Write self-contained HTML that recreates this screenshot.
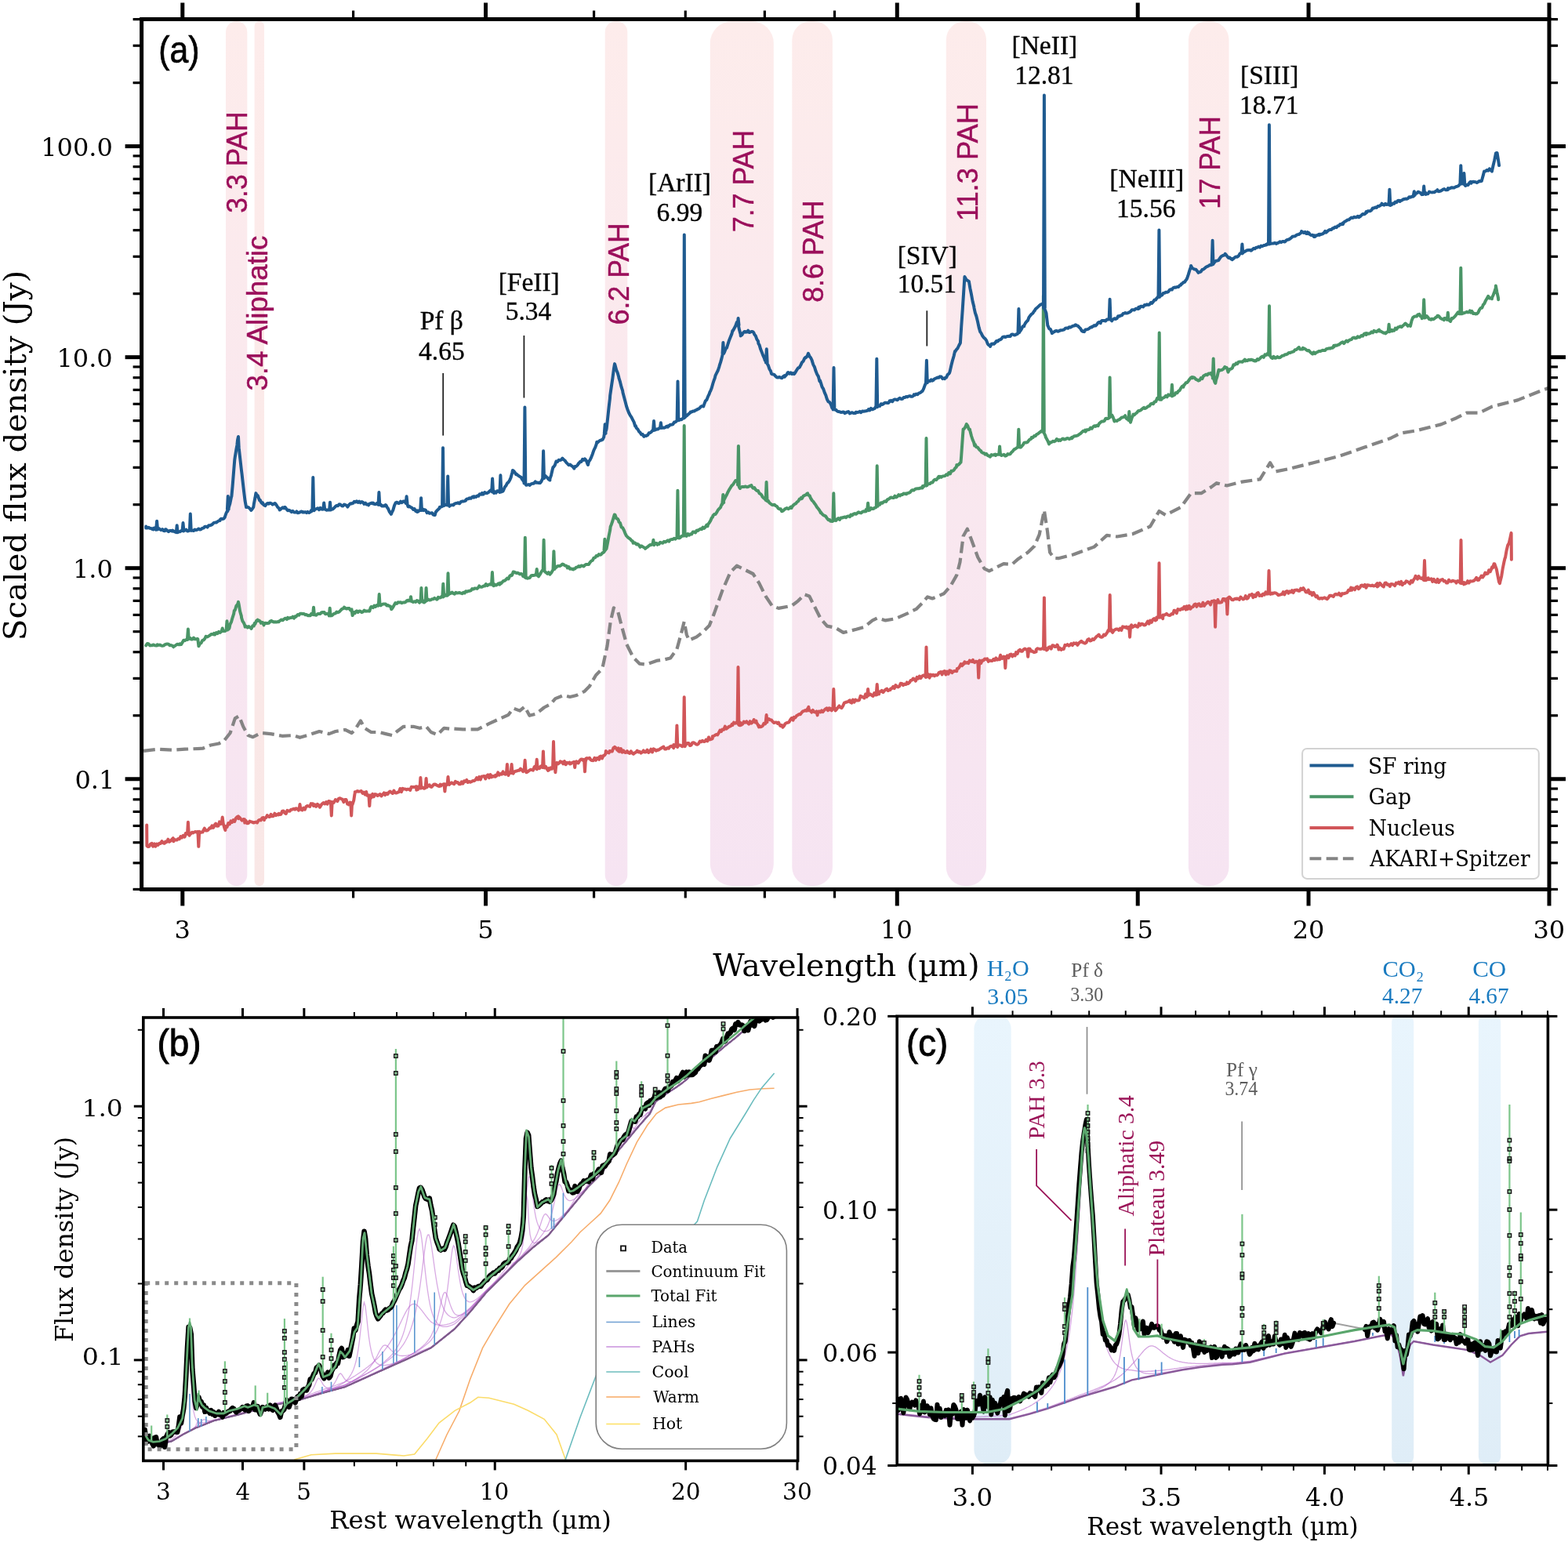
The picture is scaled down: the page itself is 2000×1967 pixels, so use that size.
<!DOCTYPE html>
<html><head><meta charset="utf-8"><style>html,body{margin:0;padding:0;background:#fff;}svg{display:block;}</style></head>
<body><svg xmlns="http://www.w3.org/2000/svg" width="2000" height="1967" viewBox="0 0 2000 1967">
<rect width="2000" height="1967" fill="#fff"/>
<defs><linearGradient id="bandA" x1="0" y1="0" x2="0" y2="1"><stop offset="0" stop-color="#fdeceb"/><stop offset="1" stop-color="#f6e4f2"/></linearGradient><linearGradient id="bandB" x1="0" y1="0" x2="0" y2="1"><stop offset="0" stop-color="#fdeceb"/><stop offset="1" stop-color="#f9e7e6"/></linearGradient></defs>
<rect x="288.0" y="27" width="27.3" height="1103" rx="14" ry="14" fill="url(#bandA)"/>
<rect x="324.6" y="27" width="12.4" height="1103" rx="6" ry="6" fill="url(#bandB)"/>
<rect x="771.7" y="27" width="28.6" height="1103" rx="14" ry="14" fill="url(#bandA)"/>
<rect x="905.8" y="27" width="81.0" height="1103" rx="28" ry="28" fill="url(#bandA)"/>
<rect x="1010.3" y="27" width="51.6" height="1103" rx="24" ry="24" fill="url(#bandA)"/>
<rect x="1206.8" y="27" width="51.2" height="1103" rx="24" ry="24" fill="url(#bandA)"/>
<rect x="1515.9" y="27" width="51.6" height="1103" rx="24" ry="24" fill="url(#bandA)"/>
<defs><clipPath id="clipA"><rect x="180.6" y="24.5" width="1795.4" height="1110.0"/></clipPath></defs><g clip-path="url(#clipA)">
<path d="M183.1 957.8 L200.7 955.7 L221.3 956.7 L235.8 955.7 L258.5 954.7 L268.8 950.5 L279.2 948.5 L285.4 945.4 L293.6 935.0 L299.8 916.4 L305.0 913.3 L310.2 926.8 L316.4 938.1 L322.6 940.2 L332.9 935.0 L345.3 936.1 L359.8 938.8 L374.2 938.1 L382.5 940.8 L394.9 937.1 L407.3 933.0 L419.7 936.1 L427.9 933.0 L440.3 930.9 L448.6 935.0 L452.7 930.9 L460.0 919.5 L465.1 928.8 L473.4 934.0 L483.7 934.0 L492.0 936.1 L500.2 938.1 L506.4 933.0 L514.7 926.8 L527.1 926.8 L535.4 928.8 L543.6 926.8 L549.8 934.0 L558.1 937.1 L566.4 928.8 L574.6 929.9 L576.2 929.3 L590.7 930.4 L609.3 930.4 L623.7 923.1 L648.5 911.8 L654.7 903.5 L663.0 906.6 L669.2 901.4 L675.4 912.8 L683.6 910.7 L694.0 902.5 L702.2 898.3 L708.4 891.1 L718.8 887.0 L727.0 889.0 L735.3 887.0 L745.6 881.8 L751.8 875.6 L760.1 861.2 L768.3 852.9 L774.5 824.0 L778.7 793.0 L782.8 775.4 L788.0 779.5 L793.1 799.2 L799.3 821.9 L807.6 838.4 L815.9 846.7 L824.1 847.7 L838.6 842.6 L846.9 841.5 L855.1 839.5 L863.4 828.1 L869.6 805.4 L872.7 793.0 L875.8 809.5 L878.9 816.7 L888.2 812.6 L896.4 806.4 L904.7 798.1 L910.9 782.6 L921.2 753.7 L931.6 730.0 L939.8 721.7 L950.2 726.9 L960.5 732.0 L968.3 743.9 L976.5 760.4 L984.8 772.8 L993.1 775.9 L1009.6 772.8 L1017.9 766.6 L1026.1 758.3 L1032.3 760.4 L1038.5 772.8 L1046.8 789.3 L1055.0 798.6 L1065.4 800.7 L1075.7 806.9 L1092.2 802.8 L1102.6 799.7 L1112.9 791.4 L1119.1 788.3 L1129.4 791.4 L1141.8 789.3 L1158.3 782.1 L1168.7 776.9 L1176.9 768.7 L1183.1 761.4 L1189.3 763.5 L1203.8 757.3 L1212.1 748.0 L1220.3 733.6 L1224.5 717.0 L1228.6 684.0 L1233.8 674.7 L1238.9 688.1 L1247.2 710.8 L1255.5 725.3 L1261.7 728.4 L1272.0 723.2 L1280.2 719.1 L1290.6 720.1 L1298.8 712.9 L1311.2 704.6 L1319.5 696.4 L1325.7 681.9 L1331.9 650.9 L1336.0 677.8 L1339.1 704.6 L1344.3 711.9 L1350.0 712.2 L1369.5 707.3 L1395.6 697.6 L1411.8 682.9 L1424.8 684.5 L1444.4 681.3 L1467.1 671.5 L1478.5 652.0 L1486.7 656.9 L1506.2 647.1 L1519.2 629.2 L1532.2 629.2 L1545.2 621.1 L1551.8 616.2 L1564.8 619.5 L1584.3 614.6 L1607.1 611.3 L1620.1 590.2 L1626.6 601.6 L1642.9 598.3 L1675.4 590.2 L1708.0 582.0 L1740.5 570.6 L1773.0 559.3 L1786.1 552.7 L1805.6 549.5 L1838.1 541.4 L1857.6 533.2 L1870.7 526.7 L1886.9 526.7 L1903.2 518.6 L1935.7 510.4 L1968.3 497.4 L1982.9 492.5" fill="none" stroke="#848484" stroke-width="4.20" stroke-linejoin="round" stroke-linecap="butt" stroke-dasharray="14.8 6.4"/>
<path d="M187.2 1052.6 L187.2 1054.1 L187.4 1079.1 L188.8 1080.0 L190.4 1079.7 L192.0 1076.5 L193.6 1075.9 L195.2 1079.7 L196.5 1076.5 L196.8 1076.3 L198.4 1079.6 L200.0 1076.5 L201.6 1077.9 L203.2 1075.7 L204.8 1076.0 L206.4 1073.1 L208.0 1075.1 L209.6 1075.8 L211.0 1073.7 L211.2 1074.7 L212.8 1074.0 L214.4 1070.7 L216.0 1073.8 L217.6 1072.7 L219.2 1070.9 L220.8 1069.2 L221.3 1073.3 L222.4 1070.9 L224.0 1071.4 L225.6 1071.5 L227.2 1070.0 L228.8 1070.4 L230.4 1067.1 L232.0 1068.4 L233.6 1065.9 L235.2 1067.7 L235.8 1067.2 L236.8 1062.9 L238.4 1062.6 L240.0 1062.5 L241.6 1065.7 L242.0 1062.9 L243.2 1063.6 L244.8 1061.7 L246.4 1062.4 L248.0 1061.4 L249.6 1060.9 L251.2 1061.8 L252.3 1061.6 L252.8 1063.0 L254.4 1061.4 L256.0 1062.1 L257.6 1061.2 L258.5 1061.5 L259.2 1059.7 L260.8 1056.6 L262.4 1059.5 L264.0 1059.4 L265.6 1058.6 L267.2 1056.3 L268.8 1056.5 L270.4 1053.4 L272.0 1055.9 L273.0 1054.3 L273.6 1052.5 L275.2 1050.6 L276.8 1053.8 L278.4 1053.6 L280.0 1048.3 L281.6 1051.1 L283.2 1048.3 L283.3 1047.0 L284.8 1050.8 L286.4 1056.4 L287.4 1058.9 L288.0 1054.0 L289.6 1054.9 L291.2 1050.0 L292.8 1051.4 L294.4 1047.4 L295.7 1048.6 L296.0 1049.0 L297.6 1046.0 L299.2 1047.9 L300.8 1043.8 L302.4 1042.1 L304.0 1044.1 L304.0 1041.3 L305.6 1042.9 L307.2 1044.8 L308.8 1046.6 L310.4 1045.1 L312.0 1045.3 L312.2 1049.6 L313.6 1046.9 L315.2 1050.3 L316.8 1050.1 L318.4 1047.6 L320.0 1048.2 L321.6 1048.6 L323.2 1049.4 L324.6 1049.2 L324.8 1049.0 L326.4 1048.6 L328.0 1049.5 L329.6 1046.7 L331.2 1045.7 L332.8 1046.4 L334.4 1043.4 L336.0 1043.0 L337.0 1046.0 L337.6 1043.5 L339.2 1043.2 L340.8 1040.1 L342.4 1041.7 L344.0 1042.0 L345.6 1038.8 L347.2 1041.3 L348.8 1041.0 L350.4 1037.7 L352.0 1040.1 L353.6 1038.8 L355.2 1039.4 L355.6 1037.7 L356.8 1039.1 L358.4 1038.8 L360.0 1034.7 L361.6 1034.4 L363.2 1037.0 L364.8 1038.0 L366.4 1033.9 L368.0 1034.5 L369.6 1034.7 L371.2 1032.8 L372.8 1032.6 L374.4 1031.8 L376.0 1031.7 L376.3 1032.7 L377.6 1031.2 L379.2 1031.6 L380.8 1033.6 L382.4 1029.9 L384.0 1032.6 L385.6 1033.4 L386.6 1031.3 L387.2 1030.5 L388.8 1032.6 L390.4 1029.0 L392.0 1028.0 L393.6 1028.4 L395.2 1028.9 L396.8 1025.1 L398.4 1025.4 L399.0 1025.2 L400.0 1028.0 L401.6 1026.4 L403.2 1028.9 L404.8 1025.8 L406.4 1027.1 L407.3 1028.8 L408.0 1029.7 L409.6 1026.9 L411.2 1025.1 L412.8 1024.0 L414.4 1025.4 L416.0 1023.0 L417.6 1025.5 L417.6 1025.7 L419.2 1022.1 L420.8 1022.2 L422.4 1024.5 L424.0 1023.4 L425.6 1023.9 L427.2 1021.3 L427.9 1020.1 L428.8 1020.4 L430.4 1022.1 L432.0 1018.7 L433.6 1018.3 L434.1 1018.4 L435.2 1019.0 L436.8 1019.7 L438.4 1023.1 L440.0 1020.0 L441.6 1020.1 L443.2 1025.6 L444.5 1025.9 L444.8 1026.4 L446.4 1023.6 L448.0 1026.2 L449.6 1026.1 L450.7 1022.6 L451.2 1021.2 L452.7 1011.2 L452.8 1010.3 L454.4 1009.9 L456.0 1009.1 L457.6 1009.7 L459.2 1009.4 L460.8 1009.0 L462.4 1011.9 L464.0 1010.7 L465.6 1013.6 L467.2 1010.1 L468.2 1014.6 L468.8 1013.9 L470.4 1016.0 L472.0 1016.9 L473.4 1017.7 L473.6 1016.0 L475.2 1012.9 L476.8 1016.3 L478.4 1013.1 L480.0 1013.5 L481.6 1015.0 L483.2 1014.0 L484.8 1013.1 L486.4 1015.5 L488.0 1013.5 L489.6 1011.9 L489.9 1011.4 L491.2 1014.1 L492.8 1011.9 L494.4 1013.1 L496.0 1010.6 L497.6 1009.5 L499.2 1010.9 L500.8 1012.0 L502.4 1008.5 L504.0 1011.2 L505.6 1011.6 L507.2 1010.7 L508.8 1010.4 L510.4 1006.0 L510.6 1009.1 L512.0 1010.1 L513.6 1005.8 L515.2 1006.6 L516.8 1006.4 L518.4 1007.4 L520.0 1006.7 L521.6 1006.7 L523.2 1008.0 L524.8 1003.8 L526.4 1003.9 L528.0 1004.0 L529.6 1003.7 L531.2 1003.2 L531.2 1007.7 L532.8 1007.1 L534.4 1003.3 L536.0 1005.4 L537.6 1004.5 L539.2 1004.4 L539.5 1004.6 L540.8 1005.8 L542.4 1005.1 L544.0 1003.5 L545.6 1002.3 L547.2 1002.6 L547.8 1001.4 L548.8 1003.4 L550.4 1004.0 L552.0 1002.1 L553.6 1000.4 L555.2 1000.6 L556.8 1001.4 L558.4 1002.3 L560.0 1003.0 L561.6 1000.7 L562.2 1002.7 L563.2 1001.7 L564.8 1000.6 L566.4 1000.1 L568.0 1000.5 L569.6 1001.3 L571.2 999.7 L572.8 1000.9 L574.4 999.5 L576.0 998.2 L577.6 999.5 L579.2 1000.1 L580.8 996.8 L582.4 998.3 L584.0 998.1 L585.6 1000.2 L587.2 1000.3 L588.8 997.3 L590.4 999.7 L590.7 999.1 L592.0 996.2 L593.6 996.9 L595.2 994.9 L596.8 998.0 L598.4 996.9 L600.0 997.7 L601.6 997.0 L603.2 996.0 L604.8 996.0 L606.4 994.9 L608.0 992.2 L609.6 994.3 L611.2 991.1 L611.3 991.8 L612.8 994.5 L614.4 990.5 L616.0 990.3 L617.6 990.0 L619.2 993.5 L620.8 989.6 L622.4 988.4 L624.0 992.1 L625.6 988.1 L627.2 991.3 L628.8 990.0 L630.4 990.5 L632.0 990.7 L632.0 988.8 L633.6 989.5 L635.2 985.4 L636.8 988.7 L638.4 987.1 L640.0 987.7 L641.6 984.4 L643.2 987.2 L644.8 987.8 L646.4 983.1 L646.5 984.4 L648.0 987.2 L648.5 989.0 L649.6 985.7 L651.2 984.8 L652.8 984.7 L654.4 986.0 L654.7 986.6 L656.0 984.4 L657.6 983.8 L659.2 983.5 L660.8 982.8 L662.4 982.7 L664.0 980.5 L665.6 982.2 L667.2 984.1 L668.8 980.8 L669.2 982.4 L670.4 981.3 L671.2 985.2 L672.0 985.2 L673.6 984.1 L675.2 982.7 L676.8 981.8 L678.4 982.0 L680.0 982.6 L681.6 978.2 L683.2 977.2 L683.6 980.3 L684.8 981.2 L686.4 979.2 L687.8 978.8 L688.0 980.2 L689.6 977.5 L691.2 977.9 L692.8 977.6 L694.4 979.5 L696.0 978.2 L696.0 977.8 L697.6 980.8 L699.2 983.0 L700.2 980.1 L700.8 981.8 L702.4 979.4 L704.0 980.7 L705.6 978.5 L707.2 976.0 L708.8 974.8 L710.4 972.9 L712.0 974.3 L713.6 972.9 L714.6 971.3 L715.2 972.2 L716.8 972.0 L718.4 974.3 L720.0 971.1 L721.6 975.3 L723.2 972.8 L724.8 973.4 L726.4 972.7 L727.0 974.6 L728.0 974.4 L729.6 972.9 L731.2 972.3 L732.8 973.3 L734.4 973.7 L735.3 971.4 L736.0 972.8 L737.6 973.5 L739.2 970.5 L740.8 968.8 L742.4 968.4 L744.0 970.3 L745.6 969.6 L745.6 971.1 L747.2 970.5 L747.7 967.5 L748.8 967.1 L750.4 967.4 L752.0 966.9 L753.6 969.4 L755.2 970.1 L756.8 970.2 L758.4 966.9 L760.0 969.8 L761.6 967.0 L763.2 967.4 L764.2 968.9 L764.8 965.3 L766.4 964.6 L768.0 967.5 L769.6 964.0 L770.4 963.9 L771.2 963.4 L772.5 961.4 L772.8 958.0 L774.4 959.7 L776.0 960.2 L776.6 960.4 L777.6 958.0 L779.2 958.3 L780.8 958.6 L782.4 954.1 L782.8 954.5 L784.0 952.8 L785.6 954.1 L787.2 956.6 L788.8 954.4 L789.0 958.3 L790.4 958.8 L792.0 955.1 L793.6 959.7 L795.2 957.3 L796.8 959.7 L798.4 960.0 L800.0 958.1 L801.4 960.3 L801.6 960.2 L803.2 961.0 L804.8 958.3 L806.4 960.7 L808.0 961.8 L809.6 960.3 L811.2 959.6 L812.8 957.5 L814.4 959.4 L816.0 958.7 L817.6 960.6 L817.9 960.4 L819.2 959.6 L820.8 957.4 L822.4 959.5 L824.0 959.2 L825.6 956.7 L827.2 960.0 L828.8 958.6 L830.4 955.7 L832.0 959.5 L833.6 955.3 L835.2 956.0 L836.8 957.7 L838.4 956.9 L838.6 956.6 L840.0 956.8 L841.6 955.5 L843.2 954.5 L844.8 953.5 L846.4 952.6 L848.0 955.6 L849.6 955.4 L851.2 954.1 L852.8 954.7 L854.4 952.5 L856.0 951.7 L857.6 952.0 L859.2 954.1 L859.3 949.9 L860.8 952.1 L862.4 950.6 L864.0 953.0 L865.6 950.7 L867.2 950.4 L867.5 950.7 L868.8 951.2 L870.4 952.2 L872.0 949.9 L873.6 952.2 L875.2 948.3 L875.8 949.0 L876.8 948.0 L878.4 947.9 L880.0 951.0 L881.6 950.5 L883.2 947.5 L884.8 947.3 L886.4 948.2 L888.0 949.6 L889.6 949.8 L890.2 949.3 L891.2 948.3 L892.8 945.6 L894.4 946.3 L896.0 944.8 L897.6 946.0 L899.2 945.7 L900.6 943.5 L900.8 943.6 L902.4 945.3 L904.0 940.5 L905.6 943.4 L907.2 942.8 L908.8 942.1 L908.8 939.3 L910.4 938.9 L912.0 937.9 L913.6 936.9 L915.2 937.4 L916.8 934.8 L918.4 931.6 L920.0 933.2 L921.2 930.5 L921.6 930.9 L923.2 930.8 L924.8 926.6 L926.4 929.7 L928.0 928.5 L929.6 927.0 L931.2 926.5 L932.8 925.5 L933.6 923.8 L934.4 925.0 L936.0 921.5 L937.6 922.7 L939.2 922.4 L939.8 921.0 L940.8 922.1 L942.4 924.8 L944.0 925.3 L944.0 921.5 L945.6 924.6 L947.2 923.5 L948.8 920.5 L950.4 921.8 L952.0 921.0 L952.2 920.2 L953.6 922.1 L955.2 923.7 L956.8 920.2 L958.4 922.6 L960.0 921.3 L961.6 918.1 L963.2 921.3 L964.6 919.7 L964.8 921.7 L966.4 923.9 L968.0 927.3 L968.3 925.8 L969.6 927.3 L971.2 927.0 L972.8 925.8 L974.4 922.7 L976.0 923.4 L977.6 921.1 L979.2 918.3 L980.7 917.1 L980.8 917.3 L982.4 918.3 L984.0 918.5 L985.6 920.6 L987.2 922.0 L988.8 921.6 L990.4 921.4 L992.0 923.0 L993.1 921.5 L993.6 922.9 L995.2 925.9 L996.8 925.8 L997.2 925.0 L998.4 927.8 L1000.0 925.9 L1001.6 923.1 L1003.2 922.1 L1004.8 921.8 L1006.4 921.2 L1008.0 918.3 L1009.6 916.1 L1011.2 916.1 L1011.6 918.7 L1012.8 914.8 L1014.4 915.4 L1016.0 913.1 L1017.6 912.2 L1019.2 911.0 L1020.8 911.2 L1022.4 909.1 L1024.0 907.4 L1025.6 906.8 L1027.2 906.1 L1028.8 906.8 L1030.2 903.7 L1030.4 903.6 L1032.0 906.3 L1033.6 906.6 L1035.2 908.6 L1036.8 905.9 L1038.4 908.2 L1040.0 908.7 L1041.6 907.4 L1042.6 912.4 L1043.2 908.5 L1044.8 907.2 L1046.4 908.5 L1048.0 906.4 L1049.6 908.1 L1051.2 906.1 L1052.8 904.4 L1054.4 903.4 L1056.0 906.2 L1057.6 903.3 L1059.2 905.3 L1059.2 903.7 L1060.8 906.3 L1062.4 903.4 L1064.0 903.4 L1065.4 903.7 L1065.6 906.4 L1067.2 904.6 L1068.8 902.4 L1070.4 900.4 L1072.0 902.5 L1073.6 903.1 L1075.2 900.4 L1076.8 896.7 L1078.4 896.0 L1080.0 895.5 L1081.6 895.1 L1083.2 893.7 L1084.0 893.4 L1084.8 896.0 L1086.4 896.6 L1088.0 892.5 L1089.6 895.7 L1091.2 892.6 L1092.8 893.6 L1094.4 893.5 L1096.0 893.0 L1097.6 887.8 L1099.2 888.5 L1100.8 889.4 L1102.4 890.5 L1104.0 885.5 L1104.6 886.3 L1105.6 888.9 L1107.2 885.0 L1108.8 886.1 L1110.4 885.6 L1112.0 887.0 L1113.6 888.0 L1115.2 884.0 L1116.8 886.5 L1117.0 886.5 L1118.4 886.3 L1120.0 884.1 L1121.2 885.3 L1121.6 882.4 L1123.2 882.2 L1124.8 880.8 L1126.4 883.1 L1128.0 881.2 L1129.6 879.6 L1131.2 878.7 L1132.8 881.0 L1134.4 880.0 L1135.6 880.1 L1136.0 878.4 L1137.6 878.2 L1139.2 875.9 L1140.8 878.1 L1142.4 874.0 L1144.0 875.6 L1145.6 876.4 L1147.2 875.3 L1148.8 871.8 L1150.4 871.9 L1152.0 874.2 L1153.6 872.6 L1155.2 873.1 L1156.3 872.7 L1156.8 870.4 L1158.4 872.0 L1160.0 870.6 L1161.6 868.0 L1163.2 867.6 L1164.8 865.5 L1166.4 866.5 L1168.0 868.7 L1169.6 863.8 L1171.2 865.6 L1172.8 862.7 L1172.8 862.5 L1174.4 865.1 L1176.0 862.7 L1177.6 861.5 L1179.2 861.7 L1180.8 863.9 L1182.4 863.3 L1184.0 860.1 L1184.2 861.2 L1185.6 864.6 L1187.2 860.5 L1188.8 861.8 L1190.4 860.7 L1192.0 862.2 L1193.6 860.9 L1195.2 861.5 L1196.8 859.8 L1197.6 857.9 L1198.4 857.7 L1200.0 857.0 L1201.6 860.5 L1203.2 856.7 L1204.8 856.1 L1206.4 860.5 L1208.0 856.5 L1209.6 859.7 L1211.2 855.4 L1212.1 857.2 L1212.8 855.7 L1214.4 858.2 L1216.0 856.5 L1217.6 856.0 L1219.2 856.0 L1220.3 856.2 L1220.8 853.0 L1222.4 852.7 L1224.0 850.3 L1225.6 847.1 L1227.2 849.1 L1228.6 846.5 L1228.8 847.6 L1230.4 844.3 L1232.0 845.7 L1233.6 845.0 L1235.2 846.1 L1236.8 842.5 L1238.4 843.6 L1240.0 844.0 L1241.0 841.8 L1241.6 844.2 L1243.2 845.1 L1244.8 843.6 L1246.4 844.7 L1248.0 844.5 L1249.3 842.5 L1249.6 843.1 L1251.2 846.1 L1252.8 842.4 L1254.4 842.6 L1256.0 840.5 L1257.6 840.9 L1259.2 840.3 L1260.8 843.8 L1262.4 842.5 L1264.0 842.9 L1265.6 843.1 L1267.2 840.9 L1268.8 842.2 L1269.9 840.0 L1270.4 839.3 L1272.0 841.7 L1273.6 841.2 L1275.2 841.2 L1276.8 838.6 L1278.4 839.8 L1280.0 837.7 L1281.6 840.4 L1283.2 839.7 L1284.8 836.3 L1286.4 839.3 L1288.0 835.2 L1289.6 834.5 L1291.2 837.4 L1292.8 835.0 L1294.4 835.8 L1294.7 836.4 L1296.0 832.1 L1297.6 834.0 L1299.2 830.1 L1300.8 829.2 L1300.9 828.7 L1302.4 830.7 L1304.0 830.7 L1305.6 828.4 L1307.2 827.5 L1308.8 828.5 L1310.4 829.1 L1312.0 827.4 L1313.6 827.8 L1315.2 830.8 L1316.8 830.5 L1318.4 831.9 L1320.0 831.9 L1321.6 831.4 L1321.6 828.8 L1323.2 827.3 L1324.8 827.6 L1326.4 827.9 L1328.0 827.7 L1329.6 827.3 L1331.2 825.9 L1331.9 828.2 L1332.8 825.6 L1334.4 827.1 L1335.0 829.4 L1336.0 828.7 L1337.6 825.8 L1339.2 825.2 L1340.8 827.6 L1342.4 823.3 L1344.0 823.5 L1345.6 825.1 L1347.2 824.8 L1348.4 822.7 L1348.8 822.9 L1350.0 825.9 L1350.4 828.6 L1352.0 826.7 L1353.6 828.8 L1355.2 827.5 L1356.8 828.0 L1358.4 822.9 L1360.0 823.3 L1361.6 822.0 L1363.2 823.7 L1364.8 822.8 L1366.4 821.0 L1368.0 823.1 L1369.6 820.4 L1371.2 821.1 L1372.8 820.4 L1374.4 822.8 L1376.0 820.4 L1377.6 819.2 L1379.2 817.8 L1380.8 819.3 L1382.4 819.9 L1382.5 820.1 L1384.0 820.7 L1385.6 819.6 L1387.2 816.2 L1388.8 815.0 L1390.4 817.5 L1392.0 817.1 L1393.6 815.1 L1395.2 816.1 L1396.8 814.1 L1398.4 812.2 L1400.0 811.0 L1401.6 809.6 L1403.2 812.2 L1404.8 812.8 L1406.4 812.3 L1408.0 809.5 L1408.6 810.3 L1409.6 810.5 L1411.2 808.4 L1412.8 805.7 L1413.5 804.1 L1414.4 804.7 L1416.0 802.9 L1417.6 803.0 L1418.3 805.5 L1419.2 806.8 L1420.8 804.2 L1422.4 803.1 L1424.0 802.4 L1425.6 802.5 L1427.2 803.9 L1428.8 801.7 L1430.4 803.8 L1432.0 799.4 L1433.6 799.8 L1435.2 800.5 L1436.8 799.5 L1437.9 801.4 L1438.4 801.3 L1440.0 801.8 L1441.6 800.3 L1443.2 797.3 L1444.4 800.1 L1444.8 799.8 L1446.4 799.0 L1448.0 797.5 L1449.6 799.2 L1451.2 799.8 L1452.8 795.3 L1454.4 797.7 L1456.0 795.7 L1457.6 796.0 L1459.2 797.4 L1460.8 797.3 L1462.4 795.2 L1464.0 792.5 L1465.6 795.7 L1467.2 791.6 L1467.2 792.5 L1468.8 793.8 L1470.4 790.3 L1472.0 789.1 L1473.6 791.5 L1475.2 790.6 L1475.3 787.4 L1476.8 787.5 L1478.4 786.6 L1480.0 785.5 L1481.6 785.8 L1483.2 789.1 L1483.4 784.6 L1484.8 784.8 L1486.4 784.0 L1488.0 782.8 L1489.6 784.4 L1491.2 784.9 L1492.8 784.7 L1494.4 783.0 L1496.0 783.4 L1497.6 778.7 L1499.2 779.4 L1500.8 782.2 L1502.4 777.1 L1504.0 777.5 L1505.6 778.0 L1507.2 776.3 L1508.8 777.0 L1510.4 773.9 L1512.0 774.2 L1512.7 777.6 L1513.6 773.3 L1515.2 776.8 L1516.8 772.8 L1518.4 776.6 L1520.0 774.7 L1521.6 774.2 L1523.2 771.4 L1524.8 770.6 L1526.4 773.8 L1528.0 770.6 L1529.6 770.3 L1531.2 773.2 L1532.8 773.1 L1534.4 768.7 L1536.0 772.9 L1537.6 770.5 L1539.2 769.4 L1540.8 767.7 L1542.4 768.8 L1544.0 771.5 L1545.2 767.7 L1545.6 766.9 L1547.2 766.6 L1548.8 766.2 L1550.4 767.0 L1552.0 769.5 L1553.4 765.0 L1553.6 765.5 L1555.2 768.8 L1556.8 768.6 L1558.4 768.1 L1560.0 764.0 L1561.6 764.1 L1563.2 766.6 L1564.8 763.8 L1564.8 764.9 L1566.4 763.0 L1568.0 761.5 L1569.6 763.1 L1571.2 765.1 L1572.8 765.3 L1574.4 764.2 L1576.0 763.7 L1577.6 764.1 L1577.8 763.6 L1579.2 763.8 L1580.8 765.0 L1582.4 761.5 L1584.0 763.1 L1585.6 764.5 L1587.2 763.7 L1588.8 760.1 L1590.4 763.7 L1592.0 762.7 L1593.6 759.1 L1594.1 759.5 L1595.2 758.9 L1596.8 757.9 L1598.4 762.2 L1600.0 759.0 L1601.6 761.0 L1603.2 756.9 L1604.8 756.1 L1606.4 760.0 L1608.0 759.3 L1609.6 760.0 L1610.3 758.3 L1611.2 757.5 L1612.8 758.7 L1614.4 755.3 L1616.0 757.6 L1617.6 757.1 L1619.2 755.6 L1620.8 757.9 L1622.4 756.5 L1623.3 757.4 L1624.0 756.7 L1625.6 756.3 L1627.2 756.4 L1628.8 757.4 L1630.4 759.2 L1632.0 758.8 L1633.6 758.3 L1635.2 758.1 L1636.8 755.2 L1638.4 758.5 L1640.0 754.8 L1641.6 754.0 L1642.9 755.8 L1643.2 756.8 L1644.8 754.4 L1646.4 755.4 L1648.0 753.1 L1649.6 756.1 L1651.2 753.0 L1652.8 752.7 L1654.4 752.4 L1656.0 753.7 L1657.6 753.8 L1659.1 751.0 L1659.2 750.6 L1660.8 752.1 L1662.4 750.0 L1664.0 752.5 L1665.6 755.2 L1667.2 755.5 L1668.8 752.6 L1670.4 757.2 L1672.0 755.5 L1673.6 759.1 L1675.2 756.6 L1675.4 756.0 L1676.8 758.6 L1678.4 761.3 L1680.0 760.1 L1681.6 763.4 L1683.2 763.7 L1684.8 763.0 L1685.2 762.9 L1686.4 763.7 L1688.0 762.8 L1689.6 762.3 L1691.2 763.4 L1692.8 764.1 L1694.4 762.3 L1696.0 759.8 L1697.6 759.8 L1699.2 760.2 L1700.8 761.1 L1702.4 758.4 L1704.0 757.8 L1705.6 758.6 L1707.2 758.1 L1708.0 756.7 L1708.8 758.8 L1710.4 759.9 L1712.0 757.1 L1713.6 757.4 L1715.2 757.0 L1716.8 756.3 L1718.4 755.8 L1720.0 752.7 L1721.6 753.1 L1723.2 749.5 L1724.2 752.8 L1724.8 750.2 L1726.4 750.4 L1728.0 752.3 L1729.6 749.0 L1731.2 748.3 L1732.8 751.2 L1734.4 749.8 L1736.0 747.0 L1737.6 746.5 L1739.2 747.9 L1740.8 745.9 L1742.4 749.8 L1744.0 746.3 L1745.6 746.5 L1747.2 746.9 L1748.8 747.2 L1750.4 746.6 L1752.0 747.4 L1753.6 747.3 L1755.2 745.9 L1756.8 744.0 L1756.8 748.4 L1758.4 747.0 L1760.0 743.9 L1761.6 745.7 L1763.2 747.3 L1764.8 748.5 L1766.4 743.8 L1768.0 743.5 L1769.6 745.9 L1771.2 745.6 L1772.8 748.0 L1773.0 747.6 L1774.4 745.0 L1776.0 745.2 L1777.6 745.8 L1779.2 747.1 L1780.8 743.5 L1782.4 744.3 L1784.0 742.6 L1785.6 745.1 L1787.2 741.9 L1788.8 746.2 L1790.4 743.9 L1792.0 744.0 L1793.6 741.3 L1795.2 741.9 L1796.8 742.9 L1798.4 744.6 L1799.1 742.9 L1800.0 740.7 L1801.6 742.6 L1803.2 739.4 L1804.8 737.1 L1805.6 734.7 L1806.4 735.4 L1808.0 738.6 L1809.6 735.1 L1811.2 737.3 L1812.8 738.0 L1814.4 737.0 L1815.3 739.2 L1816.0 740.1 L1817.6 740.2 L1819.2 740.0 L1820.8 737.8 L1821.8 737.3 L1822.4 739.2 L1824.0 738.8 L1825.6 738.3 L1827.2 741.9 L1828.8 738.8 L1830.4 742.0 L1832.0 742.7 L1833.6 738.8 L1835.2 742.9 L1836.8 740.5 L1838.1 739.7 L1838.4 739.6 L1840.0 739.0 L1841.6 741.4 L1843.2 741.0 L1844.8 743.4 L1846.4 743.5 L1848.0 739.7 L1849.6 741.6 L1851.2 741.7 L1852.8 740.7 L1854.4 741.2 L1856.0 741.4 L1857.6 743.7 L1857.7 741.9 L1859.2 741.1 L1860.8 741.9 L1862.4 743.3 L1864.0 744.1 L1865.6 742.8 L1867.2 745.3 L1867.4 742.9 L1868.8 744.8 L1870.4 743.9 L1872.0 741.2 L1873.6 743.6 L1875.2 741.2 L1876.8 741.4 L1878.4 741.2 L1880.0 740.8 L1881.6 739.3 L1883.2 736.9 L1884.8 740.0 L1886.4 739.8 L1886.9 737.8 L1888.0 737.4 L1889.6 734.5 L1891.2 736.4 L1892.8 734.1 L1894.4 730.5 L1896.0 732.2 L1897.6 731.7 L1899.2 727.3 L1900.8 729.2 L1902.4 725.4 L1903.2 723.2 L1904.0 724.3 L1905.6 719.2 L1906.5 719.5 L1907.2 721.8 L1908.8 725.9 L1910.4 734.4 L1912.0 742.4 L1913.0 744.2 L1913.6 741.2 L1915.2 734.9 L1916.8 724.8 L1918.4 717.0 L1919.5 712.2 L1920.0 711.3 L1921.6 702.2 L1923.2 695.5 L1924.8 692.8 L1926.4 685.7 L1927.6 679.9 L1927.9 713.8 M239.0 1063.9 L239.9 1048.8 L240.8 1063.9 M252.4 1060.8 L253.3 1079.8 L254.2 1060.8 M282.8 1049.6 L283.7 1042.6 L284.6 1049.6 M381.6 1032.2 L382.5 1026.0 L383.4 1032.2 M421.9 1022.9 L422.8 1040.5 L423.7 1022.9 M447.3 1024.0 L448.2 1040.5 L449.1 1024.0 M470.4 1014.5 L471.3 1028.1 L472.2 1014.5 M535.5 1005.4 L536.4 991.9 L537.3 1005.4 M542.7 1004.3 L543.6 993.0 L544.5 1004.3 M566.5 1000.6 L567.4 1009.5 L568.3 1000.6 M570.6 1000.1 L571.5 990.9 L572.4 1000.1 M646.0 985.7 L646.9 975.0 L647.8 985.7 M651.7 986.0 L652.6 975.0 L653.5 986.0 M668.7 981.8 L669.6 969.8 L670.5 981.8 M683.8 979.1 L684.7 968.8 L685.6 979.1 M692.0 979.1 L692.9 958.4 L693.8 979.1 M705.1 977.9 L706.0 946.0 L706.9 977.9 M707.5 976.4 L708.4 985.3 L709.3 976.4 M732.3 972.1 L733.2 979.1 L734.1 972.1 M745.1 968.8 L746.0 984.3 L746.9 968.8 M862.5 951.7 L863.4 925.4 L864.3 951.7 M871.8 950.6 L872.7 889.2 L873.6 950.6 M940.6 922.1 L941.5 851.0 L942.4 922.1 M976.7 921.2 L977.6 912.1 L978.5 921.2 M1030.4 906.3 L1031.3 901.8 L1032.2 906.3 M1062.4 904.6 L1063.3 879.1 L1064.2 904.6 M1106.2 886.9 L1107.1 879.1 L1108.0 886.9 M1117.8 884.5 L1118.7 872.9 L1119.6 884.5 M1180.6 863.1 L1181.5 825.4 L1182.4 863.1 M1247.3 844.0 L1248.2 864.6 L1249.1 844.0 M1275.2 838.8 L1276.1 835.7 L1277.0 838.8 M1281.4 837.8 L1282.3 852.2 L1283.2 837.8 M1310.3 829.5 L1311.2 837.8 L1312.1 829.5 M1331.0 826.4 L1331.9 762.4 L1332.8 826.4 M1414.8 804.6 L1415.7 759.0 L1416.6 804.6 M1440.2 799.7 L1441.1 812.7 L1442.0 799.7 M1477.6 787.7 L1478.5 718.3 L1479.4 787.7 M1549.2 767.8 L1550.1 799.7 L1551.0 767.8 M1564.5 763.9 L1565.4 783.4 L1566.3 763.9 M1617.6 757.4 L1618.5 728.1 L1619.4 757.4 M1816.1 738.3 L1817.0 715.1 L1817.9 738.3 M1862.6 743.7 L1863.5 689.0 L1864.4 743.7" fill="none" stroke="#d15659" stroke-width="4.00" stroke-linejoin="round" stroke-linecap="round"/>
<path d="M186.2 823.4 L186.2 823.4 L187.8 821.1 L189.4 821.3 L191.0 823.4 L192.6 823.3 L194.2 823.2 L195.8 822.4 L197.4 823.3 L199.0 823.4 L200.6 823.4 L200.7 822.3 L202.2 822.9 L203.8 822.6 L205.4 823.4 L207.0 823.9 L208.6 823.6 L210.2 822.4 L211.0 822.0 L211.8 821.7 L213.4 821.4 L215.0 821.7 L216.6 823.2 L218.2 823.1 L219.8 823.6 L221.3 825.3 L221.4 824.3 L223.0 824.0 L224.6 822.7 L226.2 821.8 L227.8 822.2 L229.4 821.3 L229.6 822.2 L231.0 822.1 L232.6 819.6 L234.2 816.7 L235.8 817.1 L235.8 816.8 L237.4 816.1 L239.0 816.0 L240.6 815.1 L242.0 814.7 L242.2 813.6 L243.8 815.4 L245.4 815.5 L247.0 813.5 L248.6 815.3 L250.2 815.3 L251.8 814.8 L252.3 815.0 L253.3 823.2 L253.4 824.3 L255.0 821.2 L256.6 820.1 L258.2 816.9 L259.8 816.4 L261.4 814.5 L262.6 811.8 L263.0 811.9 L264.6 812.4 L266.2 811.4 L267.8 810.3 L269.4 809.1 L271.0 808.9 L272.6 809.4 L273.0 807.9 L274.2 809.4 L275.8 807.0 L277.4 808.1 L279.0 805.8 L280.6 806.9 L282.2 805.6 L283.3 804.6 L283.8 804.7 L285.4 805.0 L287.0 804.9 L288.5 804.1 L288.6 803.7 L290.2 802.9 L291.8 802.5 L292.6 800.8 L293.4 796.7 L295.0 793.4 L296.6 787.8 L298.2 782.9 L298.8 779.0 L299.8 778.3 L301.4 772.9 L303.0 771.0 L304.0 767.9 L304.6 770.7 L306.2 780.1 L307.8 785.6 L308.1 788.2 L309.4 792.3 L311.0 794.7 L312.2 797.6 L312.6 799.6 L314.2 799.0 L315.8 800.4 L317.4 799.1 L319.0 800.6 L320.5 800.6 L320.6 801.9 L322.2 798.3 L323.8 798.6 L324.6 795.1 L325.4 796.0 L327.0 792.1 L328.6 790.7 L328.8 792.0 L330.2 791.4 L331.8 792.6 L332.9 794.8 L333.4 794.2 L335.0 794.1 L336.6 797.5 L337.0 795.4 L338.2 794.7 L339.8 794.9 L341.4 795.0 L343.0 794.8 L344.6 792.5 L345.3 792.8 L346.2 791.9 L347.8 792.9 L349.4 793.6 L351.0 793.3 L352.6 793.6 L354.2 793.1 L355.6 793.2 L355.8 792.7 L357.4 791.6 L359.0 790.5 L360.6 791.2 L362.2 789.8 L363.8 788.7 L365.4 789.2 L365.9 790.1 L367.0 787.9 L368.6 788.8 L370.2 788.0 L371.8 788.0 L373.4 786.7 L375.0 788.6 L376.3 786.4 L376.6 787.2 L378.2 785.9 L379.8 784.0 L381.4 784.7 L382.5 783.0 L383.0 782.8 L384.6 782.7 L386.2 783.1 L387.8 782.9 L389.4 784.3 L391.0 784.0 L392.6 785.3 L394.2 785.1 L395.8 785.3 L396.9 783.2 L397.4 783.8 L399.0 783.3 L400.6 784.2 L402.2 784.3 L403.1 784.8 L403.8 784.4 L405.4 782.9 L407.0 783.0 L408.6 782.9 L410.2 781.2 L411.8 781.0 L413.4 781.7 L413.5 780.9 L415.0 783.3 L416.6 782.8 L418.2 783.2 L419.8 784.2 L421.4 785.1 L421.7 785.3 L423.0 785.3 L424.6 784.1 L426.2 782.7 L427.8 782.6 L429.4 780.5 L431.0 781.3 L432.6 780.5 L434.2 778.9 L435.8 777.1 L437.4 776.3 L438.3 775.9 L439.0 774.6 L440.6 775.9 L442.2 776.6 L443.8 775.9 L445.4 776.0 L447.0 778.3 L448.6 777.4 L448.6 777.9 L449.6 785.1 L450.2 783.7 L451.8 781.2 L452.7 782.2 L453.4 780.5 L455.0 779.4 L456.6 781.1 L458.2 779.4 L459.8 779.8 L461.4 781.1 L463.0 780.5 L464.6 778.6 L466.2 779.7 L467.8 779.5 L469.4 779.5 L471.0 778.7 L471.3 779.7 L472.6 775.3 L473.4 774.1 L474.2 774.1 L475.8 775.2 L477.4 772.5 L479.0 774.0 L480.6 772.0 L482.2 772.7 L483.8 771.8 L485.4 771.6 L485.8 772.3 L487.0 771.3 L488.6 770.5 L490.2 770.5 L491.8 770.4 L493.4 772.5 L495.0 772.0 L496.1 772.8 L496.6 772.9 L498.2 773.8 L499.2 777.2 L499.8 776.7 L501.4 774.3 L503.0 771.4 L504.4 769.1 L504.6 769.3 L506.2 770.0 L507.8 768.2 L509.4 768.6 L511.0 768.2 L512.6 769.2 L514.2 768.5 L515.8 768.5 L517.4 768.0 L519.0 766.2 L520.6 765.7 L520.9 766.4 L522.2 765.8 L523.8 766.4 L525.4 767.2 L527.0 768.0 L528.6 767.2 L530.2 767.9 L531.8 766.1 L533.4 766.9 L535.0 768.8 L535.4 766.5 L536.6 767.2 L538.2 766.3 L539.8 766.3 L540.5 768.5 L541.4 768.4 L543.0 766.9 L544.6 764.8 L545.7 764.8 L546.2 764.6 L547.8 765.5 L549.4 765.2 L551.0 764.3 L552.6 764.3 L554.2 762.9 L555.8 763.8 L557.4 764.6 L558.1 764.0 L559.0 761.9 L560.6 762.4 L562.2 762.2 L563.8 760.4 L565.4 761.5 L567.0 759.6 L568.4 759.7 L568.6 758.8 L570.2 759.8 L571.8 758.6 L573.4 757.4 L573.6 756.1 L575.0 756.9 L576.6 755.6 L578.2 757.0 L579.8 757.7 L581.4 755.7 L583.0 756.5 L584.6 756.3 L586.2 756.0 L587.8 756.7 L589.4 757.2 L590.7 756.5 L591.0 755.7 L592.6 756.5 L594.2 754.2 L595.8 754.8 L597.4 754.0 L599.0 753.7 L600.6 753.4 L602.2 751.1 L603.8 751.6 L605.4 750.5 L607.0 750.6 L608.6 750.9 L610.2 749.4 L611.3 747.4 L611.8 748.4 L613.4 748.7 L615.0 748.7 L616.6 747.6 L618.2 747.6 L619.8 745.0 L621.4 747.0 L623.0 746.0 L624.6 745.2 L625.8 745.6 L626.2 745.8 L627.8 744.5 L629.4 747.2 L629.9 747.3 L631.0 745.5 L632.6 746.6 L634.2 745.8 L635.8 744.3 L637.4 745.6 L638.2 743.6 L639.0 744.3 L640.6 742.6 L642.2 741.0 L643.8 740.7 L645.4 739.3 L647.0 737.5 L648.6 738.4 L650.2 734.8 L651.8 733.5 L652.6 734.2 L653.4 733.2 L654.7 729.5 L655.0 729.9 L656.6 729.8 L658.2 731.0 L659.8 730.7 L661.4 731.2 L663.0 732.5 L664.6 731.9 L666.2 732.7 L667.1 734.9 L667.8 733.7 L669.4 736.3 L671.0 737.3 L672.3 737.1 L672.6 737.7 L674.2 737.4 L675.8 737.0 L677.4 734.5 L679.0 734.0 L680.6 734.0 L682.2 733.6 L683.6 732.6 L683.8 731.9 L685.4 733.8 L687.0 735.3 L687.8 733.9 L688.6 733.0 L690.2 730.0 L691.8 727.6 L692.9 727.0 L693.4 726.1 L695.0 729.1 L696.0 730.0 L696.6 730.4 L698.2 731.9 L699.8 730.2 L701.4 732.7 L702.2 731.6 L703.0 731.0 L704.3 728.8 L704.6 728.1 L706.2 725.8 L707.8 725.4 L708.4 722.8 L709.4 723.8 L711.0 722.3 L712.6 721.9 L714.2 721.9 L715.8 721.0 L716.7 720.1 L717.4 719.6 L719.0 720.2 L720.6 721.6 L722.2 721.8 L722.9 722.2 L723.8 724.5 L725.4 723.1 L727.0 725.8 L728.6 725.4 L730.2 726.1 L731.2 726.5 L731.8 725.4 L733.4 725.5 L735.0 723.7 L736.6 723.4 L738.2 722.0 L739.4 722.9 L739.8 722.9 L741.4 721.5 L743.0 721.8 L744.6 722.5 L746.2 720.7 L747.8 719.9 L749.4 720.1 L749.8 719.9 L751.0 719.9 L752.6 717.3 L754.2 715.5 L755.8 714.9 L757.4 711.7 L759.0 711.4 L760.1 709.8 L760.6 708.9 L762.2 709.2 L763.8 707.1 L765.4 707.8 L767.0 707.1 L768.4 705.3 L768.6 705.5 L770.2 704.3 L771.8 701.8 L773.4 699.9 L773.5 700.1 L775.0 692.5 L776.6 683.7 L778.2 676.0 L778.7 671.7 L779.8 669.2 L781.4 664.5 L783.0 658.9 L783.8 656.5 L784.6 656.9 L786.2 661.3 L787.8 661.9 L789.0 663.9 L789.4 665.8 L791.0 667.1 L792.6 672.4 L794.2 673.3 L795.8 676.3 L797.3 680.1 L797.4 680.3 L799.0 683.5 L800.6 685.2 L802.2 686.6 L803.8 687.5 L805.4 689.5 L807.0 690.5 L807.6 692.8 L808.6 692.1 L810.2 692.7 L811.8 694.5 L813.4 694.0 L815.0 695.3 L816.6 697.8 L818.2 696.4 L819.8 697.4 L821.4 698.4 L823.0 699.4 L823.1 699.9 L824.6 698.4 L826.2 697.5 L827.8 696.1 L829.4 694.9 L830.3 695.3 L831.0 694.4 L832.6 694.3 L834.2 695.2 L835.8 693.1 L837.4 693.1 L838.6 694.9 L839.0 693.6 L840.6 694.0 L842.2 691.8 L843.8 692.3 L845.4 692.7 L847.0 690.8 L848.6 691.5 L850.2 690.5 L851.8 689.4 L853.4 690.6 L855.0 688.4 L856.6 688.1 L858.2 688.0 L859.8 686.7 L861.3 687.6 L861.4 686.9 L863.0 686.4 L864.6 685.7 L866.2 686.4 L867.5 685.9 L867.8 685.5 L869.4 684.0 L871.0 683.5 L872.6 683.4 L874.2 681.7 L875.8 681.5 L875.8 683.9 L877.4 681.0 L879.0 682.6 L880.6 681.3 L882.2 681.4 L883.8 678.6 L885.4 678.6 L887.0 679.4 L888.6 676.7 L890.2 676.4 L890.2 677.0 L891.8 675.6 L893.4 674.6 L895.0 675.1 L896.6 672.6 L898.2 674.0 L899.8 672.2 L901.4 669.7 L902.6 671.2 L903.0 668.9 L904.6 666.9 L906.2 664.4 L907.8 660.6 L908.8 659.8 L909.4 657.9 L911.0 656.1 L912.6 656.0 L914.2 653.6 L915.8 650.6 L917.4 648.9 L919.0 647.3 L920.6 643.2 L921.2 643.3 L922.2 640.4 L923.8 637.2 L925.4 633.9 L927.0 631.0 L928.6 627.4 L930.2 624.6 L931.8 621.9 L933.4 619.3 L933.6 619.5 L935.0 618.0 L936.6 615.5 L938.2 613.1 L938.8 613.4 L939.8 613.4 L941.4 616.4 L943.0 621.6 L944.0 623.0 L944.6 621.5 L946.0 621.3 L946.2 621.0 L947.8 621.1 L949.4 620.9 L951.0 620.5 L952.6 621.3 L954.2 621.1 L955.8 620.2 L957.4 619.6 L958.4 619.0 L959.0 620.7 L960.6 622.7 L962.2 622.0 L963.8 624.6 L964.6 625.3 L965.4 626.0 L967.0 626.1 L968.6 629.3 L970.2 630.2 L971.8 632.0 L972.4 633.7 L973.4 634.7 L975.0 636.0 L976.6 637.7 L978.2 639.0 L979.6 639.6 L979.8 638.6 L981.4 641.5 L983.0 642.7 L984.6 643.8 L986.2 644.2 L987.8 643.7 L989.4 645.2 L991.0 646.0 L992.6 648.4 L994.2 649.2 L995.8 649.3 L997.2 652.3 L997.4 652.3 L999.0 651.5 L1000.6 649.8 L1002.2 648.8 L1003.8 648.0 L1005.4 649.2 L1007.0 648.3 L1008.6 646.6 L1009.6 648.0 L1010.2 646.5 L1011.8 644.6 L1013.4 643.2 L1015.0 642.5 L1016.6 640.4 L1018.2 639.4 L1019.8 636.5 L1021.4 636.6 L1022.0 634.9 L1023.0 635.9 L1024.6 632.8 L1026.2 631.9 L1027.8 631.3 L1029.4 629.7 L1030.2 629.4 L1031.0 631.6 L1032.6 632.1 L1034.2 636.0 L1034.4 636.1 L1035.8 638.4 L1037.4 639.9 L1039.0 642.3 L1040.6 644.4 L1042.2 647.2 L1043.8 649.0 L1045.4 651.2 L1046.8 654.1 L1047.0 653.5 L1048.6 655.6 L1050.2 657.2 L1051.8 657.8 L1053.4 658.8 L1055.0 661.3 L1056.6 663.3 L1058.2 662.9 L1059.2 664.8 L1059.8 664.8 L1061.4 665.1 L1063.0 664.3 L1064.6 663.0 L1065.4 662.6 L1066.2 664.1 L1067.8 662.2 L1069.4 661.0 L1071.0 662.9 L1072.6 660.6 L1074.2 660.5 L1075.8 660.0 L1077.4 659.4 L1079.0 660.2 L1080.6 658.8 L1082.2 658.6 L1083.8 658.1 L1084.0 659.2 L1085.4 656.5 L1087.0 657.4 L1088.6 655.6 L1090.2 655.1 L1091.8 655.8 L1093.4 654.6 L1095.0 653.2 L1096.6 654.1 L1098.2 654.4 L1099.8 653.1 L1101.4 652.2 L1103.0 652.4 L1104.6 652.2 L1104.6 650.1 L1106.2 650.0 L1107.8 651.2 L1109.4 650.6 L1111.0 648.1 L1112.6 648.9 L1114.2 648.9 L1115.8 647.6 L1117.0 647.4 L1117.4 646.7 L1119.0 644.7 L1120.6 643.4 L1121.2 642.6 L1122.2 643.7 L1123.8 641.3 L1125.4 641.7 L1127.0 640.2 L1128.6 639.4 L1130.2 639.9 L1131.8 637.4 L1133.4 636.7 L1135.0 635.6 L1135.6 634.8 L1136.6 634.5 L1138.2 634.9 L1139.8 635.1 L1141.4 632.7 L1143.0 634.5 L1144.6 633.3 L1146.2 631.2 L1147.8 632.4 L1149.4 631.1 L1151.0 631.0 L1152.6 629.4 L1154.2 630.0 L1155.8 629.5 L1156.3 630.1 L1157.4 629.1 L1159.0 628.8 L1160.6 628.2 L1162.2 626.2 L1163.8 625.0 L1165.4 625.6 L1167.0 624.1 L1168.6 623.4 L1170.2 623.3 L1171.8 623.2 L1173.4 622.8 L1175.0 622.2 L1176.6 622.4 L1176.9 620.0 L1178.2 620.7 L1179.8 618.7 L1181.4 619.6 L1183.0 618.3 L1184.2 617.0 L1184.6 617.2 L1186.2 617.0 L1187.8 615.4 L1189.4 615.6 L1191.0 612.9 L1192.6 611.7 L1194.2 612.2 L1195.8 610.2 L1197.4 607.8 L1197.6 609.4 L1199.0 607.8 L1200.6 608.8 L1202.2 607.4 L1203.8 607.3 L1205.4 607.0 L1207.0 605.3 L1208.6 606.0 L1210.2 602.9 L1211.8 603.2 L1212.1 604.4 L1213.4 600.7 L1215.0 600.7 L1216.6 599.8 L1218.2 597.2 L1219.8 595.8 L1220.3 593.1 L1221.4 593.5 L1223.0 592.4 L1224.6 590.6 L1225.5 589.8 L1226.2 581.5 L1227.8 558.5 L1228.6 547.5 L1229.4 547.4 L1231.0 545.2 L1232.6 541.6 L1232.7 541.0 L1234.2 542.9 L1235.8 547.7 L1236.9 547.5 L1237.4 549.7 L1239.0 556.0 L1240.6 561.0 L1242.2 564.5 L1243.1 568.5 L1243.8 567.1 L1245.4 570.3 L1247.0 570.6 L1248.6 572.9 L1250.2 574.6 L1251.3 575.3 L1251.8 576.6 L1253.4 577.7 L1255.0 577.9 L1256.6 579.7 L1258.2 578.9 L1259.8 580.9 L1261.4 581.8 L1261.7 581.6 L1263.0 582.6 L1264.6 580.1 L1266.2 580.5 L1267.8 580.2 L1269.4 579.5 L1269.9 581.0 L1271.0 579.9 L1272.6 579.8 L1274.2 579.6 L1275.8 579.6 L1277.4 581.0 L1278.2 580.6 L1279.0 580.5 L1280.6 579.8 L1282.2 581.6 L1283.3 580.8 L1283.8 581.1 L1285.4 579.0 L1287.0 579.6 L1288.6 579.1 L1290.2 576.9 L1291.8 575.5 L1293.4 573.4 L1295.0 572.7 L1296.6 571.5 L1296.8 571.3 L1298.2 570.3 L1299.8 569.5 L1301.4 570.3 L1301.9 570.6 L1303.0 569.5 L1304.6 567.7 L1306.2 564.9 L1307.8 564.4 L1309.4 564.6 L1311.0 563.7 L1312.6 561.4 L1314.2 560.2 L1315.4 559.6 L1315.8 558.1 L1317.4 558.2 L1319.0 556.1 L1320.6 556.3 L1322.2 554.1 L1323.8 553.5 L1325.4 552.1 L1327.0 550.9 L1328.6 549.5 L1329.8 550.0 L1330.2 550.2 L1331.8 552.5 L1333.4 555.9 L1334.0 558.1 L1335.0 559.8 L1336.6 562.7 L1338.1 566.5 L1338.2 564.2 L1339.8 564.7 L1341.4 564.0 L1343.0 562.7 L1344.6 563.3 L1346.2 562.5 L1347.8 560.1 L1348.4 560.4 L1349.4 561.7 L1350.0 562.1 L1351.0 561.0 L1352.6 561.9 L1354.2 560.3 L1355.8 559.5 L1357.4 560.5 L1359.0 560.2 L1360.6 559.2 L1362.2 559.1 L1363.8 560.1 L1365.4 559.3 L1367.0 557.9 L1367.0 559.3 L1368.6 557.6 L1370.2 556.3 L1371.8 556.2 L1373.4 555.8 L1375.0 555.3 L1376.6 553.9 L1378.2 553.0 L1379.8 551.5 L1381.4 549.8 L1383.0 550.1 L1384.1 548.6 L1384.6 550.6 L1386.2 548.3 L1387.8 548.3 L1389.4 547.9 L1391.0 545.7 L1392.6 546.7 L1394.2 544.6 L1395.8 543.2 L1397.4 543.9 L1399.0 542.7 L1400.6 543.3 L1401.1 541.8 L1402.2 540.1 L1403.8 538.7 L1405.4 537.5 L1407.0 537.6 L1408.6 537.0 L1410.2 534.0 L1411.4 533.8 L1411.8 533.9 L1413.4 533.9 L1415.0 532.8 L1416.6 531.4 L1418.2 529.6 L1418.2 529.4 L1419.8 532.5 L1421.4 537.5 L1421.6 536.8 L1423.0 536.5 L1424.6 537.1 L1426.2 535.6 L1427.8 535.2 L1429.4 533.7 L1431.0 532.4 L1432.6 532.2 L1434.2 531.6 L1435.2 530.2 L1435.8 532.4 L1437.4 534.4 L1439.0 533.8 L1440.6 535.6 L1442.0 538.6 L1442.2 537.9 L1443.8 532.6 L1445.4 529.6 L1445.5 528.5 L1447.0 529.2 L1448.6 527.5 L1450.2 526.3 L1451.8 524.3 L1453.4 524.0 L1455.0 523.2 L1456.6 521.9 L1458.2 520.4 L1459.1 519.9 L1459.8 520.9 L1461.4 520.7 L1463.0 519.6 L1464.6 518.2 L1466.2 517.9 L1467.8 515.3 L1469.4 514.7 L1471.0 515.3 L1472.6 512.6 L1472.7 512.7 L1474.2 512.4 L1475.8 508.4 L1476.1 507.9 L1477.4 508.5 L1479.0 509.6 L1480.6 507.4 L1481.2 509.8 L1482.2 507.7 L1483.8 507.7 L1485.4 506.6 L1487.0 504.8 L1488.6 506.3 L1490.2 503.4 L1491.8 504.3 L1493.2 503.8 L1493.4 502.8 L1495.0 505.4 L1496.6 504.1 L1496.6 504.4 L1498.2 503.7 L1499.8 501.0 L1501.4 501.3 L1503.0 499.0 L1504.6 498.1 L1506.2 495.1 L1507.8 492.8 L1509.4 493.6 L1510.2 490.9 L1511.0 490.7 L1512.6 488.3 L1514.2 488.0 L1515.8 486.0 L1517.4 483.7 L1519.0 481.7 L1520.4 481.0 L1520.6 482.3 L1522.2 481.2 L1523.8 482.1 L1525.4 483.8 L1527.0 484.5 L1528.6 485.6 L1529.0 485.3 L1530.2 485.0 L1531.8 482.1 L1533.4 483.1 L1535.0 479.6 L1536.6 478.8 L1538.2 477.7 L1539.8 478.4 L1541.4 476.6 L1543.0 476.7 L1544.3 475.9 L1544.6 476.5 L1546.2 479.3 L1547.8 482.2 L1549.4 487.5 L1550.3 488.9 L1551.0 484.9 L1552.6 480.1 L1554.2 472.9 L1554.5 471.7 L1555.8 472.7 L1557.4 472.1 L1559.0 471.7 L1560.6 470.6 L1562.2 468.1 L1563.8 469.0 L1564.8 469.1 L1565.4 470.9 L1566.5 474.6 L1567.0 473.5 L1568.6 470.9 L1570.2 470.5 L1571.8 469.5 L1573.4 465.3 L1575.0 465.3 L1575.0 465.5 L1576.6 463.4 L1578.2 464.2 L1579.8 461.7 L1581.4 461.5 L1583.0 461.6 L1584.6 461.8 L1586.2 460.3 L1587.8 458.5 L1588.6 460.5 L1589.4 459.6 L1591.0 460.2 L1592.6 458.9 L1594.2 459.3 L1595.8 458.7 L1597.4 459.1 L1599.0 459.9 L1600.5 459.9 L1600.6 460.6 L1602.2 460.2 L1603.8 458.1 L1605.4 458.9 L1607.0 457.4 L1608.6 455.7 L1610.2 454.5 L1611.8 455.8 L1612.5 454.6 L1613.4 452.4 L1615.0 453.0 L1616.6 451.1 L1617.6 450.6 L1618.2 452.4 L1619.8 453.3 L1621.0 455.3 L1621.4 456.0 L1623.0 457.0 L1624.6 454.8 L1626.2 456.8 L1627.8 456.5 L1629.4 455.0 L1631.0 456.3 L1631.2 456.2 L1632.6 456.0 L1634.2 454.9 L1635.8 453.7 L1637.4 453.6 L1639.0 452.3 L1640.6 452.3 L1642.2 451.5 L1643.8 450.1 L1644.9 450.1 L1645.4 450.1 L1647.0 449.3 L1648.6 448.8 L1650.2 448.4 L1651.8 446.2 L1653.4 446.1 L1655.0 444.6 L1656.6 443.3 L1656.8 443.0 L1658.2 445.4 L1659.8 445.6 L1661.4 445.6 L1661.9 443.9 L1663.0 444.4 L1664.6 445.0 L1666.2 446.3 L1667.8 447.4 L1669.4 447.0 L1671.0 448.9 L1672.6 450.4 L1674.2 451.5 L1674.9 450.1 L1675.8 449.3 L1677.4 451.1 L1679.0 449.6 L1680.6 449.0 L1682.2 448.1 L1683.8 448.1 L1684.8 447.8 L1685.4 447.5 L1687.0 446.8 L1688.6 447.0 L1690.2 447.1 L1691.8 445.1 L1693.4 444.8 L1695.0 444.3 L1696.6 444.6 L1698.2 443.8 L1699.8 443.7 L1701.3 440.9 L1701.4 442.6 L1703.0 440.6 L1704.6 440.8 L1706.2 440.1 L1707.8 439.6 L1709.4 438.3 L1711.0 437.0 L1712.6 436.3 L1714.2 438.1 L1714.5 437.9 L1715.8 436.2 L1717.4 434.5 L1719.0 435.8 L1720.6 434.2 L1722.2 433.4 L1723.8 433.1 L1725.4 431.1 L1727.0 430.6 L1728.6 431.5 L1729.4 430.9 L1730.2 431.3 L1731.8 429.3 L1733.4 430.3 L1735.0 429.6 L1736.6 428.0 L1738.2 428.6 L1739.8 426.1 L1741.4 425.3 L1742.6 427.0 L1743.0 425.0 L1744.6 425.6 L1746.2 425.7 L1747.8 425.1 L1749.4 423.3 L1751.0 424.4 L1752.6 421.9 L1754.2 422.8 L1755.8 423.2 L1757.4 421.8 L1759.0 420.7 L1759.2 422.5 L1760.6 422.3 L1762.2 423.2 L1763.8 424.1 L1765.4 424.8 L1767.0 424.5 L1767.4 425.3 L1768.6 424.1 L1770.2 423.0 L1771.8 422.6 L1773.4 422.0 L1775.0 420.9 L1775.7 422.3 L1776.6 421.3 L1778.2 421.8 L1779.8 418.7 L1781.4 419.9 L1783.0 417.5 L1784.6 417.1 L1786.2 416.2 L1787.8 417.2 L1789.4 415.5 L1791.0 414.2 L1792.2 412.9 L1792.6 412.6 L1794.2 413.9 L1795.8 415.9 L1797.4 414.9 L1798.8 415.8 L1799.0 415.9 L1800.6 408.9 L1802.2 405.0 L1802.2 405.2 L1803.8 403.9 L1805.4 403.5 L1807.0 403.5 L1808.6 401.2 L1810.2 402.0 L1810.4 400.8 L1811.8 403.5 L1813.4 404.2 L1813.7 406.2 L1815.0 404.8 L1816.6 405.4 L1818.2 405.2 L1818.7 404.0 L1819.8 403.1 L1821.4 404.8 L1823.0 407.2 L1824.6 407.2 L1825.3 407.8 L1826.2 406.7 L1827.8 407.3 L1829.4 406.6 L1831.0 405.1 L1832.6 404.4 L1833.5 402.7 L1834.2 402.7 L1835.8 403.9 L1837.4 405.9 L1839.0 406.9 L1840.6 407.3 L1841.8 408.2 L1842.2 405.9 L1843.8 406.2 L1845.4 407.2 L1847.0 406.8 L1848.6 408.7 L1850.1 409.9 L1850.2 409.7 L1851.8 406.0 L1853.4 405.9 L1855.0 404.3 L1856.6 402.7 L1858.2 400.4 L1859.8 398.3 L1860.0 399.9 L1861.4 400.3 L1863.0 400.3 L1864.6 400.3 L1865.8 399.2 L1866.2 399.7 L1867.8 399.1 L1869.4 398.5 L1871.0 397.8 L1872.6 398.5 L1874.2 397.9 L1874.9 396.3 L1875.8 398.6 L1877.4 396.9 L1879.0 400.1 L1880.6 399.7 L1882.2 400.5 L1883.1 399.9 L1883.8 400.2 L1885.4 398.8 L1887.0 395.1 L1888.6 393.0 L1890.2 392.8 L1891.4 389.9 L1891.8 388.8 L1893.4 387.1 L1895.0 383.4 L1896.6 380.7 L1898.0 378.4 L1898.2 377.9 L1899.8 380.5 L1901.4 380.3 L1903.0 381.1 L1903.0 380.0 L1904.6 376.5 L1906.2 372.2 L1907.8 367.5 L1907.9 364.6 L1909.4 372.6 L1911.0 380.0 L1911.2 382.2 M239.0 814.6 L239.9 802.6 L240.8 814.6 M282.8 804.6 L283.7 801.5 L284.6 804.6 M288.6 803.6 L289.5 792.2 L290.4 803.6 M399.1 784.0 L400.0 774.7 L400.9 784.0 M419.8 785.5 L420.7 775.7 L421.6 785.5 M482.8 772.1 L483.7 758.1 L484.6 772.1 M523.1 766.6 L524.0 761.2 L524.9 766.6 M536.5 767.4 L537.4 749.9 L538.3 767.4 M542.7 766.2 L543.6 749.9 L544.5 766.2 M564.4 760.4 L565.3 744.7 L566.2 760.4 M570.6 757.9 L571.5 731.3 L572.4 757.9 M627.0 745.6 L627.9 730.1 L628.8 745.6 M668.9 735.8 L669.8 685.7 L670.7 735.8 M683.8 733.4 L684.7 726.0 L685.6 733.4 M692.7 726.8 L693.6 688.8 L694.5 726.8 M705.5 726.0 L706.4 703.2 L707.3 726.0 M770.5 701.6 L771.4 687.7 L772.3 701.6 M832.5 694.6 L833.4 688.8 L834.3 694.6 M863.5 685.7 L864.4 625.7 L865.3 685.7 M871.8 683.3 L872.7 543.1 L873.6 683.3 M921.4 641.2 L922.3 630.9 L923.2 641.2 M941.0 618.5 L941.9 568.9 L942.8 618.5 M976.7 637.9 L977.6 614.9 L978.5 637.9 M1062.4 663.8 L1063.3 629.3 L1064.2 663.8 M1106.2 650.2 L1107.1 641.7 L1108.0 650.2 M1117.8 645.7 L1118.7 594.2 L1119.6 645.7 M1180.6 619.1 L1181.5 559.1 L1182.4 619.1 M1274.2 579.8 L1275.1 569.4 L1276.0 579.8 M1298.4 570.5 L1299.3 547.7 L1300.2 570.5 M1330.0 550.8 L1330.9 377.3 L1331.8 550.8 M1414.7 531.1 L1415.6 481.5 L1416.5 531.1 M1439.4 536.0 L1440.3 524.9 L1441.2 536.0 M1477.8 508.7 L1478.7 424.4 L1479.6 508.7 M1494.0 504.1 L1494.9 490.8 L1495.8 504.1 M1546.8 482.4 L1547.7 457.6 L1548.6 482.4 M1618.1 452.8 L1619.0 390.3 L1619.9 452.8 M1770.7 423.2 L1771.6 413.7 L1772.5 423.2 M1815.3 404.6 L1816.2 382.3 L1817.1 404.6 M1845.9 408.1 L1846.8 398.8 L1847.7 408.1 M1862.4 399.8 L1863.3 341.8 L1864.2 399.8" fill="none" stroke="#4a9567" stroke-width="4.00" stroke-linejoin="round" stroke-linecap="round"/>
<path d="M186.2 671.6 L186.2 673.4 L187.8 673.6 L189.4 672.7 L191.0 673.7 L192.6 674.0 L194.2 674.9 L195.5 675.5 L195.8 673.8 L197.4 673.6 L199.0 675.7 L200.6 674.7 L200.9 675.5 L202.2 673.8 L203.8 675.1 L205.4 676.1 L207.0 675.1 L208.6 677.1 L210.2 677.3 L211.0 675.2 L211.8 675.3 L213.4 676.9 L215.0 678.1 L216.6 677.0 L218.2 676.9 L219.8 677.6 L220.3 676.7 L221.4 677.5 L223.0 678.4 L224.6 679.0 L226.2 678.7 L226.5 678.8 L227.8 678.3 L229.4 678.3 L231.0 677.3 L232.6 676.1 L234.2 677.5 L235.0 676.5 L235.8 676.7 L237.4 675.6 L239.0 677.6 L240.6 677.3 L242.2 675.4 L243.5 676.0 L243.8 676.9 L245.4 676.6 L247.0 677.0 L248.6 675.5 L250.2 676.2 L251.8 675.6 L253.4 674.5 L254.4 675.0 L255.0 675.6 L256.6 675.1 L258.2 673.7 L259.8 673.5 L261.4 671.7 L263.0 671.7 L264.6 672.6 L265.2 671.5 L266.2 670.3 L267.8 670.3 L269.4 669.7 L271.0 668.7 L272.6 667.0 L273.0 666.9 L274.2 666.6 L275.8 666.6 L277.4 665.4 L279.0 664.4 L280.6 664.0 L280.7 662.8 L282.2 661.7 L283.8 662.2 L285.4 661.7 L286.9 659.5 L287.0 658.9 L288.6 654.3 L290.0 651.6 L290.2 652.3 L291.8 647.5 L292.4 645.5 L293.4 642.1 L295.0 634.1 L295.4 633.0 L296.6 620.3 L298.2 600.2 L299.3 586.4 L299.8 582.8 L301.4 573.1 L302.4 567.5 L303.0 561.4 L304.0 557.0 L304.6 569.0 L304.8 572.0 L306.2 584.4 L307.8 598.6 L308.6 605.1 L309.4 612.2 L311.0 626.3 L311.7 631.9 L312.6 639.2 L314.1 647.1 L314.2 646.2 L315.8 646.9 L316.4 646.9 L317.4 647.6 L319.0 649.2 L320.2 650.9 L320.6 650.7 L322.2 648.6 L323.3 646.8 L323.8 643.2 L325.4 635.0 L326.4 629.1 L327.0 630.5 L328.6 632.2 L328.8 632.2 L330.2 636.0 L331.1 638.4 L331.8 637.9 L333.4 641.3 L335.0 642.7 L335.0 641.3 L336.5 644.2 L336.6 644.1 L338.2 645.2 L339.8 643.1 L341.4 642.0 L342.7 642.6 L343.0 642.0 L344.6 641.7 L346.2 642.3 L347.8 643.6 L348.9 643.0 L349.4 642.5 L350.5 642.0 L351.0 642.2 L352.6 644.3 L354.2 647.0 L355.8 648.3 L356.7 650.5 L357.4 650.1 L359.0 648.6 L360.6 647.4 L362.2 648.3 L362.9 647.0 L363.8 647.0 L365.4 649.4 L367.0 651.3 L368.6 650.7 L369.1 651.1 L370.2 651.6 L371.8 653.1 L373.4 651.9 L375.0 653.4 L376.6 653.4 L378.2 653.2 L378.4 652.4 L379.8 654.3 L381.4 653.9 L383.0 653.2 L384.6 652.4 L386.1 653.5 L386.2 652.9 L387.8 653.5 L389.4 653.1 L391.0 654.1 L392.3 652.8 L392.6 653.2 L394.2 654.1 L395.8 653.1 L396.9 651.1 L397.4 652.3 L399.0 650.3 L400.6 651.2 L400.8 650.6 L402.2 649.6 L403.8 649.0 L405.4 648.2 L407.0 650.2 L408.6 647.8 L410.2 649.6 L411.8 649.7 L412.4 648.7 L413.4 647.9 L415.0 650.0 L416.6 650.7 L418.2 650.4 L419.8 650.3 L421.4 650.4 L421.8 650.4 L423.0 649.3 L424.6 649.4 L426.2 647.8 L427.8 646.1 L429.4 644.9 L431.0 645.3 L432.6 643.3 L432.6 643.8 L434.2 643.6 L435.8 645.2 L437.4 645.5 L439.0 643.5 L440.6 644.2 L442.2 644.8 L443.4 646.6 L443.8 645.8 L445.4 643.7 L447.0 642.3 L448.6 642.4 L450.2 641.7 L450.4 641.8 L451.8 639.8 L453.4 640.5 L454.3 639.6 L455.0 639.3 L456.6 641.0 L458.2 639.6 L459.8 641.3 L461.4 640.1 L463.0 640.8 L464.6 643.0 L466.2 641.7 L467.8 643.6 L469.4 643.6 L470.0 644.4 L471.0 642.8 L472.6 642.2 L474.2 641.6 L475.8 642.5 L476.2 641.7 L477.4 643.0 L479.0 643.3 L480.6 642.0 L482.2 643.6 L483.8 643.0 L485.4 643.4 L485.5 643.5 L487.0 645.5 L488.6 645.3 L490.2 645.4 L491.8 644.1 L492.7 644.8 L493.4 646.6 L495.0 648.8 L496.6 652.5 L498.2 654.8 L498.9 655.9 L499.8 653.7 L501.4 650.5 L503.0 644.9 L504.1 642.5 L504.6 641.3 L506.2 640.7 L507.8 641.9 L509.4 641.9 L511.0 639.7 L512.6 641.2 L514.2 639.6 L515.8 639.6 L517.4 641.4 L517.5 639.3 L519.0 642.0 L520.6 646.3 L521.6 646.4 L522.2 645.9 L523.8 646.9 L525.4 647.8 L527.0 649.9 L528.6 649.1 L530.2 651.9 L531.8 651.4 L532.0 653.0 L533.4 652.6 L535.0 650.9 L536.6 650.6 L538.2 650.9 L539.8 649.8 L540.2 651.1 L541.4 650.2 L543.0 650.9 L544.6 654.1 L546.2 653.2 L547.8 654.8 L548.5 654.7 L549.4 654.6 L551.0 654.2 L552.6 656.6 L554.2 657.0 L554.7 657.1 L555.8 653.3 L557.4 651.2 L559.0 649.8 L560.6 648.3 L560.9 646.7 L562.2 646.7 L563.8 646.1 L565.4 644.5 L567.0 644.7 L567.1 644.1 L568.6 643.9 L570.2 643.5 L571.8 644.0 L573.3 645.8 L573.4 644.4 L575.0 644.5 L576.6 644.1 L578.2 644.4 L579.8 642.6 L581.4 642.0 L583.0 641.7 L584.6 641.3 L585.7 642.3 L586.2 642.2 L587.8 640.2 L589.4 639.6 L591.0 639.6 L592.6 639.1 L594.0 638.6 L594.2 637.6 L595.8 636.4 L597.4 636.3 L599.0 635.3 L600.6 635.8 L602.2 634.0 L603.8 633.4 L604.3 634.6 L605.4 633.3 L607.0 633.9 L608.6 632.5 L610.2 632.8 L611.8 630.3 L613.4 630.6 L614.6 630.8 L615.0 628.9 L616.6 630.5 L618.2 628.1 L619.8 629.0 L621.4 629.0 L623.0 628.1 L624.6 626.3 L626.2 625.2 L627.0 626.0 L627.8 627.5 L629.4 627.0 L630.1 629.0 L631.0 627.0 L632.6 628.7 L634.2 626.3 L635.8 626.7 L637.4 628.0 L637.4 627.7 L639.0 627.6 L640.6 627.0 L641.5 626.6 L642.2 625.3 L643.8 621.4 L645.4 619.5 L647.0 616.3 L648.6 615.1 L650.2 612.4 L651.8 608.8 L651.8 608.3 L653.4 602.7 L653.9 599.9 L655.0 600.6 L656.6 602.6 L658.0 605.1 L658.2 604.3 L659.8 605.6 L661.4 606.8 L663.0 608.0 L664.6 608.8 L666.2 611.8 L666.3 611.3 L667.8 614.1 L669.4 615.4 L671.0 618.7 L671.5 618.8 L672.6 618.4 L674.2 618.1 L675.8 619.0 L677.4 617.3 L679.0 616.8 L680.6 616.7 L682.2 615.2 L682.8 614.4 L683.8 615.7 L685.4 615.6 L687.0 616.0 L688.6 615.5 L689.0 616.1 L690.2 614.6 L691.8 611.2 L693.4 609.8 L695.0 607.6 L695.2 606.7 L696.6 608.1 L698.2 609.5 L699.8 611.4 L701.4 612.5 L701.4 610.9 L703.0 606.3 L704.6 599.2 L705.5 595.9 L706.2 595.7 L707.8 593.4 L709.4 588.5 L709.7 589.4 L711.0 589.1 L712.6 586.8 L714.2 587.0 L715.8 586.6 L717.4 584.6 L717.9 585.1 L719.0 586.3 L720.6 587.5 L722.2 589.8 L723.8 591.5 L725.4 593.2 L726.2 593.1 L727.0 592.6 L728.6 593.9 L730.2 594.9 L731.8 596.8 L732.4 597.7 L733.4 594.9 L735.0 594.9 L736.6 593.4 L738.2 590.8 L738.6 590.9 L739.8 589.0 L741.4 589.0 L743.0 585.9 L744.6 586.9 L745.8 585.4 L746.2 585.6 L747.8 587.5 L749.4 591.9 L750.0 593.0 L751.0 588.7 L752.6 586.7 L754.2 583.4 L755.1 580.9 L755.8 579.2 L757.4 574.3 L759.0 571.2 L760.6 567.1 L761.3 563.7 L762.2 564.4 L763.8 563.0 L765.4 561.8 L767.0 561.6 L767.5 561.0 L768.6 560.8 L770.2 557.7 L770.6 554.8 L771.8 552.8 L773.4 548.1 L773.7 546.5 L775.0 534.8 L776.6 519.5 L777.9 508.8 L778.2 504.5 L779.8 493.4 L781.4 482.6 L783.0 470.1 L784.0 464.1 L784.6 465.9 L786.2 471.9 L787.8 475.8 L789.2 480.8 L789.4 482.1 L791.0 487.2 L792.6 493.7 L794.2 498.6 L794.4 500.4 L795.8 505.8 L797.4 511.8 L799.0 518.0 L800.6 522.8 L800.6 522.7 L802.2 526.8 L803.8 529.8 L804.7 531.1 L805.4 532.1 L807.0 535.3 L808.6 538.4 L810.2 543.6 L810.9 543.4 L811.8 546.0 L813.4 547.4 L815.0 550.4 L816.6 551.8 L818.2 554.3 L819.8 554.1 L821.2 556.7 L821.4 556.9 L823.0 555.8 L824.6 555.9 L825.4 555.3 L826.2 555.1 L827.8 552.3 L829.4 552.0 L831.0 550.7 L832.6 548.9 L833.6 548.2 L834.2 549.0 L835.8 548.4 L837.4 547.5 L839.0 547.5 L840.6 546.4 L841.9 545.7 L842.2 545.1 L843.8 545.3 L845.4 545.6 L847.0 545.8 L848.6 545.2 L850.2 543.9 L851.8 544.7 L852.2 543.2 L853.4 543.5 L855.0 541.7 L856.6 541.7 L858.2 541.4 L859.8 538.9 L860.0 538.5 L861.4 538.5 L863.0 537.1 L864.1 535.8 L864.6 535.0 L866.2 535.9 L866.2 536.0 L867.8 535.0 L869.4 535.2 L871.0 533.5 L871.4 533.7 L872.6 533.3 L874.2 531.8 L874.5 531.0 L875.8 530.5 L877.4 528.9 L879.0 527.6 L880.6 526.2 L880.7 525.6 L882.2 525.4 L883.8 524.6 L885.4 524.6 L887.0 523.4 L888.6 522.8 L890.2 521.8 L891.8 521.1 L893.1 519.9 L893.4 519.1 L895.0 518.1 L896.6 518.4 L897.2 518.5 L898.2 515.7 L899.8 511.5 L901.4 510.0 L903.0 505.9 L904.6 502.7 L905.5 499.9 L906.2 498.9 L907.8 494.7 L909.4 489.0 L911.0 484.1 L911.6 482.9 L912.6 478.8 L914.2 475.7 L915.8 472.5 L917.4 467.6 L917.9 465.7 L919.0 462.4 L920.6 456.6 L922.0 450.8 L922.2 450.4 L923.8 449.7 L925.4 445.8 L926.1 444.2 L927.0 443.7 L928.6 438.5 L930.2 433.7 L931.8 429.7 L933.4 425.9 L934.4 421.7 L935.0 421.7 L936.6 418.7 L938.2 415.7 L939.8 411.1 L940.6 410.4 L941.4 413.0 L943.0 420.6 L944.6 426.4 L944.7 428.4 L946.2 427.4 L947.8 424.7 L949.4 423.1 L950.9 423.7 L951.0 423.1 L952.6 423.6 L954.2 421.7 L955.8 424.0 L957.4 423.5 L959.0 422.9 L960.6 423.4 L961.2 424.2 L962.2 426.4 L963.8 428.4 L965.4 432.9 L967.0 435.2 L967.4 438.2 L968.6 440.1 L970.2 445.6 L971.8 449.6 L973.4 453.7 L975.0 457.2 L975.7 459.8 L976.6 460.0 L978.2 462.2 L978.8 464.4 L979.8 465.9 L981.4 470.7 L983.0 473.3 L984.0 476.8 L984.6 477.3 L986.2 477.5 L987.8 478.2 L989.4 480.1 L991.0 481.5 L992.2 481.5 L992.6 481.6 L994.2 480.9 L995.8 481.8 L997.4 482.2 L999.0 480.1 L1000.5 479.2 L1000.6 480.8 L1002.2 479.1 L1003.8 477.4 L1004.6 475.5 L1005.4 475.0 L1007.0 476.7 L1008.6 475.3 L1010.2 477.1 L1011.8 476.0 L1012.9 477.1 L1013.4 476.6 L1015.0 474.1 L1016.6 471.4 L1018.2 469.3 L1019.8 468.6 L1021.2 465.9 L1021.4 465.7 L1023.0 462.2 L1024.6 460.8 L1026.2 457.1 L1027.4 455.8 L1027.8 456.2 L1029.4 454.8 L1031.0 450.8 L1031.5 452.2 L1032.6 454.6 L1034.2 456.5 L1035.6 459.5 L1035.8 460.4 L1037.4 465.4 L1039.0 468.3 L1040.6 473.6 L1042.2 477.5 L1043.8 480.1 L1045.4 486.2 L1046.0 485.4 L1047.0 488.3 L1048.6 493.6 L1050.2 496.1 L1051.8 500.9 L1053.4 504.3 L1054.2 507.2 L1055.0 509.5 L1056.6 512.5 L1058.2 513.1 L1059.8 515.9 L1061.4 520.7 L1062.5 520.6 L1063.0 521.5 L1064.6 522.2 L1065.6 522.8 L1066.2 522.7 L1067.8 524.5 L1069.4 525.1 L1071.0 525.3 L1072.6 525.9 L1074.2 525.8 L1075.8 525.4 L1076.9 526.2 L1077.4 527.1 L1079.0 526.4 L1080.6 525.5 L1082.2 525.1 L1083.8 527.4 L1085.4 526.7 L1087.0 526.2 L1088.6 527.0 L1090.2 527.0 L1091.4 527.0 L1091.8 525.7 L1093.4 526.0 L1095.0 525.8 L1096.6 524.9 L1098.2 526.2 L1099.8 524.6 L1101.4 524.8 L1103.0 524.5 L1104.6 524.2 L1106.2 523.8 L1107.8 523.4 L1107.9 522.1 L1109.4 523.5 L1111.0 520.9 L1112.6 522.3 L1114.2 521.6 L1115.8 521.0 L1117.2 518.6 L1117.4 518.5 L1119.0 519.3 L1120.3 517.5 L1120.6 517.2 L1122.2 518.1 L1123.8 515.2 L1125.4 515.9 L1127.0 515.1 L1128.6 513.7 L1130.2 513.8 L1131.8 514.0 L1133.4 513.9 L1134.8 511.3 L1135.0 512.4 L1136.6 510.9 L1138.2 512.2 L1139.8 510.0 L1141.4 509.4 L1143.0 509.8 L1144.6 510.2 L1146.2 508.7 L1147.8 507.8 L1149.3 509.0 L1149.4 509.0 L1151.0 508.8 L1152.6 507.0 L1154.2 506.9 L1155.8 506.0 L1157.4 506.4 L1159.0 505.4 L1160.6 505.1 L1162.2 505.8 L1163.8 505.8 L1165.4 504.5 L1165.8 503.2 L1167.0 503.9 L1168.6 502.6 L1170.2 503.2 L1171.8 501.7 L1173.4 501.2 L1175.0 500.1 L1176.1 499.1 L1176.6 499.0 L1178.2 495.7 L1179.8 491.1 L1181.3 487.8 L1181.4 488.3 L1183.0 487.6 L1184.4 485.6 L1184.6 486.2 L1186.2 486.2 L1187.8 484.3 L1189.4 485.7 L1190.6 484.9 L1191.0 483.9 L1192.6 483.0 L1194.2 482.4 L1195.8 481.5 L1197.4 481.8 L1198.8 480.4 L1199.0 480.6 L1200.6 480.4 L1202.2 483.1 L1203.8 482.5 L1205.0 483.1 L1205.4 481.9 L1207.0 481.8 L1208.6 478.1 L1210.2 476.8 L1211.2 475.3 L1211.8 473.1 L1213.4 466.0 L1214.9 460.1 L1215.0 459.7 L1216.6 454.3 L1218.0 448.1 L1218.2 448.7 L1219.8 446.1 L1221.4 444.3 L1223.0 441.0 L1224.6 438.0 L1224.9 437.6 L1226.2 416.9 L1227.8 394.0 L1229.4 368.9 L1230.4 353.1 L1231.0 353.9 L1232.6 357.1 L1234.2 357.9 L1235.8 358.9 L1235.9 359.0 L1237.4 367.9 L1239.0 375.6 L1240.6 384.5 L1242.2 390.7 L1242.5 392.8 L1243.8 398.8 L1245.4 403.5 L1247.0 410.1 L1248.6 417.6 L1250.2 423.3 L1250.2 422.9 L1251.8 425.6 L1253.4 428.8 L1255.0 430.9 L1256.6 432.1 L1258.2 434.4 L1259.8 438.6 L1261.4 440.4 L1262.4 440.7 L1263.0 442.0 L1264.6 438.8 L1266.2 438.6 L1267.8 438.7 L1269.4 437.2 L1271.0 435.0 L1272.6 435.5 L1274.2 433.6 L1275.8 433.2 L1277.4 432.2 L1279.0 429.9 L1280.0 429.8 L1280.6 429.4 L1282.2 430.1 L1283.8 429.4 L1285.4 428.9 L1287.0 428.8 L1288.6 429.0 L1290.2 426.8 L1291.8 426.4 L1293.4 427.4 L1295.0 427.2 L1296.6 426.2 L1297.7 426.0 L1298.2 425.1 L1299.8 424.3 L1301.4 422.1 L1303.0 419.6 L1304.6 416.2 L1306.2 416.3 L1306.5 414.9 L1307.8 412.3 L1309.4 410.2 L1311.0 408.7 L1312.6 404.6 L1314.2 402.5 L1315.8 400.6 L1317.4 399.6 L1319.0 396.9 L1319.7 396.4 L1320.6 394.5 L1322.2 393.1 L1323.8 391.6 L1325.4 390.1 L1327.0 388.7 L1328.6 388.0 L1329.6 387.4 L1330.2 387.7 L1331.8 392.8 L1333.4 396.4 L1334.5 399.5 L1335.0 404.2 L1336.3 415.2 L1336.6 415.6 L1338.2 419.3 L1339.8 419.8 L1341.4 423.6 L1341.8 425.1 L1343.0 424.1 L1344.6 423.3 L1346.2 422.3 L1347.8 421.9 L1349.4 422.8 L1351.0 422.2 L1352.6 421.2 L1354.2 421.3 L1355.8 420.9 L1357.4 420.3 L1359.0 418.7 L1360.6 418.4 L1362.2 418.8 L1363.8 417.2 L1365.4 417.7 L1367.0 416.6 L1368.6 415.8 L1370.2 415.6 L1371.8 414.3 L1372.7 414.6 L1373.4 415.4 L1375.0 415.8 L1376.6 417.6 L1378.2 419.2 L1379.8 422.1 L1381.4 422.8 L1381.5 422.2 L1383.0 423.1 L1384.6 420.4 L1386.2 420.2 L1387.8 419.9 L1389.4 418.9 L1391.0 417.4 L1392.6 417.4 L1392.6 416.7 L1394.2 416.4 L1395.8 415.1 L1397.4 415.5 L1399.0 414.0 L1400.6 411.6 L1402.2 410.9 L1403.8 412.2 L1404.5 410.0 L1405.4 409.1 L1407.0 409.1 L1408.6 409.0 L1410.2 409.5 L1411.8 407.5 L1413.4 407.6 L1414.8 407.3 L1415.0 405.6 L1416.6 407.7 L1418.2 409.4 L1418.2 408.3 L1419.8 407.5 L1421.4 406.2 L1423.0 406.9 L1424.6 406.2 L1426.2 403.2 L1427.8 403.5 L1429.4 402.4 L1431.0 402.2 L1432.6 400.0 L1434.2 399.6 L1435.2 399.1 L1435.8 399.4 L1437.4 399.5 L1439.0 399.1 L1440.6 398.2 L1442.2 397.3 L1443.8 395.2 L1445.4 395.3 L1447.0 395.4 L1448.6 393.8 L1450.2 393.7 L1451.8 394.0 L1452.3 391.8 L1453.4 393.2 L1455.0 390.7 L1456.6 390.8 L1458.2 391.5 L1459.8 389.1 L1461.4 389.2 L1463.0 388.3 L1464.6 388.9 L1466.2 388.5 L1467.8 386.1 L1469.3 386.0 L1469.4 386.9 L1471.0 384.7 L1472.6 382.5 L1474.2 382.5 L1475.3 380.5 L1475.8 380.4 L1477.4 377.9 L1479.0 378.9 L1480.6 376.7 L1481.2 376.9 L1482.2 376.5 L1483.8 373.9 L1485.4 373.8 L1487.0 372.8 L1488.6 372.8 L1490.2 372.2 L1491.8 369.9 L1493.4 369.2 L1494.9 369.5 L1495.0 368.7 L1496.6 367.2 L1498.2 366.6 L1499.8 366.7 L1501.4 366.0 L1503.0 366.1 L1504.6 364.2 L1506.2 363.6 L1506.8 362.1 L1507.8 361.9 L1509.4 360.2 L1511.0 359.8 L1512.6 357.3 L1513.6 356.3 L1514.2 354.8 L1515.8 350.1 L1517.4 344.7 L1519.0 340.4 L1519.1 339.0 L1520.6 341.9 L1522.2 342.8 L1523.8 343.6 L1525.4 343.7 L1527.0 345.7 L1528.5 347.8 L1528.6 347.6 L1530.2 347.1 L1531.8 346.4 L1533.4 344.0 L1535.0 343.6 L1536.6 342.2 L1538.2 340.8 L1539.8 339.9 L1541.4 339.3 L1543.0 338.0 L1544.6 338.2 L1546.2 337.7 L1546.5 337.2 L1547.8 336.5 L1549.4 334.1 L1551.0 332.8 L1552.6 332.5 L1554.2 332.1 L1555.8 329.7 L1557.4 327.4 L1559.0 326.3 L1560.6 325.7 L1562.2 325.3 L1562.6 323.7 L1563.8 324.9 L1565.4 327.1 L1567.0 329.0 L1568.6 328.5 L1570.2 330.3 L1571.8 331.2 L1572.0 330.1 L1573.4 329.9 L1575.0 328.3 L1576.6 327.5 L1578.2 327.7 L1579.8 326.4 L1581.4 323.7 L1583.0 322.6 L1584.3 323.4 L1584.6 321.7 L1586.2 321.6 L1587.8 320.9 L1589.4 319.8 L1591.0 319.2 L1592.6 318.9 L1594.2 318.9 L1595.8 319.7 L1597.4 318.4 L1599.0 316.8 L1600.6 317.3 L1602.2 315.7 L1603.8 315.7 L1605.4 314.6 L1607.0 315.6 L1608.6 313.6 L1610.2 314.1 L1611.8 313.1 L1613.4 313.0 L1615.0 311.8 L1615.5 312.3 L1616.6 311.0 L1618.2 311.5 L1619.8 311.2 L1621.4 310.7 L1623.0 310.6 L1624.6 310.4 L1626.2 309.8 L1627.8 310.9 L1629.4 310.0 L1631.0 309.6 L1632.6 308.2 L1634.2 309.1 L1635.8 308.1 L1637.4 308.0 L1638.2 308.4 L1639.0 308.3 L1640.6 306.6 L1642.2 305.8 L1643.8 305.5 L1645.4 304.5 L1647.0 303.4 L1648.6 301.7 L1650.2 301.5 L1651.8 301.3 L1653.4 300.1 L1655.0 299.2 L1656.6 299.1 L1658.2 297.9 L1659.8 296.9 L1660.0 295.1 L1661.4 295.9 L1663.0 297.0 L1664.6 295.9 L1666.2 297.9 L1667.8 296.2 L1668.3 298.1 L1669.4 297.0 L1671.0 299.3 L1672.6 300.1 L1674.2 299.7 L1675.8 301.8 L1676.5 300.4 L1677.4 301.9 L1679.0 300.3 L1680.6 300.1 L1682.2 298.9 L1683.1 299.8 L1683.8 298.7 L1685.4 298.9 L1687.0 298.4 L1688.6 297.1 L1690.2 294.8 L1691.4 296.6 L1691.8 296.3 L1693.4 294.8 L1695.0 293.4 L1696.6 293.0 L1698.2 293.0 L1699.8 291.2 L1701.3 291.2 L1701.4 290.7 L1703.0 289.6 L1704.6 290.2 L1706.2 288.2 L1707.8 288.0 L1709.4 285.9 L1711.0 286.3 L1712.6 284.5 L1712.9 286.0 L1714.2 283.4 L1715.8 282.4 L1717.4 281.5 L1719.0 280.4 L1720.6 280.3 L1722.2 278.8 L1723.8 277.5 L1725.4 278.1 L1726.1 277.5 L1727.0 276.8 L1728.6 277.2 L1730.2 277.2 L1731.8 275.8 L1733.4 277.2 L1734.4 275.8 L1735.0 276.2 L1736.6 274.5 L1738.2 272.9 L1739.8 273.3 L1741.4 272.6 L1742.6 270.2 L1743.0 271.4 L1744.6 269.3 L1746.2 269.3 L1747.8 269.3 L1749.4 268.0 L1751.0 265.4 L1752.6 265.5 L1752.6 265.4 L1754.2 264.4 L1755.8 264.9 L1757.4 263.1 L1759.0 263.0 L1760.6 262.0 L1762.2 260.9 L1762.5 259.6 L1763.8 261.2 L1765.4 261.7 L1767.0 259.9 L1768.6 261.1 L1769.9 260.7 L1770.2 260.3 L1771.8 261.3 L1773.4 261.9 L1774.0 259.5 L1775.0 261.3 L1776.6 259.4 L1778.2 259.8 L1779.8 257.5 L1781.4 258.1 L1783.0 255.9 L1784.6 255.8 L1785.6 257.0 L1786.2 256.0 L1787.8 255.8 L1789.4 254.5 L1791.0 254.0 L1792.6 253.6 L1794.2 253.8 L1795.8 253.2 L1797.4 251.3 L1798.8 251.5 L1799.0 251.7 L1800.6 250.8 L1802.2 250.8 L1803.8 249.6 L1805.4 247.0 L1807.0 246.6 L1808.6 245.0 L1808.8 244.7 L1810.2 245.3 L1811.8 246.1 L1813.4 248.1 L1813.7 247.9 L1815.0 248.1 L1816.6 246.5 L1818.2 245.9 L1818.7 247.9 L1819.8 247.3 L1821.4 247.2 L1823.0 244.5 L1824.6 245.1 L1826.2 245.4 L1827.8 245.3 L1829.4 245.3 L1831.0 244.1 L1832.6 243.3 L1833.5 242.2 L1834.2 244.0 L1835.8 244.2 L1837.4 243.7 L1839.0 242.8 L1840.6 241.7 L1842.2 241.1 L1843.8 242.2 L1845.4 242.3 L1846.8 242.1 L1847.0 240.0 L1848.6 240.6 L1850.2 239.9 L1851.8 239.2 L1853.4 239.6 L1855.0 239.4 L1856.6 238.4 L1858.2 237.8 L1859.8 237.3 L1860.0 237.2 L1861.4 235.9 L1863.0 234.0 L1864.6 234.2 L1865.8 231.7 L1866.2 233.5 L1867.8 234.9 L1869.1 236.9 L1869.4 237.0 L1871.0 235.7 L1872.6 236.0 L1874.2 233.3 L1875.8 231.8 L1876.5 233.8 L1877.4 232.1 L1879.0 231.8 L1880.6 231.9 L1882.2 232.2 L1883.8 233.0 L1885.4 232.1 L1887.0 230.9 L1888.6 231.2 L1889.8 230.9 L1890.2 229.4 L1891.8 223.6 L1893.1 218.6 L1893.4 219.0 L1895.0 218.2 L1896.6 216.9 L1898.2 217.6 L1899.7 215.8 L1899.8 215.3 L1901.4 217.1 L1903.0 218.6 L1903.0 218.4 L1904.6 211.0 L1906.2 204.4 L1907.8 196.5 L1907.9 195.4 L1909.4 194.9 L1909.6 195.1 L1911.0 203.8 L1912.1 211.1 M199.2 674.8 L200.1 664.7 L201.0 674.8 M224.8 679.3 L225.7 670.2 L226.6 679.3 M232.6 676.9 L233.5 667.1 L234.4 676.9 M241.9 676.4 L242.8 655.5 L243.7 676.4 M289.9 649.5 L290.8 633.0 L291.7 649.5 M398.4 650.6 L399.3 609.0 L400.2 650.6 M412.3 648.7 L413.2 641.5 L414.1 648.7 M420.1 650.6 L421.0 640.7 L421.9 650.6 M482.5 643.9 L483.4 628.0 L484.3 643.9 M517.7 642.0 L518.6 633.2 L519.5 642.0 M536.2 651.1 L537.1 635.2 L538.0 651.1 M564.1 645.2 L565.0 571.2 L565.9 645.2 M570.3 644.5 L571.2 607.4 L572.1 644.5 M627.2 626.6 L628.1 610.5 L629.0 626.6 M637.5 626.7 L638.4 606.3 L639.3 626.7 M668.5 616.4 L669.4 519.5 L670.3 616.4 M692.2 610.1 L693.1 575.3 L694.0 610.1 M770.8 552.9 L771.7 541.2 L772.6 552.9 M833.1 548.4 L834.0 537.1 L834.9 548.4 M842.0 546.1 L842.9 539.2 L843.8 546.1 M863.6 536.2 L864.5 486.6 L865.4 536.2 M871.9 532.1 L872.8 299.6 L873.7 532.1 M921.5 450.9 L922.4 437.0 L923.3 450.9 M940.7 414.6 L941.6 406.0 L942.5 414.6 M976.9 462.5 L977.8 445.3 L978.7 462.5 M1062.6 522.4 L1063.5 469.0 L1064.4 522.4 M1117.4 519.0 L1118.3 457.7 L1119.2 519.0 M1181.0 488.3 L1181.9 459.8 L1182.8 488.3 M1298.5 423.9 L1299.4 394.0 L1300.3 423.9 M1331.0 392.7 L1331.9 121.6 L1332.8 392.7 M1414.7 406.9 L1415.6 381.8 L1416.5 406.9 M1477.5 378.2 L1478.4 293.5 L1479.3 378.2 M1545.7 336.9 L1546.6 306.7 L1547.5 336.9 M1583.5 322.8 L1584.4 311.4 L1585.3 322.8 M1618.0 311.0 L1618.9 159.2 L1619.8 311.0 M1771.5 260.7 L1772.4 241.7 L1773.3 260.7 M1802.9 248.8 L1803.8 244.2 L1804.7 248.8 M1815.3 247.1 L1816.2 237.6 L1817.1 247.1 M1862.4 234.4 L1863.3 211.2 L1864.2 234.4 M1866.5 234.7 L1867.4 221.1 L1868.3 234.7" fill="none" stroke="#1f5b90" stroke-width="4.00" stroke-linejoin="round" stroke-linecap="round"/>
</g>
<rect x="180.6" y="24.5" width="1795.4" height="1110.0" fill="none" stroke="#000" stroke-width="5"/>
<line x1="232.80" y1="1134.50" x2="232.80" y2="1155.50" stroke="#000" stroke-width="5.00"/>
<line x1="232.80" y1="24.50" x2="232.80" y2="3.50" stroke="#000" stroke-width="5.00"/>
<line x1="619.53" y1="1134.50" x2="619.53" y2="1155.50" stroke="#000" stroke-width="5.00"/>
<line x1="619.53" y1="24.50" x2="619.53" y2="3.50" stroke="#000" stroke-width="5.00"/>
<line x1="1144.28" y1="1134.50" x2="1144.28" y2="1155.50" stroke="#000" stroke-width="5.00"/>
<line x1="1144.28" y1="24.50" x2="1144.28" y2="3.50" stroke="#000" stroke-width="5.00"/>
<line x1="1451.24" y1="1134.50" x2="1451.24" y2="1155.50" stroke="#000" stroke-width="5.00"/>
<line x1="1451.24" y1="24.50" x2="1451.24" y2="3.50" stroke="#000" stroke-width="5.00"/>
<line x1="1669.04" y1="1134.50" x2="1669.04" y2="1155.50" stroke="#000" stroke-width="5.00"/>
<line x1="1669.04" y1="24.50" x2="1669.04" y2="3.50" stroke="#000" stroke-width="5.00"/>
<line x1="1976.00" y1="1134.50" x2="1976.00" y2="1155.50" stroke="#000" stroke-width="5.00"/>
<line x1="1976.00" y1="24.50" x2="1976.00" y2="3.50" stroke="#000" stroke-width="5.00"/>
<line x1="450.59" y1="1134.50" x2="450.59" y2="1145.50" stroke="#000" stroke-width="3.20"/>
<line x1="450.59" y1="24.50" x2="450.59" y2="13.50" stroke="#000" stroke-width="3.20"/>
<line x1="757.56" y1="1134.50" x2="757.56" y2="1145.50" stroke="#000" stroke-width="3.20"/>
<line x1="757.56" y1="24.50" x2="757.56" y2="13.50" stroke="#000" stroke-width="3.20"/>
<line x1="874.26" y1="1134.50" x2="874.26" y2="1145.50" stroke="#000" stroke-width="3.20"/>
<line x1="874.26" y1="24.50" x2="874.26" y2="13.50" stroke="#000" stroke-width="3.20"/>
<line x1="975.35" y1="1134.50" x2="975.35" y2="1145.50" stroke="#000" stroke-width="3.20"/>
<line x1="975.35" y1="24.50" x2="975.35" y2="13.50" stroke="#000" stroke-width="3.20"/>
<line x1="1064.52" y1="1134.50" x2="1064.52" y2="1145.50" stroke="#000" stroke-width="3.20"/>
<line x1="1064.52" y1="24.50" x2="1064.52" y2="13.50" stroke="#000" stroke-width="3.20"/>
<line x1="180.60" y1="993.75" x2="159.60" y2="993.75" stroke="#000" stroke-width="5.00"/>
<line x1="1976.00" y1="993.75" x2="1997.00" y2="993.75" stroke="#000" stroke-width="5.00"/>
<line x1="180.60" y1="724.70" x2="159.60" y2="724.70" stroke="#000" stroke-width="5.00"/>
<line x1="1976.00" y1="724.70" x2="1997.00" y2="724.70" stroke="#000" stroke-width="5.00"/>
<line x1="180.60" y1="455.65" x2="159.60" y2="455.65" stroke="#000" stroke-width="5.00"/>
<line x1="1976.00" y1="455.65" x2="1997.00" y2="455.65" stroke="#000" stroke-width="5.00"/>
<line x1="180.60" y1="186.60" x2="159.60" y2="186.60" stroke="#000" stroke-width="5.00"/>
<line x1="1976.00" y1="186.60" x2="1997.00" y2="186.60" stroke="#000" stroke-width="5.00"/>
<line x1="180.60" y1="1134.43" x2="169.60" y2="1134.43" stroke="#000" stroke-width="3.20"/>
<line x1="1976.00" y1="1134.43" x2="1987.00" y2="1134.43" stroke="#000" stroke-width="3.20"/>
<line x1="180.60" y1="1100.82" x2="169.60" y2="1100.82" stroke="#000" stroke-width="3.20"/>
<line x1="1976.00" y1="1100.82" x2="1987.00" y2="1100.82" stroke="#000" stroke-width="3.20"/>
<line x1="180.60" y1="1074.74" x2="169.60" y2="1074.74" stroke="#000" stroke-width="3.20"/>
<line x1="1976.00" y1="1074.74" x2="1987.00" y2="1074.74" stroke="#000" stroke-width="3.20"/>
<line x1="180.60" y1="1053.44" x2="169.60" y2="1053.44" stroke="#000" stroke-width="3.20"/>
<line x1="1976.00" y1="1053.44" x2="1987.00" y2="1053.44" stroke="#000" stroke-width="3.20"/>
<line x1="180.60" y1="1035.43" x2="169.60" y2="1035.43" stroke="#000" stroke-width="3.20"/>
<line x1="1976.00" y1="1035.43" x2="1987.00" y2="1035.43" stroke="#000" stroke-width="3.20"/>
<line x1="180.60" y1="1019.82" x2="169.60" y2="1019.82" stroke="#000" stroke-width="3.20"/>
<line x1="1976.00" y1="1019.82" x2="1987.00" y2="1019.82" stroke="#000" stroke-width="3.20"/>
<line x1="180.60" y1="1006.06" x2="169.60" y2="1006.06" stroke="#000" stroke-width="3.20"/>
<line x1="1976.00" y1="1006.06" x2="1987.00" y2="1006.06" stroke="#000" stroke-width="3.20"/>
<line x1="180.60" y1="912.76" x2="169.60" y2="912.76" stroke="#000" stroke-width="3.20"/>
<line x1="1976.00" y1="912.76" x2="1987.00" y2="912.76" stroke="#000" stroke-width="3.20"/>
<line x1="180.60" y1="865.38" x2="169.60" y2="865.38" stroke="#000" stroke-width="3.20"/>
<line x1="1976.00" y1="865.38" x2="1987.00" y2="865.38" stroke="#000" stroke-width="3.20"/>
<line x1="180.60" y1="831.77" x2="169.60" y2="831.77" stroke="#000" stroke-width="3.20"/>
<line x1="1976.00" y1="831.77" x2="1987.00" y2="831.77" stroke="#000" stroke-width="3.20"/>
<line x1="180.60" y1="805.69" x2="169.60" y2="805.69" stroke="#000" stroke-width="3.20"/>
<line x1="1976.00" y1="805.69" x2="1987.00" y2="805.69" stroke="#000" stroke-width="3.20"/>
<line x1="180.60" y1="784.39" x2="169.60" y2="784.39" stroke="#000" stroke-width="3.20"/>
<line x1="1976.00" y1="784.39" x2="1987.00" y2="784.39" stroke="#000" stroke-width="3.20"/>
<line x1="180.60" y1="766.38" x2="169.60" y2="766.38" stroke="#000" stroke-width="3.20"/>
<line x1="1976.00" y1="766.38" x2="1987.00" y2="766.38" stroke="#000" stroke-width="3.20"/>
<line x1="180.60" y1="750.77" x2="169.60" y2="750.77" stroke="#000" stroke-width="3.20"/>
<line x1="1976.00" y1="750.77" x2="1987.00" y2="750.77" stroke="#000" stroke-width="3.20"/>
<line x1="180.60" y1="737.01" x2="169.60" y2="737.01" stroke="#000" stroke-width="3.20"/>
<line x1="1976.00" y1="737.01" x2="1987.00" y2="737.01" stroke="#000" stroke-width="3.20"/>
<line x1="180.60" y1="643.71" x2="169.60" y2="643.71" stroke="#000" stroke-width="3.20"/>
<line x1="1976.00" y1="643.71" x2="1987.00" y2="643.71" stroke="#000" stroke-width="3.20"/>
<line x1="180.60" y1="596.33" x2="169.60" y2="596.33" stroke="#000" stroke-width="3.20"/>
<line x1="1976.00" y1="596.33" x2="1987.00" y2="596.33" stroke="#000" stroke-width="3.20"/>
<line x1="180.60" y1="562.72" x2="169.60" y2="562.72" stroke="#000" stroke-width="3.20"/>
<line x1="1976.00" y1="562.72" x2="1987.00" y2="562.72" stroke="#000" stroke-width="3.20"/>
<line x1="180.60" y1="536.64" x2="169.60" y2="536.64" stroke="#000" stroke-width="3.20"/>
<line x1="1976.00" y1="536.64" x2="1987.00" y2="536.64" stroke="#000" stroke-width="3.20"/>
<line x1="180.60" y1="515.34" x2="169.60" y2="515.34" stroke="#000" stroke-width="3.20"/>
<line x1="1976.00" y1="515.34" x2="1987.00" y2="515.34" stroke="#000" stroke-width="3.20"/>
<line x1="180.60" y1="497.33" x2="169.60" y2="497.33" stroke="#000" stroke-width="3.20"/>
<line x1="1976.00" y1="497.33" x2="1987.00" y2="497.33" stroke="#000" stroke-width="3.20"/>
<line x1="180.60" y1="481.72" x2="169.60" y2="481.72" stroke="#000" stroke-width="3.20"/>
<line x1="1976.00" y1="481.72" x2="1987.00" y2="481.72" stroke="#000" stroke-width="3.20"/>
<line x1="180.60" y1="467.96" x2="169.60" y2="467.96" stroke="#000" stroke-width="3.20"/>
<line x1="1976.00" y1="467.96" x2="1987.00" y2="467.96" stroke="#000" stroke-width="3.20"/>
<line x1="180.60" y1="374.66" x2="169.60" y2="374.66" stroke="#000" stroke-width="3.20"/>
<line x1="1976.00" y1="374.66" x2="1987.00" y2="374.66" stroke="#000" stroke-width="3.20"/>
<line x1="180.60" y1="327.28" x2="169.60" y2="327.28" stroke="#000" stroke-width="3.20"/>
<line x1="1976.00" y1="327.28" x2="1987.00" y2="327.28" stroke="#000" stroke-width="3.20"/>
<line x1="180.60" y1="293.67" x2="169.60" y2="293.67" stroke="#000" stroke-width="3.20"/>
<line x1="1976.00" y1="293.67" x2="1987.00" y2="293.67" stroke="#000" stroke-width="3.20"/>
<line x1="180.60" y1="267.59" x2="169.60" y2="267.59" stroke="#000" stroke-width="3.20"/>
<line x1="1976.00" y1="267.59" x2="1987.00" y2="267.59" stroke="#000" stroke-width="3.20"/>
<line x1="180.60" y1="246.29" x2="169.60" y2="246.29" stroke="#000" stroke-width="3.20"/>
<line x1="1976.00" y1="246.29" x2="1987.00" y2="246.29" stroke="#000" stroke-width="3.20"/>
<line x1="180.60" y1="228.28" x2="169.60" y2="228.28" stroke="#000" stroke-width="3.20"/>
<line x1="1976.00" y1="228.28" x2="1987.00" y2="228.28" stroke="#000" stroke-width="3.20"/>
<line x1="180.60" y1="212.67" x2="169.60" y2="212.67" stroke="#000" stroke-width="3.20"/>
<line x1="1976.00" y1="212.67" x2="1987.00" y2="212.67" stroke="#000" stroke-width="3.20"/>
<line x1="180.60" y1="198.91" x2="169.60" y2="198.91" stroke="#000" stroke-width="3.20"/>
<line x1="1976.00" y1="198.91" x2="1987.00" y2="198.91" stroke="#000" stroke-width="3.20"/>
<line x1="180.60" y1="105.61" x2="169.60" y2="105.61" stroke="#000" stroke-width="3.20"/>
<line x1="1976.00" y1="105.61" x2="1987.00" y2="105.61" stroke="#000" stroke-width="3.20"/>
<line x1="180.60" y1="58.23" x2="169.60" y2="58.23" stroke="#000" stroke-width="3.20"/>
<line x1="1976.00" y1="58.23" x2="1987.00" y2="58.23" stroke="#000" stroke-width="3.20"/>
<line x1="180.60" y1="24.62" x2="169.60" y2="24.62" stroke="#000" stroke-width="3.20"/>
<line x1="1976.00" y1="24.62" x2="1987.00" y2="24.62" stroke="#000" stroke-width="3.20"/>
<text x="222.55" y="1197.30" font-family='"DejaVu Serif", serif' font-size="32.00" fill="#000">3</text>
<text x="609.15" y="1197.30" font-family='"DejaVu Serif", serif' font-size="32.00" fill="#000">5</text>
<text x="1123.03" y="1197.30" font-family='"DejaVu Serif", serif' font-size="32.00" fill="#000">10</text>
<text x="1430.12" y="1197.30" font-family='"DejaVu Serif", serif' font-size="32.00" fill="#000">15</text>
<text x="1648.66" y="1197.30" font-family='"DejaVu Serif", serif' font-size="32.00" fill="#000">20</text>
<text x="1955.50" y="1197.30" font-family='"DejaVu Serif", serif' font-size="32.00" fill="#000">30</text>
<text x="52.20" y="198.90" font-family='"DejaVu Serif", serif' font-size="32.00" fill="#000">100.0</text>
<text x="72.45" y="467.95" font-family='"DejaVu Serif", serif' font-size="32.00" fill="#000">10.0</text>
<text x="92.95" y="737.00" font-family='"DejaVu Serif", serif' font-size="32.00" fill="#000">1.0</text>
<text x="95.45" y="1006.05" font-family='"DejaVu Serif", serif' font-size="32.00" fill="#000">0.1</text>
<text x="909.25" y="1245.40" font-family='"DejaVu Serif", serif' font-size="40.00" fill="#000" textLength="340.33" lengthAdjust="spacingAndGlyphs">Wavelength (µm)</text>
<text transform="translate(32.80 817.20) rotate(-90)" font-family='"DejaVu Serif", serif' font-size="40.00" fill="#000" textLength="472.63" lengthAdjust="spacingAndGlyphs">Scaled flux density (Jy)</text>
<text x="202.33" y="79.50" font-family='"Liberation Sans", Arial, sans-serif' font-size="48.00" fill="#000" textLength="52.27" lengthAdjust="spacingAndGlyphs" stroke="#000" stroke-width="0.7">(a)</text>
<text stroke="#9b0f5b" stroke-width="0.45" transform="translate(315.20 271.63) rotate(-90)" font-family='"Liberation Sans", Arial, sans-serif' font-size="37.20" fill="#9b0f5b" textLength="129.23" lengthAdjust="spacingAndGlyphs">3.3 PAH</text>
<text stroke="#9b0f5b" stroke-width="0.45" transform="translate(341.20 498.58) rotate(-90)" font-family='"Liberation Sans", Arial, sans-serif' font-size="37.20" fill="#9b0f5b" textLength="197.93" lengthAdjust="spacingAndGlyphs">3.4 Aliphatic</text>
<text stroke="#9b0f5b" stroke-width="0.45" transform="translate(801.60 414.17) rotate(-90)" font-family='"Liberation Sans", Arial, sans-serif' font-size="37.20" fill="#9b0f5b" textLength="129.79" lengthAdjust="spacingAndGlyphs">6.2 PAH</text>
<text stroke="#9b0f5b" stroke-width="0.45" transform="translate(961.10 296.01) rotate(-90)" font-family='"Liberation Sans", Arial, sans-serif' font-size="37.20" fill="#9b0f5b" textLength="130.14" lengthAdjust="spacingAndGlyphs">7.7 PAH</text>
<text stroke="#9b0f5b" stroke-width="0.45" transform="translate(1049.80 385.84) rotate(-90)" font-family='"Liberation Sans", Arial, sans-serif' font-size="37.20" fill="#9b0f5b" textLength="130.37" lengthAdjust="spacingAndGlyphs">8.6 PAH</text>
<text stroke="#9b0f5b" stroke-width="0.45" transform="translate(1246.90 282.08) rotate(-90)" font-family='"Liberation Sans", Arial, sans-serif' font-size="37.20" fill="#9b0f5b" textLength="150.01" lengthAdjust="spacingAndGlyphs">11.3 PAH</text>
<text stroke="#9b0f5b" stroke-width="0.45" transform="translate(1556.00 266.80) rotate(-90)" font-family='"Liberation Sans", Arial, sans-serif' font-size="37.20" fill="#9b0f5b" textLength="118.80" lengthAdjust="spacingAndGlyphs">17 PAH</text>
<text stroke="#000" stroke-width="0.35" x="535.70" y="420.10" font-family='"Liberation Serif", "Times New Roman", serif' font-size="33.50" fill="#000">Pf β</text>
<text stroke="#000" stroke-width="0.35" x="534.08" y="458.70" font-family='"Liberation Serif", "Times New Roman", serif' font-size="33.50" fill="#000">4.65</text>
<text stroke="#000" stroke-width="0.35" x="635.67" y="370.50" font-family='"Liberation Serif", "Times New Roman", serif' font-size="33.50" fill="#000">[FeII]</text>
<text stroke="#000" stroke-width="0.35" x="644.67" y="408.20" font-family='"Liberation Serif", "Times New Roman", serif' font-size="33.50" fill="#000">5.34</text>
<text stroke="#000" stroke-width="0.35" x="827.00" y="243.50" font-family='"Liberation Serif", "Times New Roman", serif' font-size="33.50" fill="#000">[ArII]</text>
<text stroke="#000" stroke-width="0.35" x="837.50" y="281.90" font-family='"Liberation Serif", "Times New Roman", serif' font-size="33.50" fill="#000">6.99</text>
<text stroke="#000" stroke-width="0.35" x="1144.65" y="336.50" font-family='"Liberation Serif", "Times New Roman", serif' font-size="33.50" fill="#000">[SIV]</text>
<text stroke="#000" stroke-width="0.35" x="1144.65" y="373.10" font-family='"Liberation Serif", "Times New Roman", serif' font-size="33.50" fill="#000">10.51</text>
<text stroke="#000" stroke-width="0.35" x="1290.53" y="69.00" font-family='"Liberation Serif", "Times New Roman", serif' font-size="33.50" fill="#000">[NeII]</text>
<text stroke="#000" stroke-width="0.35" x="1294.15" y="106.60" font-family='"Liberation Serif", "Times New Roman", serif' font-size="33.50" fill="#000">12.81</text>
<text stroke="#000" stroke-width="0.35" x="1415.30" y="239.00" font-family='"Liberation Serif", "Times New Roman", serif' font-size="33.50" fill="#000">[NeIII]</text>
<text stroke="#000" stroke-width="0.35" x="1424.05" y="277.40" font-family='"Liberation Serif", "Times New Roman", serif' font-size="33.50" fill="#000">15.56</text>
<text stroke="#000" stroke-width="0.35" x="1582.05" y="106.60" font-family='"Liberation Serif", "Times New Roman", serif' font-size="33.50" fill="#000">[SIII]</text>
<text stroke="#000" stroke-width="0.35" x="1581.05" y="145.00" font-family='"Liberation Serif", "Times New Roman", serif' font-size="33.50" fill="#000">18.71</text>
<line x1="565.20" y1="476.00" x2="565.20" y2="555.60" stroke="#222" stroke-width="1.80"/>
<line x1="668.40" y1="428.00" x2="668.40" y2="507.50" stroke="#222" stroke-width="1.80"/>
<line x1="1182.30" y1="396.30" x2="1182.30" y2="441.50" stroke="#222" stroke-width="1.80"/>
<rect x="1661.1" y="954.9" width="301.7" height="166" rx="6" ry="6" fill="#fff" fill-opacity="0.85" stroke="#d2d2d2" stroke-width="2"/>
<line x1="1670.50" y1="976.50" x2="1726.50" y2="976.50" stroke="#1f5b90" stroke-width="4.00"/>
<text x="1744.88" y="986.50" font-family='"DejaVu Serif", serif' font-size="27.00" fill="#000" textLength="100.49" lengthAdjust="spacingAndGlyphs">SF ring</text>
<line x1="1670.50" y1="1016.20" x2="1726.50" y2="1016.20" stroke="#4a9567" stroke-width="4.00"/>
<text x="1745.61" y="1026.20" font-family='"DejaVu Serif", serif' font-size="27.00" fill="#000" textLength="54.48" lengthAdjust="spacingAndGlyphs">Gap</text>
<line x1="1670.50" y1="1055.90" x2="1726.50" y2="1055.90" stroke="#d15659" stroke-width="4.00"/>
<text x="1745.87" y="1065.90" font-family='"DejaVu Serif", serif' font-size="27.00" fill="#000" textLength="109.95" lengthAdjust="spacingAndGlyphs">Nucleus</text>
<line x1="1670.50" y1="1095.30" x2="1726.50" y2="1095.30" stroke="#848484" stroke-width="4.00" stroke-dasharray="14.8 6.4"/>
<text x="1747.34" y="1105.30" font-family='"DejaVu Serif", serif' font-size="27.00" fill="#000" textLength="204.19" lengthAdjust="spacingAndGlyphs">AKARI+Spitzer</text>
<defs><clipPath id="clipB"><rect x="182.8" y="1298.0" width="834.8" height="565.4"/></clipPath></defs>
<g clip-path="url(#clipB)">
<path d="M184.0 1839.1 L185.5 1839.2 L187.0 1839.3 L188.5 1839.5 L190.0 1839.7 L191.5 1839.8 L193.0 1840.0 L194.5 1840.1 L196.0 1840.3 L197.5 1840.4 L199.0 1840.6 L200.5 1840.7 L202.0 1840.8 L203.5 1840.9 L205.0 1840.5 L206.5 1840.1 L208.0 1839.7 L209.5 1839.3 L211.0 1838.9 L212.5 1838.5 L214.0 1838.0 L215.5 1837.5 L217.0 1837.0 L218.5 1836.5 L220.0 1835.3 L221.5 1834.1 L223.0 1832.7 L224.5 1831.2 L226.0 1829.5 L227.5 1827.5 L229.0 1825.2 L230.5 1822.3 L232.0 1818.4 L233.5 1812.9 L235.0 1804.5 L236.5 1790.5 L238.0 1765.6 L239.5 1726.2 L241.0 1701.3 L242.5 1731.0 L244.0 1767.7 L245.5 1789.2 L247.0 1800.7 L248.5 1806.9 L250.0 1810.4 L251.5 1812.6 L253.0 1813.8 L254.5 1814.5 L256.0 1814.9 L257.5 1815.0 L259.0 1815.0 L260.5 1814.8 L262.0 1814.5 L263.5 1814.2 L265.0 1813.8 L266.5 1813.4 L268.0 1813.0 L269.5 1812.5 L271.0 1812.1 L272.5 1811.6 L274.0 1811.2 L275.5 1810.9 L277.0 1810.6 L278.5 1810.3 L280.0 1809.9 L281.5 1809.6 L283.0 1809.3 L284.5 1808.9 L286.0 1808.6 L287.5 1808.3 L289.0 1807.9 L290.5 1807.6 L292.0 1807.2 L293.5 1806.8 L295.0 1806.5 L296.5 1806.1 L298.0 1805.8 L299.5 1805.4 L301.0 1805.1 L302.5 1804.7 L304.0 1804.3 L305.5 1803.9 L307.0 1803.5 L308.5 1803.2 L310.0 1802.8 L311.5 1802.4 L313.0 1802.0 L314.5 1801.6 L316.0 1801.2 L317.5 1800.8 L319.0 1800.4 L320.5 1800.0 L322.0 1799.6 L323.5 1799.2 L325.0 1798.8 L326.5 1798.4 L328.0 1798.0 L329.5 1797.6 L331.0 1797.2 L332.5 1796.8 L334.0 1796.5 L335.5 1796.1 L337.0 1795.7 L338.5 1795.3 L340.0 1794.9 L341.5 1794.5 L343.0 1794.1 L344.5 1793.7 L346.0 1793.3 L347.5 1792.9 L349.0 1792.5 L350.5 1792.1 L352.0 1791.8 L353.5 1791.5 L355.0 1791.2 L356.5 1790.9 L358.0 1790.6 L359.5 1790.3 L361.0 1790.0 L362.5 1789.7 L364.0 1789.4 L365.5 1789.1 L367.0 1788.8 L368.5 1788.5 L370.0 1788.2 L371.5 1787.9 L373.0 1787.6 L374.5 1787.3 L376.0 1787.0 L377.5 1786.7 L379.0 1786.4 L380.5 1786.1 L382.0 1785.8 L383.5 1785.3 L385.0 1784.9 L386.5 1784.4 L388.0 1784.0 L389.5 1783.5 L391.0 1783.1 L392.5 1782.6 L394.0 1782.2 L395.5 1781.7 L397.0 1781.3 L398.5 1780.8 L400.0 1780.4 L401.5 1779.9 L403.0 1779.5 L404.5 1779.0 L406.0 1778.6 L407.5 1778.1 L409.0 1777.7 L410.5 1777.2 L412.0 1776.8 L413.5 1776.4 L415.0 1776.0 L416.5 1775.6 L418.0 1775.2 L419.5 1774.8 L421.0 1774.4 L422.5 1774.0 L424.0 1773.6 L425.5 1773.2 L427.0 1772.8 L428.5 1772.4 L430.0 1772.0 L431.5 1771.6 L433.0 1771.2 L434.5 1770.8 L436.0 1770.4 L437.5 1770.0 L439.0 1769.6 L440.5 1769.1 L442.0 1768.4 L443.5 1767.7 L445.0 1767.0 L446.5 1766.4 L448.0 1765.7 L449.5 1765.0 L451.0 1764.3 L452.5 1763.7 L454.0 1763.0 L455.5 1762.3 L457.0 1761.6 L458.5 1761.0 L460.0 1760.3 L461.5 1759.6 L463.0 1758.9 L464.5 1758.3 L466.0 1757.6 L467.5 1756.9 L469.0 1756.2 L470.5 1755.6 L472.0 1754.9 L473.5 1754.2 L475.0 1753.5 L476.5 1752.9 L478.0 1752.2 L479.5 1751.5 L481.0 1750.8 L482.5 1750.2 L484.0 1749.5 L485.5 1748.8 L487.0 1748.1 L488.5 1747.5 L490.0 1746.8 L491.5 1746.1 L493.0 1745.4 L494.5 1744.8 L496.0 1744.1 L497.5 1743.4 L499.0 1742.7 L500.5 1742.1 L502.0 1741.4 L503.5 1740.7 L505.0 1740.0 L506.5 1739.4 L508.0 1738.7 L509.5 1738.0 L511.0 1737.3 L512.5 1736.7 L514.0 1736.0 L515.5 1735.3 L517.0 1734.6 L518.5 1734.0 L520.0 1733.3 L521.5 1732.6 L523.0 1731.9 L524.5 1731.2 L526.0 1730.5 L527.5 1729.8 L529.0 1729.1 L530.5 1728.4 L532.0 1727.7 L533.5 1727.0 L535.0 1726.3 L536.5 1725.6 L538.0 1724.9 L539.5 1724.2 L541.0 1723.5 L542.5 1722.8 L544.0 1722.1 L545.5 1721.4 L547.0 1720.7 L548.5 1720.0 L550.0 1719.2 L551.5 1718.0 L553.0 1716.8 L554.5 1715.6 L556.0 1714.4 L557.5 1713.2 L559.0 1712.0 L560.5 1710.8 L562.0 1709.6 L563.5 1708.4 L565.0 1707.2 L566.5 1706.0 L568.0 1704.8 L569.5 1703.6 L571.0 1702.4 L572.5 1701.2 L574.0 1700.0 L575.5 1698.8 L577.0 1697.6 L578.5 1696.4 L580.0 1695.1 L581.5 1693.5 L583.0 1691.8 L584.5 1690.2 L586.0 1688.5 L587.5 1686.9 L589.0 1685.2 L590.5 1683.6 L592.0 1681.9 L593.5 1680.3 L595.0 1678.6 L596.5 1677.0 L598.0 1675.3 L599.5 1673.7 L601.0 1671.9 L602.5 1670.1 L604.0 1668.3 L605.5 1666.5 L607.0 1664.7 L608.5 1662.9 L610.0 1661.1 L611.5 1659.3 L613.0 1657.5 L614.5 1655.7 L616.0 1653.9 L617.5 1652.1 L619.0 1650.3 L620.5 1648.7 L622.0 1647.2 L623.5 1645.7 L625.0 1644.2 L626.5 1642.7 L628.0 1641.2 L629.5 1639.7 L631.0 1638.2 L632.5 1636.7 L634.0 1635.2 L635.5 1633.7 L637.0 1632.2 L638.5 1630.7 L640.0 1629.2 L641.5 1627.7 L643.0 1626.2 L644.5 1624.7 L646.0 1623.2 L647.5 1621.7 L649.0 1620.2 L650.5 1618.7 L652.0 1617.2 L653.5 1615.7 L655.0 1614.2 L656.5 1612.7 L658.0 1611.2 L659.5 1609.7 L661.0 1608.3 L662.5 1607.0 L664.0 1605.6 L665.5 1604.3 L667.0 1602.9 L668.5 1601.6 L670.0 1600.2 L671.5 1598.9 L673.0 1597.5 L674.5 1596.2 L676.0 1594.8 L677.5 1593.5 L679.0 1592.1 L680.5 1590.9 L682.0 1589.7 L683.5 1588.5 L685.0 1587.3 L686.5 1586.1 L688.0 1584.9 L689.5 1583.7 L691.0 1582.5 L692.5 1581.3 L694.0 1580.1 L695.5 1578.9 L697.0 1577.7 L698.5 1576.5 L700.0 1575.1 L701.5 1573.2 L703.0 1571.4 L704.5 1569.6 L706.0 1567.8 L707.5 1565.9 L709.0 1564.1 L710.5 1562.3 L712.0 1560.5 L713.5 1558.7 L715.0 1556.8 L716.5 1555.0 L718.0 1553.2 L719.5 1551.4 L721.0 1549.5 L722.5 1547.7 L724.0 1545.9 L725.5 1544.1 L727.0 1542.2 L728.5 1540.4 L730.0 1538.6 L731.5 1536.8 L733.0 1535.0 L734.5 1533.1 L736.0 1531.3 L737.5 1529.5 L739.0 1527.7 L740.5 1525.8 L742.0 1524.0 L743.5 1522.2 L745.0 1520.4 L746.5 1518.5 L748.0 1516.7 L749.5 1514.9 L751.0 1513.4 L752.5 1511.9 L754.0 1510.4 L755.5 1508.9 L757.0 1507.4 L758.5 1505.9 L760.0 1504.4 L761.5 1502.9 L763.0 1501.4 L764.5 1499.9 L766.0 1498.4 L767.5 1496.3 L769.0 1494.2 L770.5 1492.1 L772.0 1490.0 L773.5 1487.9 L775.0 1485.8 L776.5 1483.7 L778.0 1481.6 L779.5 1479.5 L781.0 1477.4 L782.5 1475.3 L784.0 1473.5 L785.5 1471.7 L787.0 1469.9 L788.5 1468.1 L790.0 1466.3 L791.5 1464.5 L793.0 1462.7 L794.5 1460.9 L796.0 1459.1 L797.5 1457.3 L799.0 1455.5 L800.5 1453.7 L802.0 1451.9 L803.5 1450.1 L805.0 1448.3 L806.5 1446.5 L808.0 1444.7 L809.5 1442.9 L811.0 1441.1 L812.5 1439.3 L814.0 1437.5 L815.5 1435.7 L817.0 1434.0 L818.5 1432.3 L820.0 1430.6 L821.5 1428.9 L823.0 1427.2 L824.5 1425.6 L826.0 1423.9 L827.5 1422.2 L829.0 1420.4 L830.5 1417.3 L832.0 1414.2 L833.5 1411.0 L835.0 1407.9 L836.5 1405.1 L838.0 1404.0 L839.5 1403.0 L841.0 1401.9 L842.5 1400.8 L844.0 1399.7 L845.5 1398.6 L847.0 1397.5 L848.5 1396.4 L850.0 1395.2 L851.5 1394.1 L853.0 1393.1 L854.5 1392.1 L856.0 1391.2 L857.5 1390.2 L859.0 1389.3 L860.5 1388.4 L862.0 1387.4 L863.5 1386.3 L865.0 1385.2 L866.5 1384.1 L868.0 1383.1 L869.5 1381.9 L871.0 1380.8 L872.5 1379.6 L874.0 1378.4 L875.5 1377.2 L877.0 1376.0 L878.5 1374.6 L880.0 1373.2 L881.5 1371.7 L883.0 1370.3 L884.5 1368.9 L886.0 1367.6 L887.5 1366.2 L889.0 1364.9 L890.5 1363.5 L892.0 1362.2 L893.5 1360.8 L895.0 1359.5 L896.5 1358.2 L898.0 1357.0 L899.5 1355.8 L901.0 1354.6 L902.5 1353.4 L904.0 1352.2 L905.5 1351.0 L907.0 1349.8 L908.5 1348.5 L910.0 1347.2 L911.5 1345.9 L913.0 1344.6 L914.5 1343.3 L916.0 1342.0 L917.5 1340.7 L919.0 1339.4 L920.5 1338.1 L922.0 1336.8 L923.5 1335.5 L925.0 1334.3 L926.5 1333.1 L928.0 1331.9 L929.5 1330.7 L931.0 1329.5 L932.5 1328.3 L934.0 1327.1 L935.5 1325.9 L937.0 1324.7 L938.5 1323.5 L940.0 1322.2 L941.5 1320.9 L943.0 1319.5 L944.5 1318.2 L946.0 1316.8 L947.5 1315.5 L949.0 1314.1 L950.5 1312.8 L952.0 1311.6 L953.5 1310.3 L955.0 1309.1 L956.5 1307.9 L958.0 1306.7 L959.5 1305.4 L961.0 1304.2 L962.5 1303.0 L964.0 1301.7 L965.5 1300.5 L967.0 1299.2 L968.5 1298.0 L970.0 1296.7 L971.5 1295.5 L973.0 1294.3 L974.5 1293.1 L976.0 1291.9 L977.5 1290.7 L979.0 1289.5 L980.5 1288.3 L982.0 1287.1 L983.5 1285.9 L985.0 1284.7 L986.5 1283.5 L988.0 1282.3 L989.5 1281.2 L991.0 1280.1 L992.5 1279.0 L994.0 1277.9 L995.5 1276.8 L997.0 1275.7 L998.5 1274.6 L1000.0 1273.5 L1001.5 1272.4 L1003.0 1271.3 L1004.5 1270.2 L1006.0 1270.2 L1007.5 1270.2 L1009.0 1270.2 L1010.5 1270.2 L1012.0 1270.2 L1013.5 1270.2 L1015.0 1270.2" fill="none" stroke="#b865cc" stroke-opacity="0.55" stroke-width="1.3"/>
<path d="M184.0 1839.4 L185.5 1839.5 L187.0 1839.7 L188.5 1839.9 L190.0 1840.1 L191.5 1840.3 L193.0 1840.5 L194.5 1840.6 L196.0 1840.8 L197.5 1841.0 L199.0 1841.2 L200.5 1841.4 L202.0 1841.6 L203.5 1841.7 L205.0 1841.4 L206.5 1841.1 L208.0 1840.8 L209.5 1840.5 L211.0 1840.2 L212.5 1839.9 L214.0 1839.6 L215.5 1839.3 L217.0 1839.0 L218.5 1838.7 L220.0 1837.9 L221.5 1837.0 L223.0 1836.1 L224.5 1835.2 L226.0 1834.3 L227.5 1833.3 L229.0 1832.4 L230.5 1831.5 L232.0 1830.6 L233.5 1829.7 L235.0 1828.9 L236.5 1828.1 L238.0 1827.3 L239.5 1826.6 L241.0 1825.8 L242.5 1824.9 L244.0 1824.1 L245.5 1823.2 L247.0 1822.1 L248.5 1820.8 L250.0 1818.5 L251.5 1814.3 L253.0 1812.6 L254.5 1816.1 L256.0 1817.4 L257.5 1817.6 L259.0 1817.3 L260.5 1816.9 L262.0 1816.4 L263.5 1815.9 L265.0 1815.3 L266.5 1814.8 L268.0 1814.2 L269.5 1813.6 L271.0 1813.0 L272.5 1812.4 L274.0 1812.0 L275.5 1811.6 L277.0 1811.3 L278.5 1810.9 L280.0 1810.5 L281.5 1810.1 L283.0 1809.8 L284.5 1809.4 L286.0 1809.0 L287.5 1808.7 L289.0 1808.3 L290.5 1807.9 L292.0 1807.5 L293.5 1807.2 L295.0 1806.8 L296.5 1806.4 L298.0 1806.0 L299.5 1805.7 L301.0 1805.3 L302.5 1804.9 L304.0 1804.5 L305.5 1804.1 L307.0 1803.7 L308.5 1803.3 L310.0 1802.9 L311.5 1802.5 L313.0 1802.1 L314.5 1801.7 L316.0 1801.3 L317.5 1800.9 L319.0 1800.5 L320.5 1800.1 L322.0 1799.7 L323.5 1799.3 L325.0 1798.9 L326.5 1798.5 L328.0 1798.1 L329.5 1797.7 L331.0 1797.3 L332.5 1796.9 L334.0 1796.5 L335.5 1796.1 L337.0 1795.7 L338.5 1795.3 L340.0 1794.9 L341.5 1794.5 L343.0 1794.1 L344.5 1793.7 L346.0 1793.3 L347.5 1792.9 L349.0 1792.5 L350.5 1792.1 L352.0 1791.8 L353.5 1791.5 L355.0 1791.2 L356.5 1790.9 L358.0 1790.6 L359.5 1790.3 L361.0 1790.0 L362.5 1789.7 L364.0 1789.4 L365.5 1789.1 L367.0 1788.8 L368.5 1788.5 L370.0 1788.2 L371.5 1787.9 L373.0 1787.6 L374.5 1787.3 L376.0 1787.1 L377.5 1786.8 L379.0 1786.5 L380.5 1786.2 L382.0 1785.8 L383.5 1785.3 L385.0 1784.9 L386.5 1784.4 L388.0 1784.0 L389.5 1783.5 L391.0 1783.1 L392.5 1782.6 L394.0 1782.2 L395.5 1781.7 L397.0 1781.3 L398.5 1780.8 L400.0 1780.4 L401.5 1779.9 L403.0 1779.5 L404.5 1779.0 L406.0 1778.6 L407.5 1778.1 L409.0 1777.7 L410.5 1777.2 L412.0 1776.8 L413.5 1776.4 L415.0 1776.0 L416.5 1775.6 L418.0 1775.2 L419.5 1774.8 L421.0 1774.4 L422.5 1774.0 L424.0 1773.6 L425.5 1773.2 L427.0 1772.8 L428.5 1772.4 L430.0 1772.0 L431.5 1771.6 L433.0 1771.2 L434.5 1770.8 L436.0 1770.4 L437.5 1770.0 L439.0 1769.6 L440.5 1769.1 L442.0 1768.4 L443.5 1767.7 L445.0 1767.1 L446.5 1766.4 L448.0 1765.7 L449.5 1765.0 L451.0 1764.4 L452.5 1763.7 L454.0 1763.0 L455.5 1762.3 L457.0 1761.7 L458.5 1761.0 L460.0 1760.3 L461.5 1759.6 L463.0 1759.0 L464.5 1758.3 L466.0 1757.6 L467.5 1756.9 L469.0 1756.3 L470.5 1755.6 L472.0 1754.9 L473.5 1754.2 L475.0 1753.6 L476.5 1752.9 L478.0 1752.2 L479.5 1751.5 L481.0 1750.9 L482.5 1750.2 L484.0 1749.5 L485.5 1748.8 L487.0 1748.2 L488.5 1747.5 L490.0 1746.8 L491.5 1746.1 L493.0 1745.5 L494.5 1744.8 L496.0 1744.1 L497.5 1743.4 L499.0 1742.8 L500.5 1742.1 L502.0 1741.4 L503.5 1740.7 L505.0 1740.1 L506.5 1739.4 L508.0 1738.7 L509.5 1738.0 L511.0 1737.4 L512.5 1736.7 L514.0 1736.0 L515.5 1735.3 L517.0 1734.7 L518.5 1734.0 L520.0 1733.3 L521.5 1732.6 L523.0 1731.9 L524.5 1731.2 L526.0 1730.5 L527.5 1729.8 L529.0 1729.1 L530.5 1728.4 L532.0 1727.7 L533.5 1727.0 L535.0 1726.3 L536.5 1725.6 L538.0 1724.9 L539.5 1724.2 L541.0 1723.5 L542.5 1722.8 L544.0 1722.1 L545.5 1721.4 L547.0 1720.7 L548.5 1720.0 L550.0 1719.2 L551.5 1718.0 L553.0 1716.8 L554.5 1715.6 L556.0 1714.4 L557.5 1713.2 L559.0 1712.0 L560.5 1710.8 L562.0 1709.6 L563.5 1708.4 L565.0 1707.2 L566.5 1706.0 L568.0 1704.8 L569.5 1703.6 L571.0 1702.4 L572.5 1701.2 L574.0 1700.0 L575.5 1698.8 L577.0 1697.6 L578.5 1696.4 L580.0 1695.1 L581.5 1693.5 L583.0 1691.8 L584.5 1690.2 L586.0 1688.5 L587.5 1686.9 L589.0 1685.2 L590.5 1683.6 L592.0 1681.9 L593.5 1680.3 L595.0 1678.6 L596.5 1677.0 L598.0 1675.3 L599.5 1673.7 L601.0 1671.9 L602.5 1670.1 L604.0 1668.3 L605.5 1666.5 L607.0 1664.7 L608.5 1662.9 L610.0 1661.1 L611.5 1659.3 L613.0 1657.5 L614.5 1655.7 L616.0 1653.9 L617.5 1652.1 L619.0 1650.3 L620.5 1648.7 L622.0 1647.2 L623.5 1645.7 L625.0 1644.2 L626.5 1642.7 L628.0 1641.2 L629.5 1639.7 L631.0 1638.2 L632.5 1636.7 L634.0 1635.2 L635.5 1633.7 L637.0 1632.2 L638.5 1630.7 L640.0 1629.2 L641.5 1627.7 L643.0 1626.2 L644.5 1624.7 L646.0 1623.2 L647.5 1621.7 L649.0 1620.2 L650.5 1618.7 L652.0 1617.2 L653.5 1615.7 L655.0 1614.2 L656.5 1612.7 L658.0 1611.2 L659.5 1609.7 L661.0 1608.3 L662.5 1607.0 L664.0 1605.6 L665.5 1604.3 L667.0 1602.9 L668.5 1601.6 L670.0 1600.2 L671.5 1598.9 L673.0 1597.5 L674.5 1596.2 L676.0 1594.8 L677.5 1593.5 L679.0 1592.1 L680.5 1590.9 L682.0 1589.7 L683.5 1588.5 L685.0 1587.3 L686.5 1586.1 L688.0 1584.9 L689.5 1583.7 L691.0 1582.5 L692.5 1581.3 L694.0 1580.1 L695.5 1578.9 L697.0 1577.7 L698.5 1576.5 L700.0 1575.1 L701.5 1573.2 L703.0 1571.4 L704.5 1569.6 L706.0 1567.8 L707.5 1565.9 L709.0 1564.1 L710.5 1562.3 L712.0 1560.5 L713.5 1558.7 L715.0 1556.8 L716.5 1555.0 L718.0 1553.2 L719.5 1551.4 L721.0 1549.5 L722.5 1547.7 L724.0 1545.9 L725.5 1544.1 L727.0 1542.2 L728.5 1540.4 L730.0 1538.6 L731.5 1536.8 L733.0 1535.0 L734.5 1533.1 L736.0 1531.3 L737.5 1529.5 L739.0 1527.7 L740.5 1525.8 L742.0 1524.0 L743.5 1522.2 L745.0 1520.4 L746.5 1518.5 L748.0 1516.7 L749.5 1514.9 L751.0 1513.4 L752.5 1511.9 L754.0 1510.4 L755.5 1508.9 L757.0 1507.4 L758.5 1505.9 L760.0 1504.4 L761.5 1502.9 L763.0 1501.4 L764.5 1499.9 L766.0 1498.4 L767.5 1496.3 L769.0 1494.2 L770.5 1492.1 L772.0 1490.0 L773.5 1487.9 L775.0 1485.8 L776.5 1483.7 L778.0 1481.6 L779.5 1479.5 L781.0 1477.4 L782.5 1475.3 L784.0 1473.5 L785.5 1471.7 L787.0 1469.9 L788.5 1468.1 L790.0 1466.3 L791.5 1464.5 L793.0 1462.7 L794.5 1460.9 L796.0 1459.1 L797.5 1457.3 L799.0 1455.5 L800.5 1453.7 L802.0 1451.9 L803.5 1450.1 L805.0 1448.3 L806.5 1446.5 L808.0 1444.7 L809.5 1442.9 L811.0 1441.1 L812.5 1439.3 L814.0 1437.5 L815.5 1435.7 L817.0 1434.0 L818.5 1432.3 L820.0 1430.6 L821.5 1428.9 L823.0 1427.2 L824.5 1425.6 L826.0 1423.9 L827.5 1422.2 L829.0 1420.4 L830.5 1417.3 L832.0 1414.2 L833.5 1411.0 L835.0 1407.9 L836.5 1405.1 L838.0 1404.0 L839.5 1403.0 L841.0 1401.9 L842.5 1400.8 L844.0 1399.7 L845.5 1398.6 L847.0 1397.5 L848.5 1396.4 L850.0 1395.2 L851.5 1394.1 L853.0 1393.1 L854.5 1392.1 L856.0 1391.2 L857.5 1390.2 L859.0 1389.3 L860.5 1388.4 L862.0 1387.4 L863.5 1386.3 L865.0 1385.2 L866.5 1384.1 L868.0 1383.1 L869.5 1382.0 L871.0 1380.8 L872.5 1379.6 L874.0 1378.4 L875.5 1377.2 L877.0 1376.0 L878.5 1374.6 L880.0 1373.2 L881.5 1371.7 L883.0 1370.3 L884.5 1368.9 L886.0 1367.6 L887.5 1366.2 L889.0 1364.9 L890.5 1363.5 L892.0 1362.2 L893.5 1360.8 L895.0 1359.5 L896.5 1358.2 L898.0 1357.0 L899.5 1355.8 L901.0 1354.6 L902.5 1353.4 L904.0 1352.2 L905.5 1351.0 L907.0 1349.8 L908.5 1348.5 L910.0 1347.2 L911.5 1345.9 L913.0 1344.6 L914.5 1343.3 L916.0 1342.0 L917.5 1340.7 L919.0 1339.4 L920.5 1338.1 L922.0 1336.8 L923.5 1335.5 L925.0 1334.3 L926.5 1333.1 L928.0 1331.9 L929.5 1330.7 L931.0 1329.5 L932.5 1328.3 L934.0 1327.1 L935.5 1325.9 L937.0 1324.7 L938.5 1323.5 L940.0 1322.2 L941.5 1320.9 L943.0 1319.5 L944.5 1318.2 L946.0 1316.8 L947.5 1315.5 L949.0 1314.1 L950.5 1312.8 L952.0 1311.6 L953.5 1310.3 L955.0 1309.1 L956.5 1307.9 L958.0 1306.7 L959.5 1305.4 L961.0 1304.2 L962.5 1303.0 L964.0 1301.7 L965.5 1300.5 L967.0 1299.2 L968.5 1298.0 L970.0 1296.7 L971.5 1295.5 L973.0 1294.3 L974.5 1293.1 L976.0 1291.9 L977.5 1290.7 L979.0 1289.5 L980.5 1288.3 L982.0 1287.1 L983.5 1285.9 L985.0 1284.7 L986.5 1283.5 L988.0 1282.3 L989.5 1281.2 L991.0 1280.1 L992.5 1279.0 L994.0 1277.9 L995.5 1276.8 L997.0 1275.7 L998.5 1274.6 L1000.0 1273.5 L1001.5 1272.4 L1003.0 1271.3 L1004.5 1270.2 L1006.0 1270.2 L1007.5 1270.2 L1009.0 1270.2 L1010.5 1270.2 L1012.0 1270.2 L1013.5 1270.2 L1015.0 1270.2" fill="none" stroke="#b865cc" stroke-opacity="0.55" stroke-width="1.3"/>
<path d="M184.0 1839.4 L185.5 1839.5 L187.0 1839.7 L188.5 1839.9 L190.0 1840.0 L191.5 1840.2 L193.0 1840.4 L194.5 1840.6 L196.0 1840.8 L197.5 1841.0 L199.0 1841.2 L200.5 1841.3 L202.0 1841.5 L203.5 1841.6 L205.0 1841.3 L206.5 1841.0 L208.0 1840.7 L209.5 1840.4 L211.0 1840.1 L212.5 1839.8 L214.0 1839.5 L215.5 1839.2 L217.0 1838.9 L218.5 1838.6 L220.0 1837.8 L221.5 1836.8 L223.0 1835.9 L224.5 1835.0 L226.0 1834.1 L227.5 1833.2 L229.0 1832.3 L230.5 1831.3 L232.0 1830.4 L233.5 1829.5 L235.0 1828.6 L236.5 1827.8 L238.0 1827.0 L239.5 1826.2 L241.0 1825.4 L242.5 1824.6 L244.0 1823.7 L245.5 1822.8 L247.0 1821.9 L248.5 1820.9 L250.0 1819.8 L251.5 1818.8 L253.0 1817.5 L254.5 1816.1 L256.0 1814.3 L257.5 1812.5 L259.0 1811.1 L260.5 1810.6 L262.0 1811.0 L263.5 1811.7 L265.0 1812.2 L266.5 1812.4 L268.0 1812.4 L269.5 1812.2 L271.0 1811.9 L272.5 1811.5 L274.0 1811.3 L275.5 1811.0 L277.0 1810.7 L278.5 1810.4 L280.0 1810.1 L281.5 1809.8 L283.0 1809.5 L284.5 1809.1 L286.0 1808.8 L287.5 1808.4 L289.0 1808.1 L290.5 1807.7 L292.0 1807.4 L293.5 1807.0 L295.0 1806.7 L296.5 1806.3 L298.0 1805.9 L299.5 1805.6 L301.0 1805.2 L302.5 1804.8 L304.0 1804.5 L305.5 1804.1 L307.0 1803.7 L308.5 1803.3 L310.0 1802.9 L311.5 1802.5 L313.0 1802.1 L314.5 1801.7 L316.0 1801.3 L317.5 1800.9 L319.0 1800.5 L320.5 1800.1 L322.0 1799.7 L323.5 1799.3 L325.0 1798.9 L326.5 1798.5 L328.0 1798.1 L329.5 1797.7 L331.0 1797.3 L332.5 1796.9 L334.0 1796.5 L335.5 1796.1 L337.0 1795.7 L338.5 1795.3 L340.0 1794.9 L341.5 1794.5 L343.0 1794.1 L344.5 1793.7 L346.0 1793.3 L347.5 1792.9 L349.0 1792.5 L350.5 1792.1 L352.0 1791.8 L353.5 1791.5 L355.0 1791.2 L356.5 1790.9 L358.0 1790.6 L359.5 1790.3 L361.0 1790.0 L362.5 1789.7 L364.0 1789.4 L365.5 1789.1 L367.0 1788.8 L368.5 1788.5 L370.0 1788.2 L371.5 1787.9 L373.0 1787.6 L374.5 1787.3 L376.0 1787.0 L377.5 1786.7 L379.0 1786.4 L380.5 1786.1 L382.0 1785.8 L383.5 1785.3 L385.0 1784.9 L386.5 1784.4 L388.0 1784.0 L389.5 1783.5 L391.0 1783.1 L392.5 1782.6 L394.0 1782.2 L395.5 1781.7 L397.0 1781.3 L398.5 1780.8 L400.0 1780.4 L401.5 1779.9 L403.0 1779.5 L404.5 1779.0 L406.0 1778.6 L407.5 1778.1 L409.0 1777.7 L410.5 1777.2 L412.0 1776.8 L413.5 1776.4 L415.0 1776.0 L416.5 1775.6 L418.0 1775.2 L419.5 1774.8 L421.0 1774.4 L422.5 1774.0 L424.0 1773.6 L425.5 1773.2 L427.0 1772.8 L428.5 1772.4 L430.0 1772.0 L431.5 1771.6 L433.0 1771.2 L434.5 1770.8 L436.0 1770.4 L437.5 1770.0 L439.0 1769.6 L440.5 1769.1 L442.0 1768.4 L443.5 1767.7 L445.0 1767.0 L446.5 1766.4 L448.0 1765.7 L449.5 1765.0 L451.0 1764.3 L452.5 1763.7 L454.0 1763.0 L455.5 1762.3 L457.0 1761.6 L458.5 1761.0 L460.0 1760.3 L461.5 1759.6 L463.0 1758.9 L464.5 1758.3 L466.0 1757.6 L467.5 1756.9 L469.0 1756.2 L470.5 1755.6 L472.0 1754.9 L473.5 1754.2 L475.0 1753.5 L476.5 1752.9 L478.0 1752.2 L479.5 1751.5 L481.0 1750.8 L482.5 1750.2 L484.0 1749.5 L485.5 1748.8 L487.0 1748.1 L488.5 1747.5 L490.0 1746.8 L491.5 1746.1 L493.0 1745.4 L494.5 1744.8 L496.0 1744.1 L497.5 1743.4 L499.0 1742.7 L500.5 1742.1 L502.0 1741.4 L503.5 1740.7 L505.0 1740.0 L506.5 1739.4 L508.0 1738.7 L509.5 1738.0 L511.0 1737.3 L512.5 1736.7 L514.0 1736.0 L515.5 1735.3 L517.0 1734.7 L518.5 1734.0 L520.0 1733.3 L521.5 1732.6 L523.0 1731.9 L524.5 1731.2 L526.0 1730.5 L527.5 1729.8 L529.0 1729.1 L530.5 1728.4 L532.0 1727.7 L533.5 1727.0 L535.0 1726.3 L536.5 1725.6 L538.0 1724.9 L539.5 1724.2 L541.0 1723.5 L542.5 1722.8 L544.0 1722.1 L545.5 1721.4 L547.0 1720.7 L548.5 1720.0 L550.0 1719.2 L551.5 1718.0 L553.0 1716.8 L554.5 1715.6 L556.0 1714.4 L557.5 1713.2 L559.0 1712.0 L560.5 1710.8 L562.0 1709.6 L563.5 1708.4 L565.0 1707.2 L566.5 1706.0 L568.0 1704.8 L569.5 1703.6 L571.0 1702.4 L572.5 1701.2 L574.0 1700.0 L575.5 1698.8 L577.0 1697.6 L578.5 1696.4 L580.0 1695.1 L581.5 1693.5 L583.0 1691.8 L584.5 1690.2 L586.0 1688.5 L587.5 1686.9 L589.0 1685.2 L590.5 1683.6 L592.0 1681.9 L593.5 1680.3 L595.0 1678.6 L596.5 1677.0 L598.0 1675.3 L599.5 1673.7 L601.0 1671.9 L602.5 1670.1 L604.0 1668.3 L605.5 1666.5 L607.0 1664.7 L608.5 1662.9 L610.0 1661.1 L611.5 1659.3 L613.0 1657.5 L614.5 1655.7 L616.0 1653.9 L617.5 1652.1 L619.0 1650.3 L620.5 1648.7 L622.0 1647.2 L623.5 1645.7 L625.0 1644.2 L626.5 1642.7 L628.0 1641.2 L629.5 1639.7 L631.0 1638.2 L632.5 1636.7 L634.0 1635.2 L635.5 1633.7 L637.0 1632.2 L638.5 1630.7 L640.0 1629.2 L641.5 1627.7 L643.0 1626.2 L644.5 1624.7 L646.0 1623.2 L647.5 1621.7 L649.0 1620.2 L650.5 1618.7 L652.0 1617.2 L653.5 1615.7 L655.0 1614.2 L656.5 1612.7 L658.0 1611.2 L659.5 1609.7 L661.0 1608.3 L662.5 1607.0 L664.0 1605.6 L665.5 1604.3 L667.0 1602.9 L668.5 1601.6 L670.0 1600.2 L671.5 1598.9 L673.0 1597.5 L674.5 1596.2 L676.0 1594.8 L677.5 1593.5 L679.0 1592.1 L680.5 1590.9 L682.0 1589.7 L683.5 1588.5 L685.0 1587.3 L686.5 1586.1 L688.0 1584.9 L689.5 1583.7 L691.0 1582.5 L692.5 1581.3 L694.0 1580.1 L695.5 1578.9 L697.0 1577.7 L698.5 1576.5 L700.0 1575.1 L701.5 1573.2 L703.0 1571.4 L704.5 1569.6 L706.0 1567.8 L707.5 1565.9 L709.0 1564.1 L710.5 1562.3 L712.0 1560.5 L713.5 1558.7 L715.0 1556.8 L716.5 1555.0 L718.0 1553.2 L719.5 1551.4 L721.0 1549.5 L722.5 1547.7 L724.0 1545.9 L725.5 1544.1 L727.0 1542.2 L728.5 1540.4 L730.0 1538.6 L731.5 1536.8 L733.0 1535.0 L734.5 1533.1 L736.0 1531.3 L737.5 1529.5 L739.0 1527.7 L740.5 1525.8 L742.0 1524.0 L743.5 1522.2 L745.0 1520.4 L746.5 1518.5 L748.0 1516.7 L749.5 1514.9 L751.0 1513.4 L752.5 1511.9 L754.0 1510.4 L755.5 1508.9 L757.0 1507.4 L758.5 1505.9 L760.0 1504.4 L761.5 1502.9 L763.0 1501.4 L764.5 1499.9 L766.0 1498.4 L767.5 1496.3 L769.0 1494.2 L770.5 1492.1 L772.0 1490.0 L773.5 1487.9 L775.0 1485.8 L776.5 1483.7 L778.0 1481.6 L779.5 1479.5 L781.0 1477.4 L782.5 1475.3 L784.0 1473.5 L785.5 1471.7 L787.0 1469.9 L788.5 1468.1 L790.0 1466.3 L791.5 1464.5 L793.0 1462.7 L794.5 1460.9 L796.0 1459.1 L797.5 1457.3 L799.0 1455.5 L800.5 1453.7 L802.0 1451.9 L803.5 1450.1 L805.0 1448.3 L806.5 1446.5 L808.0 1444.7 L809.5 1442.9 L811.0 1441.1 L812.5 1439.3 L814.0 1437.5 L815.5 1435.7 L817.0 1434.0 L818.5 1432.3 L820.0 1430.6 L821.5 1428.9 L823.0 1427.2 L824.5 1425.6 L826.0 1423.9 L827.5 1422.2 L829.0 1420.4 L830.5 1417.3 L832.0 1414.2 L833.5 1411.0 L835.0 1407.9 L836.5 1405.1 L838.0 1404.0 L839.5 1403.0 L841.0 1401.9 L842.5 1400.8 L844.0 1399.7 L845.5 1398.6 L847.0 1397.5 L848.5 1396.4 L850.0 1395.2 L851.5 1394.1 L853.0 1393.1 L854.5 1392.1 L856.0 1391.2 L857.5 1390.2 L859.0 1389.3 L860.5 1388.4 L862.0 1387.4 L863.5 1386.3 L865.0 1385.2 L866.5 1384.1 L868.0 1383.1 L869.5 1382.0 L871.0 1380.8 L872.5 1379.6 L874.0 1378.4 L875.5 1377.2 L877.0 1376.0 L878.5 1374.6 L880.0 1373.2 L881.5 1371.7 L883.0 1370.3 L884.5 1368.9 L886.0 1367.6 L887.5 1366.2 L889.0 1364.9 L890.5 1363.5 L892.0 1362.2 L893.5 1360.8 L895.0 1359.5 L896.5 1358.2 L898.0 1357.0 L899.5 1355.8 L901.0 1354.6 L902.5 1353.4 L904.0 1352.2 L905.5 1351.0 L907.0 1349.8 L908.5 1348.5 L910.0 1347.2 L911.5 1345.9 L913.0 1344.6 L914.5 1343.3 L916.0 1342.0 L917.5 1340.7 L919.0 1339.4 L920.5 1338.1 L922.0 1336.8 L923.5 1335.5 L925.0 1334.3 L926.5 1333.1 L928.0 1331.9 L929.5 1330.7 L931.0 1329.5 L932.5 1328.3 L934.0 1327.1 L935.5 1325.9 L937.0 1324.7 L938.5 1323.5 L940.0 1322.2 L941.5 1320.9 L943.0 1319.5 L944.5 1318.2 L946.0 1316.8 L947.5 1315.5 L949.0 1314.1 L950.5 1312.8 L952.0 1311.6 L953.5 1310.3 L955.0 1309.1 L956.5 1307.9 L958.0 1306.7 L959.5 1305.4 L961.0 1304.2 L962.5 1303.0 L964.0 1301.7 L965.5 1300.5 L967.0 1299.2 L968.5 1298.0 L970.0 1296.7 L971.5 1295.5 L973.0 1294.3 L974.5 1293.1 L976.0 1291.9 L977.5 1290.7 L979.0 1289.5 L980.5 1288.3 L982.0 1287.1 L983.5 1285.9 L985.0 1284.7 L986.5 1283.5 L988.0 1282.3 L989.5 1281.2 L991.0 1280.1 L992.5 1279.0 L994.0 1277.9 L995.5 1276.8 L997.0 1275.7 L998.5 1274.6 L1000.0 1273.5 L1001.5 1272.4 L1003.0 1271.3 L1004.5 1270.2 L1006.0 1270.2 L1007.5 1270.2 L1009.0 1270.2 L1010.5 1270.2 L1012.0 1270.2 L1013.5 1270.2 L1015.0 1270.2" fill="none" stroke="#b865cc" stroke-opacity="0.55" stroke-width="1.3"/>
<path d="M184.0 1839.4 L185.5 1839.5 L187.0 1839.7 L188.5 1839.9 L190.0 1840.1 L191.5 1840.3 L193.0 1840.4 L194.5 1840.6 L196.0 1840.8 L197.5 1841.0 L199.0 1841.2 L200.5 1841.4 L202.0 1841.6 L203.5 1841.7 L205.0 1841.4 L206.5 1841.1 L208.0 1840.8 L209.5 1840.5 L211.0 1840.2 L212.5 1839.9 L214.0 1839.6 L215.5 1839.3 L217.0 1839.0 L218.5 1838.7 L220.0 1837.9 L221.5 1837.0 L223.0 1836.1 L224.5 1835.2 L226.0 1834.3 L227.5 1833.4 L229.0 1832.5 L230.5 1831.6 L232.0 1830.7 L233.5 1829.8 L235.0 1828.9 L236.5 1828.2 L238.0 1827.4 L239.5 1826.7 L241.0 1825.9 L242.5 1825.2 L244.0 1824.4 L245.5 1823.7 L247.0 1822.9 L248.5 1822.2 L250.0 1821.5 L251.5 1820.9 L253.0 1820.3 L254.5 1819.7 L256.0 1819.1 L257.5 1818.5 L259.0 1817.9 L260.5 1817.3 L262.0 1816.6 L263.5 1816.0 L265.0 1815.4 L266.5 1814.8 L268.0 1814.2 L269.5 1813.6 L271.0 1813.0 L272.5 1812.4 L274.0 1812.0 L275.5 1811.6 L277.0 1811.2 L278.5 1810.9 L280.0 1810.5 L281.5 1810.1 L283.0 1809.7 L284.5 1809.4 L286.0 1809.0 L287.5 1808.6 L289.0 1808.2 L290.5 1807.9 L292.0 1807.5 L293.5 1807.1 L295.0 1806.7 L296.5 1806.3 L298.0 1806.0 L299.5 1805.6 L301.0 1805.2 L302.5 1804.8 L304.0 1804.5 L305.5 1804.1 L307.0 1803.7 L308.5 1803.3 L310.0 1802.9 L311.5 1802.4 L313.0 1802.0 L314.5 1801.6 L316.0 1801.2 L317.5 1800.8 L319.0 1800.4 L320.5 1800.0 L322.0 1799.6 L323.5 1799.2 L325.0 1798.8 L326.5 1798.4 L328.0 1798.0 L329.5 1797.6 L331.0 1797.2 L332.5 1796.8 L334.0 1796.4 L335.5 1796.0 L337.0 1795.6 L338.5 1795.2 L340.0 1794.8 L341.5 1794.3 L343.0 1793.9 L344.5 1793.5 L346.0 1793.1 L347.5 1792.7 L349.0 1792.3 L350.5 1791.9 L352.0 1791.6 L353.5 1791.2 L355.0 1790.9 L356.5 1790.6 L358.0 1790.3 L359.5 1790.0 L361.0 1789.6 L362.5 1789.3 L364.0 1789.0 L365.5 1788.7 L367.0 1788.3 L368.5 1788.0 L370.0 1787.6 L371.5 1787.3 L373.0 1786.9 L374.5 1786.6 L376.0 1786.2 L377.5 1785.8 L379.0 1785.4 L380.5 1785.0 L382.0 1784.5 L383.5 1783.9 L385.0 1783.2 L386.5 1782.6 L388.0 1781.8 L389.5 1781.0 L391.0 1780.1 L392.5 1779.1 L394.0 1778.0 L395.5 1776.6 L397.0 1774.9 L398.5 1772.9 L400.0 1770.3 L401.5 1767.1 L403.0 1763.5 L404.5 1760.2 L406.0 1758.2 L407.5 1758.4 L409.0 1760.5 L410.5 1763.3 L412.0 1765.8 L413.5 1767.8 L415.0 1769.2 L416.5 1770.2 L418.0 1770.8 L419.5 1771.2 L421.0 1771.4 L422.5 1771.4 L424.0 1771.4 L425.5 1771.3 L427.0 1771.2 L428.5 1771.0 L430.0 1770.7 L431.5 1770.5 L433.0 1770.2 L434.5 1769.9 L436.0 1769.6 L437.5 1769.2 L439.0 1768.9 L440.5 1768.5 L442.0 1767.8 L443.5 1767.2 L445.0 1766.6 L446.5 1765.9 L448.0 1765.3 L449.5 1764.7 L451.0 1764.0 L452.5 1763.4 L454.0 1762.7 L455.5 1762.0 L457.0 1761.4 L458.5 1760.7 L460.0 1760.1 L461.5 1759.4 L463.0 1758.7 L464.5 1758.1 L466.0 1757.4 L467.5 1756.8 L469.0 1756.1 L470.5 1755.4 L472.0 1754.8 L473.5 1754.1 L475.0 1753.4 L476.5 1752.7 L478.0 1752.1 L479.5 1751.4 L481.0 1750.7 L482.5 1750.1 L484.0 1749.4 L485.5 1748.7 L487.0 1748.1 L488.5 1747.4 L490.0 1746.7 L491.5 1746.0 L493.0 1745.4 L494.5 1744.7 L496.0 1744.0 L497.5 1743.4 L499.0 1742.7 L500.5 1742.0 L502.0 1741.3 L503.5 1740.7 L505.0 1740.0 L506.5 1739.3 L508.0 1738.6 L509.5 1738.0 L511.0 1737.3 L512.5 1736.6 L514.0 1736.0 L515.5 1735.3 L517.0 1734.6 L518.5 1733.9 L520.0 1733.3 L521.5 1732.6 L523.0 1731.9 L524.5 1731.2 L526.0 1730.5 L527.5 1729.8 L529.0 1729.1 L530.5 1728.4 L532.0 1727.7 L533.5 1727.0 L535.0 1726.3 L536.5 1725.6 L538.0 1724.9 L539.5 1724.2 L541.0 1723.5 L542.5 1722.8 L544.0 1722.1 L545.5 1721.4 L547.0 1720.7 L548.5 1720.0 L550.0 1719.2 L551.5 1718.0 L553.0 1716.8 L554.5 1715.6 L556.0 1714.4 L557.5 1713.2 L559.0 1712.0 L560.5 1710.8 L562.0 1709.6 L563.5 1708.4 L565.0 1707.2 L566.5 1706.0 L568.0 1704.8 L569.5 1703.6 L571.0 1702.4 L572.5 1701.2 L574.0 1700.0 L575.5 1698.8 L577.0 1697.6 L578.5 1696.4 L580.0 1695.1 L581.5 1693.5 L583.0 1691.8 L584.5 1690.2 L586.0 1688.5 L587.5 1686.9 L589.0 1685.2 L590.5 1683.6 L592.0 1681.9 L593.5 1680.3 L595.0 1678.6 L596.5 1677.0 L598.0 1675.3 L599.5 1673.7 L601.0 1671.9 L602.5 1670.1 L604.0 1668.3 L605.5 1666.5 L607.0 1664.7 L608.5 1662.9 L610.0 1661.1 L611.5 1659.3 L613.0 1657.5 L614.5 1655.7 L616.0 1653.9 L617.5 1652.1 L619.0 1650.3 L620.5 1648.7 L622.0 1647.2 L623.5 1645.7 L625.0 1644.2 L626.5 1642.7 L628.0 1641.2 L629.5 1639.7 L631.0 1638.2 L632.5 1636.7 L634.0 1635.2 L635.5 1633.7 L637.0 1632.2 L638.5 1630.7 L640.0 1629.2 L641.5 1627.7 L643.0 1626.2 L644.5 1624.7 L646.0 1623.2 L647.5 1621.7 L649.0 1620.2 L650.5 1618.7 L652.0 1617.2 L653.5 1615.7 L655.0 1614.2 L656.5 1612.7 L658.0 1611.2 L659.5 1609.7 L661.0 1608.3 L662.5 1607.0 L664.0 1605.6 L665.5 1604.3 L667.0 1602.9 L668.5 1601.6 L670.0 1600.2 L671.5 1598.9 L673.0 1597.5 L674.5 1596.2 L676.0 1594.8 L677.5 1593.5 L679.0 1592.1 L680.5 1590.9 L682.0 1589.7 L683.5 1588.5 L685.0 1587.3 L686.5 1586.1 L688.0 1584.9 L689.5 1583.7 L691.0 1582.5 L692.5 1581.3 L694.0 1580.1 L695.5 1578.9 L697.0 1577.7 L698.5 1576.5 L700.0 1575.1 L701.5 1573.2 L703.0 1571.4 L704.5 1569.6 L706.0 1567.8 L707.5 1565.9 L709.0 1564.1 L710.5 1562.3 L712.0 1560.5 L713.5 1558.6 L715.0 1556.8 L716.5 1555.0 L718.0 1553.2 L719.5 1551.4 L721.0 1549.5 L722.5 1547.7 L724.0 1545.9 L725.5 1544.1 L727.0 1542.2 L728.5 1540.4 L730.0 1538.6 L731.5 1536.8 L733.0 1535.0 L734.5 1533.1 L736.0 1531.3 L737.5 1529.5 L739.0 1527.7 L740.5 1525.8 L742.0 1524.0 L743.5 1522.2 L745.0 1520.4 L746.5 1518.5 L748.0 1516.7 L749.5 1514.9 L751.0 1513.4 L752.5 1511.9 L754.0 1510.4 L755.5 1508.9 L757.0 1507.4 L758.5 1505.9 L760.0 1504.4 L761.5 1502.9 L763.0 1501.4 L764.5 1499.9 L766.0 1498.4 L767.5 1496.3 L769.0 1494.2 L770.5 1492.1 L772.0 1490.0 L773.5 1487.9 L775.0 1485.8 L776.5 1483.7 L778.0 1481.6 L779.5 1479.5 L781.0 1477.4 L782.5 1475.3 L784.0 1473.5 L785.5 1471.7 L787.0 1469.9 L788.5 1468.1 L790.0 1466.3 L791.5 1464.5 L793.0 1462.7 L794.5 1460.9 L796.0 1459.1 L797.5 1457.3 L799.0 1455.5 L800.5 1453.7 L802.0 1451.9 L803.5 1450.1 L805.0 1448.3 L806.5 1446.5 L808.0 1444.7 L809.5 1442.9 L811.0 1441.1 L812.5 1439.3 L814.0 1437.5 L815.5 1435.7 L817.0 1434.0 L818.5 1432.3 L820.0 1430.6 L821.5 1428.9 L823.0 1427.2 L824.5 1425.6 L826.0 1423.9 L827.5 1422.2 L829.0 1420.4 L830.5 1417.3 L832.0 1414.2 L833.5 1411.0 L835.0 1407.9 L836.5 1405.1 L838.0 1404.0 L839.5 1403.0 L841.0 1401.9 L842.5 1400.8 L844.0 1399.7 L845.5 1398.6 L847.0 1397.5 L848.5 1396.4 L850.0 1395.2 L851.5 1394.1 L853.0 1393.1 L854.5 1392.1 L856.0 1391.2 L857.5 1390.2 L859.0 1389.3 L860.5 1388.4 L862.0 1387.4 L863.5 1386.3 L865.0 1385.2 L866.5 1384.1 L868.0 1383.1 L869.5 1381.9 L871.0 1380.8 L872.5 1379.6 L874.0 1378.4 L875.5 1377.2 L877.0 1376.0 L878.5 1374.6 L880.0 1373.2 L881.5 1371.7 L883.0 1370.3 L884.5 1368.9 L886.0 1367.6 L887.5 1366.2 L889.0 1364.9 L890.5 1363.5 L892.0 1362.2 L893.5 1360.8 L895.0 1359.5 L896.5 1358.2 L898.0 1357.0 L899.5 1355.8 L901.0 1354.6 L902.5 1353.4 L904.0 1352.2 L905.5 1351.0 L907.0 1349.8 L908.5 1348.5 L910.0 1347.2 L911.5 1345.9 L913.0 1344.6 L914.5 1343.3 L916.0 1342.0 L917.5 1340.7 L919.0 1339.4 L920.5 1338.1 L922.0 1336.8 L923.5 1335.5 L925.0 1334.3 L926.5 1333.1 L928.0 1331.9 L929.5 1330.7 L931.0 1329.5 L932.5 1328.3 L934.0 1327.1 L935.5 1325.9 L937.0 1324.7 L938.5 1323.5 L940.0 1322.2 L941.5 1320.9 L943.0 1319.5 L944.5 1318.2 L946.0 1316.8 L947.5 1315.5 L949.0 1314.1 L950.5 1312.8 L952.0 1311.6 L953.5 1310.3 L955.0 1309.1 L956.5 1307.9 L958.0 1306.7 L959.5 1305.4 L961.0 1304.2 L962.5 1303.0 L964.0 1301.7 L965.5 1300.5 L967.0 1299.2 L968.5 1298.0 L970.0 1296.7 L971.5 1295.5 L973.0 1294.3 L974.5 1293.1 L976.0 1291.9 L977.5 1290.7 L979.0 1289.5 L980.5 1288.3 L982.0 1287.1 L983.5 1285.9 L985.0 1284.7 L986.5 1283.5 L988.0 1282.3 L989.5 1281.2 L991.0 1280.1 L992.5 1279.0 L994.0 1277.9 L995.5 1276.8 L997.0 1275.7 L998.5 1274.6 L1000.0 1273.5 L1001.5 1272.4 L1003.0 1271.3 L1004.5 1270.2 L1006.0 1270.2 L1007.5 1270.2 L1009.0 1270.2 L1010.5 1270.2 L1012.0 1270.2 L1013.5 1270.2 L1015.0 1270.2" fill="none" stroke="#b865cc" stroke-opacity="0.55" stroke-width="1.3"/>
<path d="M184.0 1839.4 L185.5 1839.5 L187.0 1839.7 L188.5 1839.9 L190.0 1840.1 L191.5 1840.3 L193.0 1840.4 L194.5 1840.6 L196.0 1840.8 L197.5 1841.0 L199.0 1841.2 L200.5 1841.4 L202.0 1841.6 L203.5 1841.7 L205.0 1841.4 L206.5 1841.1 L208.0 1840.8 L209.5 1840.5 L211.0 1840.2 L212.5 1839.9 L214.0 1839.6 L215.5 1839.3 L217.0 1839.0 L218.5 1838.7 L220.0 1837.9 L221.5 1837.0 L223.0 1836.1 L224.5 1835.2 L226.0 1834.3 L227.5 1833.4 L229.0 1832.5 L230.5 1831.6 L232.0 1830.7 L233.5 1829.8 L235.0 1828.9 L236.5 1828.2 L238.0 1827.4 L239.5 1826.7 L241.0 1825.9 L242.5 1825.2 L244.0 1824.4 L245.5 1823.7 L247.0 1822.9 L248.5 1822.2 L250.0 1821.5 L251.5 1820.9 L253.0 1820.3 L254.5 1819.7 L256.0 1819.1 L257.5 1818.5 L259.0 1817.9 L260.5 1817.3 L262.0 1816.7 L263.5 1816.1 L265.0 1815.5 L266.5 1814.9 L268.0 1814.3 L269.5 1813.7 L271.0 1813.1 L272.5 1812.5 L274.0 1812.0 L275.5 1811.6 L277.0 1811.3 L278.5 1810.9 L280.0 1810.5 L281.5 1810.1 L283.0 1809.8 L284.5 1809.4 L286.0 1809.0 L287.5 1808.6 L289.0 1808.3 L290.5 1807.9 L292.0 1807.5 L293.5 1807.1 L295.0 1806.8 L296.5 1806.4 L298.0 1806.0 L299.5 1805.6 L301.0 1805.2 L302.5 1804.9 L304.0 1804.5 L305.5 1804.1 L307.0 1803.7 L308.5 1803.3 L310.0 1802.9 L311.5 1802.5 L313.0 1802.1 L314.5 1801.7 L316.0 1801.3 L317.5 1800.9 L319.0 1800.5 L320.5 1800.1 L322.0 1799.7 L323.5 1799.3 L325.0 1798.9 L326.5 1798.5 L328.0 1798.1 L329.5 1797.7 L331.0 1797.3 L332.5 1796.9 L334.0 1796.5 L335.5 1796.1 L337.0 1795.7 L338.5 1795.3 L340.0 1794.8 L341.5 1794.4 L343.0 1794.0 L344.5 1793.6 L346.0 1793.2 L347.5 1792.8 L349.0 1792.4 L350.5 1792.0 L352.0 1791.7 L353.5 1791.4 L355.0 1791.1 L356.5 1790.8 L358.0 1790.5 L359.5 1790.2 L361.0 1789.9 L362.5 1789.6 L364.0 1789.3 L365.5 1789.0 L367.0 1788.7 L368.5 1788.4 L370.0 1788.0 L371.5 1787.7 L373.0 1787.4 L374.5 1787.1 L376.0 1786.8 L377.5 1786.5 L379.0 1786.2 L380.5 1785.9 L382.0 1785.5 L383.5 1785.0 L385.0 1784.6 L386.5 1784.1 L388.0 1783.6 L389.5 1783.1 L391.0 1782.7 L392.5 1782.2 L394.0 1781.7 L395.5 1781.2 L397.0 1780.7 L398.5 1780.2 L400.0 1779.7 L401.5 1779.2 L403.0 1778.7 L404.5 1778.2 L406.0 1777.6 L407.5 1777.1 L409.0 1776.5 L410.5 1775.9 L412.0 1775.3 L413.5 1774.6 L415.0 1774.0 L416.5 1773.3 L418.0 1772.5 L419.5 1771.6 L421.0 1770.6 L422.5 1769.4 L424.0 1767.9 L425.5 1766.2 L427.0 1763.9 L428.5 1761.2 L430.0 1758.1 L431.5 1754.9 L433.0 1752.6 L434.5 1752.1 L436.0 1753.4 L437.5 1755.8 L439.0 1758.2 L440.5 1760.1 L442.0 1761.4 L443.5 1762.1 L445.0 1762.5 L446.5 1762.7 L448.0 1762.6 L449.5 1762.5 L451.0 1762.2 L452.5 1761.8 L454.0 1761.4 L455.5 1760.9 L457.0 1760.4 L458.5 1759.9 L460.0 1759.3 L461.5 1758.8 L463.0 1758.2 L464.5 1757.6 L466.0 1757.0 L467.5 1756.3 L469.0 1755.7 L470.5 1755.1 L472.0 1754.4 L473.5 1753.8 L475.0 1753.2 L476.5 1752.5 L478.0 1751.9 L479.5 1751.2 L481.0 1750.6 L482.5 1749.9 L484.0 1749.2 L485.5 1748.6 L487.0 1747.9 L488.5 1747.3 L490.0 1746.6 L491.5 1745.9 L493.0 1745.3 L494.5 1744.6 L496.0 1743.9 L497.5 1743.3 L499.0 1742.6 L500.5 1741.9 L502.0 1741.3 L503.5 1740.6 L505.0 1739.9 L506.5 1739.3 L508.0 1738.6 L509.5 1737.9 L511.0 1737.3 L512.5 1736.6 L514.0 1735.9 L515.5 1735.2 L517.0 1734.6 L518.5 1733.9 L520.0 1733.2 L521.5 1732.5 L523.0 1731.8 L524.5 1731.1 L526.0 1730.4 L527.5 1729.7 L529.0 1729.0 L530.5 1728.3 L532.0 1727.6 L533.5 1726.9 L535.0 1726.2 L536.5 1725.5 L538.0 1724.8 L539.5 1724.2 L541.0 1723.5 L542.5 1722.8 L544.0 1722.1 L545.5 1721.4 L547.0 1720.7 L548.5 1720.0 L550.0 1719.2 L551.5 1718.0 L553.0 1716.8 L554.5 1715.6 L556.0 1714.4 L557.5 1713.2 L559.0 1712.0 L560.5 1710.8 L562.0 1709.6 L563.5 1708.4 L565.0 1707.2 L566.5 1706.0 L568.0 1704.8 L569.5 1703.6 L571.0 1702.4 L572.5 1701.2 L574.0 1700.0 L575.5 1698.8 L577.0 1697.6 L578.5 1696.4 L580.0 1695.1 L581.5 1693.5 L583.0 1691.8 L584.5 1690.2 L586.0 1688.5 L587.5 1686.9 L589.0 1685.2 L590.5 1683.6 L592.0 1681.9 L593.5 1680.3 L595.0 1678.6 L596.5 1677.0 L598.0 1675.3 L599.5 1673.7 L601.0 1671.9 L602.5 1670.1 L604.0 1668.3 L605.5 1666.5 L607.0 1664.7 L608.5 1662.9 L610.0 1661.1 L611.5 1659.3 L613.0 1657.5 L614.5 1655.7 L616.0 1653.9 L617.5 1652.1 L619.0 1650.3 L620.5 1648.7 L622.0 1647.2 L623.5 1645.7 L625.0 1644.2 L626.5 1642.7 L628.0 1641.2 L629.5 1639.7 L631.0 1638.2 L632.5 1636.7 L634.0 1635.2 L635.5 1633.7 L637.0 1632.2 L638.5 1630.7 L640.0 1629.2 L641.5 1627.7 L643.0 1626.2 L644.5 1624.7 L646.0 1623.2 L647.5 1621.7 L649.0 1620.2 L650.5 1618.7 L652.0 1617.2 L653.5 1615.7 L655.0 1614.2 L656.5 1612.7 L658.0 1611.2 L659.5 1609.7 L661.0 1608.3 L662.5 1607.0 L664.0 1605.6 L665.5 1604.3 L667.0 1602.9 L668.5 1601.6 L670.0 1600.2 L671.5 1598.9 L673.0 1597.5 L674.5 1596.2 L676.0 1594.8 L677.5 1593.5 L679.0 1592.1 L680.5 1590.9 L682.0 1589.7 L683.5 1588.5 L685.0 1587.3 L686.5 1586.1 L688.0 1584.9 L689.5 1583.7 L691.0 1582.5 L692.5 1581.3 L694.0 1580.1 L695.5 1578.9 L697.0 1577.7 L698.5 1576.5 L700.0 1575.1 L701.5 1573.2 L703.0 1571.4 L704.5 1569.6 L706.0 1567.8 L707.5 1565.9 L709.0 1564.1 L710.5 1562.3 L712.0 1560.5 L713.5 1558.6 L715.0 1556.8 L716.5 1555.0 L718.0 1553.2 L719.5 1551.4 L721.0 1549.5 L722.5 1547.7 L724.0 1545.9 L725.5 1544.1 L727.0 1542.2 L728.5 1540.4 L730.0 1538.6 L731.5 1536.8 L733.0 1535.0 L734.5 1533.1 L736.0 1531.3 L737.5 1529.5 L739.0 1527.7 L740.5 1525.8 L742.0 1524.0 L743.5 1522.2 L745.0 1520.4 L746.5 1518.5 L748.0 1516.7 L749.5 1514.9 L751.0 1513.4 L752.5 1511.9 L754.0 1510.4 L755.5 1508.9 L757.0 1507.4 L758.5 1505.9 L760.0 1504.4 L761.5 1502.9 L763.0 1501.4 L764.5 1499.9 L766.0 1498.4 L767.5 1496.3 L769.0 1494.2 L770.5 1492.1 L772.0 1490.0 L773.5 1487.9 L775.0 1485.8 L776.5 1483.7 L778.0 1481.6 L779.5 1479.5 L781.0 1477.4 L782.5 1475.3 L784.0 1473.5 L785.5 1471.7 L787.0 1469.9 L788.5 1468.1 L790.0 1466.3 L791.5 1464.5 L793.0 1462.7 L794.5 1460.9 L796.0 1459.1 L797.5 1457.3 L799.0 1455.5 L800.5 1453.7 L802.0 1451.9 L803.5 1450.1 L805.0 1448.3 L806.5 1446.5 L808.0 1444.7 L809.5 1442.9 L811.0 1441.1 L812.5 1439.3 L814.0 1437.5 L815.5 1435.7 L817.0 1434.0 L818.5 1432.3 L820.0 1430.6 L821.5 1428.9 L823.0 1427.2 L824.5 1425.6 L826.0 1423.9 L827.5 1422.2 L829.0 1420.4 L830.5 1417.3 L832.0 1414.2 L833.5 1411.0 L835.0 1407.9 L836.5 1405.1 L838.0 1404.0 L839.5 1403.0 L841.0 1401.9 L842.5 1400.8 L844.0 1399.7 L845.5 1398.6 L847.0 1397.5 L848.5 1396.4 L850.0 1395.2 L851.5 1394.1 L853.0 1393.1 L854.5 1392.1 L856.0 1391.2 L857.5 1390.2 L859.0 1389.3 L860.5 1388.4 L862.0 1387.4 L863.5 1386.3 L865.0 1385.2 L866.5 1384.1 L868.0 1383.1 L869.5 1381.9 L871.0 1380.8 L872.5 1379.6 L874.0 1378.4 L875.5 1377.2 L877.0 1376.0 L878.5 1374.6 L880.0 1373.2 L881.5 1371.7 L883.0 1370.3 L884.5 1368.9 L886.0 1367.6 L887.5 1366.2 L889.0 1364.9 L890.5 1363.5 L892.0 1362.2 L893.5 1360.8 L895.0 1359.5 L896.5 1358.2 L898.0 1357.0 L899.5 1355.8 L901.0 1354.6 L902.5 1353.4 L904.0 1352.2 L905.5 1351.0 L907.0 1349.8 L908.5 1348.5 L910.0 1347.2 L911.5 1345.9 L913.0 1344.6 L914.5 1343.3 L916.0 1342.0 L917.5 1340.7 L919.0 1339.4 L920.5 1338.1 L922.0 1336.8 L923.5 1335.5 L925.0 1334.3 L926.5 1333.1 L928.0 1331.9 L929.5 1330.7 L931.0 1329.5 L932.5 1328.3 L934.0 1327.1 L935.5 1325.9 L937.0 1324.7 L938.5 1323.5 L940.0 1322.2 L941.5 1320.9 L943.0 1319.5 L944.5 1318.2 L946.0 1316.8 L947.5 1315.5 L949.0 1314.1 L950.5 1312.8 L952.0 1311.6 L953.5 1310.3 L955.0 1309.1 L956.5 1307.9 L958.0 1306.7 L959.5 1305.4 L961.0 1304.2 L962.5 1303.0 L964.0 1301.7 L965.5 1300.5 L967.0 1299.2 L968.5 1298.0 L970.0 1296.7 L971.5 1295.5 L973.0 1294.3 L974.5 1293.1 L976.0 1291.9 L977.5 1290.7 L979.0 1289.5 L980.5 1288.3 L982.0 1287.1 L983.5 1285.9 L985.0 1284.7 L986.5 1283.5 L988.0 1282.3 L989.5 1281.2 L991.0 1280.1 L992.5 1279.0 L994.0 1277.9 L995.5 1276.8 L997.0 1275.7 L998.5 1274.6 L1000.0 1273.5 L1001.5 1272.4 L1003.0 1271.3 L1004.5 1270.2 L1006.0 1270.2 L1007.5 1270.2 L1009.0 1270.2 L1010.5 1270.2 L1012.0 1270.2 L1013.5 1270.2 L1015.0 1270.2" fill="none" stroke="#b865cc" stroke-opacity="0.55" stroke-width="1.3"/>
<path d="M184.0 1839.4 L185.5 1839.5 L187.0 1839.6 L188.5 1839.8 L190.0 1840.0 L191.5 1840.2 L193.0 1840.4 L194.5 1840.6 L196.0 1840.8 L197.5 1840.9 L199.0 1841.1 L200.5 1841.3 L202.0 1841.5 L203.5 1841.6 L205.0 1841.3 L206.5 1841.0 L208.0 1840.7 L209.5 1840.4 L211.0 1840.1 L212.5 1839.8 L214.0 1839.5 L215.5 1839.2 L217.0 1838.9 L218.5 1838.6 L220.0 1837.8 L221.5 1836.9 L223.0 1836.0 L224.5 1835.1 L226.0 1834.2 L227.5 1833.3 L229.0 1832.4 L230.5 1831.5 L232.0 1830.6 L233.5 1829.7 L235.0 1828.9 L236.5 1828.1 L238.0 1827.4 L239.5 1826.6 L241.0 1825.9 L242.5 1825.1 L244.0 1824.4 L245.5 1823.6 L247.0 1822.9 L248.5 1822.1 L250.0 1821.4 L251.5 1820.8 L253.0 1820.2 L254.5 1819.6 L256.0 1819.0 L257.5 1818.4 L259.0 1817.8 L260.5 1817.2 L262.0 1816.6 L263.5 1816.0 L265.0 1815.4 L266.5 1814.8 L268.0 1814.2 L269.5 1813.6 L271.0 1813.0 L272.5 1812.4 L274.0 1811.9 L275.5 1811.5 L277.0 1811.2 L278.5 1810.8 L280.0 1810.4 L281.5 1810.0 L283.0 1809.6 L284.5 1809.3 L286.0 1808.9 L287.5 1808.5 L289.0 1808.1 L290.5 1807.8 L292.0 1807.4 L293.5 1807.0 L295.0 1806.6 L296.5 1806.2 L298.0 1805.9 L299.5 1805.5 L301.0 1805.1 L302.5 1804.7 L304.0 1804.4 L305.5 1804.0 L307.0 1803.5 L308.5 1803.1 L310.0 1802.7 L311.5 1802.3 L313.0 1801.9 L314.5 1801.5 L316.0 1801.1 L317.5 1800.7 L319.0 1800.3 L320.5 1799.9 L322.0 1799.5 L323.5 1799.1 L325.0 1798.7 L326.5 1798.3 L328.0 1797.9 L329.5 1797.5 L331.0 1797.1 L332.5 1796.7 L334.0 1796.3 L335.5 1795.9 L337.0 1795.5 L338.5 1795.0 L340.0 1794.6 L341.5 1794.2 L343.0 1793.8 L344.5 1793.4 L346.0 1793.0 L347.5 1792.6 L349.0 1792.2 L350.5 1791.8 L352.0 1791.5 L353.5 1791.2 L355.0 1790.9 L356.5 1790.5 L358.0 1790.2 L359.5 1789.9 L361.0 1789.6 L362.5 1789.3 L364.0 1789.0 L365.5 1788.7 L367.0 1788.4 L368.5 1788.0 L370.0 1787.7 L371.5 1787.4 L373.0 1787.1 L374.5 1786.8 L376.0 1786.5 L377.5 1786.1 L379.0 1785.8 L380.5 1785.5 L382.0 1785.1 L383.5 1784.7 L385.0 1784.2 L386.5 1783.7 L388.0 1783.2 L389.5 1782.7 L391.0 1782.3 L392.5 1781.8 L394.0 1781.3 L395.5 1780.8 L397.0 1780.3 L398.5 1779.8 L400.0 1779.3 L401.5 1778.8 L403.0 1778.3 L404.5 1777.8 L406.0 1777.3 L407.5 1776.8 L409.0 1776.3 L410.5 1775.8 L412.0 1775.2 L413.5 1774.7 L415.0 1774.2 L416.5 1773.7 L418.0 1773.2 L419.5 1772.7 L421.0 1772.2 L422.5 1771.6 L424.0 1771.0 L425.5 1770.4 L427.0 1769.8 L428.5 1769.2 L430.0 1768.5 L431.5 1767.8 L433.0 1767.1 L434.5 1766.3 L436.0 1765.5 L437.5 1764.5 L439.0 1763.5 L440.5 1762.4 L442.0 1760.9 L443.5 1759.2 L445.0 1757.4 L446.5 1755.2 L448.0 1752.8 L449.5 1749.9 L451.0 1746.4 L452.5 1742.1 L454.0 1736.8 L455.5 1730.0 L457.0 1721.2 L458.5 1710.0 L460.0 1696.2 L461.5 1680.8 L463.0 1667.4 L464.5 1661.5 L466.0 1666.3 L467.5 1678.7 L469.0 1693.1 L470.5 1705.8 L472.0 1715.8 L473.5 1723.2 L475.0 1728.7 L476.5 1732.7 L478.0 1735.6 L479.5 1737.6 L481.0 1739.1 L482.5 1740.2 L484.0 1740.9 L485.5 1741.3 L487.0 1741.6 L488.5 1741.7 L490.0 1741.6 L491.5 1741.5 L493.0 1741.3 L494.5 1741.0 L496.0 1740.7 L497.5 1740.4 L499.0 1739.9 L500.5 1739.5 L502.0 1739.0 L503.5 1738.5 L505.0 1738.0 L506.5 1737.5 L508.0 1737.0 L509.5 1736.4 L511.0 1735.8 L512.5 1735.3 L514.0 1734.7 L515.5 1734.1 L517.0 1733.5 L518.5 1732.9 L520.0 1732.3 L521.5 1731.6 L523.0 1731.0 L524.5 1730.3 L526.0 1729.7 L527.5 1729.0 L529.0 1728.4 L530.5 1727.7 L532.0 1727.0 L533.5 1726.4 L535.0 1725.7 L536.5 1725.0 L538.0 1724.3 L539.5 1723.7 L541.0 1723.0 L542.5 1722.3 L544.0 1721.6 L545.5 1721.0 L547.0 1720.3 L548.5 1719.6 L550.0 1718.8 L551.5 1717.7 L553.0 1716.5 L554.5 1715.3 L556.0 1714.1 L557.5 1712.9 L559.0 1711.7 L560.5 1710.5 L562.0 1709.3 L563.5 1708.2 L565.0 1707.0 L566.5 1705.8 L568.0 1704.6 L569.5 1703.4 L571.0 1702.2 L572.5 1701.0 L574.0 1699.8 L575.5 1698.6 L577.0 1697.4 L578.5 1696.2 L580.0 1695.0 L581.5 1693.3 L583.0 1691.7 L584.5 1690.0 L586.0 1688.4 L587.5 1686.7 L589.0 1685.1 L590.5 1683.5 L592.0 1681.8 L593.5 1680.2 L595.0 1678.5 L596.5 1676.9 L598.0 1675.2 L599.5 1673.6 L601.0 1671.8 L602.5 1670.0 L604.0 1668.2 L605.5 1666.4 L607.0 1664.6 L608.5 1662.8 L610.0 1661.0 L611.5 1659.2 L613.0 1657.4 L614.5 1655.6 L616.0 1653.8 L617.5 1652.0 L619.0 1650.2 L620.5 1648.6 L622.0 1647.1 L623.5 1645.6 L625.0 1644.1 L626.5 1642.6 L628.0 1641.1 L629.5 1639.6 L631.0 1638.1 L632.5 1636.6 L634.0 1635.1 L635.5 1633.6 L637.0 1632.1 L638.5 1630.6 L640.0 1629.1 L641.5 1627.6 L643.0 1626.1 L644.5 1624.6 L646.0 1623.1 L647.5 1621.6 L649.0 1620.1 L650.5 1618.6 L652.0 1617.1 L653.5 1615.6 L655.0 1614.1 L656.5 1612.6 L658.0 1611.1 L659.5 1609.6 L661.0 1608.3 L662.5 1606.9 L664.0 1605.6 L665.5 1604.2 L667.0 1602.9 L668.5 1601.5 L670.0 1600.2 L671.5 1598.8 L673.0 1597.5 L674.5 1596.2 L676.0 1594.8 L677.5 1593.5 L679.0 1592.1 L680.5 1590.9 L682.0 1589.7 L683.5 1588.5 L685.0 1587.3 L686.5 1586.1 L688.0 1584.9 L689.5 1583.7 L691.0 1582.5 L692.5 1581.3 L694.0 1580.1 L695.5 1578.9 L697.0 1577.7 L698.5 1576.5 L700.0 1575.0 L701.5 1573.2 L703.0 1571.4 L704.5 1569.6 L706.0 1567.8 L707.5 1565.9 L709.0 1564.1 L710.5 1562.3 L712.0 1560.5 L713.5 1558.6 L715.0 1556.8 L716.5 1555.0 L718.0 1553.2 L719.5 1551.3 L721.0 1549.5 L722.5 1547.7 L724.0 1545.9 L725.5 1544.1 L727.0 1542.2 L728.5 1540.4 L730.0 1538.6 L731.5 1536.8 L733.0 1534.9 L734.5 1533.1 L736.0 1531.3 L737.5 1529.5 L739.0 1527.7 L740.5 1525.8 L742.0 1524.0 L743.5 1522.2 L745.0 1520.4 L746.5 1518.5 L748.0 1516.7 L749.5 1514.9 L751.0 1513.4 L752.5 1511.9 L754.0 1510.4 L755.5 1508.9 L757.0 1507.4 L758.5 1505.9 L760.0 1504.4 L761.5 1502.9 L763.0 1501.4 L764.5 1499.9 L766.0 1498.4 L767.5 1496.3 L769.0 1494.2 L770.5 1492.1 L772.0 1490.0 L773.5 1487.9 L775.0 1485.8 L776.5 1483.7 L778.0 1481.6 L779.5 1479.5 L781.0 1477.4 L782.5 1475.3 L784.0 1473.5 L785.5 1471.7 L787.0 1469.9 L788.5 1468.1 L790.0 1466.3 L791.5 1464.5 L793.0 1462.7 L794.5 1460.9 L796.0 1459.1 L797.5 1457.3 L799.0 1455.5 L800.5 1453.7 L802.0 1451.9 L803.5 1450.1 L805.0 1448.3 L806.5 1446.5 L808.0 1444.7 L809.5 1442.9 L811.0 1441.1 L812.5 1439.3 L814.0 1437.5 L815.5 1435.7 L817.0 1434.0 L818.5 1432.3 L820.0 1430.6 L821.5 1428.9 L823.0 1427.2 L824.5 1425.6 L826.0 1423.9 L827.5 1422.2 L829.0 1420.4 L830.5 1417.3 L832.0 1414.2 L833.5 1411.0 L835.0 1407.9 L836.5 1405.1 L838.0 1404.0 L839.5 1403.0 L841.0 1401.9 L842.5 1400.8 L844.0 1399.7 L845.5 1398.6 L847.0 1397.5 L848.5 1396.4 L850.0 1395.2 L851.5 1394.1 L853.0 1393.1 L854.5 1392.1 L856.0 1391.2 L857.5 1390.2 L859.0 1389.3 L860.5 1388.4 L862.0 1387.4 L863.5 1386.3 L865.0 1385.2 L866.5 1384.1 L868.0 1383.1 L869.5 1381.9 L871.0 1380.8 L872.5 1379.6 L874.0 1378.4 L875.5 1377.2 L877.0 1376.0 L878.5 1374.6 L880.0 1373.2 L881.5 1371.7 L883.0 1370.3 L884.5 1368.9 L886.0 1367.6 L887.5 1366.2 L889.0 1364.9 L890.5 1363.5 L892.0 1362.2 L893.5 1360.8 L895.0 1359.5 L896.5 1358.2 L898.0 1357.0 L899.5 1355.8 L901.0 1354.6 L902.5 1353.4 L904.0 1352.2 L905.5 1351.0 L907.0 1349.8 L908.5 1348.5 L910.0 1347.2 L911.5 1345.9 L913.0 1344.6 L914.5 1343.3 L916.0 1342.0 L917.5 1340.7 L919.0 1339.4 L920.5 1338.1 L922.0 1336.8 L923.5 1335.5 L925.0 1334.3 L926.5 1333.1 L928.0 1331.9 L929.5 1330.7 L931.0 1329.5 L932.5 1328.3 L934.0 1327.1 L935.5 1325.9 L937.0 1324.7 L938.5 1323.5 L940.0 1322.2 L941.5 1320.9 L943.0 1319.5 L944.5 1318.2 L946.0 1316.8 L947.5 1315.5 L949.0 1314.1 L950.5 1312.8 L952.0 1311.6 L953.5 1310.3 L955.0 1309.1 L956.5 1307.9 L958.0 1306.7 L959.5 1305.4 L961.0 1304.2 L962.5 1303.0 L964.0 1301.7 L965.5 1300.5 L967.0 1299.2 L968.5 1298.0 L970.0 1296.7 L971.5 1295.5 L973.0 1294.3 L974.5 1293.1 L976.0 1291.9 L977.5 1290.7 L979.0 1289.5 L980.5 1288.3 L982.0 1287.1 L983.5 1285.9 L985.0 1284.7 L986.5 1283.5 L988.0 1282.3 L989.5 1281.2 L991.0 1280.1 L992.5 1279.0 L994.0 1277.9 L995.5 1276.8 L997.0 1275.7 L998.5 1274.6 L1000.0 1273.5 L1001.5 1272.4 L1003.0 1271.3 L1004.5 1270.2 L1006.0 1270.2 L1007.5 1270.2 L1009.0 1270.2 L1010.5 1270.2 L1012.0 1270.2 L1013.5 1270.2 L1015.0 1270.2" fill="none" stroke="#b865cc" stroke-opacity="0.55" stroke-width="1.3"/>
<path d="M184.0 1839.3 L185.5 1839.4 L187.0 1839.6 L188.5 1839.8 L190.0 1840.0 L191.5 1840.2 L193.0 1840.4 L194.5 1840.6 L196.0 1840.7 L197.5 1840.9 L199.0 1841.1 L200.5 1841.3 L202.0 1841.5 L203.5 1841.6 L205.0 1841.3 L206.5 1841.0 L208.0 1840.7 L209.5 1840.4 L211.0 1840.1 L212.5 1839.8 L214.0 1839.5 L215.5 1839.2 L217.0 1838.9 L218.5 1838.6 L220.0 1837.8 L221.5 1836.9 L223.0 1836.0 L224.5 1835.1 L226.0 1834.2 L227.5 1833.3 L229.0 1832.4 L230.5 1831.5 L232.0 1830.6 L233.5 1829.7 L235.0 1828.8 L236.5 1828.1 L238.0 1827.3 L239.5 1826.6 L241.0 1825.8 L242.5 1825.1 L244.0 1824.3 L245.5 1823.6 L247.0 1822.8 L248.5 1822.1 L250.0 1821.4 L251.5 1820.8 L253.0 1820.2 L254.5 1819.6 L256.0 1819.0 L257.5 1818.4 L259.0 1817.8 L260.5 1817.2 L262.0 1816.6 L263.5 1816.0 L265.0 1815.4 L266.5 1814.7 L268.0 1814.1 L269.5 1813.5 L271.0 1812.9 L272.5 1812.3 L274.0 1811.9 L275.5 1811.5 L277.0 1811.1 L278.5 1810.8 L280.0 1810.4 L281.5 1810.0 L283.0 1809.6 L284.5 1809.3 L286.0 1808.9 L287.5 1808.5 L289.0 1808.1 L290.5 1807.7 L292.0 1807.4 L293.5 1807.0 L295.0 1806.6 L296.5 1806.2 L298.0 1805.9 L299.5 1805.5 L301.0 1805.1 L302.5 1804.7 L304.0 1804.3 L305.5 1803.9 L307.0 1803.5 L308.5 1803.1 L310.0 1802.7 L311.5 1802.3 L313.0 1801.9 L314.5 1801.5 L316.0 1801.1 L317.5 1800.7 L319.0 1800.3 L320.5 1799.9 L322.0 1799.5 L323.5 1799.1 L325.0 1798.7 L326.5 1798.3 L328.0 1797.9 L329.5 1797.5 L331.0 1797.1 L332.5 1796.7 L334.0 1796.3 L335.5 1795.9 L337.0 1795.5 L338.5 1795.1 L340.0 1794.6 L341.5 1794.2 L343.0 1793.8 L344.5 1793.4 L346.0 1793.0 L347.5 1792.6 L349.0 1792.2 L350.5 1791.8 L352.0 1791.5 L353.5 1791.2 L355.0 1790.9 L356.5 1790.6 L358.0 1790.3 L359.5 1790.0 L361.0 1789.6 L362.5 1789.3 L364.0 1789.0 L365.5 1788.7 L367.0 1788.4 L368.5 1788.1 L370.0 1787.8 L371.5 1787.5 L373.0 1787.2 L374.5 1786.9 L376.0 1786.5 L377.5 1786.2 L379.0 1785.9 L380.5 1785.6 L382.0 1785.2 L383.5 1784.8 L385.0 1784.3 L386.5 1783.8 L388.0 1783.4 L389.5 1782.9 L391.0 1782.4 L392.5 1782.0 L394.0 1781.5 L395.5 1781.0 L397.0 1780.6 L398.5 1780.1 L400.0 1779.6 L401.5 1779.1 L403.0 1778.7 L404.5 1778.2 L406.0 1777.7 L407.5 1777.2 L409.0 1776.8 L410.5 1776.3 L412.0 1775.8 L413.5 1775.3 L415.0 1774.9 L416.5 1774.5 L418.0 1774.0 L419.5 1773.6 L421.0 1773.1 L422.5 1772.7 L424.0 1772.2 L425.5 1771.7 L427.0 1771.3 L428.5 1770.8 L430.0 1770.3 L431.5 1769.9 L433.0 1769.4 L434.5 1768.9 L436.0 1768.4 L437.5 1767.9 L439.0 1767.4 L440.5 1766.8 L442.0 1766.0 L443.5 1765.2 L445.0 1764.3 L446.5 1763.5 L448.0 1762.7 L449.5 1761.8 L451.0 1760.9 L452.5 1760.0 L454.0 1759.1 L455.5 1758.1 L457.0 1757.1 L458.5 1756.1 L460.0 1755.0 L461.5 1753.9 L463.0 1752.7 L464.5 1751.5 L466.0 1750.1 L467.5 1748.7 L469.0 1747.2 L470.5 1745.6 L472.0 1743.8 L473.5 1741.9 L475.0 1739.9 L476.5 1737.6 L478.0 1735.1 L479.5 1732.5 L481.0 1729.7 L482.5 1726.7 L484.0 1723.8 L485.5 1721.1 L487.0 1718.8 L488.5 1717.0 L490.0 1716.0 L491.5 1715.8 L493.0 1716.4 L494.5 1717.5 L496.0 1719.0 L497.5 1720.7 L499.0 1722.4 L500.5 1723.9 L502.0 1725.3 L503.5 1726.4 L505.0 1727.4 L506.5 1728.1 L508.0 1728.7 L509.5 1729.1 L511.0 1729.3 L512.5 1729.5 L514.0 1729.5 L515.5 1729.4 L517.0 1729.3 L518.5 1729.1 L520.0 1728.9 L521.5 1728.5 L523.0 1728.2 L524.5 1727.8 L526.0 1727.3 L527.5 1726.9 L529.0 1726.4 L530.5 1725.9 L532.0 1725.3 L533.5 1724.8 L535.0 1724.2 L536.5 1723.7 L538.0 1723.1 L539.5 1722.5 L541.0 1721.9 L542.5 1721.3 L544.0 1720.7 L545.5 1720.1 L547.0 1719.4 L548.5 1718.8 L550.0 1718.1 L551.5 1717.0 L553.0 1715.8 L554.5 1714.7 L556.0 1713.5 L557.5 1712.4 L559.0 1711.2 L560.5 1710.0 L562.0 1708.9 L563.5 1707.7 L565.0 1706.6 L566.5 1705.4 L568.0 1704.2 L569.5 1703.0 L571.0 1701.9 L572.5 1700.7 L574.0 1699.5 L575.5 1698.3 L577.0 1697.2 L578.5 1696.0 L580.0 1694.7 L581.5 1693.1 L583.0 1691.5 L584.5 1689.8 L586.0 1688.2 L587.5 1686.5 L589.0 1684.9 L590.5 1683.3 L592.0 1681.6 L593.5 1680.0 L595.0 1678.4 L596.5 1676.7 L598.0 1675.1 L599.5 1673.4 L601.0 1671.7 L602.5 1669.9 L604.0 1668.1 L605.5 1666.3 L607.0 1664.5 L608.5 1662.7 L610.0 1660.9 L611.5 1659.1 L613.0 1657.3 L614.5 1655.5 L616.0 1653.7 L617.5 1652.0 L619.0 1650.2 L620.5 1648.5 L622.0 1647.0 L623.5 1645.5 L625.0 1644.1 L626.5 1642.6 L628.0 1641.1 L629.5 1639.6 L631.0 1638.1 L632.5 1636.6 L634.0 1635.1 L635.5 1633.6 L637.0 1632.1 L638.5 1630.6 L640.0 1629.1 L641.5 1627.6 L643.0 1626.1 L644.5 1624.6 L646.0 1623.1 L647.5 1621.6 L649.0 1620.1 L650.5 1618.6 L652.0 1617.1 L653.5 1615.6 L655.0 1614.1 L656.5 1612.6 L658.0 1611.1 L659.5 1609.6 L661.0 1608.3 L662.5 1606.9 L664.0 1605.6 L665.5 1604.2 L667.0 1602.9 L668.5 1601.5 L670.0 1600.2 L671.5 1598.8 L673.0 1597.5 L674.5 1596.1 L676.0 1594.8 L677.5 1593.4 L679.0 1592.1 L680.5 1590.8 L682.0 1589.6 L683.5 1588.4 L685.0 1587.2 L686.5 1586.0 L688.0 1584.8 L689.5 1583.6 L691.0 1582.4 L692.5 1581.2 L694.0 1580.0 L695.5 1578.8 L697.0 1577.6 L698.5 1576.4 L700.0 1575.0 L701.5 1573.2 L703.0 1571.4 L704.5 1569.6 L706.0 1567.7 L707.5 1565.9 L709.0 1564.1 L710.5 1562.3 L712.0 1560.4 L713.5 1558.6 L715.0 1556.8 L716.5 1555.0 L718.0 1553.2 L719.5 1551.3 L721.0 1549.5 L722.5 1547.7 L724.0 1545.9 L725.5 1544.0 L727.0 1542.2 L728.5 1540.4 L730.0 1538.6 L731.5 1536.8 L733.0 1534.9 L734.5 1533.1 L736.0 1531.3 L737.5 1529.5 L739.0 1527.6 L740.5 1525.8 L742.0 1524.0 L743.5 1522.2 L745.0 1520.4 L746.5 1518.5 L748.0 1516.7 L749.5 1514.9 L751.0 1513.4 L752.5 1511.9 L754.0 1510.4 L755.5 1508.9 L757.0 1507.4 L758.5 1505.9 L760.0 1504.4 L761.5 1502.9 L763.0 1501.4 L764.5 1499.9 L766.0 1498.4 L767.5 1496.3 L769.0 1494.2 L770.5 1492.1 L772.0 1490.0 L773.5 1487.9 L775.0 1485.8 L776.5 1483.7 L778.0 1481.6 L779.5 1479.5 L781.0 1477.4 L782.5 1475.3 L784.0 1473.5 L785.5 1471.7 L787.0 1469.9 L788.5 1468.1 L790.0 1466.3 L791.5 1464.5 L793.0 1462.7 L794.5 1460.9 L796.0 1459.1 L797.5 1457.3 L799.0 1455.5 L800.5 1453.7 L802.0 1451.9 L803.5 1450.1 L805.0 1448.3 L806.5 1446.5 L808.0 1444.7 L809.5 1442.9 L811.0 1441.1 L812.5 1439.3 L814.0 1437.5 L815.5 1435.7 L817.0 1434.0 L818.5 1432.3 L820.0 1430.6 L821.5 1428.9 L823.0 1427.2 L824.5 1425.6 L826.0 1423.9 L827.5 1422.2 L829.0 1420.4 L830.5 1417.3 L832.0 1414.2 L833.5 1411.0 L835.0 1407.9 L836.5 1405.1 L838.0 1404.0 L839.5 1403.0 L841.0 1401.9 L842.5 1400.8 L844.0 1399.7 L845.5 1398.6 L847.0 1397.5 L848.5 1396.4 L850.0 1395.2 L851.5 1394.1 L853.0 1393.0 L854.5 1392.1 L856.0 1391.2 L857.5 1390.2 L859.0 1389.3 L860.5 1388.4 L862.0 1387.4 L863.5 1386.3 L865.0 1385.2 L866.5 1384.1 L868.0 1383.1 L869.5 1381.9 L871.0 1380.8 L872.5 1379.6 L874.0 1378.4 L875.5 1377.2 L877.0 1376.0 L878.5 1374.6 L880.0 1373.2 L881.5 1371.7 L883.0 1370.3 L884.5 1368.9 L886.0 1367.6 L887.5 1366.2 L889.0 1364.9 L890.5 1363.5 L892.0 1362.2 L893.5 1360.8 L895.0 1359.5 L896.5 1358.2 L898.0 1357.0 L899.5 1355.8 L901.0 1354.6 L902.5 1353.4 L904.0 1352.2 L905.5 1351.0 L907.0 1349.8 L908.5 1348.5 L910.0 1347.2 L911.5 1345.9 L913.0 1344.6 L914.5 1343.3 L916.0 1342.0 L917.5 1340.7 L919.0 1339.4 L920.5 1338.1 L922.0 1336.8 L923.5 1335.5 L925.0 1334.3 L926.5 1333.1 L928.0 1331.9 L929.5 1330.7 L931.0 1329.5 L932.5 1328.3 L934.0 1327.1 L935.5 1325.9 L937.0 1324.7 L938.5 1323.5 L940.0 1322.2 L941.5 1320.9 L943.0 1319.5 L944.5 1318.2 L946.0 1316.8 L947.5 1315.5 L949.0 1314.1 L950.5 1312.8 L952.0 1311.6 L953.5 1310.3 L955.0 1309.1 L956.5 1307.9 L958.0 1306.7 L959.5 1305.4 L961.0 1304.2 L962.5 1303.0 L964.0 1301.7 L965.5 1300.5 L967.0 1299.2 L968.5 1298.0 L970.0 1296.7 L971.5 1295.5 L973.0 1294.3 L974.5 1293.1 L976.0 1291.9 L977.5 1290.7 L979.0 1289.5 L980.5 1288.3 L982.0 1287.1 L983.5 1285.9 L985.0 1284.7 L986.5 1283.5 L988.0 1282.3 L989.5 1281.2 L991.0 1280.1 L992.5 1279.0 L994.0 1277.9 L995.5 1276.8 L997.0 1275.7 L998.5 1274.6 L1000.0 1273.5 L1001.5 1272.4 L1003.0 1271.3 L1004.5 1270.2 L1006.0 1270.2 L1007.5 1270.2 L1009.0 1270.2 L1010.5 1270.2 L1012.0 1270.2 L1013.5 1270.2 L1015.0 1270.2" fill="none" stroke="#b865cc" stroke-opacity="0.55" stroke-width="1.3"/>
<path d="M184.0 1838.9 L185.5 1839.0 L187.0 1839.1 L188.5 1839.3 L190.0 1839.5 L191.5 1839.7 L193.0 1839.9 L194.5 1840.0 L196.0 1840.2 L197.5 1840.4 L199.0 1840.6 L200.5 1840.8 L202.0 1840.9 L203.5 1841.0 L205.0 1840.7 L206.5 1840.4 L208.0 1840.1 L209.5 1839.8 L211.0 1839.5 L212.5 1839.2 L214.0 1838.9 L215.5 1838.6 L217.0 1838.3 L218.5 1838.0 L220.0 1837.2 L221.5 1836.2 L223.0 1835.3 L224.5 1834.4 L226.0 1833.5 L227.5 1832.6 L229.0 1831.7 L230.5 1830.8 L232.0 1829.9 L233.5 1829.0 L235.0 1828.2 L236.5 1827.4 L238.0 1826.7 L239.5 1825.9 L241.0 1825.2 L242.5 1824.4 L244.0 1823.6 L245.5 1822.9 L247.0 1822.1 L248.5 1821.4 L250.0 1820.6 L251.5 1820.0 L253.0 1819.4 L254.5 1818.8 L256.0 1818.2 L257.5 1817.6 L259.0 1817.0 L260.5 1816.4 L262.0 1815.8 L263.5 1815.2 L265.0 1814.6 L266.5 1814.0 L268.0 1813.4 L269.5 1812.7 L271.0 1812.1 L272.5 1811.5 L274.0 1811.1 L275.5 1810.7 L277.0 1810.3 L278.5 1809.9 L280.0 1809.5 L281.5 1809.1 L283.0 1808.7 L284.5 1808.4 L286.0 1808.0 L287.5 1807.6 L289.0 1807.2 L290.5 1806.8 L292.0 1806.4 L293.5 1806.0 L295.0 1805.6 L296.5 1805.3 L298.0 1804.9 L299.5 1804.5 L301.0 1804.1 L302.5 1803.7 L304.0 1803.3 L305.5 1802.9 L307.0 1802.5 L308.5 1802.1 L310.0 1801.6 L311.5 1801.2 L313.0 1800.8 L314.5 1800.4 L316.0 1800.0 L317.5 1799.6 L319.0 1799.1 L320.5 1798.7 L322.0 1798.3 L323.5 1797.9 L325.0 1797.5 L326.5 1797.0 L328.0 1796.6 L329.5 1796.2 L331.0 1795.8 L332.5 1795.4 L334.0 1794.9 L335.5 1794.5 L337.0 1794.1 L338.5 1793.7 L340.0 1793.2 L341.5 1792.8 L343.0 1792.4 L344.5 1792.0 L346.0 1791.5 L347.5 1791.1 L349.0 1790.7 L350.5 1790.3 L352.0 1789.9 L353.5 1789.6 L355.0 1789.3 L356.5 1788.9 L358.0 1788.6 L359.5 1788.3 L361.0 1787.9 L362.5 1787.6 L364.0 1787.3 L365.5 1786.9 L367.0 1786.6 L368.5 1786.2 L370.0 1785.9 L371.5 1785.6 L373.0 1785.2 L374.5 1784.9 L376.0 1784.5 L377.5 1784.2 L379.0 1783.8 L380.5 1783.5 L382.0 1783.1 L383.5 1782.6 L385.0 1782.1 L386.5 1781.6 L388.0 1781.1 L389.5 1780.6 L391.0 1780.1 L392.5 1779.5 L394.0 1779.0 L395.5 1778.5 L397.0 1778.0 L398.5 1777.5 L400.0 1777.0 L401.5 1776.4 L403.0 1775.9 L404.5 1775.4 L406.0 1774.9 L407.5 1774.3 L409.0 1773.8 L410.5 1773.3 L412.0 1772.7 L413.5 1772.2 L415.0 1771.7 L416.5 1771.2 L418.0 1770.7 L419.5 1770.2 L421.0 1769.7 L422.5 1769.1 L424.0 1768.6 L425.5 1768.1 L427.0 1767.6 L428.5 1767.0 L430.0 1766.5 L431.5 1765.9 L433.0 1765.4 L434.5 1764.8 L436.0 1764.2 L437.5 1763.6 L439.0 1763.1 L440.5 1762.4 L442.0 1761.5 L443.5 1760.6 L445.0 1759.7 L446.5 1758.9 L448.0 1757.9 L449.5 1757.0 L451.0 1756.1 L452.5 1755.2 L454.0 1754.2 L455.5 1753.2 L457.0 1752.3 L458.5 1751.3 L460.0 1750.2 L461.5 1749.2 L463.0 1748.1 L464.5 1747.1 L466.0 1746.0 L467.5 1744.8 L469.0 1743.7 L470.5 1742.5 L472.0 1741.3 L473.5 1740.0 L475.0 1738.7 L476.5 1737.4 L478.0 1736.0 L479.5 1734.6 L481.0 1733.2 L482.5 1731.6 L484.0 1730.1 L485.5 1728.4 L487.0 1726.7 L488.5 1725.0 L490.0 1723.1 L491.5 1721.2 L493.0 1719.2 L494.5 1717.1 L496.0 1714.9 L497.5 1712.6 L499.0 1710.1 L500.5 1707.6 L502.0 1705.0 L503.5 1702.2 L505.0 1699.4 L506.5 1696.4 L508.0 1693.4 L509.5 1690.3 L511.0 1687.1 L512.5 1684.0 L514.0 1680.8 L515.5 1677.8 L517.0 1674.9 L518.5 1672.1 L520.0 1669.7 L521.5 1667.6 L523.0 1665.8 L524.5 1664.5 L526.0 1663.7 L527.5 1663.3 L529.0 1663.5 L530.5 1664.0 L532.0 1665.0 L533.5 1666.4 L535.0 1668.0 L536.5 1669.8 L538.0 1671.7 L539.5 1673.7 L541.0 1675.7 L542.5 1677.7 L544.0 1679.7 L545.5 1681.5 L547.0 1683.3 L548.5 1684.9 L550.0 1686.4 L551.5 1687.3 L553.0 1688.1 L554.5 1688.8 L556.0 1689.4 L557.5 1689.8 L559.0 1690.1 L560.5 1690.3 L562.0 1690.4 L563.5 1690.4 L565.0 1690.4 L566.5 1690.2 L568.0 1689.9 L569.5 1689.6 L571.0 1689.2 L572.5 1688.8 L574.0 1688.3 L575.5 1687.8 L577.0 1687.2 L578.5 1686.6 L580.0 1685.8 L581.5 1684.7 L583.0 1683.5 L584.5 1682.3 L586.0 1681.1 L587.5 1679.8 L589.0 1678.6 L590.5 1677.3 L592.0 1675.9 L593.5 1674.6 L595.0 1673.2 L596.5 1671.8 L598.0 1670.4 L599.5 1669.0 L601.0 1667.5 L602.5 1665.9 L604.0 1664.3 L605.5 1662.7 L607.0 1661.1 L608.5 1659.4 L610.0 1657.8 L611.5 1656.1 L613.0 1654.5 L614.5 1652.8 L616.0 1651.1 L617.5 1649.5 L619.0 1647.8 L620.5 1646.3 L622.0 1644.8 L623.5 1643.4 L625.0 1642.0 L626.5 1640.6 L628.0 1639.2 L629.5 1637.8 L631.0 1636.3 L632.5 1634.9 L634.0 1633.5 L635.5 1632.0 L637.0 1630.6 L638.5 1629.2 L640.0 1627.7 L641.5 1626.3 L643.0 1624.8 L644.5 1623.4 L646.0 1621.9 L647.5 1620.5 L649.0 1619.0 L650.5 1617.5 L652.0 1616.1 L653.5 1614.6 L655.0 1613.2 L656.5 1611.7 L658.0 1610.2 L659.5 1608.8 L661.0 1607.4 L662.5 1606.1 L664.0 1604.8 L665.5 1603.5 L667.0 1602.1 L668.5 1600.8 L670.0 1599.5 L671.5 1598.2 L673.0 1596.8 L674.5 1595.5 L676.0 1594.2 L677.5 1592.8 L679.0 1591.5 L680.5 1590.3 L682.0 1589.1 L683.5 1587.9 L685.0 1586.7 L686.5 1585.5 L688.0 1584.4 L689.5 1583.2 L691.0 1582.0 L692.5 1580.8 L694.0 1579.6 L695.5 1578.4 L697.0 1577.2 L698.5 1576.0 L700.0 1574.6 L701.5 1572.8 L703.0 1571.0 L704.5 1569.2 L706.0 1567.4 L707.5 1565.6 L709.0 1563.8 L710.5 1562.0 L712.0 1560.1 L713.5 1558.3 L715.0 1556.5 L716.5 1554.7 L718.0 1552.9 L719.5 1551.1 L721.0 1549.3 L722.5 1547.4 L724.0 1545.6 L725.5 1543.8 L727.0 1542.0 L728.5 1540.2 L730.0 1538.4 L731.5 1536.6 L733.0 1534.7 L734.5 1532.9 L736.0 1531.1 L737.5 1529.3 L739.0 1527.5 L740.5 1525.7 L742.0 1523.8 L743.5 1522.0 L745.0 1520.2 L746.5 1518.4 L748.0 1516.6 L749.5 1514.7 L751.0 1513.2 L752.5 1511.7 L754.0 1510.2 L755.5 1508.7 L757.0 1507.2 L758.5 1505.7 L760.0 1504.2 L761.5 1502.8 L763.0 1501.3 L764.5 1499.8 L766.0 1498.3 L767.5 1496.2 L769.0 1494.1 L770.5 1492.0 L772.0 1489.9 L773.5 1487.8 L775.0 1485.7 L776.5 1483.6 L778.0 1481.5 L779.5 1479.4 L781.0 1477.3 L782.5 1475.2 L784.0 1473.4 L785.5 1471.6 L787.0 1469.8 L788.5 1468.0 L790.0 1466.2 L791.5 1464.4 L793.0 1462.6 L794.5 1460.8 L796.0 1459.0 L797.5 1457.2 L799.0 1455.4 L800.5 1453.6 L802.0 1451.8 L803.5 1450.0 L805.0 1448.2 L806.5 1446.4 L808.0 1444.6 L809.5 1442.8 L811.0 1441.0 L812.5 1439.2 L814.0 1437.4 L815.5 1435.6 L817.0 1433.9 L818.5 1432.3 L820.0 1430.6 L821.5 1428.9 L823.0 1427.2 L824.5 1425.5 L826.0 1423.8 L827.5 1422.1 L829.0 1420.4 L830.5 1417.3 L832.0 1414.1 L833.5 1411.0 L835.0 1407.9 L836.5 1405.1 L838.0 1404.0 L839.5 1402.9 L841.0 1401.9 L842.5 1400.8 L844.0 1399.7 L845.5 1398.6 L847.0 1397.5 L848.5 1396.3 L850.0 1395.2 L851.5 1394.1 L853.0 1393.0 L854.5 1392.1 L856.0 1391.2 L857.5 1390.2 L859.0 1389.3 L860.5 1388.3 L862.0 1387.3 L863.5 1386.3 L865.0 1385.2 L866.5 1384.1 L868.0 1383.0 L869.5 1381.9 L871.0 1380.8 L872.5 1379.6 L874.0 1378.4 L875.5 1377.2 L877.0 1375.9 L878.5 1374.5 L880.0 1373.1 L881.5 1371.7 L883.0 1370.3 L884.5 1368.9 L886.0 1367.5 L887.5 1366.2 L889.0 1364.8 L890.5 1363.5 L892.0 1362.1 L893.5 1360.8 L895.0 1359.4 L896.5 1358.2 L898.0 1357.0 L899.5 1355.8 L901.0 1354.6 L902.5 1353.4 L904.0 1352.2 L905.5 1351.0 L907.0 1349.7 L908.5 1348.4 L910.0 1347.1 L911.5 1345.8 L913.0 1344.5 L914.5 1343.2 L916.0 1341.9 L917.5 1340.6 L919.0 1339.3 L920.5 1338.0 L922.0 1336.7 L923.5 1335.5 L925.0 1334.3 L926.5 1333.1 L928.0 1331.9 L929.5 1330.7 L931.0 1329.5 L932.5 1328.3 L934.0 1327.1 L935.5 1325.9 L937.0 1324.7 L938.5 1323.5 L940.0 1322.2 L941.5 1320.9 L943.0 1319.5 L944.5 1318.2 L946.0 1316.8 L947.5 1315.5 L949.0 1314.1 L950.5 1312.8 L952.0 1311.6 L953.5 1310.3 L955.0 1309.1 L956.5 1307.9 L958.0 1306.7 L959.5 1305.4 L961.0 1304.2 L962.5 1303.0 L964.0 1301.7 L965.5 1300.5 L967.0 1299.2 L968.5 1298.0 L970.0 1296.7 L971.5 1295.5 L973.0 1294.3 L974.5 1293.1 L976.0 1291.9 L977.5 1290.7 L979.0 1289.5 L980.5 1288.3 L982.0 1287.1 L983.5 1285.9 L985.0 1284.7 L986.5 1283.5 L988.0 1282.3 L989.5 1281.1 L991.0 1280.0 L992.5 1278.9 L994.0 1277.8 L995.5 1276.7 L997.0 1275.6 L998.5 1274.5 L1000.0 1273.4 L1001.5 1272.3 L1003.0 1271.2 L1004.5 1270.2 L1006.0 1270.2 L1007.5 1270.2 L1009.0 1270.2 L1010.5 1270.2 L1012.0 1270.2 L1013.5 1270.2 L1015.0 1270.2" fill="none" stroke="#b865cc" stroke-opacity="0.55" stroke-width="1.3"/>
<path d="M184.0 1839.2 L185.5 1839.3 L187.0 1839.5 L188.5 1839.7 L190.0 1839.9 L191.5 1840.0 L193.0 1840.2 L194.5 1840.4 L196.0 1840.6 L197.5 1840.8 L199.0 1841.0 L200.5 1841.1 L202.0 1841.3 L203.5 1841.4 L205.0 1841.1 L206.5 1840.8 L208.0 1840.5 L209.5 1840.2 L211.0 1839.9 L212.5 1839.6 L214.0 1839.3 L215.5 1839.0 L217.0 1838.7 L218.5 1838.4 L220.0 1837.6 L221.5 1836.7 L223.0 1835.8 L224.5 1834.9 L226.0 1834.0 L227.5 1833.1 L229.0 1832.2 L230.5 1831.3 L232.0 1830.4 L233.5 1829.5 L235.0 1828.7 L236.5 1827.9 L238.0 1827.1 L239.5 1826.4 L241.0 1825.6 L242.5 1824.9 L244.0 1824.1 L245.5 1823.4 L247.0 1822.6 L248.5 1821.9 L250.0 1821.2 L251.5 1820.6 L253.0 1819.9 L254.5 1819.3 L256.0 1818.7 L257.5 1818.1 L259.0 1817.5 L260.5 1816.9 L262.0 1816.3 L263.5 1815.7 L265.0 1815.1 L266.5 1814.5 L268.0 1813.9 L269.5 1813.3 L271.0 1812.7 L272.5 1812.1 L274.0 1811.7 L275.5 1811.3 L277.0 1810.9 L278.5 1810.5 L280.0 1810.1 L281.5 1809.8 L283.0 1809.4 L284.5 1809.0 L286.0 1808.6 L287.5 1808.2 L289.0 1807.9 L290.5 1807.5 L292.0 1807.1 L293.5 1806.7 L295.0 1806.3 L296.5 1806.0 L298.0 1805.6 L299.5 1805.2 L301.0 1804.8 L302.5 1804.4 L304.0 1804.1 L305.5 1803.6 L307.0 1803.2 L308.5 1802.8 L310.0 1802.4 L311.5 1802.0 L313.0 1801.6 L314.5 1801.2 L316.0 1800.8 L317.5 1800.4 L319.0 1800.0 L320.5 1799.6 L322.0 1799.2 L323.5 1798.8 L325.0 1798.4 L326.5 1797.9 L328.0 1797.5 L329.5 1797.1 L331.0 1796.7 L332.5 1796.3 L334.0 1795.9 L335.5 1795.5 L337.0 1795.1 L338.5 1794.7 L340.0 1794.3 L341.5 1793.9 L343.0 1793.5 L344.5 1793.0 L346.0 1792.6 L347.5 1792.2 L349.0 1791.8 L350.5 1791.4 L352.0 1791.1 L353.5 1790.8 L355.0 1790.5 L356.5 1790.2 L358.0 1789.8 L359.5 1789.5 L361.0 1789.2 L362.5 1788.9 L364.0 1788.6 L365.5 1788.3 L367.0 1788.0 L368.5 1787.6 L370.0 1787.3 L371.5 1787.0 L373.0 1786.7 L374.5 1786.4 L376.0 1786.1 L377.5 1785.7 L379.0 1785.4 L380.5 1785.1 L382.0 1784.7 L383.5 1784.3 L385.0 1783.8 L386.5 1783.3 L388.0 1782.8 L389.5 1782.4 L391.0 1781.9 L392.5 1781.4 L394.0 1781.0 L395.5 1780.5 L397.0 1780.0 L398.5 1779.5 L400.0 1779.1 L401.5 1778.6 L403.0 1778.1 L404.5 1777.6 L406.0 1777.1 L407.5 1776.7 L409.0 1776.2 L410.5 1775.7 L412.0 1775.2 L413.5 1774.8 L415.0 1774.3 L416.5 1773.9 L418.0 1773.4 L419.5 1773.0 L421.0 1772.6 L422.5 1772.1 L424.0 1771.7 L425.5 1771.2 L427.0 1770.8 L428.5 1770.3 L430.0 1769.9 L431.5 1769.4 L433.0 1768.9 L434.5 1768.5 L436.0 1768.0 L437.5 1767.5 L439.0 1767.1 L440.5 1766.5 L442.0 1765.8 L443.5 1765.0 L445.0 1764.3 L446.5 1763.5 L448.0 1762.7 L449.5 1762.0 L451.0 1761.2 L452.5 1760.4 L454.0 1759.7 L455.5 1758.9 L457.0 1758.1 L458.5 1757.3 L460.0 1756.5 L461.5 1755.7 L463.0 1754.8 L464.5 1754.0 L466.0 1753.2 L467.5 1752.3 L469.0 1751.5 L470.5 1750.6 L472.0 1749.7 L473.5 1748.8 L475.0 1747.9 L476.5 1747.0 L478.0 1746.0 L479.5 1745.0 L481.0 1744.0 L482.5 1743.0 L484.0 1742.0 L485.5 1740.9 L487.0 1739.8 L488.5 1738.6 L490.0 1737.4 L491.5 1736.1 L493.0 1734.8 L494.5 1733.5 L496.0 1732.0 L497.5 1730.5 L499.0 1728.9 L500.5 1727.2 L502.0 1725.3 L503.5 1723.3 L505.0 1721.1 L506.5 1718.8 L508.0 1716.2 L509.5 1713.3 L511.0 1710.1 L512.5 1706.5 L514.0 1702.5 L515.5 1697.9 L517.0 1692.6 L518.5 1686.6 L520.0 1679.5 L521.5 1671.4 L523.0 1661.9 L524.5 1650.9 L526.0 1638.3 L527.5 1624.2 L529.0 1609.0 L530.5 1593.8 L532.0 1580.3 L533.5 1570.9 L535.0 1567.7 L536.5 1571.5 L538.0 1581.2 L539.5 1594.4 L541.0 1608.9 L542.5 1623.0 L544.0 1635.8 L545.5 1646.9 L547.0 1656.4 L548.5 1664.3 L550.0 1670.8 L551.5 1675.8 L553.0 1679.9 L554.5 1683.1 L556.0 1685.7 L557.5 1687.7 L559.0 1689.3 L560.5 1690.5 L562.0 1691.3 L563.5 1691.9 L565.0 1692.3 L566.5 1692.4 L568.0 1692.4 L569.5 1692.3 L571.0 1692.0 L572.5 1691.6 L574.0 1691.2 L575.5 1690.7 L577.0 1690.1 L578.5 1689.4 L580.0 1688.6 L581.5 1687.4 L583.0 1686.2 L584.5 1684.9 L586.0 1683.6 L587.5 1682.3 L589.0 1681.0 L590.5 1679.6 L592.0 1678.2 L593.5 1676.8 L595.0 1675.3 L596.5 1673.9 L598.0 1672.4 L599.5 1670.9 L601.0 1669.3 L602.5 1667.6 L604.0 1666.0 L605.5 1664.3 L607.0 1662.6 L608.5 1660.9 L610.0 1659.2 L611.5 1657.5 L613.0 1655.8 L614.5 1654.1 L616.0 1652.4 L617.5 1650.6 L619.0 1648.9 L620.5 1647.3 L622.0 1645.9 L623.5 1644.5 L625.0 1643.0 L626.5 1641.6 L628.0 1640.1 L629.5 1638.7 L631.0 1637.2 L632.5 1635.7 L634.0 1634.3 L635.5 1632.8 L637.0 1631.4 L638.5 1629.9 L640.0 1628.4 L641.5 1626.9 L643.0 1625.5 L644.5 1624.0 L646.0 1622.5 L647.5 1621.1 L649.0 1619.6 L650.5 1618.1 L652.0 1616.6 L653.5 1615.1 L655.0 1613.7 L656.5 1612.2 L658.0 1610.7 L659.5 1609.2 L661.0 1607.9 L662.5 1606.5 L664.0 1605.2 L665.5 1603.9 L667.0 1602.5 L668.5 1601.2 L670.0 1599.9 L671.5 1598.5 L673.0 1597.2 L674.5 1595.8 L676.0 1594.5 L677.5 1593.2 L679.0 1591.8 L680.5 1590.6 L682.0 1589.4 L683.5 1588.2 L685.0 1587.0 L686.5 1585.8 L688.0 1584.6 L689.5 1583.4 L691.0 1582.2 L692.5 1581.0 L694.0 1579.8 L695.5 1578.7 L697.0 1577.5 L698.5 1576.3 L700.0 1574.9 L701.5 1573.0 L703.0 1571.2 L704.5 1569.4 L706.0 1567.6 L707.5 1565.8 L709.0 1564.0 L710.5 1562.1 L712.0 1560.3 L713.5 1558.5 L715.0 1556.7 L716.5 1554.9 L718.0 1553.0 L719.5 1551.2 L721.0 1549.4 L722.5 1547.6 L724.0 1545.8 L725.5 1543.9 L727.0 1542.1 L728.5 1540.3 L730.0 1538.5 L731.5 1536.7 L733.0 1534.8 L734.5 1533.0 L736.0 1531.2 L737.5 1529.4 L739.0 1527.6 L740.5 1525.7 L742.0 1523.9 L743.5 1522.1 L745.0 1520.3 L746.5 1518.5 L748.0 1516.6 L749.5 1514.8 L751.0 1513.3 L752.5 1511.8 L754.0 1510.3 L755.5 1508.8 L757.0 1507.3 L758.5 1505.8 L760.0 1504.3 L761.5 1502.8 L763.0 1501.3 L764.5 1499.8 L766.0 1498.3 L767.5 1496.3 L769.0 1494.2 L770.5 1492.1 L772.0 1490.0 L773.5 1487.9 L775.0 1485.8 L776.5 1483.7 L778.0 1481.6 L779.5 1479.5 L781.0 1477.4 L782.5 1475.3 L784.0 1473.5 L785.5 1471.7 L787.0 1469.9 L788.5 1468.1 L790.0 1466.3 L791.5 1464.5 L793.0 1462.7 L794.5 1460.9 L796.0 1459.1 L797.5 1457.3 L799.0 1455.5 L800.5 1453.7 L802.0 1451.9 L803.5 1450.1 L805.0 1448.3 L806.5 1446.5 L808.0 1444.7 L809.5 1442.9 L811.0 1441.1 L812.5 1439.3 L814.0 1437.5 L815.5 1435.7 L817.0 1434.0 L818.5 1432.3 L820.0 1430.6 L821.5 1428.9 L823.0 1427.2 L824.5 1425.5 L826.0 1423.9 L827.5 1422.2 L829.0 1420.4 L830.5 1417.3 L832.0 1414.2 L833.5 1411.0 L835.0 1407.9 L836.5 1405.1 L838.0 1404.0 L839.5 1402.9 L841.0 1401.9 L842.5 1400.8 L844.0 1399.7 L845.5 1398.6 L847.0 1397.5 L848.5 1396.4 L850.0 1395.2 L851.5 1394.1 L853.0 1393.0 L854.5 1392.1 L856.0 1391.2 L857.5 1390.2 L859.0 1389.3 L860.5 1388.4 L862.0 1387.3 L863.5 1386.3 L865.0 1385.2 L866.5 1384.1 L868.0 1383.1 L869.5 1381.9 L871.0 1380.8 L872.5 1379.6 L874.0 1378.4 L875.5 1377.2 L877.0 1376.0 L878.5 1374.6 L880.0 1373.1 L881.5 1371.7 L883.0 1370.3 L884.5 1368.9 L886.0 1367.6 L887.5 1366.2 L889.0 1364.9 L890.5 1363.5 L892.0 1362.2 L893.5 1360.8 L895.0 1359.5 L896.5 1358.2 L898.0 1357.0 L899.5 1355.8 L901.0 1354.6 L902.5 1353.4 L904.0 1352.2 L905.5 1351.0 L907.0 1349.7 L908.5 1348.4 L910.0 1347.1 L911.5 1345.8 L913.0 1344.5 L914.5 1343.2 L916.0 1342.0 L917.5 1340.7 L919.0 1339.4 L920.5 1338.1 L922.0 1336.8 L923.5 1335.5 L925.0 1334.3 L926.5 1333.1 L928.0 1331.9 L929.5 1330.7 L931.0 1329.5 L932.5 1328.3 L934.0 1327.1 L935.5 1325.9 L937.0 1324.7 L938.5 1323.5 L940.0 1322.2 L941.5 1320.9 L943.0 1319.5 L944.5 1318.2 L946.0 1316.8 L947.5 1315.5 L949.0 1314.1 L950.5 1312.8 L952.0 1311.6 L953.5 1310.3 L955.0 1309.1 L956.5 1307.9 L958.0 1306.7 L959.5 1305.4 L961.0 1304.2 L962.5 1303.0 L964.0 1301.7 L965.5 1300.5 L967.0 1299.2 L968.5 1298.0 L970.0 1296.7 L971.5 1295.5 L973.0 1294.3 L974.5 1293.1 L976.0 1291.9 L977.5 1290.7 L979.0 1289.5 L980.5 1288.3 L982.0 1287.1 L983.5 1285.9 L985.0 1284.7 L986.5 1283.5 L988.0 1282.3 L989.5 1281.1 L991.0 1280.0 L992.5 1278.9 L994.0 1277.8 L995.5 1276.7 L997.0 1275.6 L998.5 1274.6 L1000.0 1273.5 L1001.5 1272.4 L1003.0 1271.3 L1004.5 1270.2 L1006.0 1270.2 L1007.5 1270.2 L1009.0 1270.2 L1010.5 1270.2 L1012.0 1270.2 L1013.5 1270.2 L1015.0 1270.2" fill="none" stroke="#b865cc" stroke-opacity="0.55" stroke-width="1.3"/>
<path d="M184.0 1839.1 L185.5 1839.2 L187.0 1839.4 L188.5 1839.6 L190.0 1839.8 L191.5 1840.0 L193.0 1840.2 L194.5 1840.4 L196.0 1840.5 L197.5 1840.7 L199.0 1840.9 L200.5 1841.1 L202.0 1841.3 L203.5 1841.4 L205.0 1841.1 L206.5 1840.8 L208.0 1840.5 L209.5 1840.2 L211.0 1839.9 L212.5 1839.5 L214.0 1839.2 L215.5 1838.9 L217.0 1838.6 L218.5 1838.3 L220.0 1837.5 L221.5 1836.6 L223.0 1835.7 L224.5 1834.8 L226.0 1833.9 L227.5 1833.0 L229.0 1832.1 L230.5 1831.2 L232.0 1830.3 L233.5 1829.4 L235.0 1828.6 L236.5 1827.8 L238.0 1827.1 L239.5 1826.3 L241.0 1825.6 L242.5 1824.8 L244.0 1824.1 L245.5 1823.3 L247.0 1822.6 L248.5 1821.8 L250.0 1821.1 L251.5 1820.5 L253.0 1819.9 L254.5 1819.3 L256.0 1818.7 L257.5 1818.1 L259.0 1817.5 L260.5 1816.9 L262.0 1816.3 L263.5 1815.7 L265.0 1815.0 L266.5 1814.4 L268.0 1813.8 L269.5 1813.2 L271.0 1812.6 L272.5 1812.0 L274.0 1811.6 L275.5 1811.2 L277.0 1810.8 L278.5 1810.4 L280.0 1810.1 L281.5 1809.7 L283.0 1809.3 L284.5 1808.9 L286.0 1808.5 L287.5 1808.2 L289.0 1807.8 L290.5 1807.4 L292.0 1807.0 L293.5 1806.6 L295.0 1806.3 L296.5 1805.9 L298.0 1805.5 L299.5 1805.1 L301.0 1804.7 L302.5 1804.3 L304.0 1804.0 L305.5 1803.6 L307.0 1803.1 L308.5 1802.7 L310.0 1802.3 L311.5 1801.9 L313.0 1801.5 L314.5 1801.1 L316.0 1800.7 L317.5 1800.3 L319.0 1799.9 L320.5 1799.5 L322.0 1799.1 L323.5 1798.7 L325.0 1798.3 L326.5 1797.8 L328.0 1797.4 L329.5 1797.0 L331.0 1796.6 L332.5 1796.2 L334.0 1795.8 L335.5 1795.4 L337.0 1795.0 L338.5 1794.6 L340.0 1794.2 L341.5 1793.8 L343.0 1793.3 L344.5 1792.9 L346.0 1792.5 L347.5 1792.1 L349.0 1791.7 L350.5 1791.3 L352.0 1791.0 L353.5 1790.7 L355.0 1790.3 L356.5 1790.0 L358.0 1789.7 L359.5 1789.4 L361.0 1789.1 L362.5 1788.8 L364.0 1788.5 L365.5 1788.1 L367.0 1787.8 L368.5 1787.5 L370.0 1787.2 L371.5 1786.9 L373.0 1786.6 L374.5 1786.2 L376.0 1785.9 L377.5 1785.6 L379.0 1785.3 L380.5 1785.0 L382.0 1784.6 L383.5 1784.1 L385.0 1783.6 L386.5 1783.2 L388.0 1782.7 L389.5 1782.2 L391.0 1781.8 L392.5 1781.3 L394.0 1780.8 L395.5 1780.3 L397.0 1779.9 L398.5 1779.4 L400.0 1778.9 L401.5 1778.4 L403.0 1778.0 L404.5 1777.5 L406.0 1777.0 L407.5 1776.5 L409.0 1776.0 L410.5 1775.5 L412.0 1775.1 L413.5 1774.6 L415.0 1774.2 L416.5 1773.7 L418.0 1773.3 L419.5 1772.9 L421.0 1772.4 L422.5 1772.0 L424.0 1771.5 L425.5 1771.1 L427.0 1770.6 L428.5 1770.2 L430.0 1769.7 L431.5 1769.3 L433.0 1768.8 L434.5 1768.3 L436.0 1767.9 L437.5 1767.4 L439.0 1767.0 L440.5 1766.4 L442.0 1765.7 L443.5 1764.9 L445.0 1764.2 L446.5 1763.4 L448.0 1762.7 L449.5 1761.9 L451.0 1761.2 L452.5 1760.4 L454.0 1759.6 L455.5 1758.9 L457.0 1758.1 L458.5 1757.3 L460.0 1756.5 L461.5 1755.7 L463.0 1754.9 L464.5 1754.1 L466.0 1753.3 L467.5 1752.5 L469.0 1751.7 L470.5 1750.8 L472.0 1750.0 L473.5 1749.1 L475.0 1748.3 L476.5 1747.4 L478.0 1746.5 L479.5 1745.6 L481.0 1744.7 L482.5 1743.8 L484.0 1742.8 L485.5 1741.9 L487.0 1740.9 L488.5 1739.9 L490.0 1738.9 L491.5 1737.8 L493.0 1736.7 L494.5 1735.6 L496.0 1734.4 L497.5 1733.2 L499.0 1732.0 L500.5 1730.7 L502.0 1729.4 L503.5 1728.0 L505.0 1726.5 L506.5 1725.0 L508.0 1723.3 L509.5 1721.6 L511.0 1719.7 L512.5 1717.7 L514.0 1715.6 L515.5 1713.3 L517.0 1710.8 L518.5 1708.0 L520.0 1705.0 L521.5 1701.7 L523.0 1698.0 L524.5 1693.8 L526.0 1689.2 L527.5 1684.0 L529.0 1678.1 L530.5 1671.4 L532.0 1663.9 L533.5 1655.4 L535.0 1645.8 L536.5 1635.2 L538.0 1623.7 L539.5 1611.6 L541.0 1599.6 L542.5 1588.7 L544.0 1580.2 L545.5 1575.4 L547.0 1575.1 L548.5 1579.4 L550.0 1587.3 L551.5 1597.3 L553.0 1608.2 L554.5 1619.1 L556.0 1629.2 L557.5 1638.3 L559.0 1646.2 L560.5 1653.0 L562.0 1658.7 L563.5 1663.4 L565.0 1667.3 L566.5 1670.6 L568.0 1673.2 L569.5 1675.3 L571.0 1677.0 L572.5 1678.3 L574.0 1679.3 L575.5 1680.0 L577.0 1680.5 L578.5 1680.8 L580.0 1680.8 L581.5 1680.4 L583.0 1679.8 L584.5 1679.1 L586.0 1678.3 L587.5 1677.5 L589.0 1676.5 L590.5 1675.5 L592.0 1674.4 L593.5 1673.3 L595.0 1672.1 L596.5 1670.9 L598.0 1669.7 L599.5 1668.4 L601.0 1666.9 L602.5 1665.5 L604.0 1663.9 L605.5 1662.4 L607.0 1660.8 L608.5 1659.3 L610.0 1657.7 L611.5 1656.1 L613.0 1654.5 L614.5 1652.8 L616.0 1651.2 L617.5 1649.5 L619.0 1647.9 L620.5 1646.4 L622.0 1645.0 L623.5 1643.6 L625.0 1642.2 L626.5 1640.8 L628.0 1639.4 L629.5 1637.9 L631.0 1636.5 L632.5 1635.1 L634.0 1633.7 L635.5 1632.2 L637.0 1630.8 L638.5 1629.4 L640.0 1627.9 L641.5 1626.5 L643.0 1625.0 L644.5 1623.6 L646.0 1622.1 L647.5 1620.6 L649.0 1619.2 L650.5 1617.7 L652.0 1616.3 L653.5 1614.8 L655.0 1613.3 L656.5 1611.9 L658.0 1610.4 L659.5 1608.9 L661.0 1607.6 L662.5 1606.3 L664.0 1604.9 L665.5 1603.6 L667.0 1602.3 L668.5 1601.0 L670.0 1599.6 L671.5 1598.3 L673.0 1597.0 L674.5 1595.6 L676.0 1594.3 L677.5 1593.0 L679.0 1591.6 L680.5 1590.4 L682.0 1589.2 L683.5 1588.0 L685.0 1586.9 L686.5 1585.7 L688.0 1584.5 L689.5 1583.3 L691.0 1582.1 L692.5 1580.9 L694.0 1579.7 L695.5 1578.5 L697.0 1577.3 L698.5 1576.2 L700.0 1574.7 L701.5 1572.9 L703.0 1571.1 L704.5 1569.3 L706.0 1567.5 L707.5 1565.7 L709.0 1563.9 L710.5 1562.0 L712.0 1560.2 L713.5 1558.4 L715.0 1556.6 L716.5 1554.8 L718.0 1553.0 L719.5 1551.2 L721.0 1549.3 L722.5 1547.5 L724.0 1545.7 L725.5 1543.9 L727.0 1542.1 L728.5 1540.3 L730.0 1538.4 L731.5 1536.6 L733.0 1534.8 L734.5 1533.0 L736.0 1531.2 L737.5 1529.3 L739.0 1527.5 L740.5 1525.7 L742.0 1523.9 L743.5 1522.1 L745.0 1520.2 L746.5 1518.4 L748.0 1516.6 L749.5 1514.8 L751.0 1513.3 L752.5 1511.8 L754.0 1510.3 L755.5 1508.8 L757.0 1507.3 L758.5 1505.8 L760.0 1504.3 L761.5 1502.8 L763.0 1501.3 L764.5 1499.8 L766.0 1498.3 L767.5 1496.2 L769.0 1494.1 L770.5 1492.1 L772.0 1490.0 L773.5 1487.9 L775.0 1485.8 L776.5 1483.7 L778.0 1481.6 L779.5 1479.5 L781.0 1477.4 L782.5 1475.3 L784.0 1473.4 L785.5 1471.6 L787.0 1469.8 L788.5 1468.0 L790.0 1466.2 L791.5 1464.4 L793.0 1462.6 L794.5 1460.8 L796.0 1459.1 L797.5 1457.3 L799.0 1455.5 L800.5 1453.7 L802.0 1451.9 L803.5 1450.1 L805.0 1448.3 L806.5 1446.5 L808.0 1444.7 L809.5 1442.9 L811.0 1441.1 L812.5 1439.3 L814.0 1437.5 L815.5 1435.7 L817.0 1434.0 L818.5 1432.3 L820.0 1430.6 L821.5 1428.9 L823.0 1427.2 L824.5 1425.5 L826.0 1423.8 L827.5 1422.2 L829.0 1420.4 L830.5 1417.3 L832.0 1414.1 L833.5 1411.0 L835.0 1407.9 L836.5 1405.1 L838.0 1404.0 L839.5 1402.9 L841.0 1401.9 L842.5 1400.8 L844.0 1399.7 L845.5 1398.6 L847.0 1397.5 L848.5 1396.3 L850.0 1395.2 L851.5 1394.1 L853.0 1393.0 L854.5 1392.1 L856.0 1391.2 L857.5 1390.2 L859.0 1389.3 L860.5 1388.3 L862.0 1387.3 L863.5 1386.3 L865.0 1385.2 L866.5 1384.1 L868.0 1383.1 L869.5 1381.9 L871.0 1380.8 L872.5 1379.6 L874.0 1378.4 L875.5 1377.2 L877.0 1376.0 L878.5 1374.5 L880.0 1373.1 L881.5 1371.7 L883.0 1370.3 L884.5 1368.9 L886.0 1367.6 L887.5 1366.2 L889.0 1364.9 L890.5 1363.5 L892.0 1362.2 L893.5 1360.8 L895.0 1359.5 L896.5 1358.2 L898.0 1357.0 L899.5 1355.8 L901.0 1354.6 L902.5 1353.4 L904.0 1352.2 L905.5 1351.0 L907.0 1349.7 L908.5 1348.4 L910.0 1347.1 L911.5 1345.8 L913.0 1344.5 L914.5 1343.2 L916.0 1341.9 L917.5 1340.6 L919.0 1339.3 L920.5 1338.0 L922.0 1336.7 L923.5 1335.5 L925.0 1334.3 L926.5 1333.1 L928.0 1331.9 L929.5 1330.7 L931.0 1329.5 L932.5 1328.3 L934.0 1327.1 L935.5 1325.9 L937.0 1324.7 L938.5 1323.5 L940.0 1322.2 L941.5 1320.9 L943.0 1319.5 L944.5 1318.2 L946.0 1316.8 L947.5 1315.5 L949.0 1314.1 L950.5 1312.8 L952.0 1311.6 L953.5 1310.3 L955.0 1309.1 L956.5 1307.9 L958.0 1306.7 L959.5 1305.4 L961.0 1304.2 L962.5 1303.0 L964.0 1301.7 L965.5 1300.5 L967.0 1299.2 L968.5 1298.0 L970.0 1296.7 L971.5 1295.5 L973.0 1294.3 L974.5 1293.1 L976.0 1291.9 L977.5 1290.7 L979.0 1289.5 L980.5 1288.3 L982.0 1287.1 L983.5 1285.9 L985.0 1284.7 L986.5 1283.5 L988.0 1282.3 L989.5 1281.1 L991.0 1280.0 L992.5 1278.9 L994.0 1277.8 L995.5 1276.7 L997.0 1275.6 L998.5 1274.5 L1000.0 1273.4 L1001.5 1272.3 L1003.0 1271.2 L1004.5 1270.2 L1006.0 1270.2 L1007.5 1270.2 L1009.0 1270.2 L1010.5 1270.2 L1012.0 1270.2 L1013.5 1270.2 L1015.0 1270.2" fill="none" stroke="#b865cc" stroke-opacity="0.55" stroke-width="1.3"/>
<path d="M184.0 1839.4 L185.5 1839.5 L187.0 1839.7 L188.5 1839.8 L190.0 1840.0 L191.5 1840.2 L193.0 1840.4 L194.5 1840.6 L196.0 1840.8 L197.5 1841.0 L199.0 1841.1 L200.5 1841.3 L202.0 1841.5 L203.5 1841.6 L205.0 1841.3 L206.5 1841.0 L208.0 1840.7 L209.5 1840.4 L211.0 1840.1 L212.5 1839.8 L214.0 1839.5 L215.5 1839.2 L217.0 1838.9 L218.5 1838.6 L220.0 1837.8 L221.5 1836.9 L223.0 1836.0 L224.5 1835.1 L226.0 1834.2 L227.5 1833.3 L229.0 1832.4 L230.5 1831.5 L232.0 1830.6 L233.5 1829.7 L235.0 1828.9 L236.5 1828.1 L238.0 1827.4 L239.5 1826.6 L241.0 1825.9 L242.5 1825.1 L244.0 1824.4 L245.5 1823.6 L247.0 1822.9 L248.5 1822.1 L250.0 1821.4 L251.5 1820.8 L253.0 1820.2 L254.5 1819.6 L256.0 1819.0 L257.5 1818.4 L259.0 1817.8 L260.5 1817.2 L262.0 1816.6 L263.5 1816.0 L265.0 1815.4 L266.5 1814.8 L268.0 1814.2 L269.5 1813.6 L271.0 1813.0 L272.5 1812.4 L274.0 1811.9 L275.5 1811.6 L277.0 1811.2 L278.5 1810.8 L280.0 1810.4 L281.5 1810.1 L283.0 1809.7 L284.5 1809.3 L286.0 1808.9 L287.5 1808.6 L289.0 1808.2 L290.5 1807.8 L292.0 1807.4 L293.5 1807.1 L295.0 1806.7 L296.5 1806.3 L298.0 1805.9 L299.5 1805.5 L301.0 1805.2 L302.5 1804.8 L304.0 1804.4 L305.5 1804.0 L307.0 1803.6 L308.5 1803.2 L310.0 1802.8 L311.5 1802.4 L313.0 1802.0 L314.5 1801.6 L316.0 1801.2 L317.5 1800.8 L319.0 1800.4 L320.5 1800.0 L322.0 1799.6 L323.5 1799.2 L325.0 1798.8 L326.5 1798.4 L328.0 1798.0 L329.5 1797.6 L331.0 1797.2 L332.5 1796.8 L334.0 1796.4 L335.5 1796.0 L337.0 1795.6 L338.5 1795.2 L340.0 1794.8 L341.5 1794.4 L343.0 1794.0 L344.5 1793.6 L346.0 1793.2 L347.5 1792.8 L349.0 1792.4 L350.5 1792.0 L352.0 1791.7 L353.5 1791.4 L355.0 1791.1 L356.5 1790.8 L358.0 1790.4 L359.5 1790.1 L361.0 1789.8 L362.5 1789.5 L364.0 1789.2 L365.5 1788.9 L367.0 1788.6 L368.5 1788.3 L370.0 1788.0 L371.5 1787.7 L373.0 1787.4 L374.5 1787.1 L376.0 1786.8 L377.5 1786.5 L379.0 1786.2 L380.5 1785.9 L382.0 1785.5 L383.5 1785.1 L385.0 1784.6 L386.5 1784.2 L388.0 1783.7 L389.5 1783.3 L391.0 1782.8 L392.5 1782.4 L394.0 1781.9 L395.5 1781.5 L397.0 1781.0 L398.5 1780.5 L400.0 1780.1 L401.5 1779.6 L403.0 1779.2 L404.5 1778.7 L406.0 1778.3 L407.5 1777.8 L409.0 1777.4 L410.5 1776.9 L412.0 1776.4 L413.5 1776.0 L415.0 1775.6 L416.5 1775.2 L418.0 1774.8 L419.5 1774.4 L421.0 1774.0 L422.5 1773.6 L424.0 1773.2 L425.5 1772.8 L427.0 1772.4 L428.5 1771.9 L430.0 1771.5 L431.5 1771.1 L433.0 1770.7 L434.5 1770.3 L436.0 1769.9 L437.5 1769.5 L439.0 1769.1 L440.5 1768.6 L442.0 1767.9 L443.5 1767.2 L445.0 1766.5 L446.5 1765.8 L448.0 1765.1 L449.5 1764.5 L451.0 1763.8 L452.5 1763.1 L454.0 1762.4 L455.5 1761.7 L457.0 1761.0 L458.5 1760.3 L460.0 1759.6 L461.5 1758.9 L463.0 1758.2 L464.5 1757.6 L466.0 1756.9 L467.5 1756.2 L469.0 1755.5 L470.5 1754.8 L472.0 1754.1 L473.5 1753.4 L475.0 1752.7 L476.5 1752.0 L478.0 1751.3 L479.5 1750.6 L481.0 1749.9 L482.5 1749.2 L484.0 1748.5 L485.5 1747.8 L487.0 1747.0 L488.5 1746.3 L490.0 1745.6 L491.5 1744.9 L493.0 1744.2 L494.5 1743.5 L496.0 1742.7 L497.5 1742.0 L499.0 1741.3 L500.5 1740.5 L502.0 1739.8 L503.5 1739.1 L505.0 1738.3 L506.5 1737.6 L508.0 1736.8 L509.5 1736.0 L511.0 1735.3 L512.5 1734.5 L514.0 1733.7 L515.5 1732.9 L517.0 1732.1 L518.5 1731.3 L520.0 1730.5 L521.5 1729.6 L523.0 1728.7 L524.5 1727.8 L526.0 1726.9 L527.5 1725.9 L529.0 1725.0 L530.5 1724.0 L532.0 1722.9 L533.5 1721.9 L535.0 1720.7 L536.5 1719.6 L538.0 1718.3 L539.5 1717.0 L541.0 1715.6 L542.5 1714.1 L544.0 1712.4 L545.5 1710.6 L547.0 1708.7 L548.5 1706.4 L550.0 1703.9 L551.5 1700.6 L553.0 1697.0 L554.5 1692.8 L556.0 1688.1 L557.5 1682.8 L559.0 1676.9 L560.5 1670.4 L562.0 1663.7 L563.5 1657.3 L565.0 1652.1 L566.5 1649.0 L568.0 1648.5 L569.5 1650.5 L571.0 1654.2 L572.5 1658.8 L574.0 1663.4 L575.5 1667.6 L577.0 1671.0 L578.5 1673.8 L580.0 1675.9 L581.5 1677.0 L583.0 1677.7 L584.5 1678.0 L586.0 1677.9 L587.5 1677.6 L589.0 1677.1 L590.5 1676.4 L592.0 1675.5 L593.5 1674.6 L595.0 1673.5 L596.5 1672.4 L598.0 1671.2 L599.5 1669.9 L601.0 1668.5 L602.5 1667.0 L604.0 1665.5 L605.5 1663.9 L607.0 1662.3 L608.5 1660.7 L610.0 1659.1 L611.5 1657.4 L613.0 1655.8 L614.5 1654.1 L616.0 1652.4 L617.5 1650.7 L619.0 1649.0 L620.5 1647.5 L622.0 1646.0 L623.5 1644.6 L625.0 1643.2 L626.5 1641.7 L628.0 1640.3 L629.5 1638.8 L631.0 1637.4 L632.5 1635.9 L634.0 1634.5 L635.5 1633.0 L637.0 1631.5 L638.5 1630.1 L640.0 1628.6 L641.5 1627.1 L643.0 1625.7 L644.5 1624.2 L646.0 1622.7 L647.5 1621.2 L649.0 1619.8 L650.5 1618.3 L652.0 1616.8 L653.5 1615.3 L655.0 1613.8 L656.5 1612.3 L658.0 1610.9 L659.5 1609.4 L661.0 1608.0 L662.5 1606.7 L664.0 1605.4 L665.5 1604.0 L667.0 1602.7 L668.5 1601.3 L670.0 1600.0 L671.5 1598.7 L673.0 1597.3 L674.5 1596.0 L676.0 1594.6 L677.5 1593.3 L679.0 1591.9 L680.5 1590.7 L682.0 1589.5 L683.5 1588.3 L685.0 1587.1 L686.5 1585.9 L688.0 1584.7 L689.5 1583.5 L691.0 1582.3 L692.5 1581.1 L694.0 1579.9 L695.5 1578.7 L697.0 1577.6 L698.5 1576.4 L700.0 1574.9 L701.5 1573.1 L703.0 1571.3 L704.5 1569.5 L706.0 1567.7 L707.5 1565.8 L709.0 1564.0 L710.5 1562.2 L712.0 1560.4 L713.5 1558.6 L715.0 1556.7 L716.5 1554.9 L718.0 1553.1 L719.5 1551.3 L721.0 1549.5 L722.5 1547.6 L724.0 1545.8 L725.5 1544.0 L727.0 1542.2 L728.5 1540.4 L730.0 1538.5 L731.5 1536.7 L733.0 1534.9 L734.5 1533.1 L736.0 1531.3 L737.5 1529.4 L739.0 1527.6 L740.5 1525.8 L742.0 1524.0 L743.5 1522.1 L745.0 1520.3 L746.5 1518.5 L748.0 1516.7 L749.5 1514.9 L751.0 1513.3 L752.5 1511.8 L754.0 1510.3 L755.5 1508.8 L757.0 1507.3 L758.5 1505.8 L760.0 1504.3 L761.5 1502.8 L763.0 1501.4 L764.5 1499.9 L766.0 1498.4 L767.5 1496.3 L769.0 1494.2 L770.5 1492.1 L772.0 1490.0 L773.5 1487.9 L775.0 1485.8 L776.5 1483.7 L778.0 1481.6 L779.5 1479.5 L781.0 1477.4 L782.5 1475.3 L784.0 1473.5 L785.5 1471.7 L787.0 1469.9 L788.5 1468.1 L790.0 1466.3 L791.5 1464.5 L793.0 1462.7 L794.5 1460.9 L796.0 1459.1 L797.5 1457.3 L799.0 1455.5 L800.5 1453.7 L802.0 1451.9 L803.5 1450.1 L805.0 1448.3 L806.5 1446.5 L808.0 1444.7 L809.5 1442.9 L811.0 1441.1 L812.5 1439.3 L814.0 1437.5 L815.5 1435.7 L817.0 1434.0 L818.5 1432.3 L820.0 1430.6 L821.5 1428.9 L823.0 1427.2 L824.5 1425.5 L826.0 1423.9 L827.5 1422.2 L829.0 1420.4 L830.5 1417.3 L832.0 1414.2 L833.5 1411.0 L835.0 1407.9 L836.5 1405.1 L838.0 1404.0 L839.5 1403.0 L841.0 1401.9 L842.5 1400.8 L844.0 1399.7 L845.5 1398.6 L847.0 1397.5 L848.5 1396.4 L850.0 1395.2 L851.5 1394.1 L853.0 1393.0 L854.5 1392.1 L856.0 1391.2 L857.5 1390.2 L859.0 1389.3 L860.5 1388.4 L862.0 1387.4 L863.5 1386.3 L865.0 1385.2 L866.5 1384.1 L868.0 1383.1 L869.5 1381.9 L871.0 1380.8 L872.5 1379.6 L874.0 1378.4 L875.5 1377.2 L877.0 1376.0 L878.5 1374.6 L880.0 1373.1 L881.5 1371.7 L883.0 1370.3 L884.5 1368.9 L886.0 1367.6 L887.5 1366.2 L889.0 1364.9 L890.5 1363.5 L892.0 1362.2 L893.5 1360.8 L895.0 1359.5 L896.5 1358.2 L898.0 1357.0 L899.5 1355.8 L901.0 1354.6 L902.5 1353.4 L904.0 1352.2 L905.5 1351.0 L907.0 1349.8 L908.5 1348.5 L910.0 1347.2 L911.5 1345.9 L913.0 1344.6 L914.5 1343.3 L916.0 1342.0 L917.5 1340.7 L919.0 1339.4 L920.5 1338.1 L922.0 1336.8 L923.5 1335.5 L925.0 1334.3 L926.5 1333.1 L928.0 1331.9 L929.5 1330.7 L931.0 1329.5 L932.5 1328.3 L934.0 1327.1 L935.5 1325.9 L937.0 1324.7 L938.5 1323.5 L940.0 1322.2 L941.5 1320.9 L943.0 1319.5 L944.5 1318.2 L946.0 1316.8 L947.5 1315.5 L949.0 1314.1 L950.5 1312.8 L952.0 1311.6 L953.5 1310.3 L955.0 1309.1 L956.5 1307.9 L958.0 1306.7 L959.5 1305.4 L961.0 1304.2 L962.5 1303.0 L964.0 1301.7 L965.5 1300.5 L967.0 1299.2 L968.5 1298.0 L970.0 1296.7 L971.5 1295.5 L973.0 1294.3 L974.5 1293.1 L976.0 1291.9 L977.5 1290.7 L979.0 1289.5 L980.5 1288.3 L982.0 1287.1 L983.5 1285.9 L985.0 1284.7 L986.5 1283.5 L988.0 1282.3 L989.5 1281.2 L991.0 1280.1 L992.5 1279.0 L994.0 1277.9 L995.5 1276.8 L997.0 1275.7 L998.5 1274.6 L1000.0 1273.5 L1001.5 1272.4 L1003.0 1271.3 L1004.5 1270.2 L1006.0 1270.2 L1007.5 1270.2 L1009.0 1270.2 L1010.5 1270.2 L1012.0 1270.2 L1013.5 1270.2 L1015.0 1270.2" fill="none" stroke="#b865cc" stroke-opacity="0.55" stroke-width="1.3"/>
<path d="M184.0 1839.3 L185.5 1839.4 L187.0 1839.6 L188.5 1839.8 L190.0 1840.0 L191.5 1840.2 L193.0 1840.4 L194.5 1840.6 L196.0 1840.7 L197.5 1840.9 L199.0 1841.1 L200.5 1841.3 L202.0 1841.5 L203.5 1841.6 L205.0 1841.3 L206.5 1841.0 L208.0 1840.7 L209.5 1840.4 L211.0 1840.1 L212.5 1839.8 L214.0 1839.5 L215.5 1839.2 L217.0 1838.9 L218.5 1838.6 L220.0 1837.8 L221.5 1836.9 L223.0 1836.0 L224.5 1835.1 L226.0 1834.2 L227.5 1833.3 L229.0 1832.4 L230.5 1831.5 L232.0 1830.6 L233.5 1829.7 L235.0 1828.8 L236.5 1828.1 L238.0 1827.3 L239.5 1826.6 L241.0 1825.8 L242.5 1825.1 L244.0 1824.3 L245.5 1823.6 L247.0 1822.8 L248.5 1822.1 L250.0 1821.4 L251.5 1820.8 L253.0 1820.2 L254.5 1819.6 L256.0 1819.0 L257.5 1818.4 L259.0 1817.8 L260.5 1817.2 L262.0 1816.6 L263.5 1816.0 L265.0 1815.4 L266.5 1814.8 L268.0 1814.2 L269.5 1813.6 L271.0 1813.0 L272.5 1812.4 L274.0 1811.9 L275.5 1811.5 L277.0 1811.2 L278.5 1810.8 L280.0 1810.4 L281.5 1810.0 L283.0 1809.6 L284.5 1809.3 L286.0 1808.9 L287.5 1808.5 L289.0 1808.1 L290.5 1807.8 L292.0 1807.4 L293.5 1807.0 L295.0 1806.6 L296.5 1806.3 L298.0 1805.9 L299.5 1805.5 L301.0 1805.1 L302.5 1804.7 L304.0 1804.4 L305.5 1804.0 L307.0 1803.6 L308.5 1803.2 L310.0 1802.8 L311.5 1802.4 L313.0 1802.0 L314.5 1801.6 L316.0 1801.2 L317.5 1800.8 L319.0 1800.4 L320.5 1799.9 L322.0 1799.5 L323.5 1799.1 L325.0 1798.7 L326.5 1798.3 L328.0 1797.9 L329.5 1797.5 L331.0 1797.1 L332.5 1796.7 L334.0 1796.3 L335.5 1795.9 L337.0 1795.5 L338.5 1795.1 L340.0 1794.7 L341.5 1794.3 L343.0 1793.9 L344.5 1793.5 L346.0 1793.1 L347.5 1792.7 L349.0 1792.3 L350.5 1791.9 L352.0 1791.6 L353.5 1791.3 L355.0 1791.0 L356.5 1790.7 L358.0 1790.4 L359.5 1790.1 L361.0 1789.8 L362.5 1789.5 L364.0 1789.2 L365.5 1788.9 L367.0 1788.6 L368.5 1788.3 L370.0 1788.0 L371.5 1787.6 L373.0 1787.3 L374.5 1787.0 L376.0 1786.7 L377.5 1786.4 L379.0 1786.1 L380.5 1785.8 L382.0 1785.5 L383.5 1785.0 L385.0 1784.6 L386.5 1784.1 L388.0 1783.6 L389.5 1783.2 L391.0 1782.7 L392.5 1782.3 L394.0 1781.8 L395.5 1781.4 L397.0 1780.9 L398.5 1780.5 L400.0 1780.0 L401.5 1779.5 L403.0 1779.1 L404.5 1778.6 L406.0 1778.2 L407.5 1777.7 L409.0 1777.3 L410.5 1776.8 L412.0 1776.3 L413.5 1775.9 L415.0 1775.5 L416.5 1775.1 L418.0 1774.7 L419.5 1774.3 L421.0 1773.9 L422.5 1773.5 L424.0 1773.1 L425.5 1772.7 L427.0 1772.2 L428.5 1771.8 L430.0 1771.4 L431.5 1771.0 L433.0 1770.6 L434.5 1770.2 L436.0 1769.8 L437.5 1769.4 L439.0 1769.0 L440.5 1768.4 L442.0 1767.8 L443.5 1767.1 L445.0 1766.4 L446.5 1765.7 L448.0 1765.0 L449.5 1764.3 L451.0 1763.6 L452.5 1762.9 L454.0 1762.3 L455.5 1761.6 L457.0 1760.9 L458.5 1760.2 L460.0 1759.5 L461.5 1758.8 L463.0 1758.1 L464.5 1757.4 L466.0 1756.7 L467.5 1756.0 L469.0 1755.3 L470.5 1754.6 L472.0 1753.9 L473.5 1753.2 L475.0 1752.5 L476.5 1751.8 L478.0 1751.1 L479.5 1750.4 L481.0 1749.7 L482.5 1749.0 L484.0 1748.3 L485.5 1747.6 L487.0 1746.9 L488.5 1746.2 L490.0 1745.5 L491.5 1744.7 L493.0 1744.0 L494.5 1743.3 L496.0 1742.6 L497.5 1741.9 L499.0 1741.1 L500.5 1740.4 L502.0 1739.7 L503.5 1738.9 L505.0 1738.2 L506.5 1737.5 L508.0 1736.7 L509.5 1736.0 L511.0 1735.2 L512.5 1734.4 L514.0 1733.7 L515.5 1732.9 L517.0 1732.1 L518.5 1731.3 L520.0 1730.5 L521.5 1729.7 L523.0 1728.9 L524.5 1728.0 L526.0 1727.1 L527.5 1726.3 L529.0 1725.4 L530.5 1724.5 L532.0 1723.5 L533.5 1722.6 L535.0 1721.6 L536.5 1720.6 L538.0 1719.6 L539.5 1718.5 L541.0 1717.4 L542.5 1716.2 L544.0 1715.0 L545.5 1713.7 L547.0 1712.4 L548.5 1711.0 L550.0 1709.3 L551.5 1707.2 L553.0 1705.0 L554.5 1702.5 L556.0 1699.9 L557.5 1697.0 L559.0 1693.8 L560.5 1690.2 L562.0 1686.1 L563.5 1681.4 L565.0 1676.0 L566.5 1669.6 L568.0 1662.1 L569.5 1653.1 L571.0 1642.6 L572.5 1630.4 L574.0 1617.1 L575.5 1604.1 L577.0 1593.7 L578.5 1588.8 L580.0 1590.7 L581.5 1598.5 L583.0 1609.3 L584.5 1620.5 L586.0 1630.7 L587.5 1639.0 L589.0 1645.6 L590.5 1650.6 L592.0 1654.3 L593.5 1656.9 L595.0 1658.7 L596.5 1659.9 L598.0 1660.6 L599.5 1660.8 L601.0 1660.7 L602.5 1660.2 L604.0 1659.6 L605.5 1658.7 L607.0 1657.8 L608.5 1656.7 L610.0 1655.5 L611.5 1654.2 L613.0 1652.9 L614.5 1651.5 L616.0 1650.1 L617.5 1648.6 L619.0 1647.1 L620.5 1645.7 L622.0 1644.4 L623.5 1643.1 L625.0 1641.8 L626.5 1640.5 L628.0 1639.1 L629.5 1637.8 L631.0 1636.4 L632.5 1635.0 L634.0 1633.6 L635.5 1632.2 L637.0 1630.8 L638.5 1629.4 L640.0 1628.0 L641.5 1626.5 L643.0 1625.1 L644.5 1623.7 L646.0 1622.2 L647.5 1620.8 L649.0 1619.3 L650.5 1617.9 L652.0 1616.4 L653.5 1614.9 L655.0 1613.5 L656.5 1612.0 L658.0 1610.5 L659.5 1609.1 L661.0 1607.7 L662.5 1606.4 L664.0 1605.1 L665.5 1603.8 L667.0 1602.4 L668.5 1601.1 L670.0 1599.8 L671.5 1598.4 L673.0 1597.1 L674.5 1595.8 L676.0 1594.4 L677.5 1593.1 L679.0 1591.8 L680.5 1590.5 L682.0 1589.4 L683.5 1588.2 L685.0 1587.0 L686.5 1585.8 L688.0 1584.6 L689.5 1583.4 L691.0 1582.2 L692.5 1581.0 L694.0 1579.8 L695.5 1578.6 L697.0 1577.4 L698.5 1576.3 L700.0 1574.8 L701.5 1573.0 L703.0 1571.2 L704.5 1569.4 L706.0 1567.6 L707.5 1565.8 L709.0 1564.0 L710.5 1562.1 L712.0 1560.3 L713.5 1558.5 L715.0 1556.7 L716.5 1554.9 L718.0 1553.0 L719.5 1551.2 L721.0 1549.4 L722.5 1547.6 L724.0 1545.8 L725.5 1544.0 L727.0 1542.1 L728.5 1540.3 L730.0 1538.5 L731.5 1536.7 L733.0 1534.9 L734.5 1533.0 L736.0 1531.2 L737.5 1529.4 L739.0 1527.6 L740.5 1525.8 L742.0 1523.9 L743.5 1522.1 L745.0 1520.3 L746.5 1518.5 L748.0 1516.7 L749.5 1514.8 L751.0 1513.3 L752.5 1511.8 L754.0 1510.3 L755.5 1508.8 L757.0 1507.3 L758.5 1505.8 L760.0 1504.3 L761.5 1502.8 L763.0 1501.3 L764.5 1499.8 L766.0 1498.3 L767.5 1496.3 L769.0 1494.2 L770.5 1492.1 L772.0 1490.0 L773.5 1487.9 L775.0 1485.8 L776.5 1483.7 L778.0 1481.6 L779.5 1479.5 L781.0 1477.4 L782.5 1475.3 L784.0 1473.5 L785.5 1471.7 L787.0 1469.9 L788.5 1468.1 L790.0 1466.3 L791.5 1464.5 L793.0 1462.7 L794.5 1460.9 L796.0 1459.1 L797.5 1457.3 L799.0 1455.5 L800.5 1453.7 L802.0 1451.9 L803.5 1450.1 L805.0 1448.3 L806.5 1446.5 L808.0 1444.7 L809.5 1442.9 L811.0 1441.1 L812.5 1439.3 L814.0 1437.5 L815.5 1435.7 L817.0 1434.0 L818.5 1432.3 L820.0 1430.6 L821.5 1428.9 L823.0 1427.2 L824.5 1425.5 L826.0 1423.9 L827.5 1422.2 L829.0 1420.4 L830.5 1417.3 L832.0 1414.2 L833.5 1411.0 L835.0 1407.9 L836.5 1405.1 L838.0 1404.0 L839.5 1403.0 L841.0 1401.9 L842.5 1400.8 L844.0 1399.7 L845.5 1398.6 L847.0 1397.5 L848.5 1396.4 L850.0 1395.2 L851.5 1394.1 L853.0 1393.0 L854.5 1392.1 L856.0 1391.2 L857.5 1390.2 L859.0 1389.3 L860.5 1388.4 L862.0 1387.3 L863.5 1386.3 L865.0 1385.2 L866.5 1384.1 L868.0 1383.1 L869.5 1381.9 L871.0 1380.8 L872.5 1379.6 L874.0 1378.4 L875.5 1377.2 L877.0 1376.0 L878.5 1374.6 L880.0 1373.1 L881.5 1371.7 L883.0 1370.3 L884.5 1368.9 L886.0 1367.6 L887.5 1366.2 L889.0 1364.9 L890.5 1363.5 L892.0 1362.2 L893.5 1360.8 L895.0 1359.5 L896.5 1358.2 L898.0 1357.0 L899.5 1355.8 L901.0 1354.6 L902.5 1353.4 L904.0 1352.2 L905.5 1351.0 L907.0 1349.8 L908.5 1348.5 L910.0 1347.2 L911.5 1345.9 L913.0 1344.6 L914.5 1343.3 L916.0 1342.0 L917.5 1340.7 L919.0 1339.4 L920.5 1338.1 L922.0 1336.8 L923.5 1335.5 L925.0 1334.3 L926.5 1333.1 L928.0 1331.9 L929.5 1330.7 L931.0 1329.5 L932.5 1328.3 L934.0 1327.1 L935.5 1325.9 L937.0 1324.7 L938.5 1323.5 L940.0 1322.2 L941.5 1320.9 L943.0 1319.5 L944.5 1318.2 L946.0 1316.8 L947.5 1315.5 L949.0 1314.1 L950.5 1312.8 L952.0 1311.6 L953.5 1310.3 L955.0 1309.1 L956.5 1307.9 L958.0 1306.7 L959.5 1305.4 L961.0 1304.2 L962.5 1303.0 L964.0 1301.7 L965.5 1300.5 L967.0 1299.2 L968.5 1298.0 L970.0 1296.7 L971.5 1295.5 L973.0 1294.3 L974.5 1293.1 L976.0 1291.9 L977.5 1290.7 L979.0 1289.5 L980.5 1288.3 L982.0 1287.1 L983.5 1285.9 L985.0 1284.7 L986.5 1283.5 L988.0 1282.3 L989.5 1281.2 L991.0 1280.1 L992.5 1279.0 L994.0 1277.9 L995.5 1276.8 L997.0 1275.7 L998.5 1274.6 L1000.0 1273.5 L1001.5 1272.4 L1003.0 1271.3 L1004.5 1270.2 L1006.0 1270.2 L1007.5 1270.2 L1009.0 1270.2 L1010.5 1270.2 L1012.0 1270.2 L1013.5 1270.2 L1015.0 1270.2" fill="none" stroke="#b865cc" stroke-opacity="0.55" stroke-width="1.3"/>
<path d="M184.0 1839.4 L185.5 1839.5 L187.0 1839.7 L188.5 1839.9 L190.0 1840.1 L191.5 1840.3 L193.0 1840.5 L194.5 1840.7 L196.0 1840.8 L197.5 1841.0 L199.0 1841.2 L200.5 1841.4 L202.0 1841.6 L203.5 1841.7 L205.0 1841.4 L206.5 1841.1 L208.0 1840.8 L209.5 1840.5 L211.0 1840.2 L212.5 1839.9 L214.0 1839.6 L215.5 1839.3 L217.0 1839.0 L218.5 1838.7 L220.0 1837.9 L221.5 1837.0 L223.0 1836.1 L224.5 1835.2 L226.0 1834.3 L227.5 1833.4 L229.0 1832.5 L230.5 1831.6 L232.0 1830.7 L233.5 1829.8 L235.0 1829.0 L236.5 1828.2 L238.0 1827.5 L239.5 1826.7 L241.0 1826.0 L242.5 1825.2 L244.0 1824.5 L245.5 1823.7 L247.0 1823.0 L248.5 1822.2 L250.0 1821.5 L251.5 1820.9 L253.0 1820.3 L254.5 1819.7 L256.0 1819.1 L257.5 1818.5 L259.0 1817.9 L260.5 1817.3 L262.0 1816.7 L263.5 1816.1 L265.0 1815.5 L266.5 1814.9 L268.0 1814.3 L269.5 1813.7 L271.0 1813.1 L272.5 1812.5 L274.0 1812.0 L275.5 1811.7 L277.0 1811.3 L278.5 1810.9 L280.0 1810.5 L281.5 1810.2 L283.0 1809.8 L284.5 1809.4 L286.0 1809.0 L287.5 1808.7 L289.0 1808.3 L290.5 1807.9 L292.0 1807.5 L293.5 1807.2 L295.0 1806.8 L296.5 1806.4 L298.0 1806.0 L299.5 1805.7 L301.0 1805.3 L302.5 1804.9 L304.0 1804.5 L305.5 1804.1 L307.0 1803.7 L308.5 1803.3 L310.0 1802.9 L311.5 1802.5 L313.0 1802.1 L314.5 1801.7 L316.0 1801.3 L317.5 1800.9 L319.0 1800.5 L320.5 1800.1 L322.0 1799.7 L323.5 1799.3 L325.0 1798.9 L326.5 1798.5 L328.0 1798.1 L329.5 1797.7 L331.0 1797.3 L332.5 1796.9 L334.0 1796.5 L335.5 1796.1 L337.0 1795.7 L338.5 1795.3 L340.0 1794.9 L341.5 1794.5 L343.0 1794.1 L344.5 1793.7 L346.0 1793.3 L347.5 1792.9 L349.0 1792.5 L350.5 1792.2 L352.0 1791.9 L353.5 1791.6 L355.0 1791.2 L356.5 1790.9 L358.0 1790.6 L359.5 1790.3 L361.0 1790.0 L362.5 1789.7 L364.0 1789.4 L365.5 1789.1 L367.0 1788.8 L368.5 1788.5 L370.0 1788.2 L371.5 1787.9 L373.0 1787.6 L374.5 1787.3 L376.0 1787.0 L377.5 1786.7 L379.0 1786.4 L380.5 1786.1 L382.0 1785.8 L383.5 1785.3 L385.0 1784.9 L386.5 1784.4 L388.0 1784.0 L389.5 1783.5 L391.0 1783.1 L392.5 1782.6 L394.0 1782.2 L395.5 1781.7 L397.0 1781.3 L398.5 1780.8 L400.0 1780.4 L401.5 1779.9 L403.0 1779.5 L404.5 1779.0 L406.0 1778.6 L407.5 1778.1 L409.0 1777.7 L410.5 1777.2 L412.0 1776.8 L413.5 1776.4 L415.0 1776.0 L416.5 1775.6 L418.0 1775.2 L419.5 1774.8 L421.0 1774.4 L422.5 1774.0 L424.0 1773.6 L425.5 1773.2 L427.0 1772.8 L428.5 1772.4 L430.0 1772.0 L431.5 1771.6 L433.0 1771.2 L434.5 1770.8 L436.0 1770.4 L437.5 1770.0 L439.0 1769.6 L440.5 1769.1 L442.0 1768.4 L443.5 1767.7 L445.0 1767.0 L446.5 1766.4 L448.0 1765.7 L449.5 1765.0 L451.0 1764.3 L452.5 1763.7 L454.0 1763.0 L455.5 1762.3 L457.0 1761.6 L458.5 1761.0 L460.0 1760.3 L461.5 1759.6 L463.0 1758.9 L464.5 1758.3 L466.0 1757.6 L467.5 1756.9 L469.0 1756.2 L470.5 1755.6 L472.0 1754.9 L473.5 1754.2 L475.0 1753.5 L476.5 1752.9 L478.0 1752.2 L479.5 1751.5 L481.0 1750.8 L482.5 1750.2 L484.0 1749.5 L485.5 1748.8 L487.0 1748.1 L488.5 1747.5 L490.0 1746.8 L491.5 1746.1 L493.0 1745.4 L494.5 1744.8 L496.0 1744.1 L497.5 1743.4 L499.0 1742.7 L500.5 1742.1 L502.0 1741.4 L503.5 1740.7 L505.0 1740.0 L506.5 1739.4 L508.0 1738.7 L509.5 1738.0 L511.0 1737.3 L512.5 1736.7 L514.0 1736.0 L515.5 1735.3 L517.0 1734.6 L518.5 1734.0 L520.0 1733.3 L521.5 1732.6 L523.0 1731.9 L524.5 1731.2 L526.0 1730.5 L527.5 1729.8 L529.0 1729.1 L530.5 1728.4 L532.0 1727.7 L533.5 1727.0 L535.0 1726.3 L536.5 1725.6 L538.0 1724.9 L539.5 1724.2 L541.0 1723.5 L542.5 1722.8 L544.0 1722.1 L545.5 1721.4 L547.0 1720.7 L548.5 1720.0 L550.0 1719.2 L551.5 1718.0 L553.0 1716.8 L554.5 1715.6 L556.0 1714.4 L557.5 1713.2 L559.0 1712.0 L560.5 1710.8 L562.0 1709.6 L563.5 1708.4 L565.0 1707.2 L566.5 1706.0 L568.0 1704.8 L569.5 1703.6 L571.0 1702.4 L572.5 1701.2 L574.0 1700.0 L575.5 1698.8 L577.0 1697.6 L578.5 1696.4 L580.0 1695.1 L581.5 1693.5 L583.0 1691.8 L584.5 1690.2 L586.0 1688.5 L587.5 1686.9 L589.0 1685.2 L590.5 1683.6 L592.0 1681.9 L593.5 1680.3 L595.0 1678.6 L596.5 1677.0 L598.0 1675.3 L599.5 1673.7 L601.0 1671.9 L602.5 1670.1 L604.0 1668.3 L605.5 1666.5 L607.0 1664.7 L608.5 1662.9 L610.0 1661.1 L611.5 1659.3 L613.0 1657.5 L614.5 1655.7 L616.0 1653.9 L617.5 1652.1 L619.0 1650.3 L620.5 1648.6 L622.0 1647.1 L623.5 1645.6 L625.0 1644.1 L626.5 1642.6 L628.0 1641.1 L629.5 1639.6 L631.0 1638.1 L632.5 1636.6 L634.0 1635.1 L635.5 1633.5 L637.0 1632.0 L638.5 1630.5 L640.0 1629.0 L641.5 1627.4 L643.0 1625.8 L644.5 1624.3 L646.0 1622.6 L647.5 1620.9 L649.0 1619.1 L650.5 1617.0 L652.0 1614.7 L653.5 1612.3 L655.0 1610.8 L656.5 1610.2 L658.0 1609.5 L659.5 1608.6 L661.0 1607.6 L662.5 1606.4 L664.0 1605.2 L665.5 1604.0 L667.0 1602.7 L668.5 1601.4 L670.0 1600.1 L671.5 1598.7 L673.0 1597.4 L674.5 1596.1 L676.0 1594.7 L677.5 1593.4 L679.0 1592.1 L680.5 1590.8 L682.0 1589.6 L683.5 1588.4 L685.0 1587.2 L686.5 1586.0 L688.0 1584.8 L689.5 1583.6 L691.0 1582.4 L692.5 1581.2 L694.0 1580.1 L695.5 1578.9 L697.0 1577.7 L698.5 1576.5 L700.0 1575.0 L701.5 1573.2 L703.0 1571.4 L704.5 1569.6 L706.0 1567.8 L707.5 1565.9 L709.0 1564.1 L710.5 1562.3 L712.0 1560.5 L713.5 1558.6 L715.0 1556.8 L716.5 1555.0 L718.0 1553.2 L719.5 1551.4 L721.0 1549.5 L722.5 1547.7 L724.0 1545.9 L725.5 1544.1 L727.0 1542.2 L728.5 1540.4 L730.0 1538.6 L731.5 1536.8 L733.0 1534.9 L734.5 1533.1 L736.0 1531.3 L737.5 1529.5 L739.0 1527.7 L740.5 1525.8 L742.0 1524.0 L743.5 1522.2 L745.0 1520.4 L746.5 1518.5 L748.0 1516.7 L749.5 1514.9 L751.0 1513.4 L752.5 1511.9 L754.0 1510.4 L755.5 1508.9 L757.0 1507.4 L758.5 1505.9 L760.0 1504.4 L761.5 1502.9 L763.0 1501.4 L764.5 1499.9 L766.0 1498.4 L767.5 1496.3 L769.0 1494.2 L770.5 1492.1 L772.0 1490.0 L773.5 1487.9 L775.0 1485.8 L776.5 1483.7 L778.0 1481.6 L779.5 1479.5 L781.0 1477.4 L782.5 1475.3 L784.0 1473.5 L785.5 1471.7 L787.0 1469.9 L788.5 1468.1 L790.0 1466.3 L791.5 1464.5 L793.0 1462.7 L794.5 1460.9 L796.0 1459.1 L797.5 1457.3 L799.0 1455.5 L800.5 1453.7 L802.0 1451.9 L803.5 1450.1 L805.0 1448.3 L806.5 1446.5 L808.0 1444.7 L809.5 1442.9 L811.0 1441.1 L812.5 1439.3 L814.0 1437.5 L815.5 1435.7 L817.0 1434.0 L818.5 1432.3 L820.0 1430.6 L821.5 1428.9 L823.0 1427.2 L824.5 1425.6 L826.0 1423.9 L827.5 1422.2 L829.0 1420.4 L830.5 1417.3 L832.0 1414.2 L833.5 1411.0 L835.0 1407.9 L836.5 1405.1 L838.0 1404.0 L839.5 1403.0 L841.0 1401.9 L842.5 1400.8 L844.0 1399.7 L845.5 1398.6 L847.0 1397.5 L848.5 1396.4 L850.0 1395.2 L851.5 1394.1 L853.0 1393.1 L854.5 1392.1 L856.0 1391.2 L857.5 1390.2 L859.0 1389.3 L860.5 1388.4 L862.0 1387.4 L863.5 1386.3 L865.0 1385.2 L866.5 1384.1 L868.0 1383.1 L869.5 1381.9 L871.0 1380.8 L872.5 1379.6 L874.0 1378.4 L875.5 1377.2 L877.0 1376.0 L878.5 1374.6 L880.0 1373.2 L881.5 1371.7 L883.0 1370.3 L884.5 1368.9 L886.0 1367.6 L887.5 1366.2 L889.0 1364.9 L890.5 1363.5 L892.0 1362.2 L893.5 1360.8 L895.0 1359.5 L896.5 1358.2 L898.0 1357.0 L899.5 1355.8 L901.0 1354.6 L902.5 1353.4 L904.0 1352.2 L905.5 1351.0 L907.0 1349.8 L908.5 1348.5 L910.0 1347.2 L911.5 1345.9 L913.0 1344.6 L914.5 1343.3 L916.0 1342.0 L917.5 1340.7 L919.0 1339.4 L920.5 1338.1 L922.0 1336.8 L923.5 1335.5 L925.0 1334.3 L926.5 1333.1 L928.0 1331.9 L929.5 1330.7 L931.0 1329.5 L932.5 1328.3 L934.0 1327.1 L935.5 1325.9 L937.0 1324.7 L938.5 1323.5 L940.0 1322.2 L941.5 1320.9 L943.0 1319.5 L944.5 1318.2 L946.0 1316.8 L947.5 1315.5 L949.0 1314.1 L950.5 1312.8 L952.0 1311.6 L953.5 1310.3 L955.0 1309.1 L956.5 1307.9 L958.0 1306.7 L959.5 1305.4 L961.0 1304.2 L962.5 1303.0 L964.0 1301.7 L965.5 1300.5 L967.0 1299.2 L968.5 1298.0 L970.0 1296.7 L971.5 1295.5 L973.0 1294.3 L974.5 1293.1 L976.0 1291.9 L977.5 1290.7 L979.0 1289.5 L980.5 1288.3 L982.0 1287.1 L983.5 1285.9 L985.0 1284.7 L986.5 1283.5 L988.0 1282.3 L989.5 1281.2 L991.0 1280.1 L992.5 1279.0 L994.0 1277.9 L995.5 1276.8 L997.0 1275.7 L998.5 1274.6 L1000.0 1273.5 L1001.5 1272.4 L1003.0 1271.3 L1004.5 1270.2 L1006.0 1270.2 L1007.5 1270.2 L1009.0 1270.2 L1010.5 1270.2 L1012.0 1270.2 L1013.5 1270.2 L1015.0 1270.2" fill="none" stroke="#b865cc" stroke-opacity="0.55" stroke-width="1.3"/>
<path d="M184.0 1839.4 L185.5 1839.5 L187.0 1839.7 L188.5 1839.9 L190.0 1840.1 L191.5 1840.3 L193.0 1840.5 L194.5 1840.6 L196.0 1840.8 L197.5 1841.0 L199.0 1841.2 L200.5 1841.4 L202.0 1841.6 L203.5 1841.7 L205.0 1841.4 L206.5 1841.1 L208.0 1840.8 L209.5 1840.5 L211.0 1840.2 L212.5 1839.9 L214.0 1839.6 L215.5 1839.3 L217.0 1839.0 L218.5 1838.7 L220.0 1837.9 L221.5 1837.0 L223.0 1836.1 L224.5 1835.2 L226.0 1834.3 L227.5 1833.4 L229.0 1832.5 L230.5 1831.6 L232.0 1830.7 L233.5 1829.8 L235.0 1829.0 L236.5 1828.2 L238.0 1827.5 L239.5 1826.7 L241.0 1826.0 L242.5 1825.2 L244.0 1824.5 L245.5 1823.7 L247.0 1823.0 L248.5 1822.2 L250.0 1821.5 L251.5 1820.9 L253.0 1820.3 L254.5 1819.7 L256.0 1819.1 L257.5 1818.5 L259.0 1817.9 L260.5 1817.3 L262.0 1816.7 L263.5 1816.1 L265.0 1815.5 L266.5 1814.9 L268.0 1814.3 L269.5 1813.7 L271.0 1813.1 L272.5 1812.5 L274.0 1812.0 L275.5 1811.7 L277.0 1811.3 L278.5 1810.9 L280.0 1810.5 L281.5 1810.2 L283.0 1809.8 L284.5 1809.4 L286.0 1809.0 L287.5 1808.7 L289.0 1808.3 L290.5 1807.9 L292.0 1807.5 L293.5 1807.2 L295.0 1806.8 L296.5 1806.4 L298.0 1806.0 L299.5 1805.7 L301.0 1805.3 L302.5 1804.9 L304.0 1804.5 L305.5 1804.1 L307.0 1803.7 L308.5 1803.3 L310.0 1802.9 L311.5 1802.5 L313.0 1802.1 L314.5 1801.7 L316.0 1801.3 L317.5 1800.9 L319.0 1800.5 L320.5 1800.1 L322.0 1799.7 L323.5 1799.3 L325.0 1798.9 L326.5 1798.5 L328.0 1798.1 L329.5 1797.7 L331.0 1797.3 L332.5 1796.9 L334.0 1796.5 L335.5 1796.1 L337.0 1795.7 L338.5 1795.3 L340.0 1794.9 L341.5 1794.5 L343.0 1794.1 L344.5 1793.7 L346.0 1793.3 L347.5 1792.9 L349.0 1792.5 L350.5 1792.1 L352.0 1791.8 L353.5 1791.5 L355.0 1791.2 L356.5 1790.9 L358.0 1790.6 L359.5 1790.3 L361.0 1790.0 L362.5 1789.7 L364.0 1789.4 L365.5 1789.1 L367.0 1788.8 L368.5 1788.5 L370.0 1788.2 L371.5 1787.9 L373.0 1787.6 L374.5 1787.3 L376.0 1787.0 L377.5 1786.7 L379.0 1786.4 L380.5 1786.1 L382.0 1785.8 L383.5 1785.3 L385.0 1784.9 L386.5 1784.4 L388.0 1784.0 L389.5 1783.5 L391.0 1783.1 L392.5 1782.6 L394.0 1782.2 L395.5 1781.7 L397.0 1781.3 L398.5 1780.8 L400.0 1780.4 L401.5 1779.9 L403.0 1779.5 L404.5 1779.0 L406.0 1778.6 L407.5 1778.1 L409.0 1777.7 L410.5 1777.2 L412.0 1776.8 L413.5 1776.4 L415.0 1776.0 L416.5 1775.6 L418.0 1775.2 L419.5 1774.8 L421.0 1774.4 L422.5 1774.0 L424.0 1773.6 L425.5 1773.2 L427.0 1772.8 L428.5 1772.4 L430.0 1771.9 L431.5 1771.5 L433.0 1771.1 L434.5 1770.7 L436.0 1770.3 L437.5 1769.9 L439.0 1769.5 L440.5 1769.1 L442.0 1768.4 L443.5 1767.7 L445.0 1767.0 L446.5 1766.3 L448.0 1765.7 L449.5 1765.0 L451.0 1764.3 L452.5 1763.6 L454.0 1763.0 L455.5 1762.3 L457.0 1761.6 L458.5 1760.9 L460.0 1760.3 L461.5 1759.6 L463.0 1758.9 L464.5 1758.2 L466.0 1757.6 L467.5 1756.9 L469.0 1756.2 L470.5 1755.5 L472.0 1754.9 L473.5 1754.2 L475.0 1753.5 L476.5 1752.8 L478.0 1752.2 L479.5 1751.5 L481.0 1750.8 L482.5 1750.1 L484.0 1749.5 L485.5 1748.8 L487.0 1748.1 L488.5 1747.4 L490.0 1746.8 L491.5 1746.1 L493.0 1745.4 L494.5 1744.7 L496.0 1744.1 L497.5 1743.4 L499.0 1742.7 L500.5 1742.0 L502.0 1741.4 L503.5 1740.7 L505.0 1740.0 L506.5 1739.3 L508.0 1738.7 L509.5 1738.0 L511.0 1737.3 L512.5 1736.6 L514.0 1736.0 L515.5 1735.3 L517.0 1734.6 L518.5 1733.9 L520.0 1733.2 L521.5 1732.5 L523.0 1731.8 L524.5 1731.1 L526.0 1730.4 L527.5 1729.7 L529.0 1729.0 L530.5 1728.3 L532.0 1727.6 L533.5 1726.9 L535.0 1726.2 L536.5 1725.5 L538.0 1724.8 L539.5 1724.1 L541.0 1723.4 L542.5 1722.7 L544.0 1722.0 L545.5 1721.3 L547.0 1720.6 L548.5 1719.9 L550.0 1719.2 L551.5 1718.0 L553.0 1716.8 L554.5 1715.6 L556.0 1714.3 L557.5 1713.1 L559.0 1711.9 L560.5 1710.7 L562.0 1709.5 L563.5 1708.3 L565.0 1707.1 L566.5 1705.9 L568.0 1704.7 L569.5 1703.5 L571.0 1702.3 L572.5 1701.1 L574.0 1699.9 L575.5 1698.7 L577.0 1697.5 L578.5 1696.3 L580.0 1695.0 L581.5 1693.4 L583.0 1691.7 L584.5 1690.1 L586.0 1688.4 L587.5 1686.8 L589.0 1685.1 L590.5 1683.5 L592.0 1681.8 L593.5 1680.2 L595.0 1678.5 L596.5 1676.9 L598.0 1675.2 L599.5 1673.5 L601.0 1671.8 L602.5 1670.0 L604.0 1668.1 L605.5 1666.3 L607.0 1664.5 L608.5 1662.7 L610.0 1660.9 L611.5 1659.1 L613.0 1657.3 L614.5 1655.5 L616.0 1653.7 L617.5 1651.9 L619.0 1650.1 L620.5 1648.4 L622.0 1646.9 L623.5 1645.4 L625.0 1643.9 L626.5 1642.4 L628.0 1640.9 L629.5 1639.3 L631.0 1637.8 L632.5 1636.3 L634.0 1634.8 L635.5 1633.2 L637.0 1631.7 L638.5 1630.2 L640.0 1628.6 L641.5 1627.1 L643.0 1625.5 L644.5 1623.9 L646.0 1622.4 L647.5 1620.8 L649.0 1619.2 L650.5 1617.5 L652.0 1615.9 L653.5 1614.2 L655.0 1612.4 L656.5 1610.6 L658.0 1608.7 L659.5 1606.6 L661.0 1604.4 L662.5 1601.8 L664.0 1598.6 L665.5 1594.2 L667.0 1587.4 L668.5 1575.4 L670.0 1552.7 L671.5 1523.3 L673.0 1531.4 L674.5 1559.0 L676.0 1574.3 L677.5 1581.1 L679.0 1584.1 L680.5 1585.3 L682.0 1585.6 L683.5 1585.3 L685.0 1584.8 L686.5 1584.1 L688.0 1583.3 L689.5 1582.3 L691.0 1581.3 L692.5 1580.3 L694.0 1579.2 L695.5 1578.1 L697.0 1577.0 L698.5 1575.9 L700.0 1574.6 L701.5 1572.8 L703.0 1571.0 L704.5 1569.2 L706.0 1567.4 L707.5 1565.7 L709.0 1563.9 L710.5 1562.1 L712.0 1560.3 L713.5 1558.4 L715.0 1556.6 L716.5 1554.8 L718.0 1553.0 L719.5 1551.2 L721.0 1549.4 L722.5 1547.6 L724.0 1545.8 L725.5 1544.0 L727.0 1542.1 L728.5 1540.3 L730.0 1538.5 L731.5 1536.7 L733.0 1534.9 L734.5 1533.1 L736.0 1531.2 L737.5 1529.4 L739.0 1527.6 L740.5 1525.8 L742.0 1524.0 L743.5 1522.1 L745.0 1520.3 L746.5 1518.5 L748.0 1516.7 L749.5 1514.9 L751.0 1513.3 L752.5 1511.8 L754.0 1510.3 L755.5 1508.8 L757.0 1507.3 L758.5 1505.8 L760.0 1504.4 L761.5 1502.9 L763.0 1501.4 L764.5 1499.9 L766.0 1498.4 L767.5 1496.3 L769.0 1494.2 L770.5 1492.1 L772.0 1490.0 L773.5 1487.9 L775.0 1485.8 L776.5 1483.7 L778.0 1481.6 L779.5 1479.5 L781.0 1477.4 L782.5 1475.3 L784.0 1473.5 L785.5 1471.7 L787.0 1469.9 L788.5 1468.1 L790.0 1466.3 L791.5 1464.5 L793.0 1462.7 L794.5 1460.9 L796.0 1459.1 L797.5 1457.3 L799.0 1455.5 L800.5 1453.7 L802.0 1451.9 L803.5 1450.1 L805.0 1448.3 L806.5 1446.5 L808.0 1444.7 L809.5 1442.9 L811.0 1441.1 L812.5 1439.3 L814.0 1437.5 L815.5 1435.7 L817.0 1434.0 L818.5 1432.3 L820.0 1430.6 L821.5 1428.9 L823.0 1427.2 L824.5 1425.6 L826.0 1423.9 L827.5 1422.2 L829.0 1420.4 L830.5 1417.3 L832.0 1414.2 L833.5 1411.0 L835.0 1407.9 L836.5 1405.1 L838.0 1404.0 L839.5 1403.0 L841.0 1401.9 L842.5 1400.8 L844.0 1399.7 L845.5 1398.6 L847.0 1397.5 L848.5 1396.4 L850.0 1395.2 L851.5 1394.1 L853.0 1393.0 L854.5 1392.1 L856.0 1391.2 L857.5 1390.2 L859.0 1389.3 L860.5 1388.4 L862.0 1387.4 L863.5 1386.3 L865.0 1385.2 L866.5 1384.1 L868.0 1383.1 L869.5 1381.9 L871.0 1380.8 L872.5 1379.6 L874.0 1378.4 L875.5 1377.2 L877.0 1376.0 L878.5 1374.6 L880.0 1373.2 L881.5 1371.7 L883.0 1370.3 L884.5 1368.9 L886.0 1367.6 L887.5 1366.2 L889.0 1364.9 L890.5 1363.5 L892.0 1362.2 L893.5 1360.8 L895.0 1359.5 L896.5 1358.2 L898.0 1357.0 L899.5 1355.8 L901.0 1354.6 L902.5 1353.4 L904.0 1352.2 L905.5 1351.0 L907.0 1349.8 L908.5 1348.5 L910.0 1347.2 L911.5 1345.9 L913.0 1344.6 L914.5 1343.3 L916.0 1342.0 L917.5 1340.7 L919.0 1339.4 L920.5 1338.1 L922.0 1336.8 L923.5 1335.5 L925.0 1334.3 L926.5 1333.1 L928.0 1331.9 L929.5 1330.7 L931.0 1329.5 L932.5 1328.3 L934.0 1327.1 L935.5 1325.9 L937.0 1324.7 L938.5 1323.5 L940.0 1322.2 L941.5 1320.9 L943.0 1319.5 L944.5 1318.2 L946.0 1316.8 L947.5 1315.5 L949.0 1314.1 L950.5 1312.8 L952.0 1311.6 L953.5 1310.3 L955.0 1309.1 L956.5 1307.9 L958.0 1306.7 L959.5 1305.4 L961.0 1304.2 L962.5 1303.0 L964.0 1301.7 L965.5 1300.5 L967.0 1299.2 L968.5 1298.0 L970.0 1296.7 L971.5 1295.5 L973.0 1294.3 L974.5 1293.1 L976.0 1291.9 L977.5 1290.7 L979.0 1289.5 L980.5 1288.3 L982.0 1287.1 L983.5 1285.9 L985.0 1284.7 L986.5 1283.5 L988.0 1282.3 L989.5 1281.2 L991.0 1280.1 L992.5 1279.0 L994.0 1277.9 L995.5 1276.8 L997.0 1275.7 L998.5 1274.6 L1000.0 1273.5 L1001.5 1272.4 L1003.0 1271.3 L1004.5 1270.2 L1006.0 1270.2 L1007.5 1270.2 L1009.0 1270.2 L1010.5 1270.2 L1012.0 1270.2 L1013.5 1270.2 L1015.0 1270.2" fill="none" stroke="#b865cc" stroke-opacity="0.55" stroke-width="1.3"/>
<path d="M184.0 1839.4 L185.5 1839.5 L187.0 1839.7 L188.5 1839.8 L190.0 1840.0 L191.5 1840.2 L193.0 1840.4 L194.5 1840.6 L196.0 1840.8 L197.5 1841.0 L199.0 1841.2 L200.5 1841.3 L202.0 1841.5 L203.5 1841.6 L205.0 1841.3 L206.5 1841.0 L208.0 1840.7 L209.5 1840.4 L211.0 1840.1 L212.5 1839.8 L214.0 1839.5 L215.5 1839.2 L217.0 1838.9 L218.5 1838.6 L220.0 1837.8 L221.5 1836.9 L223.0 1836.0 L224.5 1835.1 L226.0 1834.2 L227.5 1833.3 L229.0 1832.4 L230.5 1831.5 L232.0 1830.6 L233.5 1829.7 L235.0 1828.9 L236.5 1828.1 L238.0 1827.4 L239.5 1826.6 L241.0 1825.9 L242.5 1825.1 L244.0 1824.4 L245.5 1823.6 L247.0 1822.9 L248.5 1822.1 L250.0 1821.4 L251.5 1820.8 L253.0 1820.2 L254.5 1819.6 L256.0 1819.0 L257.5 1818.4 L259.0 1817.8 L260.5 1817.2 L262.0 1816.6 L263.5 1816.0 L265.0 1815.4 L266.5 1814.8 L268.0 1814.2 L269.5 1813.6 L271.0 1813.0 L272.5 1812.4 L274.0 1812.0 L275.5 1811.6 L277.0 1811.2 L278.5 1810.8 L280.0 1810.5 L281.5 1810.1 L283.0 1809.7 L284.5 1809.3 L286.0 1809.0 L287.5 1808.6 L289.0 1808.2 L290.5 1807.8 L292.0 1807.5 L293.5 1807.1 L295.0 1806.7 L296.5 1806.3 L298.0 1806.0 L299.5 1805.6 L301.0 1805.2 L302.5 1804.8 L304.0 1804.5 L305.5 1804.1 L307.0 1803.7 L308.5 1803.2 L310.0 1802.8 L311.5 1802.4 L313.0 1802.0 L314.5 1801.6 L316.0 1801.2 L317.5 1800.8 L319.0 1800.4 L320.5 1800.0 L322.0 1799.6 L323.5 1799.2 L325.0 1798.8 L326.5 1798.4 L328.0 1798.0 L329.5 1797.6 L331.0 1797.2 L332.5 1796.8 L334.0 1796.4 L335.5 1796.0 L337.0 1795.6 L338.5 1795.2 L340.0 1794.8 L341.5 1794.4 L343.0 1794.0 L344.5 1793.6 L346.0 1793.2 L347.5 1792.8 L349.0 1792.4 L350.5 1792.0 L352.0 1791.7 L353.5 1791.4 L355.0 1791.1 L356.5 1790.8 L358.0 1790.5 L359.5 1790.2 L361.0 1789.9 L362.5 1789.6 L364.0 1789.3 L365.5 1789.0 L367.0 1788.7 L368.5 1788.4 L370.0 1788.1 L371.5 1787.8 L373.0 1787.5 L374.5 1787.2 L376.0 1786.9 L377.5 1786.6 L379.0 1786.3 L380.5 1786.0 L382.0 1785.6 L383.5 1785.2 L385.0 1784.7 L386.5 1784.3 L388.0 1783.8 L389.5 1783.4 L391.0 1782.9 L392.5 1782.5 L394.0 1782.0 L395.5 1781.6 L397.0 1781.1 L398.5 1780.7 L400.0 1780.2 L401.5 1779.8 L403.0 1779.3 L404.5 1778.9 L406.0 1778.4 L407.5 1778.0 L409.0 1777.5 L410.5 1777.1 L412.0 1776.6 L413.5 1776.2 L415.0 1775.8 L416.5 1775.4 L418.0 1775.0 L419.5 1774.6 L421.0 1774.2 L422.5 1773.8 L424.0 1773.4 L425.5 1773.0 L427.0 1772.6 L428.5 1772.2 L430.0 1771.8 L431.5 1771.4 L433.0 1771.0 L434.5 1770.5 L436.0 1770.1 L437.5 1769.7 L439.0 1769.3 L440.5 1768.8 L442.0 1768.2 L443.5 1767.5 L445.0 1766.8 L446.5 1766.1 L448.0 1765.5 L449.5 1764.8 L451.0 1764.1 L452.5 1763.4 L454.0 1762.7 L455.5 1762.1 L457.0 1761.4 L458.5 1760.7 L460.0 1760.0 L461.5 1759.4 L463.0 1758.7 L464.5 1758.0 L466.0 1757.3 L467.5 1756.6 L469.0 1756.0 L470.5 1755.3 L472.0 1754.6 L473.5 1753.9 L475.0 1753.3 L476.5 1752.6 L478.0 1751.9 L479.5 1751.2 L481.0 1750.5 L482.5 1749.9 L484.0 1749.2 L485.5 1748.5 L487.0 1747.8 L488.5 1747.1 L490.0 1746.5 L491.5 1745.8 L493.0 1745.1 L494.5 1744.4 L496.0 1743.7 L497.5 1743.1 L499.0 1742.4 L500.5 1741.7 L502.0 1741.0 L503.5 1740.3 L505.0 1739.7 L506.5 1739.0 L508.0 1738.3 L509.5 1737.6 L511.0 1736.9 L512.5 1736.3 L514.0 1735.6 L515.5 1734.9 L517.0 1734.2 L518.5 1733.5 L520.0 1732.9 L521.5 1732.1 L523.0 1731.4 L524.5 1730.7 L526.0 1730.0 L527.5 1729.3 L529.0 1728.6 L530.5 1727.9 L532.0 1727.2 L533.5 1726.5 L535.0 1725.8 L536.5 1725.1 L538.0 1724.4 L539.5 1723.6 L541.0 1722.9 L542.5 1722.2 L544.0 1721.5 L545.5 1720.8 L547.0 1720.1 L548.5 1719.4 L550.0 1718.6 L551.5 1717.4 L553.0 1716.2 L554.5 1715.0 L556.0 1713.7 L557.5 1712.5 L559.0 1711.3 L560.5 1710.1 L562.0 1708.9 L563.5 1707.7 L565.0 1706.5 L566.5 1705.3 L568.0 1704.0 L569.5 1702.8 L571.0 1701.6 L572.5 1700.4 L574.0 1699.2 L575.5 1697.9 L577.0 1696.7 L578.5 1695.5 L580.0 1694.2 L581.5 1692.5 L583.0 1690.9 L584.5 1689.2 L586.0 1687.5 L587.5 1685.8 L589.0 1684.2 L590.5 1682.5 L592.0 1680.8 L593.5 1679.1 L595.0 1677.5 L596.5 1675.8 L598.0 1674.1 L599.5 1672.4 L601.0 1670.6 L602.5 1668.7 L604.0 1666.9 L605.5 1665.1 L607.0 1663.2 L608.5 1661.4 L610.0 1659.5 L611.5 1657.7 L613.0 1655.8 L614.5 1653.9 L616.0 1652.1 L617.5 1650.2 L619.0 1648.3 L620.5 1646.6 L622.0 1645.0 L623.5 1643.4 L625.0 1641.8 L626.5 1640.2 L628.0 1638.6 L629.5 1636.9 L631.0 1635.3 L632.5 1633.6 L634.0 1631.9 L635.5 1630.2 L637.0 1628.5 L638.5 1626.7 L640.0 1624.9 L641.5 1623.1 L643.0 1621.2 L644.5 1619.3 L646.0 1617.3 L647.5 1615.3 L649.0 1613.1 L650.5 1610.9 L652.0 1608.5 L653.5 1606.0 L655.0 1603.3 L656.5 1600.3 L658.0 1597.0 L659.5 1593.3 L661.0 1589.1 L662.5 1584.3 L664.0 1578.4 L665.5 1571.3 L667.0 1562.4 L668.5 1551.5 L670.0 1538.3 L671.5 1523.6 L673.0 1509.7 L674.5 1501.0 L676.0 1501.3 L677.5 1510.0 L679.0 1522.5 L680.5 1534.9 L682.0 1545.2 L683.5 1553.1 L685.0 1558.9 L686.5 1563.1 L688.0 1566.0 L689.5 1568.0 L691.0 1569.3 L692.5 1570.1 L694.0 1570.5 L695.5 1570.6 L697.0 1570.4 L698.5 1570.1 L700.0 1569.4 L701.5 1568.3 L703.0 1567.0 L704.5 1565.6 L706.0 1564.2 L707.5 1562.8 L709.0 1561.2 L710.5 1559.7 L712.0 1558.1 L713.5 1556.5 L715.0 1554.8 L716.5 1553.2 L718.0 1551.5 L719.5 1549.8 L721.0 1548.1 L722.5 1546.4 L724.0 1544.7 L725.5 1542.9 L727.0 1541.2 L728.5 1539.4 L730.0 1537.7 L731.5 1535.9 L733.0 1534.1 L734.5 1532.4 L736.0 1530.6 L737.5 1528.8 L739.0 1527.0 L740.5 1525.2 L742.0 1523.4 L743.5 1521.7 L745.0 1519.9 L746.5 1518.1 L748.0 1516.3 L749.5 1514.5 L751.0 1513.0 L752.5 1511.5 L754.0 1510.0 L755.5 1508.5 L757.0 1507.0 L758.5 1505.6 L760.0 1504.1 L761.5 1502.6 L763.0 1501.1 L764.5 1499.6 L766.0 1498.1 L767.5 1496.1 L769.0 1494.0 L770.5 1491.9 L772.0 1489.8 L773.5 1487.7 L775.0 1485.6 L776.5 1483.5 L778.0 1481.5 L779.5 1479.4 L781.0 1477.3 L782.5 1475.2 L784.0 1473.3 L785.5 1471.6 L787.0 1469.8 L788.5 1468.0 L790.0 1466.2 L791.5 1464.4 L793.0 1462.6 L794.5 1460.8 L796.0 1459.0 L797.5 1457.2 L799.0 1455.4 L800.5 1453.6 L802.0 1451.8 L803.5 1450.0 L805.0 1448.2 L806.5 1446.4 L808.0 1444.6 L809.5 1442.8 L811.0 1441.0 L812.5 1439.2 L814.0 1437.4 L815.5 1435.6 L817.0 1433.9 L818.5 1432.2 L820.0 1430.6 L821.5 1428.9 L823.0 1427.2 L824.5 1425.5 L826.0 1423.8 L827.5 1422.1 L829.0 1420.4 L830.5 1417.2 L832.0 1414.1 L833.5 1411.0 L835.0 1407.9 L836.5 1405.1 L838.0 1404.0 L839.5 1402.9 L841.0 1401.9 L842.5 1400.8 L844.0 1399.7 L845.5 1398.6 L847.0 1397.5 L848.5 1396.3 L850.0 1395.2 L851.5 1394.1 L853.0 1393.0 L854.5 1392.1 L856.0 1391.1 L857.5 1390.2 L859.0 1389.3 L860.5 1388.3 L862.0 1387.3 L863.5 1386.3 L865.0 1385.2 L866.5 1384.1 L868.0 1383.0 L869.5 1381.9 L871.0 1380.7 L872.5 1379.6 L874.0 1378.4 L875.5 1377.2 L877.0 1375.9 L878.5 1374.5 L880.0 1373.1 L881.5 1371.7 L883.0 1370.3 L884.5 1368.9 L886.0 1367.5 L887.5 1366.2 L889.0 1364.8 L890.5 1363.5 L892.0 1362.1 L893.5 1360.8 L895.0 1359.4 L896.5 1358.2 L898.0 1357.0 L899.5 1355.8 L901.0 1354.6 L902.5 1353.4 L904.0 1352.2 L905.5 1351.0 L907.0 1349.7 L908.5 1348.4 L910.0 1347.1 L911.5 1345.8 L913.0 1344.5 L914.5 1343.2 L916.0 1341.9 L917.5 1340.6 L919.0 1339.3 L920.5 1338.0 L922.0 1336.7 L923.5 1335.5 L925.0 1334.3 L926.5 1333.1 L928.0 1331.9 L929.5 1330.7 L931.0 1329.5 L932.5 1328.3 L934.0 1327.1 L935.5 1325.9 L937.0 1324.7 L938.5 1323.5 L940.0 1322.2 L941.5 1320.9 L943.0 1319.5 L944.5 1318.2 L946.0 1316.8 L947.5 1315.5 L949.0 1314.1 L950.5 1312.8 L952.0 1311.6 L953.5 1310.3 L955.0 1309.1 L956.5 1307.9 L958.0 1306.7 L959.5 1305.4 L961.0 1304.2 L962.5 1303.0 L964.0 1301.7 L965.5 1300.5 L967.0 1299.2 L968.5 1298.0 L970.0 1296.7 L971.5 1295.5 L973.0 1294.3 L974.5 1293.1 L976.0 1291.9 L977.5 1290.7 L979.0 1289.5 L980.5 1288.3 L982.0 1287.1 L983.5 1285.9 L985.0 1284.7 L986.5 1283.5 L988.0 1282.3 L989.5 1281.1 L991.0 1280.0 L992.5 1278.9 L994.0 1277.8 L995.5 1276.7 L997.0 1275.6 L998.5 1274.5 L1000.0 1273.4 L1001.5 1272.3 L1003.0 1271.2 L1004.5 1270.2 L1006.0 1270.2 L1007.5 1270.2 L1009.0 1270.2 L1010.5 1270.2 L1012.0 1270.2 L1013.5 1270.2 L1015.0 1270.2" fill="none" stroke="#b865cc" stroke-opacity="0.55" stroke-width="1.3"/>
<path d="M184.0 1839.4 L185.5 1839.5 L187.0 1839.7 L188.5 1839.9 L190.0 1840.1 L191.5 1840.3 L193.0 1840.4 L194.5 1840.6 L196.0 1840.8 L197.5 1841.0 L199.0 1841.2 L200.5 1841.4 L202.0 1841.6 L203.5 1841.7 L205.0 1841.4 L206.5 1841.1 L208.0 1840.8 L209.5 1840.5 L211.0 1840.2 L212.5 1839.9 L214.0 1839.6 L215.5 1839.3 L217.0 1839.0 L218.5 1838.7 L220.0 1837.9 L221.5 1837.0 L223.0 1836.1 L224.5 1835.2 L226.0 1834.3 L227.5 1833.4 L229.0 1832.5 L230.5 1831.6 L232.0 1830.7 L233.5 1829.8 L235.0 1828.9 L236.5 1828.2 L238.0 1827.4 L239.5 1826.7 L241.0 1825.9 L242.5 1825.2 L244.0 1824.4 L245.5 1823.7 L247.0 1822.9 L248.5 1822.2 L250.0 1821.5 L251.5 1820.9 L253.0 1820.3 L254.5 1819.7 L256.0 1819.1 L257.5 1818.5 L259.0 1817.9 L260.5 1817.3 L262.0 1816.7 L263.5 1816.1 L265.0 1815.5 L266.5 1814.9 L268.0 1814.3 L269.5 1813.7 L271.0 1813.1 L272.5 1812.5 L274.0 1812.0 L275.5 1811.6 L277.0 1811.3 L278.5 1810.9 L280.0 1810.5 L281.5 1810.1 L283.0 1809.8 L284.5 1809.4 L286.0 1809.0 L287.5 1808.6 L289.0 1808.3 L290.5 1807.9 L292.0 1807.5 L293.5 1807.1 L295.0 1806.8 L296.5 1806.4 L298.0 1806.0 L299.5 1805.6 L301.0 1805.3 L302.5 1804.9 L304.0 1804.5 L305.5 1804.1 L307.0 1803.7 L308.5 1803.3 L310.0 1802.9 L311.5 1802.5 L313.0 1802.1 L314.5 1801.7 L316.0 1801.3 L317.5 1800.9 L319.0 1800.5 L320.5 1800.1 L322.0 1799.7 L323.5 1799.3 L325.0 1798.9 L326.5 1798.5 L328.0 1798.1 L329.5 1797.7 L331.0 1797.3 L332.5 1796.9 L334.0 1796.5 L335.5 1796.1 L337.0 1795.7 L338.5 1795.3 L340.0 1794.9 L341.5 1794.5 L343.0 1794.1 L344.5 1793.7 L346.0 1793.3 L347.5 1792.9 L349.0 1792.5 L350.5 1792.1 L352.0 1791.8 L353.5 1791.5 L355.0 1791.2 L356.5 1790.9 L358.0 1790.6 L359.5 1790.3 L361.0 1790.0 L362.5 1789.7 L364.0 1789.4 L365.5 1789.1 L367.0 1788.8 L368.5 1788.5 L370.0 1788.2 L371.5 1787.9 L373.0 1787.6 L374.5 1787.3 L376.0 1787.0 L377.5 1786.7 L379.0 1786.4 L380.5 1786.1 L382.0 1785.7 L383.5 1785.3 L385.0 1784.8 L386.5 1784.4 L388.0 1783.9 L389.5 1783.5 L391.0 1783.0 L392.5 1782.6 L394.0 1782.1 L395.5 1781.7 L397.0 1781.2 L398.5 1780.8 L400.0 1780.3 L401.5 1779.9 L403.0 1779.4 L404.5 1779.0 L406.0 1778.5 L407.5 1778.1 L409.0 1777.6 L410.5 1777.2 L412.0 1776.7 L413.5 1776.3 L415.0 1775.9 L416.5 1775.5 L418.0 1775.1 L419.5 1774.7 L421.0 1774.3 L422.5 1773.9 L424.0 1773.5 L425.5 1773.1 L427.0 1772.7 L428.5 1772.3 L430.0 1771.9 L431.5 1771.5 L433.0 1771.1 L434.5 1770.7 L436.0 1770.3 L437.5 1769.9 L439.0 1769.5 L440.5 1769.0 L442.0 1768.3 L443.5 1767.6 L445.0 1766.9 L446.5 1766.3 L448.0 1765.6 L449.5 1764.9 L451.0 1764.2 L452.5 1763.6 L454.0 1762.9 L455.5 1762.2 L457.0 1761.5 L458.5 1760.9 L460.0 1760.2 L461.5 1759.5 L463.0 1758.8 L464.5 1758.2 L466.0 1757.5 L467.5 1756.8 L469.0 1756.1 L470.5 1755.4 L472.0 1754.8 L473.5 1754.1 L475.0 1753.4 L476.5 1752.7 L478.0 1752.1 L479.5 1751.4 L481.0 1750.7 L482.5 1750.0 L484.0 1749.4 L485.5 1748.7 L487.0 1748.0 L488.5 1747.3 L490.0 1746.7 L491.5 1746.0 L493.0 1745.3 L494.5 1744.6 L496.0 1743.9 L497.5 1743.3 L499.0 1742.6 L500.5 1741.9 L502.0 1741.2 L503.5 1740.6 L505.0 1739.9 L506.5 1739.2 L508.0 1738.5 L509.5 1737.9 L511.0 1737.2 L512.5 1736.5 L514.0 1735.8 L515.5 1735.1 L517.0 1734.5 L518.5 1733.8 L520.0 1733.1 L521.5 1732.4 L523.0 1731.7 L524.5 1731.0 L526.0 1730.3 L527.5 1729.6 L529.0 1728.9 L530.5 1728.2 L532.0 1727.5 L533.5 1726.8 L535.0 1726.1 L536.5 1725.4 L538.0 1724.7 L539.5 1724.0 L541.0 1723.3 L542.5 1722.6 L544.0 1721.9 L545.5 1721.2 L547.0 1720.4 L548.5 1719.7 L550.0 1719.0 L551.5 1717.8 L553.0 1716.6 L554.5 1715.4 L556.0 1714.2 L557.5 1712.9 L559.0 1711.7 L560.5 1710.5 L562.0 1709.3 L563.5 1708.1 L565.0 1706.9 L566.5 1705.7 L568.0 1704.5 L569.5 1703.3 L571.0 1702.1 L572.5 1700.9 L574.0 1699.7 L575.5 1698.5 L577.0 1697.3 L578.5 1696.1 L580.0 1694.8 L581.5 1693.1 L583.0 1691.5 L584.5 1689.8 L586.0 1688.2 L587.5 1686.5 L589.0 1684.9 L590.5 1683.2 L592.0 1681.5 L593.5 1679.9 L595.0 1678.2 L596.5 1676.6 L598.0 1674.9 L599.5 1673.2 L601.0 1671.5 L602.5 1669.6 L604.0 1667.8 L605.5 1666.0 L607.0 1664.2 L608.5 1662.4 L610.0 1660.6 L611.5 1658.8 L613.0 1657.0 L614.5 1655.2 L616.0 1653.3 L617.5 1651.5 L619.0 1649.7 L620.5 1648.1 L622.0 1646.6 L623.5 1645.0 L625.0 1643.5 L626.5 1642.0 L628.0 1640.5 L629.5 1638.9 L631.0 1637.4 L632.5 1635.9 L634.0 1634.4 L635.5 1632.8 L637.0 1631.3 L638.5 1629.7 L640.0 1628.2 L641.5 1626.7 L643.0 1625.1 L644.5 1623.6 L646.0 1622.0 L647.5 1620.4 L649.0 1618.9 L650.5 1617.3 L652.0 1615.7 L653.5 1614.1 L655.0 1612.6 L656.5 1610.9 L658.0 1609.3 L659.5 1607.7 L661.0 1606.2 L662.5 1604.7 L664.0 1603.1 L665.5 1601.6 L667.0 1600.0 L668.5 1598.3 L670.0 1596.7 L671.5 1594.9 L673.0 1593.1 L674.5 1591.3 L676.0 1589.3 L677.5 1587.2 L679.0 1585.0 L680.5 1582.6 L682.0 1580.1 L683.5 1577.2 L685.0 1574.0 L686.5 1570.3 L688.0 1566.2 L689.5 1561.7 L691.0 1557.0 L692.5 1552.8 L694.0 1549.8 L695.5 1548.5 L697.0 1549.1 L698.5 1551.0 L700.0 1553.2 L701.5 1555.0 L703.0 1556.4 L704.5 1557.2 L706.0 1557.5 L707.5 1557.4 L709.0 1556.9 L710.5 1556.2 L712.0 1555.3 L713.5 1554.2 L715.0 1553.0 L716.5 1551.6 L718.0 1550.2 L719.5 1548.8 L721.0 1547.2 L722.5 1545.7 L724.0 1544.0 L725.5 1542.4 L727.0 1540.8 L728.5 1539.1 L730.0 1537.4 L731.5 1535.7 L733.0 1533.9 L734.5 1532.2 L736.0 1530.4 L737.5 1528.7 L739.0 1526.9 L740.5 1525.2 L742.0 1523.4 L743.5 1521.6 L745.0 1519.8 L746.5 1518.0 L748.0 1516.3 L749.5 1514.5 L751.0 1513.0 L752.5 1511.5 L754.0 1510.0 L755.5 1508.5 L757.0 1507.1 L758.5 1505.6 L760.0 1504.1 L761.5 1502.6 L763.0 1501.1 L764.5 1499.6 L766.0 1498.1 L767.5 1496.1 L769.0 1494.0 L770.5 1491.9 L772.0 1489.8 L773.5 1487.8 L775.0 1485.7 L776.5 1483.6 L778.0 1481.5 L779.5 1479.4 L781.0 1477.3 L782.5 1475.2 L784.0 1473.4 L785.5 1471.6 L787.0 1469.8 L788.5 1468.0 L790.0 1466.2 L791.5 1464.4 L793.0 1462.6 L794.5 1460.8 L796.0 1459.0 L797.5 1457.2 L799.0 1455.4 L800.5 1453.6 L802.0 1451.8 L803.5 1450.0 L805.0 1448.2 L806.5 1446.4 L808.0 1444.6 L809.5 1442.8 L811.0 1441.0 L812.5 1439.2 L814.0 1437.4 L815.5 1435.6 L817.0 1433.9 L818.5 1432.3 L820.0 1430.6 L821.5 1428.9 L823.0 1427.2 L824.5 1425.5 L826.0 1423.8 L827.5 1422.1 L829.0 1420.4 L830.5 1417.3 L832.0 1414.1 L833.5 1411.0 L835.0 1407.9 L836.5 1405.1 L838.0 1404.0 L839.5 1402.9 L841.0 1401.9 L842.5 1400.8 L844.0 1399.7 L845.5 1398.6 L847.0 1397.5 L848.5 1396.3 L850.0 1395.2 L851.5 1394.1 L853.0 1393.0 L854.5 1392.1 L856.0 1391.2 L857.5 1390.2 L859.0 1389.3 L860.5 1388.3 L862.0 1387.3 L863.5 1386.3 L865.0 1385.2 L866.5 1384.1 L868.0 1383.1 L869.5 1381.9 L871.0 1380.8 L872.5 1379.6 L874.0 1378.4 L875.5 1377.2 L877.0 1376.0 L878.5 1374.5 L880.0 1373.1 L881.5 1371.7 L883.0 1370.3 L884.5 1368.9 L886.0 1367.6 L887.5 1366.2 L889.0 1364.9 L890.5 1363.5 L892.0 1362.2 L893.5 1360.8 L895.0 1359.5 L896.5 1358.2 L898.0 1357.0 L899.5 1355.8 L901.0 1354.6 L902.5 1353.4 L904.0 1352.2 L905.5 1351.0 L907.0 1349.7 L908.5 1348.4 L910.0 1347.1 L911.5 1345.8 L913.0 1344.5 L914.5 1343.2 L916.0 1341.9 L917.5 1340.6 L919.0 1339.3 L920.5 1338.0 L922.0 1336.7 L923.5 1335.5 L925.0 1334.3 L926.5 1333.1 L928.0 1331.9 L929.5 1330.7 L931.0 1329.5 L932.5 1328.3 L934.0 1327.1 L935.5 1325.9 L937.0 1324.7 L938.5 1323.5 L940.0 1322.2 L941.5 1320.9 L943.0 1319.5 L944.5 1318.2 L946.0 1316.8 L947.5 1315.5 L949.0 1314.1 L950.5 1312.8 L952.0 1311.6 L953.5 1310.3 L955.0 1309.1 L956.5 1307.9 L958.0 1306.7 L959.5 1305.4 L961.0 1304.2 L962.5 1303.0 L964.0 1301.7 L965.5 1300.5 L967.0 1299.2 L968.5 1298.0 L970.0 1296.7 L971.5 1295.5 L973.0 1294.3 L974.5 1293.1 L976.0 1291.9 L977.5 1290.7 L979.0 1289.5 L980.5 1288.3 L982.0 1287.1 L983.5 1285.9 L985.0 1284.7 L986.5 1283.5 L988.0 1282.3 L989.5 1281.1 L991.0 1280.0 L992.5 1278.9 L994.0 1277.8 L995.5 1276.7 L997.0 1275.6 L998.5 1274.5 L1000.0 1273.4 L1001.5 1272.3 L1003.0 1271.2 L1004.5 1270.2 L1006.0 1270.2 L1007.5 1270.2 L1009.0 1270.2 L1010.5 1270.2 L1012.0 1270.2 L1013.5 1270.2 L1015.0 1270.2" fill="none" stroke="#b865cc" stroke-opacity="0.55" stroke-width="1.3"/>
<path d="M184.0 1839.4 L185.5 1839.5 L187.0 1839.7 L188.5 1839.9 L190.0 1840.0 L191.5 1840.2 L193.0 1840.4 L194.5 1840.6 L196.0 1840.8 L197.5 1841.0 L199.0 1841.2 L200.5 1841.4 L202.0 1841.5 L203.5 1841.7 L205.0 1841.3 L206.5 1841.0 L208.0 1840.7 L209.5 1840.4 L211.0 1840.1 L212.5 1839.8 L214.0 1839.5 L215.5 1839.2 L217.0 1838.9 L218.5 1838.6 L220.0 1837.8 L221.5 1836.9 L223.0 1836.0 L224.5 1835.1 L226.0 1834.2 L227.5 1833.3 L229.0 1832.4 L230.5 1831.5 L232.0 1830.6 L233.5 1829.7 L235.0 1828.9 L236.5 1828.2 L238.0 1827.4 L239.5 1826.7 L241.0 1825.9 L242.5 1825.2 L244.0 1824.4 L245.5 1823.7 L247.0 1822.9 L248.5 1822.2 L250.0 1821.4 L251.5 1820.8 L253.0 1820.2 L254.5 1819.6 L256.0 1819.0 L257.5 1818.4 L259.0 1817.8 L260.5 1817.2 L262.0 1816.6 L263.5 1816.0 L265.0 1815.4 L266.5 1814.8 L268.0 1814.2 L269.5 1813.6 L271.0 1813.0 L272.5 1812.4 L274.0 1812.0 L275.5 1811.6 L277.0 1811.2 L278.5 1810.9 L280.0 1810.5 L281.5 1810.1 L283.0 1809.7 L284.5 1809.4 L286.0 1809.0 L287.5 1808.6 L289.0 1808.2 L290.5 1807.9 L292.0 1807.5 L293.5 1807.1 L295.0 1806.7 L296.5 1806.4 L298.0 1806.0 L299.5 1805.6 L301.0 1805.2 L302.5 1804.9 L304.0 1804.5 L305.5 1804.1 L307.0 1803.7 L308.5 1803.3 L310.0 1802.9 L311.5 1802.5 L313.0 1802.1 L314.5 1801.7 L316.0 1801.3 L317.5 1800.9 L319.0 1800.5 L320.5 1800.1 L322.0 1799.7 L323.5 1799.3 L325.0 1798.9 L326.5 1798.5 L328.0 1798.1 L329.5 1797.7 L331.0 1797.3 L332.5 1796.9 L334.0 1796.5 L335.5 1796.1 L337.0 1795.7 L338.5 1795.3 L340.0 1794.9 L341.5 1794.5 L343.0 1794.1 L344.5 1793.7 L346.0 1793.3 L347.5 1792.9 L349.0 1792.5 L350.5 1792.1 L352.0 1791.8 L353.5 1791.5 L355.0 1791.2 L356.5 1790.9 L358.0 1790.6 L359.5 1790.3 L361.0 1790.0 L362.5 1789.7 L364.0 1789.4 L365.5 1789.1 L367.0 1788.8 L368.5 1788.5 L370.0 1788.2 L371.5 1787.9 L373.0 1787.5 L374.5 1787.2 L376.0 1786.9 L377.5 1786.6 L379.0 1786.3 L380.5 1786.0 L382.0 1785.7 L383.5 1785.2 L385.0 1784.8 L386.5 1784.3 L388.0 1783.9 L389.5 1783.4 L391.0 1783.0 L392.5 1782.5 L394.0 1782.1 L395.5 1781.6 L397.0 1781.2 L398.5 1780.7 L400.0 1780.3 L401.5 1779.8 L403.0 1779.4 L404.5 1778.9 L406.0 1778.5 L407.5 1778.0 L409.0 1777.6 L410.5 1777.1 L412.0 1776.7 L413.5 1776.3 L415.0 1775.8 L416.5 1775.4 L418.0 1775.0 L419.5 1774.6 L421.0 1774.2 L422.5 1773.8 L424.0 1773.4 L425.5 1773.0 L427.0 1772.6 L428.5 1772.2 L430.0 1771.8 L431.5 1771.4 L433.0 1771.0 L434.5 1770.6 L436.0 1770.2 L437.5 1769.8 L439.0 1769.4 L440.5 1768.9 L442.0 1768.2 L443.5 1767.6 L445.0 1766.9 L446.5 1766.2 L448.0 1765.5 L449.5 1764.9 L451.0 1764.2 L452.5 1763.5 L454.0 1762.8 L455.5 1762.2 L457.0 1761.5 L458.5 1760.8 L460.0 1760.1 L461.5 1759.5 L463.0 1758.8 L464.5 1758.1 L466.0 1757.4 L467.5 1756.7 L469.0 1756.1 L470.5 1755.4 L472.0 1754.7 L473.5 1754.0 L475.0 1753.4 L476.5 1752.7 L478.0 1752.0 L479.5 1751.3 L481.0 1750.7 L482.5 1750.0 L484.0 1749.3 L485.5 1748.6 L487.0 1747.9 L488.5 1747.3 L490.0 1746.6 L491.5 1745.9 L493.0 1745.2 L494.5 1744.6 L496.0 1743.9 L497.5 1743.2 L499.0 1742.5 L500.5 1741.9 L502.0 1741.2 L503.5 1740.5 L505.0 1739.8 L506.5 1739.1 L508.0 1738.5 L509.5 1737.8 L511.0 1737.1 L512.5 1736.4 L514.0 1735.8 L515.5 1735.1 L517.0 1734.4 L518.5 1733.7 L520.0 1733.0 L521.5 1732.3 L523.0 1731.6 L524.5 1730.9 L526.0 1730.2 L527.5 1729.5 L529.0 1728.8 L530.5 1728.1 L532.0 1727.4 L533.5 1726.7 L535.0 1726.0 L536.5 1725.3 L538.0 1724.6 L539.5 1723.9 L541.0 1723.2 L542.5 1722.5 L544.0 1721.8 L545.5 1721.1 L547.0 1720.4 L548.5 1719.7 L550.0 1718.9 L551.5 1717.7 L553.0 1716.5 L554.5 1715.3 L556.0 1714.1 L557.5 1712.9 L559.0 1711.7 L560.5 1710.5 L562.0 1709.2 L563.5 1708.0 L565.0 1706.8 L566.5 1705.6 L568.0 1704.4 L569.5 1703.2 L571.0 1702.0 L572.5 1700.8 L574.0 1699.6 L575.5 1698.4 L577.0 1697.2 L578.5 1696.0 L580.0 1694.7 L581.5 1693.0 L583.0 1691.4 L584.5 1689.7 L586.0 1688.1 L587.5 1686.4 L589.0 1684.8 L590.5 1683.1 L592.0 1681.4 L593.5 1679.8 L595.0 1678.1 L596.5 1676.5 L598.0 1674.8 L599.5 1673.2 L601.0 1671.4 L602.5 1669.6 L604.0 1667.8 L605.5 1665.9 L607.0 1664.1 L608.5 1662.3 L610.0 1660.5 L611.5 1658.7 L613.0 1656.9 L614.5 1655.1 L616.0 1653.3 L617.5 1651.5 L619.0 1649.7 L620.5 1648.0 L622.0 1646.5 L623.5 1645.0 L625.0 1643.5 L626.5 1641.9 L628.0 1640.4 L629.5 1638.9 L631.0 1637.4 L632.5 1635.9 L634.0 1634.3 L635.5 1632.8 L637.0 1631.3 L638.5 1629.8 L640.0 1628.2 L641.5 1626.7 L643.0 1625.2 L644.5 1623.6 L646.0 1622.1 L647.5 1620.6 L649.0 1619.0 L650.5 1617.5 L652.0 1615.9 L653.5 1614.4 L655.0 1612.8 L656.5 1611.3 L658.0 1609.7 L659.5 1608.2 L661.0 1606.7 L662.5 1605.3 L664.0 1603.9 L665.5 1602.4 L667.0 1601.0 L668.5 1599.5 L670.0 1598.0 L671.5 1596.6 L673.0 1595.1 L674.5 1593.5 L676.0 1592.0 L677.5 1590.5 L679.0 1588.9 L680.5 1587.4 L682.0 1585.9 L683.5 1584.3 L685.0 1582.8 L686.5 1581.1 L688.0 1579.4 L689.5 1577.6 L691.0 1575.7 L692.5 1573.7 L694.0 1571.5 L695.5 1569.2 L697.0 1566.5 L698.5 1563.6 L700.0 1560.1 L701.5 1555.7 L703.0 1550.7 L704.5 1545.0 L706.0 1538.5 L707.5 1531.4 L709.0 1523.9 L710.5 1517.2 L712.0 1512.3 L713.5 1510.6 L715.0 1512.0 L716.5 1515.5 L718.0 1519.8 L719.5 1523.7 L721.0 1526.8 L722.5 1529.1 L724.0 1530.5 L725.5 1531.3 L727.0 1531.6 L728.5 1531.4 L730.0 1530.9 L731.5 1530.2 L733.0 1529.3 L734.5 1528.2 L736.0 1527.0 L737.5 1525.7 L739.0 1524.3 L740.5 1522.8 L742.0 1521.3 L743.5 1519.8 L745.0 1518.2 L746.5 1516.6 L748.0 1514.9 L749.5 1513.3 L751.0 1511.9 L752.5 1510.5 L754.0 1509.1 L755.5 1507.7 L757.0 1506.3 L758.5 1504.9 L760.0 1503.4 L761.5 1502.0 L763.0 1500.6 L764.5 1499.1 L766.0 1497.7 L767.5 1495.7 L769.0 1493.6 L770.5 1491.6 L772.0 1489.5 L773.5 1487.4 L775.0 1485.4 L776.5 1483.3 L778.0 1481.2 L779.5 1479.1 L781.0 1477.1 L782.5 1475.0 L784.0 1473.2 L785.5 1471.4 L787.0 1469.6 L788.5 1467.8 L790.0 1466.0 L791.5 1464.2 L793.0 1462.5 L794.5 1460.7 L796.0 1458.9 L797.5 1457.1 L799.0 1455.3 L800.5 1453.5 L802.0 1451.7 L803.5 1449.9 L805.0 1448.1 L806.5 1446.3 L808.0 1444.5 L809.5 1442.8 L811.0 1441.0 L812.5 1439.2 L814.0 1437.4 L815.5 1435.6 L817.0 1433.9 L818.5 1432.2 L820.0 1430.5 L821.5 1428.8 L823.0 1427.1 L824.5 1425.5 L826.0 1423.8 L827.5 1422.1 L829.0 1420.3 L830.5 1417.2 L832.0 1414.1 L833.5 1411.0 L835.0 1407.8 L836.5 1405.0 L838.0 1404.0 L839.5 1402.9 L841.0 1401.8 L842.5 1400.8 L844.0 1399.7 L845.5 1398.6 L847.0 1397.4 L848.5 1396.3 L850.0 1395.2 L851.5 1394.1 L853.0 1393.0 L854.5 1392.1 L856.0 1391.1 L857.5 1390.2 L859.0 1389.3 L860.5 1388.3 L862.0 1387.3 L863.5 1386.2 L865.0 1385.2 L866.5 1384.1 L868.0 1383.0 L869.5 1381.9 L871.0 1380.7 L872.5 1379.6 L874.0 1378.4 L875.5 1377.2 L877.0 1375.9 L878.5 1374.5 L880.0 1373.1 L881.5 1371.7 L883.0 1370.3 L884.5 1368.9 L886.0 1367.5 L887.5 1366.2 L889.0 1364.8 L890.5 1363.5 L892.0 1362.1 L893.5 1360.8 L895.0 1359.4 L896.5 1358.2 L898.0 1357.0 L899.5 1355.8 L901.0 1354.6 L902.5 1353.4 L904.0 1352.2 L905.5 1351.0 L907.0 1349.7 L908.5 1348.4 L910.0 1347.1 L911.5 1345.8 L913.0 1344.5 L914.5 1343.2 L916.0 1341.9 L917.5 1340.6 L919.0 1339.3 L920.5 1338.0 L922.0 1336.7 L923.5 1335.5 L925.0 1334.3 L926.5 1333.1 L928.0 1331.9 L929.5 1330.7 L931.0 1329.5 L932.5 1328.3 L934.0 1327.1 L935.5 1325.9 L937.0 1324.7 L938.5 1323.5 L940.0 1322.2 L941.5 1320.9 L943.0 1319.5 L944.5 1318.2 L946.0 1316.8 L947.5 1315.5 L949.0 1314.1 L950.5 1312.8 L952.0 1311.6 L953.5 1310.3 L955.0 1309.1 L956.5 1307.9 L958.0 1306.7 L959.5 1305.4 L961.0 1304.2 L962.5 1303.0 L964.0 1301.7 L965.5 1300.5 L967.0 1299.2 L968.5 1298.0 L970.0 1296.7 L971.5 1295.5 L973.0 1294.3 L974.5 1293.1 L976.0 1291.9 L977.5 1290.7 L979.0 1289.5 L980.5 1288.3 L982.0 1287.1 L983.5 1285.9 L985.0 1284.7 L986.5 1283.5 L988.0 1282.3 L989.5 1281.1 L991.0 1280.0 L992.5 1278.9 L994.0 1277.8 L995.5 1276.7 L997.0 1275.6 L998.5 1274.5 L1000.0 1273.4 L1001.5 1272.3 L1003.0 1271.2 L1004.5 1270.2 L1006.0 1270.2 L1007.5 1270.2 L1009.0 1270.2 L1010.5 1270.2 L1012.0 1270.2 L1013.5 1270.2 L1015.0 1270.2" fill="none" stroke="#b865cc" stroke-opacity="0.55" stroke-width="1.3"/>
<path d="M184.0 1839.4 L185.5 1839.5 L187.0 1839.7 L188.5 1839.9 L190.0 1840.1 L191.5 1840.3 L193.0 1840.5 L194.5 1840.7 L196.0 1840.8 L197.5 1841.0 L199.0 1841.2 L200.5 1841.4 L202.0 1841.6 L203.5 1841.7 L205.0 1841.4 L206.5 1841.1 L208.0 1840.8 L209.5 1840.5 L211.0 1840.2 L212.5 1839.9 L214.0 1839.6 L215.5 1839.3 L217.0 1839.0 L218.5 1838.7 L220.0 1837.9 L221.5 1837.0 L223.0 1836.1 L224.5 1835.2 L226.0 1834.3 L227.5 1833.4 L229.0 1832.5 L230.5 1831.6 L232.0 1830.7 L233.5 1829.8 L235.0 1829.0 L236.5 1828.2 L238.0 1827.5 L239.5 1826.7 L241.0 1826.0 L242.5 1825.2 L244.0 1824.5 L245.5 1823.7 L247.0 1823.0 L248.5 1822.2 L250.0 1821.5 L251.5 1820.9 L253.0 1820.3 L254.5 1819.7 L256.0 1819.1 L257.5 1818.5 L259.0 1817.9 L260.5 1817.3 L262.0 1816.7 L263.5 1816.1 L265.0 1815.5 L266.5 1814.9 L268.0 1814.3 L269.5 1813.7 L271.0 1813.1 L272.5 1812.5 L274.0 1812.0 L275.5 1811.7 L277.0 1811.3 L278.5 1810.9 L280.0 1810.5 L281.5 1810.2 L283.0 1809.8 L284.5 1809.4 L286.0 1809.0 L287.5 1808.7 L289.0 1808.3 L290.5 1807.9 L292.0 1807.5 L293.5 1807.2 L295.0 1806.8 L296.5 1806.4 L298.0 1806.0 L299.5 1805.7 L301.0 1805.3 L302.5 1804.9 L304.0 1804.5 L305.5 1804.1 L307.0 1803.7 L308.5 1803.3 L310.0 1802.9 L311.5 1802.5 L313.0 1802.1 L314.5 1801.7 L316.0 1801.3 L317.5 1800.9 L319.0 1800.5 L320.5 1800.1 L322.0 1799.7 L323.5 1799.3 L325.0 1798.9 L326.5 1798.5 L328.0 1798.1 L329.5 1797.7 L331.0 1797.3 L332.5 1796.9 L334.0 1796.5 L335.5 1796.1 L337.0 1795.7 L338.5 1795.3 L340.0 1794.9 L341.5 1794.5 L343.0 1794.1 L344.5 1793.7 L346.0 1793.3 L347.5 1792.9 L349.0 1792.5 L350.5 1792.1 L352.0 1791.8 L353.5 1791.5 L355.0 1791.2 L356.5 1790.9 L358.0 1790.6 L359.5 1790.3 L361.0 1790.0 L362.5 1789.7 L364.0 1789.4 L365.5 1789.1 L367.0 1788.8 L368.5 1788.5 L370.0 1788.2 L371.5 1787.9 L373.0 1787.6 L374.5 1787.3 L376.0 1787.0 L377.5 1786.7 L379.0 1786.4 L380.5 1786.1 L382.0 1785.8 L383.5 1785.3 L385.0 1784.9 L386.5 1784.4 L388.0 1784.0 L389.5 1783.5 L391.0 1783.1 L392.5 1782.6 L394.0 1782.2 L395.5 1781.7 L397.0 1781.3 L398.5 1780.8 L400.0 1780.4 L401.5 1779.9 L403.0 1779.5 L404.5 1779.0 L406.0 1778.6 L407.5 1778.1 L409.0 1777.7 L410.5 1777.2 L412.0 1776.8 L413.5 1776.4 L415.0 1776.0 L416.5 1775.6 L418.0 1775.2 L419.5 1774.8 L421.0 1774.4 L422.5 1774.0 L424.0 1773.6 L425.5 1773.2 L427.0 1772.8 L428.5 1772.4 L430.0 1772.0 L431.5 1771.6 L433.0 1771.2 L434.5 1770.8 L436.0 1770.4 L437.5 1770.0 L439.0 1769.6 L440.5 1769.1 L442.0 1768.4 L443.5 1767.7 L445.0 1767.0 L446.5 1766.4 L448.0 1765.7 L449.5 1765.0 L451.0 1764.3 L452.5 1763.7 L454.0 1763.0 L455.5 1762.3 L457.0 1761.6 L458.5 1761.0 L460.0 1760.3 L461.5 1759.6 L463.0 1758.9 L464.5 1758.3 L466.0 1757.6 L467.5 1756.9 L469.0 1756.2 L470.5 1755.6 L472.0 1754.9 L473.5 1754.2 L475.0 1753.5 L476.5 1752.9 L478.0 1752.2 L479.5 1751.5 L481.0 1750.8 L482.5 1750.2 L484.0 1749.5 L485.5 1748.8 L487.0 1748.1 L488.5 1747.5 L490.0 1746.8 L491.5 1746.1 L493.0 1745.4 L494.5 1744.8 L496.0 1744.1 L497.5 1743.4 L499.0 1742.7 L500.5 1742.1 L502.0 1741.4 L503.5 1740.7 L505.0 1740.0 L506.5 1739.4 L508.0 1738.7 L509.5 1738.0 L511.0 1737.3 L512.5 1736.7 L514.0 1736.0 L515.5 1735.3 L517.0 1734.6 L518.5 1734.0 L520.0 1733.3 L521.5 1732.6 L523.0 1731.9 L524.5 1731.2 L526.0 1730.5 L527.5 1729.8 L529.0 1729.1 L530.5 1728.4 L532.0 1727.7 L533.5 1727.0 L535.0 1726.3 L536.5 1725.6 L538.0 1724.9 L539.5 1724.2 L541.0 1723.5 L542.5 1722.8 L544.0 1722.1 L545.5 1721.4 L547.0 1720.7 L548.5 1720.0 L550.0 1719.2 L551.5 1718.0 L553.0 1716.8 L554.5 1715.6 L556.0 1714.4 L557.5 1713.2 L559.0 1712.0 L560.5 1710.8 L562.0 1709.6 L563.5 1708.4 L565.0 1707.2 L566.5 1706.0 L568.0 1704.8 L569.5 1703.6 L571.0 1702.4 L572.5 1701.2 L574.0 1700.0 L575.5 1698.8 L577.0 1697.6 L578.5 1696.4 L580.0 1695.1 L581.5 1693.5 L583.0 1691.8 L584.5 1690.2 L586.0 1688.5 L587.5 1686.9 L589.0 1685.2 L590.5 1683.6 L592.0 1681.9 L593.5 1680.3 L595.0 1678.6 L596.5 1677.0 L598.0 1675.3 L599.5 1673.7 L601.0 1671.9 L602.5 1670.1 L604.0 1668.3 L605.5 1666.5 L607.0 1664.7 L608.5 1662.9 L610.0 1661.1 L611.5 1659.3 L613.0 1657.5 L614.5 1655.7 L616.0 1653.9 L617.5 1652.1 L619.0 1650.3 L620.5 1648.6 L622.0 1647.1 L623.5 1645.6 L625.0 1644.1 L626.5 1642.6 L628.0 1641.1 L629.5 1639.6 L631.0 1638.1 L632.5 1636.6 L634.0 1635.1 L635.5 1633.6 L637.0 1632.1 L638.5 1630.6 L640.0 1629.1 L641.5 1627.6 L643.0 1626.1 L644.5 1624.6 L646.0 1623.1 L647.5 1621.6 L649.0 1620.1 L650.5 1618.6 L652.0 1617.1 L653.5 1615.6 L655.0 1614.1 L656.5 1612.6 L658.0 1611.1 L659.5 1609.6 L661.0 1608.2 L662.5 1606.9 L664.0 1605.5 L665.5 1604.2 L667.0 1602.8 L668.5 1601.5 L670.0 1600.1 L671.5 1598.8 L673.0 1597.4 L674.5 1596.1 L676.0 1594.7 L677.5 1593.3 L679.0 1592.0 L680.5 1590.7 L682.0 1589.5 L683.5 1588.3 L685.0 1587.1 L686.5 1585.9 L688.0 1584.7 L689.5 1583.5 L691.0 1582.3 L692.5 1581.1 L694.0 1579.9 L695.5 1578.6 L697.0 1577.4 L698.5 1576.2 L700.0 1574.8 L701.5 1572.9 L703.0 1571.1 L704.5 1569.2 L706.0 1567.4 L707.5 1565.5 L709.0 1563.7 L710.5 1561.8 L712.0 1559.9 L713.5 1558.0 L715.0 1556.1 L716.5 1554.2 L718.0 1552.3 L719.5 1550.3 L721.0 1548.4 L722.5 1546.3 L724.0 1544.3 L725.5 1542.1 L727.0 1539.9 L728.5 1537.6 L730.0 1535.1 L731.5 1532.6 L733.0 1530.0 L734.5 1527.6 L736.0 1525.6 L737.5 1524.1 L739.0 1522.9 L740.5 1521.9 L742.0 1520.8 L743.5 1519.6 L745.0 1518.3 L746.5 1516.9 L748.0 1515.4 L749.5 1513.8 L751.0 1512.5 L752.5 1511.1 L754.0 1509.7 L755.5 1508.3 L757.0 1506.9 L758.5 1505.4 L760.0 1504.0 L761.5 1502.5 L763.0 1501.1 L764.5 1499.6 L766.0 1498.1 L767.5 1496.1 L769.0 1494.0 L770.5 1492.0 L772.0 1489.9 L773.5 1487.8 L775.0 1485.7 L776.5 1483.6 L778.0 1481.5 L779.5 1479.4 L781.0 1477.3 L782.5 1475.2 L784.0 1473.4 L785.5 1471.6 L787.0 1469.8 L788.5 1468.0 L790.0 1466.2 L791.5 1464.4 L793.0 1462.6 L794.5 1460.8 L796.0 1459.1 L797.5 1457.3 L799.0 1455.5 L800.5 1453.7 L802.0 1451.9 L803.5 1450.1 L805.0 1448.3 L806.5 1446.5 L808.0 1444.7 L809.5 1442.9 L811.0 1441.1 L812.5 1439.3 L814.0 1437.5 L815.5 1435.7 L817.0 1434.0 L818.5 1432.3 L820.0 1430.6 L821.5 1428.9 L823.0 1427.2 L824.5 1425.5 L826.0 1423.9 L827.5 1422.2 L829.0 1420.4 L830.5 1417.3 L832.0 1414.2 L833.5 1411.0 L835.0 1407.9 L836.5 1405.1 L838.0 1404.0 L839.5 1403.0 L841.0 1401.9 L842.5 1400.8 L844.0 1399.7 L845.5 1398.6 L847.0 1397.5 L848.5 1396.4 L850.0 1395.2 L851.5 1394.1 L853.0 1393.0 L854.5 1392.1 L856.0 1391.2 L857.5 1390.2 L859.0 1389.3 L860.5 1388.4 L862.0 1387.4 L863.5 1386.3 L865.0 1385.2 L866.5 1384.1 L868.0 1383.1 L869.5 1381.9 L871.0 1380.8 L872.5 1379.6 L874.0 1378.4 L875.5 1377.2 L877.0 1376.0 L878.5 1374.6 L880.0 1373.1 L881.5 1371.7 L883.0 1370.3 L884.5 1368.9 L886.0 1367.6 L887.5 1366.2 L889.0 1364.9 L890.5 1363.5 L892.0 1362.2 L893.5 1360.8 L895.0 1359.5 L896.5 1358.2 L898.0 1357.0 L899.5 1355.8 L901.0 1354.6 L902.5 1353.4 L904.0 1352.2 L905.5 1351.0 L907.0 1349.8 L908.5 1348.5 L910.0 1347.2 L911.5 1345.9 L913.0 1344.6 L914.5 1343.3 L916.0 1342.0 L917.5 1340.7 L919.0 1339.4 L920.5 1338.1 L922.0 1336.8 L923.5 1335.5 L925.0 1334.3 L926.5 1333.1 L928.0 1331.9 L929.5 1330.7 L931.0 1329.5 L932.5 1328.3 L934.0 1327.1 L935.5 1325.9 L937.0 1324.7 L938.5 1323.5 L940.0 1322.2 L941.5 1320.9 L943.0 1319.5 L944.5 1318.2 L946.0 1316.8 L947.5 1315.5 L949.0 1314.1 L950.5 1312.8 L952.0 1311.6 L953.5 1310.3 L955.0 1309.1 L956.5 1307.9 L958.0 1306.7 L959.5 1305.4 L961.0 1304.2 L962.5 1303.0 L964.0 1301.7 L965.5 1300.5 L967.0 1299.2 L968.5 1298.0 L970.0 1296.7 L971.5 1295.5 L973.0 1294.3 L974.5 1293.1 L976.0 1291.9 L977.5 1290.7 L979.0 1289.5 L980.5 1288.3 L982.0 1287.1 L983.5 1285.9 L985.0 1284.7 L986.5 1283.5 L988.0 1282.3 L989.5 1281.2 L991.0 1280.1 L992.5 1279.0 L994.0 1277.9 L995.5 1276.8 L997.0 1275.7 L998.5 1274.6 L1000.0 1273.5 L1001.5 1272.4 L1003.0 1271.3 L1004.5 1270.2 L1006.0 1270.2 L1007.5 1270.2 L1009.0 1270.2 L1010.5 1270.2 L1012.0 1270.2 L1013.5 1270.2 L1015.0 1270.2" fill="none" stroke="#b865cc" stroke-opacity="0.55" stroke-width="1.3"/>
<path d="M184.0 1839.4 L185.5 1839.5 L187.0 1839.7 L188.5 1839.9 L190.0 1840.1 L191.5 1840.3 L193.0 1840.5 L194.5 1840.7 L196.0 1840.8 L197.5 1841.0 L199.0 1841.2 L200.5 1841.4 L202.0 1841.6 L203.5 1841.7 L205.0 1841.4 L206.5 1841.1 L208.0 1840.8 L209.5 1840.5 L211.0 1840.2 L212.5 1839.9 L214.0 1839.6 L215.5 1839.3 L217.0 1839.0 L218.5 1838.7 L220.0 1837.9 L221.5 1837.0 L223.0 1836.1 L224.5 1835.2 L226.0 1834.3 L227.5 1833.4 L229.0 1832.5 L230.5 1831.6 L232.0 1830.7 L233.5 1829.8 L235.0 1829.0 L236.5 1828.2 L238.0 1827.5 L239.5 1826.7 L241.0 1826.0 L242.5 1825.2 L244.0 1824.5 L245.5 1823.7 L247.0 1823.0 L248.5 1822.2 L250.0 1821.5 L251.5 1820.9 L253.0 1820.3 L254.5 1819.7 L256.0 1819.1 L257.5 1818.5 L259.0 1817.9 L260.5 1817.3 L262.0 1816.7 L263.5 1816.1 L265.0 1815.5 L266.5 1814.9 L268.0 1814.3 L269.5 1813.7 L271.0 1813.1 L272.5 1812.5 L274.0 1812.0 L275.5 1811.7 L277.0 1811.3 L278.5 1810.9 L280.0 1810.5 L281.5 1810.2 L283.0 1809.8 L284.5 1809.4 L286.0 1809.0 L287.5 1808.7 L289.0 1808.3 L290.5 1807.9 L292.0 1807.5 L293.5 1807.2 L295.0 1806.8 L296.5 1806.4 L298.0 1806.0 L299.5 1805.7 L301.0 1805.3 L302.5 1804.9 L304.0 1804.5 L305.5 1804.1 L307.0 1803.7 L308.5 1803.3 L310.0 1802.9 L311.5 1802.5 L313.0 1802.1 L314.5 1801.7 L316.0 1801.3 L317.5 1800.9 L319.0 1800.5 L320.5 1800.1 L322.0 1799.7 L323.5 1799.3 L325.0 1798.9 L326.5 1798.5 L328.0 1798.1 L329.5 1797.7 L331.0 1797.3 L332.5 1796.9 L334.0 1796.5 L335.5 1796.1 L337.0 1795.7 L338.5 1795.3 L340.0 1794.9 L341.5 1794.5 L343.0 1794.1 L344.5 1793.7 L346.0 1793.3 L347.5 1792.9 L349.0 1792.5 L350.5 1792.1 L352.0 1791.8 L353.5 1791.5 L355.0 1791.2 L356.5 1790.9 L358.0 1790.6 L359.5 1790.3 L361.0 1790.0 L362.5 1789.7 L364.0 1789.4 L365.5 1789.1 L367.0 1788.8 L368.5 1788.5 L370.0 1788.2 L371.5 1787.9 L373.0 1787.6 L374.5 1787.3 L376.0 1787.0 L377.5 1786.7 L379.0 1786.4 L380.5 1786.1 L382.0 1785.8 L383.5 1785.3 L385.0 1784.9 L386.5 1784.4 L388.0 1784.0 L389.5 1783.5 L391.0 1783.1 L392.5 1782.6 L394.0 1782.2 L395.5 1781.7 L397.0 1781.3 L398.5 1780.8 L400.0 1780.4 L401.5 1779.9 L403.0 1779.5 L404.5 1779.0 L406.0 1778.6 L407.5 1778.1 L409.0 1777.7 L410.5 1777.2 L412.0 1776.8 L413.5 1776.4 L415.0 1776.0 L416.5 1775.6 L418.0 1775.2 L419.5 1774.8 L421.0 1774.4 L422.5 1774.0 L424.0 1773.6 L425.5 1773.2 L427.0 1772.8 L428.5 1772.4 L430.0 1772.0 L431.5 1771.6 L433.0 1771.2 L434.5 1770.8 L436.0 1770.4 L437.5 1770.0 L439.0 1769.6 L440.5 1769.1 L442.0 1768.4 L443.5 1767.7 L445.0 1767.0 L446.5 1766.4 L448.0 1765.7 L449.5 1765.0 L451.0 1764.3 L452.5 1763.7 L454.0 1763.0 L455.5 1762.3 L457.0 1761.6 L458.5 1761.0 L460.0 1760.3 L461.5 1759.6 L463.0 1758.9 L464.5 1758.3 L466.0 1757.6 L467.5 1756.9 L469.0 1756.2 L470.5 1755.6 L472.0 1754.9 L473.5 1754.2 L475.0 1753.5 L476.5 1752.9 L478.0 1752.2 L479.5 1751.5 L481.0 1750.8 L482.5 1750.2 L484.0 1749.5 L485.5 1748.8 L487.0 1748.1 L488.5 1747.5 L490.0 1746.8 L491.5 1746.1 L493.0 1745.4 L494.5 1744.8 L496.0 1744.1 L497.5 1743.4 L499.0 1742.7 L500.5 1742.1 L502.0 1741.4 L503.5 1740.7 L505.0 1740.0 L506.5 1739.4 L508.0 1738.7 L509.5 1738.0 L511.0 1737.3 L512.5 1736.7 L514.0 1736.0 L515.5 1735.3 L517.0 1734.6 L518.5 1734.0 L520.0 1733.3 L521.5 1732.6 L523.0 1731.9 L524.5 1731.2 L526.0 1730.5 L527.5 1729.8 L529.0 1729.1 L530.5 1728.4 L532.0 1727.7 L533.5 1727.0 L535.0 1726.3 L536.5 1725.6 L538.0 1724.9 L539.5 1724.2 L541.0 1723.5 L542.5 1722.8 L544.0 1722.1 L545.5 1721.4 L547.0 1720.7 L548.5 1720.0 L550.0 1719.2 L551.5 1718.0 L553.0 1716.8 L554.5 1715.6 L556.0 1714.4 L557.5 1713.2 L559.0 1712.0 L560.5 1710.8 L562.0 1709.6 L563.5 1708.4 L565.0 1707.2 L566.5 1706.0 L568.0 1704.8 L569.5 1703.6 L571.0 1702.4 L572.5 1701.2 L574.0 1700.0 L575.5 1698.8 L577.0 1697.6 L578.5 1696.4 L580.0 1695.1 L581.5 1693.5 L583.0 1691.8 L584.5 1690.2 L586.0 1688.5 L587.5 1686.9 L589.0 1685.2 L590.5 1683.6 L592.0 1681.9 L593.5 1680.3 L595.0 1678.6 L596.5 1677.0 L598.0 1675.3 L599.5 1673.7 L601.0 1671.9 L602.5 1670.1 L604.0 1668.3 L605.5 1666.5 L607.0 1664.7 L608.5 1662.9 L610.0 1661.1 L611.5 1659.3 L613.0 1657.5 L614.5 1655.7 L616.0 1653.9 L617.5 1652.1 L619.0 1650.3 L620.5 1648.7 L622.0 1647.2 L623.5 1645.7 L625.0 1644.2 L626.5 1642.7 L628.0 1641.2 L629.5 1639.7 L631.0 1638.2 L632.5 1636.7 L634.0 1635.2 L635.5 1633.7 L637.0 1632.2 L638.5 1630.7 L640.0 1629.2 L641.5 1627.7 L643.0 1626.2 L644.5 1624.7 L646.0 1623.2 L647.5 1621.7 L649.0 1620.2 L650.5 1618.7 L652.0 1617.2 L653.5 1615.7 L655.0 1614.2 L656.5 1612.7 L658.0 1611.2 L659.5 1609.7 L661.0 1608.3 L662.5 1606.9 L664.0 1605.6 L665.5 1604.2 L667.0 1602.9 L668.5 1601.5 L670.0 1600.2 L671.5 1598.8 L673.0 1597.5 L674.5 1596.1 L676.0 1594.8 L677.5 1593.4 L679.0 1592.1 L680.5 1590.8 L682.0 1589.6 L683.5 1588.4 L685.0 1587.2 L686.5 1586.0 L688.0 1584.8 L689.5 1583.6 L691.0 1582.4 L692.5 1581.2 L694.0 1580.0 L695.5 1578.8 L697.0 1577.6 L698.5 1576.4 L700.0 1575.0 L701.5 1573.2 L703.0 1571.3 L704.5 1569.5 L706.0 1567.7 L707.5 1565.9 L709.0 1564.0 L710.5 1562.2 L712.0 1560.4 L713.5 1558.5 L715.0 1556.7 L716.5 1554.9 L718.0 1553.0 L719.5 1551.2 L721.0 1549.4 L722.5 1547.5 L724.0 1545.7 L725.5 1543.9 L727.0 1542.0 L728.5 1540.2 L730.0 1538.3 L731.5 1536.5 L733.0 1534.6 L734.5 1532.7 L736.0 1530.9 L737.5 1529.0 L739.0 1527.0 L740.5 1525.1 L742.0 1523.1 L743.5 1521.1 L745.0 1519.0 L746.5 1516.7 L748.0 1514.2 L749.5 1511.5 L751.0 1508.7 L752.5 1505.8 L754.0 1503.5 L755.5 1502.7 L757.0 1502.6 L758.5 1502.5 L760.0 1502.0 L761.5 1501.1 L763.0 1500.1 L764.5 1498.9 L766.0 1497.6 L767.5 1495.7 L769.0 1493.7 L770.5 1491.7 L772.0 1489.7 L773.5 1487.6 L775.0 1485.6 L776.5 1483.5 L778.0 1481.4 L779.5 1479.4 L781.0 1477.3 L782.5 1475.2 L784.0 1473.4 L785.5 1471.6 L787.0 1469.8 L788.5 1468.0 L790.0 1466.2 L791.5 1464.4 L793.0 1462.6 L794.5 1460.8 L796.0 1459.0 L797.5 1457.2 L799.0 1455.5 L800.5 1453.7 L802.0 1451.9 L803.5 1450.1 L805.0 1448.3 L806.5 1446.5 L808.0 1444.7 L809.5 1442.9 L811.0 1441.1 L812.5 1439.3 L814.0 1437.5 L815.5 1435.7 L817.0 1434.0 L818.5 1432.3 L820.0 1430.6 L821.5 1428.9 L823.0 1427.2 L824.5 1425.5 L826.0 1423.9 L827.5 1422.2 L829.0 1420.4 L830.5 1417.3 L832.0 1414.2 L833.5 1411.0 L835.0 1407.9 L836.5 1405.1 L838.0 1404.0 L839.5 1403.0 L841.0 1401.9 L842.5 1400.8 L844.0 1399.7 L845.5 1398.6 L847.0 1397.5 L848.5 1396.4 L850.0 1395.2 L851.5 1394.1 L853.0 1393.0 L854.5 1392.1 L856.0 1391.2 L857.5 1390.2 L859.0 1389.3 L860.5 1388.4 L862.0 1387.4 L863.5 1386.3 L865.0 1385.2 L866.5 1384.1 L868.0 1383.1 L869.5 1381.9 L871.0 1380.8 L872.5 1379.6 L874.0 1378.4 L875.5 1377.2 L877.0 1376.0 L878.5 1374.6 L880.0 1373.2 L881.5 1371.7 L883.0 1370.3 L884.5 1368.9 L886.0 1367.6 L887.5 1366.2 L889.0 1364.9 L890.5 1363.5 L892.0 1362.2 L893.5 1360.8 L895.0 1359.5 L896.5 1358.2 L898.0 1357.0 L899.5 1355.8 L901.0 1354.6 L902.5 1353.4 L904.0 1352.2 L905.5 1351.0 L907.0 1349.8 L908.5 1348.5 L910.0 1347.2 L911.5 1345.9 L913.0 1344.6 L914.5 1343.3 L916.0 1342.0 L917.5 1340.7 L919.0 1339.4 L920.5 1338.1 L922.0 1336.8 L923.5 1335.5 L925.0 1334.3 L926.5 1333.1 L928.0 1331.9 L929.5 1330.7 L931.0 1329.5 L932.5 1328.3 L934.0 1327.1 L935.5 1325.9 L937.0 1324.7 L938.5 1323.5 L940.0 1322.2 L941.5 1320.9 L943.0 1319.5 L944.5 1318.2 L946.0 1316.8 L947.5 1315.5 L949.0 1314.1 L950.5 1312.8 L952.0 1311.6 L953.5 1310.3 L955.0 1309.1 L956.5 1307.9 L958.0 1306.7 L959.5 1305.4 L961.0 1304.2 L962.5 1303.0 L964.0 1301.7 L965.5 1300.5 L967.0 1299.2 L968.5 1298.0 L970.0 1296.7 L971.5 1295.5 L973.0 1294.3 L974.5 1293.1 L976.0 1291.9 L977.5 1290.7 L979.0 1289.5 L980.5 1288.3 L982.0 1287.1 L983.5 1285.9 L985.0 1284.7 L986.5 1283.5 L988.0 1282.3 L989.5 1281.2 L991.0 1280.1 L992.5 1279.0 L994.0 1277.9 L995.5 1276.8 L997.0 1275.7 L998.5 1274.6 L1000.0 1273.5 L1001.5 1272.4 L1003.0 1271.3 L1004.5 1270.2 L1006.0 1270.2 L1007.5 1270.2 L1009.0 1270.2 L1010.5 1270.2 L1012.0 1270.2 L1013.5 1270.2 L1015.0 1270.2" fill="none" stroke="#b865cc" stroke-opacity="0.55" stroke-width="1.3"/>
<path d="M184.0 1839.4 L185.5 1839.5 L187.0 1839.7 L188.5 1839.9 L190.0 1840.1 L191.5 1840.3 L193.0 1840.5 L194.5 1840.7 L196.0 1840.8 L197.5 1841.0 L199.0 1841.2 L200.5 1841.4 L202.0 1841.6 L203.5 1841.7 L205.0 1841.4 L206.5 1841.1 L208.0 1840.8 L209.5 1840.5 L211.0 1840.2 L212.5 1839.9 L214.0 1839.6 L215.5 1839.3 L217.0 1839.0 L218.5 1838.7 L220.0 1837.9 L221.5 1837.0 L223.0 1836.1 L224.5 1835.2 L226.0 1834.3 L227.5 1833.4 L229.0 1832.5 L230.5 1831.6 L232.0 1830.7 L233.5 1829.8 L235.0 1829.0 L236.5 1828.2 L238.0 1827.5 L239.5 1826.7 L241.0 1826.0 L242.5 1825.2 L244.0 1824.5 L245.5 1823.7 L247.0 1823.0 L248.5 1822.2 L250.0 1821.5 L251.5 1820.9 L253.0 1820.3 L254.5 1819.7 L256.0 1819.1 L257.5 1818.5 L259.0 1817.9 L260.5 1817.3 L262.0 1816.7 L263.5 1816.1 L265.0 1815.5 L266.5 1814.9 L268.0 1814.3 L269.5 1813.7 L271.0 1813.1 L272.5 1812.5 L274.0 1812.0 L275.5 1811.7 L277.0 1811.3 L278.5 1810.9 L280.0 1810.5 L281.5 1810.2 L283.0 1809.8 L284.5 1809.4 L286.0 1809.0 L287.5 1808.7 L289.0 1808.3 L290.5 1807.9 L292.0 1807.5 L293.5 1807.2 L295.0 1806.8 L296.5 1806.4 L298.0 1806.0 L299.5 1805.7 L301.0 1805.3 L302.5 1804.9 L304.0 1804.5 L305.5 1804.1 L307.0 1803.7 L308.5 1803.3 L310.0 1802.9 L311.5 1802.5 L313.0 1802.1 L314.5 1801.7 L316.0 1801.3 L317.5 1800.9 L319.0 1800.5 L320.5 1800.1 L322.0 1799.7 L323.5 1799.3 L325.0 1798.9 L326.5 1798.5 L328.0 1798.1 L329.5 1797.7 L331.0 1797.3 L332.5 1796.9 L334.0 1796.5 L335.5 1796.1 L337.0 1795.7 L338.5 1795.3 L340.0 1794.9 L341.5 1794.5 L343.0 1794.1 L344.5 1793.7 L346.0 1793.3 L347.5 1792.9 L349.0 1792.5 L350.5 1792.1 L352.0 1791.8 L353.5 1791.5 L355.0 1791.2 L356.5 1790.9 L358.0 1790.6 L359.5 1790.3 L361.0 1790.0 L362.5 1789.7 L364.0 1789.4 L365.5 1789.1 L367.0 1788.8 L368.5 1788.5 L370.0 1788.2 L371.5 1787.9 L373.0 1787.6 L374.5 1787.3 L376.0 1787.0 L377.5 1786.7 L379.0 1786.4 L380.5 1786.1 L382.0 1785.8 L383.5 1785.3 L385.0 1784.9 L386.5 1784.4 L388.0 1784.0 L389.5 1783.5 L391.0 1783.1 L392.5 1782.6 L394.0 1782.2 L395.5 1781.7 L397.0 1781.3 L398.5 1780.8 L400.0 1780.4 L401.5 1779.9 L403.0 1779.5 L404.5 1779.0 L406.0 1778.6 L407.5 1778.1 L409.0 1777.7 L410.5 1777.2 L412.0 1776.8 L413.5 1776.4 L415.0 1776.0 L416.5 1775.6 L418.0 1775.2 L419.5 1774.8 L421.0 1774.4 L422.5 1774.0 L424.0 1773.6 L425.5 1773.2 L427.0 1772.8 L428.5 1772.4 L430.0 1772.0 L431.5 1771.6 L433.0 1771.2 L434.5 1770.8 L436.0 1770.4 L437.5 1770.0 L439.0 1769.6 L440.5 1769.1 L442.0 1768.4 L443.5 1767.7 L445.0 1767.0 L446.5 1766.4 L448.0 1765.7 L449.5 1765.0 L451.0 1764.3 L452.5 1763.7 L454.0 1763.0 L455.5 1762.3 L457.0 1761.6 L458.5 1761.0 L460.0 1760.3 L461.5 1759.6 L463.0 1758.9 L464.5 1758.3 L466.0 1757.6 L467.5 1756.9 L469.0 1756.2 L470.5 1755.6 L472.0 1754.9 L473.5 1754.2 L475.0 1753.5 L476.5 1752.9 L478.0 1752.2 L479.5 1751.5 L481.0 1750.8 L482.5 1750.2 L484.0 1749.5 L485.5 1748.8 L487.0 1748.1 L488.5 1747.5 L490.0 1746.8 L491.5 1746.1 L493.0 1745.4 L494.5 1744.8 L496.0 1744.1 L497.5 1743.4 L499.0 1742.7 L500.5 1742.1 L502.0 1741.4 L503.5 1740.7 L505.0 1740.0 L506.5 1739.4 L508.0 1738.7 L509.5 1738.0 L511.0 1737.3 L512.5 1736.7 L514.0 1736.0 L515.5 1735.3 L517.0 1734.6 L518.5 1734.0 L520.0 1733.3 L521.5 1732.6 L523.0 1731.9 L524.5 1731.2 L526.0 1730.5 L527.5 1729.8 L529.0 1729.1 L530.5 1728.4 L532.0 1727.7 L533.5 1727.0 L535.0 1726.3 L536.5 1725.6 L538.0 1724.9 L539.5 1724.2 L541.0 1723.5 L542.5 1722.8 L544.0 1722.1 L545.5 1721.4 L547.0 1720.7 L548.5 1720.0 L550.0 1719.2 L551.5 1718.0 L553.0 1716.8 L554.5 1715.6 L556.0 1714.4 L557.5 1713.2 L559.0 1712.0 L560.5 1710.8 L562.0 1709.6 L563.5 1708.4 L565.0 1707.2 L566.5 1706.0 L568.0 1704.8 L569.5 1703.6 L571.0 1702.4 L572.5 1701.2 L574.0 1700.0 L575.5 1698.8 L577.0 1697.6 L578.5 1696.4 L580.0 1695.1 L581.5 1693.5 L583.0 1691.8 L584.5 1690.2 L586.0 1688.5 L587.5 1686.9 L589.0 1685.2 L590.5 1683.6 L592.0 1681.9 L593.5 1680.3 L595.0 1678.6 L596.5 1677.0 L598.0 1675.3 L599.5 1673.7 L601.0 1671.9 L602.5 1670.1 L604.0 1668.3 L605.5 1666.5 L607.0 1664.7 L608.5 1662.9 L610.0 1661.1 L611.5 1659.3 L613.0 1657.5 L614.5 1655.7 L616.0 1653.9 L617.5 1652.1 L619.0 1650.3 L620.5 1648.7 L622.0 1647.2 L623.5 1645.7 L625.0 1644.2 L626.5 1642.7 L628.0 1641.2 L629.5 1639.7 L631.0 1638.2 L632.5 1636.7 L634.0 1635.2 L635.5 1633.7 L637.0 1632.2 L638.5 1630.7 L640.0 1629.2 L641.5 1627.7 L643.0 1626.2 L644.5 1624.7 L646.0 1623.2 L647.5 1621.7 L649.0 1620.2 L650.5 1618.7 L652.0 1617.2 L653.5 1615.7 L655.0 1614.2 L656.5 1612.7 L658.0 1611.2 L659.5 1609.7 L661.0 1608.3 L662.5 1607.0 L664.0 1605.6 L665.5 1604.3 L667.0 1602.9 L668.5 1601.6 L670.0 1600.2 L671.5 1598.9 L673.0 1597.5 L674.5 1596.2 L676.0 1594.8 L677.5 1593.5 L679.0 1592.1 L680.5 1590.9 L682.0 1589.7 L683.5 1588.5 L685.0 1587.3 L686.5 1586.1 L688.0 1584.9 L689.5 1583.7 L691.0 1582.5 L692.5 1581.3 L694.0 1580.1 L695.5 1578.9 L697.0 1577.7 L698.5 1576.5 L700.0 1575.0 L701.5 1573.2 L703.0 1571.4 L704.5 1569.6 L706.0 1567.7 L707.5 1565.9 L709.0 1564.1 L710.5 1562.3 L712.0 1560.4 L713.5 1558.6 L715.0 1556.8 L716.5 1555.0 L718.0 1553.2 L719.5 1551.3 L721.0 1549.5 L722.5 1547.7 L724.0 1545.9 L725.5 1544.0 L727.0 1542.2 L728.5 1540.4 L730.0 1538.6 L731.5 1536.7 L733.0 1534.9 L734.5 1533.1 L736.0 1531.3 L737.5 1529.4 L739.0 1527.6 L740.5 1525.8 L742.0 1524.0 L743.5 1522.1 L745.0 1520.3 L746.5 1518.5 L748.0 1516.7 L749.5 1514.8 L751.0 1513.3 L752.5 1511.8 L754.0 1510.3 L755.5 1508.8 L757.0 1507.3 L758.5 1505.8 L760.0 1504.3 L761.5 1502.8 L763.0 1501.3 L764.5 1499.8 L766.0 1498.2 L767.5 1496.2 L769.0 1494.1 L770.5 1491.9 L772.0 1489.8 L773.5 1487.7 L775.0 1485.6 L776.5 1483.4 L778.0 1481.3 L779.5 1479.1 L781.0 1476.9 L782.5 1474.7 L784.0 1472.7 L785.5 1470.6 L787.0 1468.4 L788.5 1466.0 L790.0 1463.2 L791.5 1459.9 L793.0 1456.4 L794.5 1454.2 L796.0 1453.9 L797.5 1453.8 L799.0 1453.2 L800.5 1452.2 L802.0 1450.8 L803.5 1449.3 L805.0 1447.7 L806.5 1446.0 L808.0 1444.3 L809.5 1442.6 L811.0 1440.8 L812.5 1439.1 L814.0 1437.3 L815.5 1435.5 L817.0 1433.9 L818.5 1432.2 L820.0 1430.5 L821.5 1428.8 L823.0 1427.2 L824.5 1425.5 L826.0 1423.8 L827.5 1422.1 L829.0 1420.4 L830.5 1417.2 L832.0 1414.1 L833.5 1411.0 L835.0 1407.9 L836.5 1405.1 L838.0 1404.0 L839.5 1402.9 L841.0 1401.9 L842.5 1400.8 L844.0 1399.7 L845.5 1398.6 L847.0 1397.5 L848.5 1396.4 L850.0 1395.2 L851.5 1394.1 L853.0 1393.0 L854.5 1392.1 L856.0 1391.2 L857.5 1390.2 L859.0 1389.3 L860.5 1388.4 L862.0 1387.3 L863.5 1386.3 L865.0 1385.2 L866.5 1384.1 L868.0 1383.1 L869.5 1381.9 L871.0 1380.8 L872.5 1379.6 L874.0 1378.4 L875.5 1377.2 L877.0 1376.0 L878.5 1374.6 L880.0 1373.1 L881.5 1371.7 L883.0 1370.3 L884.5 1368.9 L886.0 1367.6 L887.5 1366.2 L889.0 1364.9 L890.5 1363.5 L892.0 1362.2 L893.5 1360.8 L895.0 1359.5 L896.5 1358.2 L898.0 1357.0 L899.5 1355.8 L901.0 1354.6 L902.5 1353.4 L904.0 1352.2 L905.5 1351.0 L907.0 1349.8 L908.5 1348.5 L910.0 1347.2 L911.5 1345.9 L913.0 1344.6 L914.5 1343.3 L916.0 1342.0 L917.5 1340.7 L919.0 1339.4 L920.5 1338.1 L922.0 1336.8 L923.5 1335.5 L925.0 1334.3 L926.5 1333.1 L928.0 1331.9 L929.5 1330.7 L931.0 1329.5 L932.5 1328.3 L934.0 1327.1 L935.5 1325.9 L937.0 1324.7 L938.5 1323.5 L940.0 1322.2 L941.5 1320.9 L943.0 1319.5 L944.5 1318.2 L946.0 1316.8 L947.5 1315.5 L949.0 1314.1 L950.5 1312.8 L952.0 1311.6 L953.5 1310.3 L955.0 1309.1 L956.5 1307.9 L958.0 1306.7 L959.5 1305.4 L961.0 1304.2 L962.5 1303.0 L964.0 1301.7 L965.5 1300.5 L967.0 1299.2 L968.5 1298.0 L970.0 1296.7 L971.5 1295.5 L973.0 1294.3 L974.5 1293.1 L976.0 1291.9 L977.5 1290.7 L979.0 1289.5 L980.5 1288.3 L982.0 1287.1 L983.5 1285.9 L985.0 1284.7 L986.5 1283.5 L988.0 1282.3 L989.5 1281.2 L991.0 1280.1 L992.5 1279.0 L994.0 1277.9 L995.5 1276.8 L997.0 1275.7 L998.5 1274.6 L1000.0 1273.5 L1001.5 1272.4 L1003.0 1271.3 L1004.5 1270.2 L1006.0 1270.2 L1007.5 1270.2 L1009.0 1270.2 L1010.5 1270.2 L1012.0 1270.2 L1013.5 1270.2 L1015.0 1270.2" fill="none" stroke="#b865cc" stroke-opacity="0.55" stroke-width="1.3"/>
<path d="M184.0 1839.4 L185.5 1839.5 L187.0 1839.7 L188.5 1839.9 L190.0 1840.1 L191.5 1840.3 L193.0 1840.5 L194.5 1840.7 L196.0 1840.8 L197.5 1841.0 L199.0 1841.2 L200.5 1841.4 L202.0 1841.6 L203.5 1841.7 L205.0 1841.4 L206.5 1841.1 L208.0 1840.8 L209.5 1840.5 L211.0 1840.2 L212.5 1839.9 L214.0 1839.6 L215.5 1839.3 L217.0 1839.0 L218.5 1838.7 L220.0 1837.9 L221.5 1837.0 L223.0 1836.1 L224.5 1835.2 L226.0 1834.3 L227.5 1833.4 L229.0 1832.5 L230.5 1831.6 L232.0 1830.7 L233.5 1829.8 L235.0 1829.0 L236.5 1828.2 L238.0 1827.5 L239.5 1826.7 L241.0 1826.0 L242.5 1825.2 L244.0 1824.5 L245.5 1823.7 L247.0 1823.0 L248.5 1822.2 L250.0 1821.5 L251.5 1820.9 L253.0 1820.3 L254.5 1819.7 L256.0 1819.1 L257.5 1818.5 L259.0 1817.9 L260.5 1817.3 L262.0 1816.7 L263.5 1816.1 L265.0 1815.5 L266.5 1814.9 L268.0 1814.3 L269.5 1813.7 L271.0 1813.1 L272.5 1812.5 L274.0 1812.0 L275.5 1811.7 L277.0 1811.3 L278.5 1810.9 L280.0 1810.5 L281.5 1810.2 L283.0 1809.8 L284.5 1809.4 L286.0 1809.0 L287.5 1808.7 L289.0 1808.3 L290.5 1807.9 L292.0 1807.5 L293.5 1807.2 L295.0 1806.8 L296.5 1806.4 L298.0 1806.0 L299.5 1805.7 L301.0 1805.3 L302.5 1804.9 L304.0 1804.5 L305.5 1804.1 L307.0 1803.7 L308.5 1803.3 L310.0 1802.9 L311.5 1802.5 L313.0 1802.1 L314.5 1801.7 L316.0 1801.3 L317.5 1800.9 L319.0 1800.5 L320.5 1800.1 L322.0 1799.7 L323.5 1799.3 L325.0 1798.9 L326.5 1798.5 L328.0 1798.1 L329.5 1797.7 L331.0 1797.3 L332.5 1796.9 L334.0 1796.5 L335.5 1796.1 L337.0 1795.7 L338.5 1795.3 L340.0 1794.9 L341.5 1794.5 L343.0 1794.1 L344.5 1793.7 L346.0 1793.3 L347.5 1792.9 L349.0 1792.5 L350.5 1792.1 L352.0 1791.8 L353.5 1791.5 L355.0 1791.2 L356.5 1790.9 L358.0 1790.6 L359.5 1790.3 L361.0 1790.0 L362.5 1789.7 L364.0 1789.4 L365.5 1789.1 L367.0 1788.8 L368.5 1788.5 L370.0 1788.2 L371.5 1787.9 L373.0 1787.6 L374.5 1787.3 L376.0 1787.0 L377.5 1786.7 L379.0 1786.4 L380.5 1786.1 L382.0 1785.8 L383.5 1785.3 L385.0 1784.9 L386.5 1784.4 L388.0 1784.0 L389.5 1783.5 L391.0 1783.1 L392.5 1782.6 L394.0 1782.2 L395.5 1781.7 L397.0 1781.3 L398.5 1780.8 L400.0 1780.4 L401.5 1779.9 L403.0 1779.5 L404.5 1779.0 L406.0 1778.6 L407.5 1778.1 L409.0 1777.7 L410.5 1777.2 L412.0 1776.8 L413.5 1776.4 L415.0 1776.0 L416.5 1775.6 L418.0 1775.2 L419.5 1774.8 L421.0 1774.4 L422.5 1774.0 L424.0 1773.6 L425.5 1773.2 L427.0 1772.8 L428.5 1772.4 L430.0 1772.0 L431.5 1771.6 L433.0 1771.2 L434.5 1770.8 L436.0 1770.4 L437.5 1770.0 L439.0 1769.6 L440.5 1769.1 L442.0 1768.4 L443.5 1767.7 L445.0 1767.0 L446.5 1766.4 L448.0 1765.7 L449.5 1765.0 L451.0 1764.3 L452.5 1763.7 L454.0 1763.0 L455.5 1762.3 L457.0 1761.6 L458.5 1761.0 L460.0 1760.3 L461.5 1759.6 L463.0 1758.9 L464.5 1758.3 L466.0 1757.6 L467.5 1756.9 L469.0 1756.2 L470.5 1755.6 L472.0 1754.9 L473.5 1754.2 L475.0 1753.5 L476.5 1752.9 L478.0 1752.2 L479.5 1751.5 L481.0 1750.8 L482.5 1750.2 L484.0 1749.5 L485.5 1748.8 L487.0 1748.1 L488.5 1747.5 L490.0 1746.8 L491.5 1746.1 L493.0 1745.4 L494.5 1744.8 L496.0 1744.1 L497.5 1743.4 L499.0 1742.7 L500.5 1742.1 L502.0 1741.4 L503.5 1740.7 L505.0 1740.0 L506.5 1739.4 L508.0 1738.7 L509.5 1738.0 L511.0 1737.3 L512.5 1736.7 L514.0 1736.0 L515.5 1735.3 L517.0 1734.6 L518.5 1734.0 L520.0 1733.3 L521.5 1732.6 L523.0 1731.9 L524.5 1731.2 L526.0 1730.5 L527.5 1729.8 L529.0 1729.1 L530.5 1728.4 L532.0 1727.7 L533.5 1727.0 L535.0 1726.3 L536.5 1725.6 L538.0 1724.9 L539.5 1724.2 L541.0 1723.5 L542.5 1722.8 L544.0 1722.1 L545.5 1721.4 L547.0 1720.7 L548.5 1720.0 L550.0 1719.2 L551.5 1718.0 L553.0 1716.8 L554.5 1715.6 L556.0 1714.4 L557.5 1713.2 L559.0 1712.0 L560.5 1710.8 L562.0 1709.6 L563.5 1708.4 L565.0 1707.2 L566.5 1706.0 L568.0 1704.8 L569.5 1703.6 L571.0 1702.4 L572.5 1701.2 L574.0 1700.0 L575.5 1698.8 L577.0 1697.6 L578.5 1696.4 L580.0 1695.1 L581.5 1693.5 L583.0 1691.8 L584.5 1690.2 L586.0 1688.5 L587.5 1686.9 L589.0 1685.2 L590.5 1683.6 L592.0 1681.9 L593.5 1680.3 L595.0 1678.6 L596.5 1677.0 L598.0 1675.3 L599.5 1673.7 L601.0 1671.9 L602.5 1670.1 L604.0 1668.3 L605.5 1666.5 L607.0 1664.7 L608.5 1662.9 L610.0 1661.1 L611.5 1659.3 L613.0 1657.5 L614.5 1655.7 L616.0 1653.9 L617.5 1652.1 L619.0 1650.3 L620.5 1648.7 L622.0 1647.2 L623.5 1645.7 L625.0 1644.2 L626.5 1642.7 L628.0 1641.2 L629.5 1639.7 L631.0 1638.2 L632.5 1636.7 L634.0 1635.2 L635.5 1633.7 L637.0 1632.2 L638.5 1630.7 L640.0 1629.2 L641.5 1627.7 L643.0 1626.2 L644.5 1624.7 L646.0 1623.2 L647.5 1621.7 L649.0 1620.2 L650.5 1618.7 L652.0 1617.2 L653.5 1615.7 L655.0 1614.2 L656.5 1612.7 L658.0 1611.2 L659.5 1609.7 L661.0 1608.3 L662.5 1607.0 L664.0 1605.6 L665.5 1604.3 L667.0 1602.9 L668.5 1601.6 L670.0 1600.2 L671.5 1598.9 L673.0 1597.5 L674.5 1596.2 L676.0 1594.8 L677.5 1593.5 L679.0 1592.1 L680.5 1590.9 L682.0 1589.7 L683.5 1588.5 L685.0 1587.3 L686.5 1586.1 L688.0 1584.9 L689.5 1583.7 L691.0 1582.5 L692.5 1581.3 L694.0 1580.1 L695.5 1578.9 L697.0 1577.7 L698.5 1576.5 L700.0 1575.0 L701.5 1573.2 L703.0 1571.4 L704.5 1569.6 L706.0 1567.8 L707.5 1565.9 L709.0 1564.1 L710.5 1562.3 L712.0 1560.5 L713.5 1558.6 L715.0 1556.8 L716.5 1555.0 L718.0 1553.2 L719.5 1551.3 L721.0 1549.5 L722.5 1547.7 L724.0 1545.9 L725.5 1544.0 L727.0 1542.2 L728.5 1540.4 L730.0 1538.6 L731.5 1536.8 L733.0 1534.9 L734.5 1533.1 L736.0 1531.3 L737.5 1529.5 L739.0 1527.6 L740.5 1525.8 L742.0 1524.0 L743.5 1522.2 L745.0 1520.3 L746.5 1518.5 L748.0 1516.7 L749.5 1514.9 L751.0 1513.3 L752.5 1511.8 L754.0 1510.3 L755.5 1508.8 L757.0 1507.3 L758.5 1505.8 L760.0 1504.3 L761.5 1502.8 L763.0 1501.3 L764.5 1499.8 L766.0 1498.3 L767.5 1496.3 L769.0 1494.2 L770.5 1492.1 L772.0 1490.0 L773.5 1487.9 L775.0 1485.7 L776.5 1483.6 L778.0 1481.5 L779.5 1479.4 L781.0 1477.3 L782.5 1475.2 L784.0 1473.3 L785.5 1471.5 L787.0 1469.7 L788.5 1467.9 L790.0 1466.0 L791.5 1464.2 L793.0 1462.3 L794.5 1460.4 L796.0 1458.5 L797.5 1456.5 L799.0 1454.3 L800.5 1452.0 L802.0 1449.1 L803.5 1445.2 L805.0 1439.9 L806.5 1437.2 L808.0 1438.9 L809.5 1439.7 L811.0 1439.2 L812.5 1438.1 L814.0 1436.7 L815.5 1435.1 L817.0 1433.6 L818.5 1432.0 L820.0 1430.4 L821.5 1428.7 L823.0 1427.1 L824.5 1425.4 L826.0 1423.7 L827.5 1422.1 L829.0 1420.3 L830.5 1417.2 L832.0 1414.1 L833.5 1411.0 L835.0 1407.9 L836.5 1405.1 L838.0 1404.0 L839.5 1402.9 L841.0 1401.9 L842.5 1400.8 L844.0 1399.7 L845.5 1398.6 L847.0 1397.5 L848.5 1396.3 L850.0 1395.2 L851.5 1394.1 L853.0 1393.0 L854.5 1392.1 L856.0 1391.2 L857.5 1390.2 L859.0 1389.3 L860.5 1388.4 L862.0 1387.3 L863.5 1386.3 L865.0 1385.2 L866.5 1384.1 L868.0 1383.1 L869.5 1381.9 L871.0 1380.8 L872.5 1379.6 L874.0 1378.4 L875.5 1377.2 L877.0 1376.0 L878.5 1374.6 L880.0 1373.1 L881.5 1371.7 L883.0 1370.3 L884.5 1368.9 L886.0 1367.6 L887.5 1366.2 L889.0 1364.9 L890.5 1363.5 L892.0 1362.2 L893.5 1360.8 L895.0 1359.5 L896.5 1358.2 L898.0 1357.0 L899.5 1355.8 L901.0 1354.6 L902.5 1353.4 L904.0 1352.2 L905.5 1351.0 L907.0 1349.8 L908.5 1348.5 L910.0 1347.2 L911.5 1345.9 L913.0 1344.6 L914.5 1343.3 L916.0 1342.0 L917.5 1340.7 L919.0 1339.4 L920.5 1338.1 L922.0 1336.8 L923.5 1335.5 L925.0 1334.3 L926.5 1333.1 L928.0 1331.9 L929.5 1330.7 L931.0 1329.5 L932.5 1328.3 L934.0 1327.1 L935.5 1325.9 L937.0 1324.7 L938.5 1323.5 L940.0 1322.2 L941.5 1320.9 L943.0 1319.5 L944.5 1318.2 L946.0 1316.8 L947.5 1315.5 L949.0 1314.1 L950.5 1312.8 L952.0 1311.6 L953.5 1310.3 L955.0 1309.1 L956.5 1307.9 L958.0 1306.7 L959.5 1305.4 L961.0 1304.2 L962.5 1303.0 L964.0 1301.7 L965.5 1300.5 L967.0 1299.2 L968.5 1298.0 L970.0 1296.7 L971.5 1295.5 L973.0 1294.3 L974.5 1293.1 L976.0 1291.9 L977.5 1290.7 L979.0 1289.5 L980.5 1288.3 L982.0 1287.1 L983.5 1285.9 L985.0 1284.7 L986.5 1283.5 L988.0 1282.3 L989.5 1281.2 L991.0 1280.1 L992.5 1279.0 L994.0 1277.9 L995.5 1276.8 L997.0 1275.7 L998.5 1274.6 L1000.0 1273.5 L1001.5 1272.4 L1003.0 1271.3 L1004.5 1270.2 L1006.0 1270.2 L1007.5 1270.2 L1009.0 1270.2 L1010.5 1270.2 L1012.0 1270.2 L1013.5 1270.2 L1015.0 1270.2" fill="none" stroke="#b865cc" stroke-opacity="0.55" stroke-width="1.3"/>
<path d="M184.0 1839.4 L185.5 1839.5 L187.0 1839.7 L188.5 1839.9 L190.0 1840.1 L191.5 1840.3 L193.0 1840.5 L194.5 1840.6 L196.0 1840.8 L197.5 1841.0 L199.0 1841.2 L200.5 1841.4 L202.0 1841.6 L203.5 1841.7 L205.0 1841.4 L206.5 1841.1 L208.0 1840.8 L209.5 1840.5 L211.0 1840.2 L212.5 1839.9 L214.0 1839.6 L215.5 1839.3 L217.0 1839.0 L218.5 1838.7 L220.0 1837.9 L221.5 1837.0 L223.0 1836.1 L224.5 1835.2 L226.0 1834.3 L227.5 1833.4 L229.0 1832.5 L230.5 1831.6 L232.0 1830.7 L233.5 1829.8 L235.0 1829.0 L236.5 1828.2 L238.0 1827.5 L239.5 1826.7 L241.0 1826.0 L242.5 1825.2 L244.0 1824.5 L245.5 1823.7 L247.0 1823.0 L248.5 1822.2 L250.0 1821.5 L251.5 1820.9 L253.0 1820.3 L254.5 1819.7 L256.0 1819.1 L257.5 1818.5 L259.0 1817.9 L260.5 1817.3 L262.0 1816.7 L263.5 1816.1 L265.0 1815.5 L266.5 1814.9 L268.0 1814.3 L269.5 1813.7 L271.0 1813.1 L272.5 1812.5 L274.0 1812.0 L275.5 1811.7 L277.0 1811.3 L278.5 1810.9 L280.0 1810.5 L281.5 1810.2 L283.0 1809.8 L284.5 1809.4 L286.0 1809.0 L287.5 1808.7 L289.0 1808.3 L290.5 1807.9 L292.0 1807.5 L293.5 1807.2 L295.0 1806.8 L296.5 1806.4 L298.0 1806.0 L299.5 1805.7 L301.0 1805.3 L302.5 1804.9 L304.0 1804.5 L305.5 1804.1 L307.0 1803.7 L308.5 1803.3 L310.0 1802.9 L311.5 1802.5 L313.0 1802.1 L314.5 1801.7 L316.0 1801.3 L317.5 1800.9 L319.0 1800.5 L320.5 1800.1 L322.0 1799.7 L323.5 1799.3 L325.0 1798.9 L326.5 1798.5 L328.0 1798.1 L329.5 1797.7 L331.0 1797.3 L332.5 1796.9 L334.0 1796.5 L335.5 1796.1 L337.0 1795.7 L338.5 1795.3 L340.0 1794.9 L341.5 1794.5 L343.0 1794.1 L344.5 1793.7 L346.0 1793.3 L347.5 1792.9 L349.0 1792.5 L350.5 1792.1 L352.0 1791.8 L353.5 1791.5 L355.0 1791.2 L356.5 1790.9 L358.0 1790.6 L359.5 1790.3 L361.0 1790.0 L362.5 1789.7 L364.0 1789.4 L365.5 1789.1 L367.0 1788.8 L368.5 1788.5 L370.0 1788.2 L371.5 1787.9 L373.0 1787.6 L374.5 1787.3 L376.0 1787.0 L377.5 1786.7 L379.0 1786.4 L380.5 1786.1 L382.0 1785.8 L383.5 1785.3 L385.0 1784.9 L386.5 1784.4 L388.0 1784.0 L389.5 1783.5 L391.0 1783.1 L392.5 1782.6 L394.0 1782.2 L395.5 1781.7 L397.0 1781.3 L398.5 1780.8 L400.0 1780.4 L401.5 1779.9 L403.0 1779.5 L404.5 1779.0 L406.0 1778.6 L407.5 1778.1 L409.0 1777.7 L410.5 1777.2 L412.0 1776.8 L413.5 1776.3 L415.0 1775.9 L416.5 1775.5 L418.0 1775.1 L419.5 1774.7 L421.0 1774.3 L422.5 1773.9 L424.0 1773.5 L425.5 1773.1 L427.0 1772.7 L428.5 1772.3 L430.0 1771.9 L431.5 1771.5 L433.0 1771.1 L434.5 1770.7 L436.0 1770.3 L437.5 1769.9 L439.0 1769.5 L440.5 1769.0 L442.0 1768.4 L443.5 1767.7 L445.0 1767.0 L446.5 1766.3 L448.0 1765.7 L449.5 1765.0 L451.0 1764.3 L452.5 1763.6 L454.0 1763.0 L455.5 1762.3 L457.0 1761.6 L458.5 1760.9 L460.0 1760.3 L461.5 1759.6 L463.0 1758.9 L464.5 1758.2 L466.0 1757.6 L467.5 1756.9 L469.0 1756.2 L470.5 1755.5 L472.0 1754.9 L473.5 1754.2 L475.0 1753.5 L476.5 1752.8 L478.0 1752.2 L479.5 1751.5 L481.0 1750.8 L482.5 1750.1 L484.0 1749.5 L485.5 1748.8 L487.0 1748.1 L488.5 1747.4 L490.0 1746.7 L491.5 1746.1 L493.0 1745.4 L494.5 1744.7 L496.0 1744.0 L497.5 1743.4 L499.0 1742.7 L500.5 1742.0 L502.0 1741.3 L503.5 1740.7 L505.0 1740.0 L506.5 1739.3 L508.0 1738.6 L509.5 1738.0 L511.0 1737.3 L512.5 1736.6 L514.0 1735.9 L515.5 1735.3 L517.0 1734.6 L518.5 1733.9 L520.0 1733.2 L521.5 1732.5 L523.0 1731.8 L524.5 1731.1 L526.0 1730.4 L527.5 1729.7 L529.0 1729.0 L530.5 1728.3 L532.0 1727.6 L533.5 1726.9 L535.0 1726.2 L536.5 1725.5 L538.0 1724.8 L539.5 1724.1 L541.0 1723.4 L542.5 1722.7 L544.0 1722.0 L545.5 1721.3 L547.0 1720.6 L548.5 1719.9 L550.0 1719.2 L551.5 1718.0 L553.0 1716.8 L554.5 1715.6 L556.0 1714.4 L557.5 1713.2 L559.0 1712.0 L560.5 1710.8 L562.0 1709.6 L563.5 1708.4 L565.0 1707.2 L566.5 1706.0 L568.0 1704.8 L569.5 1703.6 L571.0 1702.4 L572.5 1701.2 L574.0 1699.9 L575.5 1698.7 L577.0 1697.5 L578.5 1696.3 L580.0 1695.1 L581.5 1693.4 L583.0 1691.8 L584.5 1690.1 L586.0 1688.5 L587.5 1686.8 L589.0 1685.2 L590.5 1683.5 L592.0 1681.9 L593.5 1680.2 L595.0 1678.6 L596.5 1676.9 L598.0 1675.3 L599.5 1673.6 L601.0 1671.8 L602.5 1670.0 L604.0 1668.2 L605.5 1666.4 L607.0 1664.6 L608.5 1662.8 L610.0 1661.0 L611.5 1659.2 L613.0 1657.4 L614.5 1655.6 L616.0 1653.8 L617.5 1652.0 L619.0 1650.2 L620.5 1648.6 L622.0 1647.1 L623.5 1645.6 L625.0 1644.1 L626.5 1642.6 L628.0 1641.1 L629.5 1639.6 L631.0 1638.1 L632.5 1636.6 L634.0 1635.1 L635.5 1633.6 L637.0 1632.1 L638.5 1630.6 L640.0 1629.1 L641.5 1627.6 L643.0 1626.1 L644.5 1624.6 L646.0 1623.1 L647.5 1621.6 L649.0 1620.1 L650.5 1618.6 L652.0 1617.1 L653.5 1615.6 L655.0 1614.1 L656.5 1612.6 L658.0 1611.1 L659.5 1609.6 L661.0 1608.2 L662.5 1606.9 L664.0 1605.5 L665.5 1604.2 L667.0 1602.8 L668.5 1601.5 L670.0 1600.1 L671.5 1598.8 L673.0 1597.4 L674.5 1596.1 L676.0 1594.7 L677.5 1593.4 L679.0 1592.0 L680.5 1590.8 L682.0 1589.6 L683.5 1588.3 L685.0 1587.1 L686.5 1585.9 L688.0 1584.7 L689.5 1583.5 L691.0 1582.3 L692.5 1581.1 L694.0 1579.9 L695.5 1578.7 L697.0 1577.5 L698.5 1576.3 L700.0 1574.9 L701.5 1573.1 L703.0 1571.3 L704.5 1569.4 L706.0 1567.6 L707.5 1565.8 L709.0 1564.0 L710.5 1562.1 L712.0 1560.3 L713.5 1558.5 L715.0 1556.7 L716.5 1554.8 L718.0 1553.0 L719.5 1551.2 L721.0 1549.4 L722.5 1547.5 L724.0 1545.7 L725.5 1543.9 L727.0 1542.0 L728.5 1540.2 L730.0 1538.4 L731.5 1536.6 L733.0 1534.7 L734.5 1532.9 L736.0 1531.1 L737.5 1529.3 L739.0 1527.4 L740.5 1525.6 L742.0 1523.8 L743.5 1521.9 L745.0 1520.1 L746.5 1518.3 L748.0 1516.4 L749.5 1514.6 L751.0 1513.1 L752.5 1511.6 L754.0 1510.1 L755.5 1508.6 L757.0 1507.0 L758.5 1505.5 L760.0 1504.0 L761.5 1502.5 L763.0 1501.0 L764.5 1499.5 L766.0 1497.9 L767.5 1495.9 L769.0 1493.8 L770.5 1491.6 L772.0 1489.5 L773.5 1487.4 L775.0 1485.3 L776.5 1483.1 L778.0 1481.0 L779.5 1478.9 L781.0 1476.7 L782.5 1474.6 L784.0 1472.7 L785.5 1470.8 L787.0 1469.0 L788.5 1467.1 L790.0 1465.2 L791.5 1463.3 L793.0 1461.4 L794.5 1459.5 L796.0 1457.6 L797.5 1455.6 L799.0 1453.7 L800.5 1451.7 L802.0 1449.6 L803.5 1447.6 L805.0 1445.5 L806.5 1443.3 L808.0 1441.1 L809.5 1438.9 L811.0 1436.6 L812.5 1434.4 L814.0 1432.1 L815.5 1430.0 L817.0 1428.1 L818.5 1426.4 L820.0 1424.9 L821.5 1423.5 L823.0 1422.3 L824.5 1421.1 L826.0 1420.0 L827.5 1418.8 L829.0 1417.5 L830.5 1414.8 L832.0 1412.0 L833.5 1409.2 L835.0 1406.3 L836.5 1403.7 L838.0 1402.8 L839.5 1401.9 L841.0 1400.9 L842.5 1399.9 L844.0 1399.0 L845.5 1397.9 L847.0 1396.8 L848.5 1395.8 L850.0 1394.7 L851.5 1393.6 L853.0 1392.6 L854.5 1391.7 L856.0 1390.8 L857.5 1389.9 L859.0 1389.0 L860.5 1388.1 L862.0 1387.1 L863.5 1386.0 L865.0 1385.0 L866.5 1383.9 L868.0 1382.9 L869.5 1381.8 L871.0 1380.6 L872.5 1379.4 L874.0 1378.2 L875.5 1377.1 L877.0 1375.8 L878.5 1374.4 L880.0 1373.0 L881.5 1371.6 L883.0 1370.2 L884.5 1368.8 L886.0 1367.5 L887.5 1366.1 L889.0 1364.8 L890.5 1363.4 L892.0 1362.1 L893.5 1360.7 L895.0 1359.4 L896.5 1358.1 L898.0 1356.9 L899.5 1355.7 L901.0 1354.5 L902.5 1353.3 L904.0 1352.1 L905.5 1350.9 L907.0 1349.7 L908.5 1348.4 L910.0 1347.1 L911.5 1345.8 L913.0 1344.5 L914.5 1343.2 L916.0 1341.9 L917.5 1340.6 L919.0 1339.3 L920.5 1338.0 L922.0 1336.7 L923.5 1335.5 L925.0 1334.3 L926.5 1333.1 L928.0 1331.9 L929.5 1330.7 L931.0 1329.5 L932.5 1328.3 L934.0 1327.1 L935.5 1325.9 L937.0 1324.7 L938.5 1323.5 L940.0 1322.2 L941.5 1320.8 L943.0 1319.5 L944.5 1318.1 L946.0 1316.8 L947.5 1315.4 L949.0 1314.1 L950.5 1312.8 L952.0 1311.6 L953.5 1310.3 L955.0 1309.1 L956.5 1307.9 L958.0 1306.6 L959.5 1305.4 L961.0 1304.2 L962.5 1303.0 L964.0 1301.7 L965.5 1300.5 L967.0 1299.2 L968.5 1298.0 L970.0 1296.7 L971.5 1295.5 L973.0 1294.2 L974.5 1293.0 L976.0 1291.8 L977.5 1290.6 L979.0 1289.4 L980.5 1288.2 L982.0 1287.0 L983.5 1285.8 L985.0 1284.7 L986.5 1283.5 L988.0 1282.3 L989.5 1281.1 L991.0 1280.0 L992.5 1278.9 L994.0 1277.8 L995.5 1276.7 L997.0 1275.6 L998.5 1274.5 L1000.0 1273.4 L1001.5 1272.3 L1003.0 1271.2 L1004.5 1270.2 L1006.0 1270.2 L1007.5 1270.2 L1009.0 1270.2 L1010.5 1270.2 L1012.0 1270.2 L1013.5 1270.2 L1015.0 1270.2" fill="none" stroke="#b865cc" stroke-opacity="0.55" stroke-width="1.3"/>
<path d="M184.0 1839.4 L185.5 1839.5 L187.0 1839.7 L188.5 1839.9 L190.0 1840.1 L191.5 1840.3 L193.0 1840.5 L194.5 1840.7 L196.0 1840.8 L197.5 1841.0 L199.0 1841.2 L200.5 1841.4 L202.0 1841.6 L203.5 1841.7 L205.0 1841.4 L206.5 1841.1 L208.0 1840.8 L209.5 1840.5 L211.0 1840.2 L212.5 1839.9 L214.0 1839.6 L215.5 1839.3 L217.0 1839.0 L218.5 1838.7 L220.0 1837.9 L221.5 1837.0 L223.0 1836.1 L224.5 1835.2 L226.0 1834.3 L227.5 1833.4 L229.0 1832.5 L230.5 1831.6 L232.0 1830.7 L233.5 1829.8 L235.0 1829.0 L236.5 1828.2 L238.0 1827.5 L239.5 1826.7 L241.0 1826.0 L242.5 1825.2 L244.0 1824.5 L245.5 1823.7 L247.0 1823.0 L248.5 1822.2 L250.0 1821.5 L251.5 1820.9 L253.0 1820.3 L254.5 1819.7 L256.0 1819.1 L257.5 1818.5 L259.0 1817.9 L260.5 1817.3 L262.0 1816.7 L263.5 1816.1 L265.0 1815.5 L266.5 1814.9 L268.0 1814.3 L269.5 1813.7 L271.0 1813.1 L272.5 1812.5 L274.0 1812.0 L275.5 1811.7 L277.0 1811.3 L278.5 1810.9 L280.0 1810.5 L281.5 1810.2 L283.0 1809.8 L284.5 1809.4 L286.0 1809.0 L287.5 1808.7 L289.0 1808.3 L290.5 1807.9 L292.0 1807.5 L293.5 1807.2 L295.0 1806.8 L296.5 1806.4 L298.0 1806.0 L299.5 1805.7 L301.0 1805.3 L302.5 1804.9 L304.0 1804.5 L305.5 1804.1 L307.0 1803.7 L308.5 1803.3 L310.0 1802.9 L311.5 1802.5 L313.0 1802.1 L314.5 1801.7 L316.0 1801.3 L317.5 1800.9 L319.0 1800.5 L320.5 1800.1 L322.0 1799.7 L323.5 1799.3 L325.0 1798.9 L326.5 1798.5 L328.0 1798.1 L329.5 1797.7 L331.0 1797.3 L332.5 1796.9 L334.0 1796.5 L335.5 1796.1 L337.0 1795.7 L338.5 1795.3 L340.0 1794.9 L341.5 1794.5 L343.0 1794.1 L344.5 1793.7 L346.0 1793.3 L347.5 1792.9 L349.0 1792.5 L350.5 1792.2 L352.0 1791.9 L353.5 1791.6 L355.0 1791.3 L356.5 1791.0 L358.0 1790.7 L359.5 1790.4 L361.0 1790.1 L362.5 1789.8 L364.0 1789.5 L365.5 1789.2 L367.0 1788.9 L368.5 1788.6 L370.0 1788.3 L371.5 1788.0 L373.0 1787.7 L374.5 1787.4 L376.0 1787.1 L377.5 1786.8 L379.0 1786.5 L380.5 1786.2 L382.0 1785.8 L383.5 1785.3 L385.0 1784.9 L386.5 1784.4 L388.0 1784.0 L389.5 1783.5 L391.0 1783.1 L392.5 1782.6 L394.0 1782.2 L395.5 1781.7 L397.0 1781.3 L398.5 1780.8 L400.0 1780.4 L401.5 1779.9 L403.0 1779.5 L404.5 1779.0 L406.0 1778.6 L407.5 1778.1 L409.0 1777.7 L410.5 1777.2 L412.0 1776.8 L413.5 1776.4 L415.0 1776.0 L416.5 1775.6 L418.0 1775.2 L419.5 1774.8 L421.0 1774.4 L422.5 1774.0 L424.0 1773.6 L425.5 1773.2 L427.0 1772.8 L428.5 1772.4 L430.0 1772.0 L431.5 1771.6 L433.0 1771.2 L434.5 1770.8 L436.0 1770.4 L437.5 1770.0 L439.0 1769.6 L440.5 1769.1 L442.0 1768.4 L443.5 1767.7 L445.0 1767.1 L446.5 1766.4 L448.0 1765.7 L449.5 1765.0 L451.0 1764.4 L452.5 1763.7 L454.0 1763.0 L455.5 1762.3 L457.0 1761.7 L458.5 1761.0 L460.0 1760.3 L461.5 1759.6 L463.0 1758.9 L464.5 1758.3 L466.0 1757.6 L467.5 1756.9 L469.0 1756.2 L470.5 1755.6 L472.0 1754.9 L473.5 1754.2 L475.0 1753.5 L476.5 1752.9 L478.0 1752.2 L479.5 1751.5 L481.0 1750.8 L482.5 1750.2 L484.0 1749.5 L485.5 1748.8 L487.0 1748.1 L488.5 1747.5 L490.0 1746.8 L491.5 1746.1 L493.0 1745.4 L494.5 1744.8 L496.0 1744.1 L497.5 1743.4 L499.0 1742.7 L500.5 1742.1 L502.0 1741.4 L503.5 1740.7 L505.0 1740.0 L506.5 1739.4 L508.0 1738.7 L509.5 1738.0 L511.0 1737.3 L512.5 1736.7 L514.0 1736.0 L515.5 1735.3 L517.0 1734.6 L518.5 1734.0 L520.0 1733.3 L521.5 1732.6 L523.0 1731.9 L524.5 1731.2 L526.0 1730.5 L527.5 1729.8 L529.0 1729.1 L530.5 1728.4 L532.0 1727.7 L533.5 1727.0 L535.0 1726.3 L536.5 1725.6 L538.0 1724.9 L539.5 1724.2 L541.0 1723.5 L542.5 1722.8 L544.0 1722.1 L545.5 1721.4 L547.0 1720.7 L548.5 1720.0 L550.0 1719.2 L551.5 1718.0 L553.0 1716.8 L554.5 1715.6 L556.0 1714.4 L557.5 1713.2 L559.0 1712.0 L560.5 1710.8 L562.0 1709.6 L563.5 1708.4 L565.0 1707.2 L566.5 1706.0 L568.0 1704.8 L569.5 1703.6 L571.0 1702.4 L572.5 1701.2 L574.0 1700.0 L575.5 1698.8 L577.0 1697.6 L578.5 1696.4 L580.0 1695.1 L581.5 1693.5 L583.0 1691.8 L584.5 1690.2 L586.0 1688.5 L587.5 1686.9 L589.0 1685.2 L590.5 1683.6 L592.0 1681.9 L593.5 1680.3 L595.0 1678.6 L596.5 1677.0 L598.0 1675.3 L599.5 1673.7 L601.0 1671.9 L602.5 1670.1 L604.0 1668.3 L605.5 1666.5 L607.0 1664.7 L608.5 1662.9 L610.0 1661.1 L611.5 1659.3 L613.0 1657.5 L614.5 1655.7 L616.0 1653.9 L617.5 1652.1 L619.0 1650.3 L620.5 1648.7 L622.0 1647.2 L623.5 1645.7 L625.0 1644.2 L626.5 1642.7 L628.0 1641.2 L629.5 1639.7 L631.0 1638.2 L632.5 1636.7 L634.0 1635.2 L635.5 1633.7 L637.0 1632.2 L638.5 1630.7 L640.0 1629.2 L641.5 1627.7 L643.0 1626.2 L644.5 1624.7 L646.0 1623.2 L647.5 1621.7 L649.0 1620.2 L650.5 1618.7 L652.0 1617.2 L653.5 1615.7 L655.0 1614.2 L656.5 1612.7 L658.0 1611.2 L659.5 1609.7 L661.0 1608.3 L662.5 1607.0 L664.0 1605.6 L665.5 1604.3 L667.0 1602.9 L668.5 1601.6 L670.0 1600.2 L671.5 1598.9 L673.0 1597.5 L674.5 1596.2 L676.0 1594.8 L677.5 1593.5 L679.0 1592.1 L680.5 1590.9 L682.0 1589.7 L683.5 1588.5 L685.0 1587.3 L686.5 1586.1 L688.0 1584.9 L689.5 1583.7 L691.0 1582.5 L692.5 1581.3 L694.0 1580.1 L695.5 1578.9 L697.0 1577.7 L698.5 1576.5 L700.0 1575.1 L701.5 1573.2 L703.0 1571.4 L704.5 1569.6 L706.0 1567.8 L707.5 1565.9 L709.0 1564.1 L710.5 1562.3 L712.0 1560.5 L713.5 1558.6 L715.0 1556.8 L716.5 1555.0 L718.0 1553.2 L719.5 1551.4 L721.0 1549.5 L722.5 1547.7 L724.0 1545.9 L725.5 1544.1 L727.0 1542.2 L728.5 1540.4 L730.0 1538.6 L731.5 1536.8 L733.0 1534.9 L734.5 1533.1 L736.0 1531.3 L737.5 1529.5 L739.0 1527.7 L740.5 1525.8 L742.0 1524.0 L743.5 1522.2 L745.0 1520.4 L746.5 1518.5 L748.0 1516.7 L749.5 1514.9 L751.0 1513.4 L752.5 1511.9 L754.0 1510.4 L755.5 1508.9 L757.0 1507.4 L758.5 1505.9 L760.0 1504.4 L761.5 1502.9 L763.0 1501.4 L764.5 1499.9 L766.0 1498.4 L767.5 1496.3 L769.0 1494.2 L770.5 1492.1 L772.0 1490.0 L773.5 1487.9 L775.0 1485.8 L776.5 1483.7 L778.0 1481.6 L779.5 1479.5 L781.0 1477.4 L782.5 1475.3 L784.0 1473.5 L785.5 1471.7 L787.0 1469.9 L788.5 1468.1 L790.0 1466.3 L791.5 1464.5 L793.0 1462.7 L794.5 1460.9 L796.0 1459.1 L797.5 1457.3 L799.0 1455.5 L800.5 1453.6 L802.0 1451.8 L803.5 1450.0 L805.0 1448.2 L806.5 1446.4 L808.0 1444.6 L809.5 1442.8 L811.0 1441.0 L812.5 1439.1 L814.0 1437.3 L815.5 1435.4 L817.0 1433.6 L818.5 1431.8 L820.0 1429.8 L821.5 1427.6 L823.0 1424.7 L824.5 1420.8 L826.0 1419.2 L827.5 1419.7 L829.0 1419.2 L830.5 1416.6 L832.0 1413.7 L833.5 1410.7 L835.0 1407.7 L836.5 1404.9 L838.0 1403.9 L839.5 1402.9 L841.0 1401.8 L842.5 1400.8 L844.0 1399.7 L845.5 1398.6 L847.0 1397.5 L848.5 1396.3 L850.0 1395.2 L851.5 1394.1 L853.0 1393.0 L854.5 1392.1 L856.0 1391.2 L857.5 1390.2 L859.0 1389.3 L860.5 1388.3 L862.0 1387.3 L863.5 1386.3 L865.0 1385.2 L866.5 1384.1 L868.0 1383.1 L869.5 1381.9 L871.0 1380.8 L872.5 1379.6 L874.0 1378.4 L875.5 1377.2 L877.0 1376.0 L878.5 1374.6 L880.0 1373.1 L881.5 1371.7 L883.0 1370.3 L884.5 1368.9 L886.0 1367.6 L887.5 1366.2 L889.0 1364.9 L890.5 1363.5 L892.0 1362.2 L893.5 1360.8 L895.0 1359.5 L896.5 1358.2 L898.0 1357.0 L899.5 1355.8 L901.0 1354.6 L902.5 1353.4 L904.0 1352.2 L905.5 1351.0 L907.0 1349.8 L908.5 1348.5 L910.0 1347.2 L911.5 1345.9 L913.0 1344.6 L914.5 1343.3 L916.0 1342.0 L917.5 1340.7 L919.0 1339.4 L920.5 1338.1 L922.0 1336.8 L923.5 1335.5 L925.0 1334.3 L926.5 1333.1 L928.0 1331.9 L929.5 1330.7 L931.0 1329.5 L932.5 1328.3 L934.0 1327.1 L935.5 1325.9 L937.0 1324.7 L938.5 1323.5 L940.0 1322.2 L941.5 1320.9 L943.0 1319.5 L944.5 1318.2 L946.0 1316.8 L947.5 1315.5 L949.0 1314.1 L950.5 1312.8 L952.0 1311.6 L953.5 1310.3 L955.0 1309.1 L956.5 1307.9 L958.0 1306.7 L959.5 1305.4 L961.0 1304.2 L962.5 1303.0 L964.0 1301.7 L965.5 1300.5 L967.0 1299.2 L968.5 1298.0 L970.0 1296.7 L971.5 1295.5 L973.0 1294.3 L974.5 1293.1 L976.0 1291.9 L977.5 1290.7 L979.0 1289.5 L980.5 1288.3 L982.0 1287.1 L983.5 1285.9 L985.0 1284.7 L986.5 1283.5 L988.0 1282.3 L989.5 1281.2 L991.0 1280.1 L992.5 1279.0 L994.0 1277.9 L995.5 1276.8 L997.0 1275.7 L998.5 1274.6 L1000.0 1273.5 L1001.5 1272.4 L1003.0 1271.3 L1004.5 1270.2 L1006.0 1270.2 L1007.5 1270.2 L1009.0 1270.2 L1010.5 1270.2 L1012.0 1270.2 L1013.5 1270.2 L1015.0 1270.2" fill="none" stroke="#b865cc" stroke-opacity="0.55" stroke-width="1.3"/>
<path d="M184.6 1839.4 L203.2 1841.7 L218.7 1838.6 L234.2 1829.4 L249.7 1821.6 L273.0 1812.3 L304.0 1804.6 L327.2 1798.4 L350.5 1792.2 L381.5 1786.0 L412.5 1776.7 L440.0 1769.3 L479.9 1751.3 L519.8 1733.4 L549.8 1719.4 L579.7 1695.4 L599.7 1673.5 L619.6 1649.5 L639.6 1629.6 L659.6 1609.6 L679.5 1591.7 L699.5 1575.7 L749.6 1514.8 L766.1 1498.3 L782.6 1475.1 L799.2 1455.3 L815.7 1435.5 L828.9 1420.6 L836.3 1405.3 L843.9 1399.8 L852.5 1393.3 L861.2 1387.9 L868.8 1382.5 L876.4 1376.5 L885.1 1368.4 L895.9 1358.6 L906.8 1350.0 L923.0 1335.9 L939.3 1322.8 L950.2 1313.1 L962.1 1303.3 L971.8 1295.2 L988.1 1282.2 L1004.4 1270.2" fill="none" stroke="#7d5d8a" stroke-width="2.2"/>
<path d="M555.9 1861.8 L570.0 1830.0 L585.7 1800.0 L599.7 1759.3 L615.6 1719.4 L629.6 1695.4 L649.6 1663.5 L669.5 1639.6 L689.5 1621.6 L709.5 1603.6 L729.4 1583.7 L740.0 1571.7 L752.9 1560.0 L766.1 1547.9 L777.7 1531.3 L789.3 1508.2 L799.2 1485.0 L812.4 1456.9 L825.6 1435.5 L837.2 1420.6 L848.8 1413.1 L865.3 1409.0 L881.8 1407.4 L891.7 1405.7 L906.6 1401.6 L923.1 1397.4 L939.7 1393.3 L956.2 1390.0 L972.7 1388.8 L987.6 1388.3" fill="none" stroke="#f7ad6c" stroke-width="1.6"/>
<path d="M375.3 1861.9 L397.0 1855.7 L428.0 1854.1 L480.0 1854.1 L515.0 1857.0 L528.7 1855.0 L545.0 1835.0 L560.0 1815.0 L580.3 1799.4 L599.7 1789.3 L609.7 1782.3 L623.6 1783.3 L639.6 1787.3 L655.6 1791.3 L673.5 1799.2 L694.2 1810.3 L710.0 1830.0 L721.3 1861.8" fill="none" stroke="#fbdc6a" stroke-width="1.6"/>
<path d="M721.3 1861.8 L740.0 1808.0 L760.2 1755.0 L790.0 1690.0 L813.4 1645.0 L850.0 1600.0 L889.4 1558.0 L898.3 1531.3 L914.9 1488.3 L931.4 1452.0 L951.2 1420.0 L961.0 1403.6 L971.8 1387.4 L987.6 1368.9" fill="none" stroke="#6bbcbe" stroke-width="1.6"/>
<line x1="242.00" y1="1826.00" x2="242.00" y2="1778.00" stroke="#5b97cf" stroke-width="1.60"/>
<line x1="252.80" y1="1820.00" x2="252.80" y2="1809.00" stroke="#5b97cf" stroke-width="1.60"/>
<line x1="256.70" y1="1820.00" x2="256.70" y2="1810.00" stroke="#5b97cf" stroke-width="1.60"/>
<line x1="262.90" y1="1815.00" x2="262.90" y2="1807.00" stroke="#5b97cf" stroke-width="1.60"/>
<line x1="410.90" y1="1778.00" x2="410.90" y2="1769.00" stroke="#5b97cf" stroke-width="1.60"/>
<line x1="422.50" y1="1775.00" x2="422.50" y2="1762.70" stroke="#5b97cf" stroke-width="1.60"/>
<line x1="458.40" y1="1744.00" x2="458.40" y2="1731.00" stroke="#5b97cf" stroke-width="1.60"/>
<line x1="487.90" y1="1747.00" x2="487.90" y2="1724.00" stroke="#5b97cf" stroke-width="1.60"/>
<line x1="501.90" y1="1739.40" x2="501.90" y2="1665.50" stroke="#5b97cf" stroke-width="1.60"/>
<line x1="505.90" y1="1737.00" x2="505.90" y2="1665.00" stroke="#5b97cf" stroke-width="1.60"/>
<line x1="528.80" y1="1725.40" x2="528.80" y2="1658.50" stroke="#5b97cf" stroke-width="1.60"/>
<line x1="554.20" y1="1715.40" x2="554.20" y2="1648.50" stroke="#5b97cf" stroke-width="1.60"/>
<line x1="594.10" y1="1679.50" x2="594.10" y2="1649.50" stroke="#5b97cf" stroke-width="1.60"/>
<line x1="703.50" y1="1567.70" x2="703.50" y2="1535.80" stroke="#5b97cf" stroke-width="1.60"/>
<line x1="706.50" y1="1567.70" x2="706.50" y2="1553.70" stroke="#5b97cf" stroke-width="1.60"/>
<line x1="718.40" y1="1553.70" x2="718.40" y2="1521.80" stroke="#5b97cf" stroke-width="1.60"/>
<path d="M184.6 1823.8 L186.2 1833.7 L187.8 1839.2 L189.4 1834.8 L191.0 1831.8 L192.6 1838.1 L194.2 1841.1 L195.8 1844.3 L197.4 1833.8 L199.0 1833.3 L200.6 1842.1 L202.2 1840.9 L203.8 1845.3 L205.4 1842.2 L207.0 1836.7 L208.6 1835.3 L210.2 1845.7 L211.8 1833.6 L213.4 1830.1 L215.0 1827.2 L216.6 1831.5 L218.2 1830.4 L219.8 1826.7 L221.4 1826.4 L223.0 1826.3 L224.6 1826.6 L226.2 1826.8 L227.8 1819.8 L229.4 1807.6 L231.0 1815.6 L232.6 1805.6 L234.2 1797.1 L235.8 1780.9 L237.4 1752.7 L239.0 1718.7 L240.6 1692.7 L242.2 1693.6 L243.8 1702.2 L245.4 1747.1 L247.0 1765.5 L248.6 1787.1 L250.2 1795.9 L251.8 1790.8 L253.4 1782.2 L255.0 1787.6 L256.6 1787.9 L258.2 1794.4 L259.8 1792.4 L261.4 1800.8 L263.0 1795.8 L264.6 1800.1 L266.2 1799.5 L267.8 1802.7 L269.4 1799.2 L271.0 1803.9 L272.6 1801.5 L274.2 1805.7 L275.8 1804.6 L277.4 1803.4 L279.0 1801.0 L280.6 1805.0 L282.2 1804.2 L283.8 1807.3 L285.4 1802.0 L287.0 1803.6 L288.6 1802.7 L290.2 1801.3 L291.8 1800.4 L293.4 1799.9 L295.0 1797.5 L296.6 1796.0 L298.2 1797.2 L299.8 1799.4 L301.4 1801.4 L303.0 1799.6 L304.6 1799.3 L306.2 1797.9 L307.8 1797.1 L309.4 1795.1 L311.0 1796.0 L312.6 1798.6 L314.2 1793.7 L315.8 1793.3 L317.4 1799.9 L319.0 1794.8 L320.6 1796.1 L322.2 1795.2 L323.8 1789.3 L325.4 1798.3 L327.0 1797.8 L328.6 1794.1 L330.2 1800.4 L331.8 1803.9 L333.4 1800.0 L335.0 1795.0 L336.6 1795.9 L338.2 1797.5 L339.8 1796.1 L341.4 1794.1 L343.0 1797.4 L344.6 1792.5 L346.2 1797.2 L347.8 1798.7 L349.4 1795.6 L351.0 1792.7 L352.6 1796.6 L354.2 1801.2 L355.8 1803.6 L357.4 1807.8 L359.0 1800.3 L360.6 1799.7 L362.2 1798.2 L363.8 1793.4 L365.4 1785.7 L367.0 1792.1 L368.6 1794.7 L370.2 1790.6 L371.8 1784.7 L373.4 1785.0 L375.0 1785.5 L376.6 1789.3 L378.2 1783.9 L379.8 1781.3 L381.4 1783.8 L383.0 1778.0 L384.6 1781.4 L386.2 1773.2 L387.8 1772.1 L389.4 1773.6 L391.0 1773.5 L392.6 1769.6 L394.2 1766.7 L395.8 1759.3 L397.4 1759.6 L399.0 1755.9 L400.6 1752.1 L402.2 1751.0 L403.8 1744.6 L405.4 1743.5 L407.0 1741.7 L408.6 1744.6 L410.2 1750.2 L411.8 1755.8 L413.4 1758.3 L415.0 1754.2 L416.6 1754.2 L418.2 1750.7 L419.8 1757.7 L421.4 1755.4 L423.0 1749.0 L424.6 1745.9 L426.2 1741.7 L427.8 1743.1 L429.4 1738.6 L431.0 1738.9 L432.6 1729.1 L434.2 1722.1 L435.8 1720.0 L437.4 1731.1 L439.0 1730.4 L440.6 1726.3 L442.2 1728.8 L443.8 1722.1 L445.4 1729.8 L447.0 1722.1 L448.6 1714.2 L450.2 1705.9 L451.8 1694.4 L453.4 1696.9 L455.0 1690.8 L456.6 1685.8 L458.2 1657.1 L459.8 1638.7 L461.4 1613.0 L463.0 1583.6 L464.6 1570.7 L466.2 1580.4 L467.8 1601.1 L469.4 1614.4 L471.0 1624.6 L472.6 1638.2 L474.2 1650.4 L475.8 1657.4 L477.4 1665.3 L479.0 1674.5 L480.6 1679.1 L482.2 1682.4 L483.8 1680.3 L485.4 1678.3 L487.0 1675.6 L488.6 1674.8 L490.2 1672.4 L491.8 1670.6 L493.4 1671.5 L495.0 1670.8 L496.6 1669.0 L498.2 1668.1 L499.8 1665.8 L501.4 1661.7 L503.0 1659.2 L504.6 1655.6 L506.2 1651.8 L507.8 1648.0 L509.4 1644.5 L511.0 1642.1 L512.6 1638.5 L514.2 1633.8 L515.8 1630.2 L517.4 1623.7 L519.0 1618.8 L520.6 1611.9 L522.2 1600.4 L523.8 1589.8 L525.4 1582.6 L527.0 1566.9 L528.6 1552.7 L530.2 1537.9 L531.8 1530.5 L533.4 1522.3 L535.0 1515.5 L536.6 1514.8 L538.2 1517.2 L539.8 1521.7 L541.4 1526.4 L543.0 1528.9 L544.6 1529.5 L546.2 1530.2 L547.8 1528.6 L549.4 1537.6 L551.0 1544.1 L552.6 1556.2 L554.2 1568.8 L555.8 1579.2 L557.4 1584.4 L559.0 1588.6 L560.6 1593.6 L562.2 1594.6 L563.8 1593.5 L565.4 1592.5 L567.0 1593.7 L568.6 1590.2 L570.2 1584.9 L571.8 1580.9 L573.4 1576.5 L575.0 1572.2 L576.6 1567.3 L578.2 1562.7 L579.8 1564.6 L581.4 1571.0 L583.0 1578.8 L584.6 1586.4 L586.2 1596.6 L587.8 1607.1 L589.4 1618.0 L591.0 1624.4 L592.6 1628.8 L594.2 1634.9 L595.8 1639.9 L597.4 1640.2 L599.0 1641.4 L600.6 1642.4 L602.2 1643.5 L603.8 1646.2 L605.4 1642.5 L607.0 1643.3 L608.6 1642.0 L610.2 1641.0 L611.8 1640.7 L613.4 1640.7 L615.0 1638.2 L616.6 1636.4 L618.2 1634.4 L619.8 1633.2 L621.4 1632.6 L623.0 1629.8 L624.6 1627.7 L626.2 1626.3 L627.8 1625.1 L629.4 1623.5 L631.0 1624.4 L632.6 1622.4 L634.2 1620.5 L635.8 1620.7 L637.4 1617.5 L639.0 1617.4 L640.6 1616.1 L642.2 1612.7 L643.8 1611.3 L645.4 1610.6 L647.0 1610.9 L648.6 1609.5 L650.2 1605.2 L651.8 1605.2 L653.4 1601.9 L655.0 1599.9 L656.6 1597.3 L658.2 1594.7 L659.8 1590.5 L661.4 1588.4 L663.0 1585.4 L664.6 1579.0 L666.2 1570.0 L667.8 1551.1 L669.4 1492.8 L671.0 1452.1 L672.6 1444.6 L674.2 1448.3 L675.8 1469.3 L677.4 1489.4 L679.0 1500.6 L680.6 1514.1 L682.2 1523.9 L683.8 1530.0 L685.4 1539.0 L687.0 1538.0 L688.6 1536.6 L690.2 1535.1 L691.8 1533.3 L693.4 1533.0 L695.0 1531.5 L696.6 1530.4 L698.2 1531.8 L699.8 1530.6 L701.4 1532.9 L703.0 1531.0 L704.6 1527.7 L706.2 1523.4 L707.8 1513.0 L709.4 1506.6 L711.0 1496.7 L712.6 1490.2 L714.2 1484.4 L715.8 1480.7 L717.4 1490.0 L719.0 1496.8 L720.6 1507.4 L722.2 1508.1 L723.8 1512.3 L725.4 1519.2 L727.0 1517.4 L728.6 1518.7 L730.2 1521.4 L731.8 1521.3 L733.4 1513.1 L735.0 1517.5 L736.6 1519.8 L738.2 1516.9 L739.8 1512.2 L741.4 1510.1 L743.0 1509.6 L744.6 1506.3 L746.2 1507.2 L747.8 1506.3 L749.4 1505.3 L751.0 1507.4 L752.6 1502.9 L754.2 1498.8 L755.8 1503.8 L757.4 1497.2 L759.0 1497.2 L760.6 1496.5 L762.2 1494.5 L763.8 1491.4 L765.4 1491.7 L767.0 1495.8 L768.6 1487.2 L770.2 1486.4 L771.8 1487.5 L773.4 1484.6 L775.0 1482.8 L776.6 1481.1 L778.2 1472.4 L779.8 1473.1 L781.4 1473.6 L783.0 1472.2 L784.6 1470.9 L786.2 1465.7 L787.8 1460.9 L789.4 1458.9 L791.0 1455.7 L792.6 1454.2 L794.2 1454.0 L795.8 1450.4 L797.4 1448.0 L799.0 1446.7 L800.6 1446.5 L802.2 1441.8 L803.8 1435.9 L805.4 1430.3 L807.0 1430.5 L808.6 1430.0 L810.2 1430.6 L811.8 1424.5 L813.4 1424.6 L815.0 1421.3 L816.6 1421.9 L818.2 1415.3 L819.8 1412.9 L821.4 1412.9 L823.0 1414.3 L824.6 1408.1 L826.2 1406.8 L827.8 1410.0 L829.4 1404.4 L831.0 1406.6 L832.6 1402.4 L834.2 1401.8 L835.8 1395.9 L837.4 1400.5 L839.0 1396.1 L840.6 1393.6 L842.2 1399.3 L843.8 1394.5 L845.4 1397.0 L847.0 1391.6 L848.6 1388.7 L850.2 1388.7 L851.8 1391.2 L853.4 1386.0 L855.0 1385.9 L856.6 1384.7 L858.2 1380.0 L859.8 1381.2 L861.4 1378.4 L863.0 1375.2 L864.6 1378.9 L866.2 1377.1 L867.8 1374.3 L869.4 1371.0 L871.0 1368.0 L872.6 1373.6 L874.2 1371.9 L875.8 1367.7 L877.4 1371.3 L879.0 1367.6 L880.6 1370.9 L882.2 1371.0 L883.8 1370.7 L885.4 1369.2 L887.0 1367.9 L888.6 1363.5 L890.2 1363.5 L891.8 1360.8 L893.4 1359.1 L895.0 1357.9 L896.6 1356.7 L898.2 1357.5 L899.8 1346.7 L901.4 1351.4 L903.0 1348.3 L904.6 1352.5 L906.2 1347.8 L907.8 1340.0 L909.4 1343.4 L911.0 1339.5 L912.6 1341.6 L914.2 1335.1 L915.8 1335.8 L917.4 1334.1 L919.0 1332.6 L920.6 1329.8 L922.2 1325.2 L923.8 1328.8 L925.4 1327.8 L927.0 1323.0 L928.6 1318.5 L930.2 1318.8 L931.8 1317.1 L933.4 1312.8 L935.0 1311.6 L936.6 1313.7 L938.2 1306.4 L939.8 1307.0 L941.4 1304.1 L943.0 1307.3 L944.6 1307.5 L946.2 1307.4 L947.8 1308.6 L949.4 1315.0 L951.0 1310.0 L952.6 1309.4 L954.2 1314.1 L955.8 1307.9 L957.4 1303.1 L959.0 1307.4 L960.6 1303.4 L962.2 1308.9 L963.8 1301.2 L965.4 1302.1 L967.0 1298.9 L968.6 1302.3 L970.2 1298.9 L971.8 1300.4 L973.4 1299.2 L975.0 1298.1 L976.6 1301.3 L978.2 1300.7 L979.8 1297.4 L981.4 1293.9 L983.0 1292.2 L984.6 1294.2 L986.2 1297.6 L987.8 1290.0 L988.1 1290.8" fill="none" stroke="#000" stroke-width="6.5" stroke-linejoin="round" stroke-linecap="round"/>
<line x1="193.20" y1="1838.56" x2="193.20" y2="1818.50" stroke="#7cc68a" stroke-width="2.20"/>

<line x1="213.30" y1="1833.70" x2="213.30" y2="1804.60" stroke="#7cc68a" stroke-width="2.20"/>
<rect x="211.1" y="1809.8" width="4.4" height="4.4" fill="none" stroke="#111" stroke-width="1.4"/><rect x="211.1" y="1817.8" width="4.4" height="4.4" fill="none" stroke="#111" stroke-width="1.4"/>
<line x1="242.00" y1="1686.83" x2="242.00" y2="1681.40" stroke="#7cc68a" stroke-width="2.20"/>

<line x1="253.60" y1="1782.04" x2="253.60" y2="1773.60" stroke="#7cc68a" stroke-width="2.20"/>

<line x1="286.90" y1="1802.25" x2="286.90" y2="1736.40" stroke="#7cc68a" stroke-width="2.20"/>
<rect x="284.7" y="1746.8" width="4.4" height="4.4" fill="none" stroke="#111" stroke-width="1.4"/><rect x="284.7" y="1759.8" width="4.4" height="4.4" fill="none" stroke="#111" stroke-width="1.4"/><rect x="284.7" y="1773.8" width="4.4" height="4.4" fill="none" stroke="#111" stroke-width="1.4"/><rect x="284.7" y="1786.8" width="4.4" height="4.4" fill="none" stroke="#111" stroke-width="1.4"/>
<line x1="325.70" y1="1792.69" x2="325.70" y2="1767.40" stroke="#7cc68a" stroke-width="2.20"/>

<line x1="341.20" y1="1794.01" x2="341.20" y2="1776.70" stroke="#7cc68a" stroke-width="2.20"/>

<line x1="362.90" y1="1795.20" x2="362.90" y2="1682.10" stroke="#7cc68a" stroke-width="2.20"/>
<rect x="360.7" y="1695.8" width="4.4" height="4.4" fill="none" stroke="#111" stroke-width="1.4"/><rect x="360.7" y="1704.8" width="4.4" height="4.4" fill="none" stroke="#111" stroke-width="1.4"/><rect x="360.7" y="1722.8" width="4.4" height="4.4" fill="none" stroke="#111" stroke-width="1.4"/><rect x="360.7" y="1731.8" width="4.4" height="4.4" fill="none" stroke="#111" stroke-width="1.4"/><rect x="360.7" y="1742.8" width="4.4" height="4.4" fill="none" stroke="#111" stroke-width="1.4"/><rect x="360.7" y="1754.8" width="4.4" height="4.4" fill="none" stroke="#111" stroke-width="1.4"/><rect x="360.7" y="1767.8" width="4.4" height="4.4" fill="none" stroke="#111" stroke-width="1.4"/>
<line x1="366.00" y1="1790.59" x2="366.00" y2="1736.40" stroke="#7cc68a" stroke-width="2.20"/>

<line x1="411.70" y1="1754.27" x2="411.70" y2="1628.70" stroke="#7cc68a" stroke-width="2.20"/>
<rect x="409.5" y="1642.8" width="4.4" height="4.4" fill="none" stroke="#111" stroke-width="1.4"/><rect x="409.5" y="1657.8" width="4.4" height="4.4" fill="none" stroke="#111" stroke-width="1.4"/><rect x="409.5" y="1694.8" width="4.4" height="4.4" fill="none" stroke="#111" stroke-width="1.4"/><rect x="409.5" y="1728.8" width="4.4" height="4.4" fill="none" stroke="#111" stroke-width="1.4"/>
<line x1="422.50" y1="1750.19" x2="422.50" y2="1700.70" stroke="#7cc68a" stroke-width="2.20"/>
<rect x="420.3" y="1707.8" width="4.4" height="4.4" fill="none" stroke="#111" stroke-width="1.4"/><rect x="420.3" y="1719.8" width="4.4" height="4.4" fill="none" stroke="#111" stroke-width="1.4"/><rect x="420.3" y="1730.8" width="4.4" height="4.4" fill="none" stroke="#111" stroke-width="1.4"/>
<line x1="501.90" y1="1661.47" x2="501.90" y2="1589.70" stroke="#7cc68a" stroke-width="2.20"/>
<rect x="499.7" y="1599.8" width="4.4" height="4.4" fill="none" stroke="#111" stroke-width="1.4"/><rect x="499.7" y="1607.8" width="4.4" height="4.4" fill="none" stroke="#111" stroke-width="1.4"/><rect x="499.7" y="1617.8" width="4.4" height="4.4" fill="none" stroke="#111" stroke-width="1.4"/><rect x="499.7" y="1627.8" width="4.4" height="4.4" fill="none" stroke="#111" stroke-width="1.4"/><rect x="499.7" y="1637.8" width="4.4" height="4.4" fill="none" stroke="#111" stroke-width="1.4"/>
<line x1="504.90" y1="1655.47" x2="504.90" y2="1338.00" stroke="#7cc68a" stroke-width="2.20"/>
<rect x="502.7" y="1344.8" width="4.4" height="4.4" fill="none" stroke="#111" stroke-width="1.4"/><rect x="502.7" y="1366.8" width="4.4" height="4.4" fill="none" stroke="#111" stroke-width="1.4"/><rect x="502.7" y="1444.8" width="4.4" height="4.4" fill="none" stroke="#111" stroke-width="1.4"/><rect x="502.7" y="1466.8" width="4.4" height="4.4" fill="none" stroke="#111" stroke-width="1.4"/><rect x="502.7" y="1512.8" width="4.4" height="4.4" fill="none" stroke="#111" stroke-width="1.4"/><rect x="502.7" y="1545.8" width="4.4" height="4.4" fill="none" stroke="#111" stroke-width="1.4"/><rect x="502.7" y="1579.8" width="4.4" height="4.4" fill="none" stroke="#111" stroke-width="1.4"/><rect x="502.7" y="1612.8" width="4.4" height="4.4" fill="none" stroke="#111" stroke-width="1.4"/><rect x="502.7" y="1627.8" width="4.4" height="4.4" fill="none" stroke="#111" stroke-width="1.4"/>
<line x1="554.80" y1="1572.42" x2="554.80" y2="1549.70" stroke="#7cc68a" stroke-width="2.20"/>
<rect x="552.6" y="1550.8" width="4.4" height="4.4" fill="none" stroke="#111" stroke-width="1.4"/><rect x="552.6" y="1559.8" width="4.4" height="4.4" fill="none" stroke="#111" stroke-width="1.4"/>
<line x1="593.70" y1="1632.93" x2="593.70" y2="1575.70" stroke="#7cc68a" stroke-width="2.20"/>
<rect x="591.5" y="1574.8" width="4.4" height="4.4" fill="none" stroke="#111" stroke-width="1.4"/><rect x="591.5" y="1581.8" width="4.4" height="4.4" fill="none" stroke="#111" stroke-width="1.4"/><rect x="591.5" y="1594.8" width="4.4" height="4.4" fill="none" stroke="#111" stroke-width="1.4"/><rect x="591.5" y="1605.8" width="4.4" height="4.4" fill="none" stroke="#111" stroke-width="1.4"/><rect x="591.5" y="1622.8" width="4.4" height="4.4" fill="none" stroke="#111" stroke-width="1.4"/>
<line x1="619.60" y1="1633.61" x2="619.60" y2="1562.70" stroke="#7cc68a" stroke-width="2.20"/>
<rect x="617.4" y="1563.8" width="4.4" height="4.4" fill="none" stroke="#111" stroke-width="1.4"/><rect x="617.4" y="1572.8" width="4.4" height="4.4" fill="none" stroke="#111" stroke-width="1.4"/><rect x="617.4" y="1589.8" width="4.4" height="4.4" fill="none" stroke="#111" stroke-width="1.4"/><rect x="617.4" y="1597.8" width="4.4" height="4.4" fill="none" stroke="#111" stroke-width="1.4"/><rect x="617.4" y="1609.8" width="4.4" height="4.4" fill="none" stroke="#111" stroke-width="1.4"/>
<line x1="648.60" y1="1608.35" x2="648.60" y2="1561.70" stroke="#7cc68a" stroke-width="2.20"/>
<rect x="646.4" y="1561.8" width="4.4" height="4.4" fill="none" stroke="#111" stroke-width="1.4"/><rect x="646.4" y="1569.8" width="4.4" height="4.4" fill="none" stroke="#111" stroke-width="1.4"/><rect x="646.4" y="1587.8" width="4.4" height="4.4" fill="none" stroke="#111" stroke-width="1.4"/>
<line x1="703.50" y1="1531.14" x2="703.50" y2="1485.90" stroke="#7cc68a" stroke-width="2.20"/>
<rect x="701.3" y="1487.8" width="4.4" height="4.4" fill="none" stroke="#111" stroke-width="1.4"/><rect x="701.3" y="1497.8" width="4.4" height="4.4" fill="none" stroke="#111" stroke-width="1.4"/><rect x="701.3" y="1507.8" width="4.4" height="4.4" fill="none" stroke="#111" stroke-width="1.4"/>
<line x1="718.50" y1="1494.38" x2="718.50" y2="1298.30" stroke="#7cc68a" stroke-width="2.20"/>
<rect x="716.3" y="1338.8" width="4.4" height="4.4" fill="none" stroke="#111" stroke-width="1.4"/><rect x="716.3" y="1401.8" width="4.4" height="4.4" fill="none" stroke="#111" stroke-width="1.4"/><rect x="716.3" y="1433.8" width="4.4" height="4.4" fill="none" stroke="#111" stroke-width="1.4"/><rect x="716.3" y="1453.8" width="4.4" height="4.4" fill="none" stroke="#111" stroke-width="1.4"/><rect x="716.3" y="1469.8" width="4.4" height="4.4" fill="none" stroke="#111" stroke-width="1.4"/>
<line x1="757.50" y1="1499.77" x2="757.50" y2="1468.00" stroke="#7cc68a" stroke-width="2.20"/>
<rect x="755.3" y="1467.8" width="4.4" height="4.4" fill="none" stroke="#111" stroke-width="1.4"/><rect x="755.3" y="1474.8" width="4.4" height="4.4" fill="none" stroke="#111" stroke-width="1.4"/>
<line x1="786.30" y1="1464.51" x2="786.30" y2="1353.60" stroke="#7cc68a" stroke-width="2.20"/>
<rect x="784.1" y="1365.8" width="4.4" height="4.4" fill="none" stroke="#111" stroke-width="1.4"/><rect x="784.1" y="1371.8" width="4.4" height="4.4" fill="none" stroke="#111" stroke-width="1.4"/><rect x="784.1" y="1386.8" width="4.4" height="4.4" fill="none" stroke="#111" stroke-width="1.4"/><rect x="784.1" y="1392.8" width="4.4" height="4.4" fill="none" stroke="#111" stroke-width="1.4"/><rect x="784.1" y="1414.8" width="4.4" height="4.4" fill="none" stroke="#111" stroke-width="1.4"/><rect x="784.1" y="1429.8" width="4.4" height="4.4" fill="none" stroke="#111" stroke-width="1.4"/><rect x="784.1" y="1437.8" width="4.4" height="4.4" fill="none" stroke="#111" stroke-width="1.4"/>
<line x1="818.20" y1="1417.10" x2="818.20" y2="1379.30" stroke="#7cc68a" stroke-width="2.20"/>
<rect x="816.0" y="1383.8" width="4.4" height="4.4" fill="none" stroke="#111" stroke-width="1.4"/><rect x="816.0" y="1389.8" width="4.4" height="4.4" fill="none" stroke="#111" stroke-width="1.4"/><rect x="816.0" y="1394.8" width="4.4" height="4.4" fill="none" stroke="#111" stroke-width="1.4"/>
<line x1="835.70" y1="1401.10" x2="835.70" y2="1388.50" stroke="#7cc68a" stroke-width="2.20"/>
<rect x="833.5" y="1387.3" width="4.4" height="4.4" fill="none" stroke="#111" stroke-width="1.4"/><rect x="833.5" y="1392.8" width="4.4" height="4.4" fill="none" stroke="#111" stroke-width="1.4"/>
<line x1="851.50" y1="1389.24" x2="851.50" y2="1298.40" stroke="#7cc68a" stroke-width="2.20"/>
<rect x="849.3" y="1306.0" width="4.4" height="4.4" fill="none" stroke="#111" stroke-width="1.4"/><rect x="849.3" y="1344.5" width="4.4" height="4.4" fill="none" stroke="#111" stroke-width="1.4"/><rect x="849.3" y="1370.0" width="4.4" height="4.4" fill="none" stroke="#111" stroke-width="1.4"/><rect x="849.3" y="1376.5" width="4.4" height="4.4" fill="none" stroke="#111" stroke-width="1.4"/>
<line x1="922.50" y1="1331.44" x2="922.50" y2="1305.00" stroke="#7cc68a" stroke-width="2.20"/>
<rect x="920.3" y="1303.8" width="4.4" height="4.4" fill="none" stroke="#111" stroke-width="1.4"/><rect x="920.3" y="1310.3" width="4.4" height="4.4" fill="none" stroke="#111" stroke-width="1.4"/>
<path d="M184.6 1829.4 L189.3 1837.1 L195.5 1839.4 L203.2 1838.6 L211.0 1835.5 L218.7 1829.4 L226.5 1821.6 L232.7 1809.2 L235.8 1786.0 L238.1 1739.5 L240.4 1693.0 L242.0 1686.8 L243.5 1693.0 L245.1 1739.5 L248.2 1786.0 L251.3 1798.4 L252.8 1778.2 L254.4 1786.0 L257.5 1792.2 L260.6 1795.3 L266.8 1799.9 L276.1 1803.0 L285.4 1803.0 L291.6 1799.9 L304.0 1796.8 L311.7 1793.7 L316.4 1795.3 L324.1 1792.2 L328.8 1793.7 L332.6 1806.1 L335.0 1795.3 L342.7 1793.7 L350.5 1796.8 L358.2 1804.6 L362.9 1795.3 L366.0 1790.6 L373.7 1786.0 L381.5 1779.8 L389.2 1772.0 L397.0 1762.7 L403.2 1747.2 L406.3 1739.5 L409.4 1747.2 L412.5 1756.5 L420.2 1753.4 L427.9 1742.6 L434.1 1724.0 L437.2 1727.1 L440.0 1731.4 L446.0 1723.4 L452.0 1699.4 L456.0 1693.5 L460.0 1639.6 L463.0 1579.7 L465.0 1572.7 L467.9 1599.6 L473.9 1649.5 L479.9 1677.5 L482.9 1681.5 L487.9 1675.5 L499.9 1665.5 L507.9 1649.5 L513.9 1635.6 L519.8 1615.6 L525.8 1579.7 L529.8 1539.8 L533.8 1519.8 L536.8 1513.8 L541.8 1527.8 L547.8 1529.8 L551.8 1549.7 L555.8 1579.7 L561.8 1595.6 L567.7 1591.7 L573.7 1575.7 L578.7 1561.7 L583.7 1579.7 L589.7 1619.6 L595.7 1639.6 L603.7 1645.5 L613.7 1639.6 L623.6 1629.6 L635.6 1619.6 L647.6 1609.6 L655.6 1599.6 L663.6 1585.7 L667.5 1559.7 L669.5 1489.9 L671.5 1442.0 L674.5 1449.9 L677.5 1489.9 L681.5 1519.8 L685.5 1539.8 L691.5 1533.8 L699.5 1529.8 L702.5 1534.0 L706.0 1524.0 L709.0 1508.0 L712.0 1492.0 L715.7 1479.7 L719.0 1497.0 L723.0 1513.0 L726.8 1520.0 L731.0 1519.0 L737.0 1515.0 L746.6 1507.6 L756.2 1501.0 L766.1 1491.7 L774.4 1481.7 L782.6 1471.8 L787.6 1461.9 L792.6 1453.6 L799.2 1448.7 L805.8 1427.2 L809.1 1430.5 L815.7 1422.2 L820.0 1413.4 L829.8 1408.5 L836.3 1400.4 L843.9 1395.0 L852.5 1388.5 L861.2 1383.0 L868.8 1377.6 L876.4 1371.6 L885.1 1363.5 L895.9 1353.8 L906.8 1345.1 L923.0 1331.0 L939.3 1318.0 L950.2 1308.2 L962.1 1298.4 L971.8 1290.3 L988.1 1276.7" fill="none" stroke="#5fa970" stroke-width="2.8" stroke-linejoin="round"/>
</g>
<rect x="186.2" y="1636.7" width="191.7" height="212" fill="none" stroke="#8a8a8a" stroke-width="5" stroke-dasharray="5 7"/>
<rect x="182.8" y="1298.0" width="834.8" height="565.4" fill="none" stroke="#000" stroke-width="3.6"/>
<line x1="208.50" y1="1863.40" x2="208.50" y2="1875.40" stroke="#000" stroke-width="3.00"/>
<line x1="208.50" y1="1298.00" x2="208.50" y2="1286.00" stroke="#000" stroke-width="3.00"/>
<line x1="309.51" y1="1863.40" x2="309.51" y2="1875.40" stroke="#000" stroke-width="3.00"/>
<line x1="309.51" y1="1298.00" x2="309.51" y2="1286.00" stroke="#000" stroke-width="3.00"/>
<line x1="387.86" y1="1863.40" x2="387.86" y2="1875.40" stroke="#000" stroke-width="3.00"/>
<line x1="387.86" y1="1298.00" x2="387.86" y2="1286.00" stroke="#000" stroke-width="3.00"/>
<line x1="631.25" y1="1863.40" x2="631.25" y2="1875.40" stroke="#000" stroke-width="3.00"/>
<line x1="631.25" y1="1298.00" x2="631.25" y2="1286.00" stroke="#000" stroke-width="3.00"/>
<line x1="874.63" y1="1863.40" x2="874.63" y2="1875.40" stroke="#000" stroke-width="3.00"/>
<line x1="874.63" y1="1298.00" x2="874.63" y2="1286.00" stroke="#000" stroke-width="3.00"/>
<line x1="1017.00" y1="1863.40" x2="1017.00" y2="1875.40" stroke="#000" stroke-width="3.00"/>
<line x1="1017.00" y1="1298.00" x2="1017.00" y2="1286.00" stroke="#000" stroke-width="3.00"/>
<line x1="451.88" y1="1863.40" x2="451.88" y2="1870.40" stroke="#000" stroke-width="2.00"/>
<line x1="451.88" y1="1298.00" x2="451.88" y2="1291.00" stroke="#000" stroke-width="2.00"/>
<line x1="506.01" y1="1863.40" x2="506.01" y2="1870.40" stroke="#000" stroke-width="2.00"/>
<line x1="506.01" y1="1298.00" x2="506.01" y2="1291.00" stroke="#000" stroke-width="2.00"/>
<line x1="552.90" y1="1863.40" x2="552.90" y2="1870.40" stroke="#000" stroke-width="2.00"/>
<line x1="552.90" y1="1298.00" x2="552.90" y2="1291.00" stroke="#000" stroke-width="2.00"/>
<line x1="594.25" y1="1863.40" x2="594.25" y2="1870.40" stroke="#000" stroke-width="2.00"/>
<line x1="594.25" y1="1298.00" x2="594.25" y2="1291.00" stroke="#000" stroke-width="2.00"/>
<line x1="182.80" y1="1734.90" x2="170.80" y2="1734.90" stroke="#000" stroke-width="3.00"/>
<line x1="1017.60" y1="1734.90" x2="1029.60" y2="1734.90" stroke="#000" stroke-width="3.00"/>
<line x1="182.80" y1="1411.20" x2="170.80" y2="1411.20" stroke="#000" stroke-width="3.00"/>
<line x1="1017.60" y1="1411.20" x2="1029.60" y2="1411.20" stroke="#000" stroke-width="3.00"/>
<line x1="182.80" y1="1832.34" x2="175.80" y2="1832.34" stroke="#000" stroke-width="2.00"/>
<line x1="1017.60" y1="1832.34" x2="1024.60" y2="1832.34" stroke="#000" stroke-width="2.00"/>
<line x1="182.80" y1="1806.71" x2="175.80" y2="1806.71" stroke="#000" stroke-width="2.00"/>
<line x1="1017.60" y1="1806.71" x2="1024.60" y2="1806.71" stroke="#000" stroke-width="2.00"/>
<line x1="182.80" y1="1785.04" x2="175.80" y2="1785.04" stroke="#000" stroke-width="2.00"/>
<line x1="1017.60" y1="1785.04" x2="1024.60" y2="1785.04" stroke="#000" stroke-width="2.00"/>
<line x1="182.80" y1="1766.27" x2="175.80" y2="1766.27" stroke="#000" stroke-width="2.00"/>
<line x1="1017.60" y1="1766.27" x2="1024.60" y2="1766.27" stroke="#000" stroke-width="2.00"/>
<line x1="182.80" y1="1749.71" x2="175.80" y2="1749.71" stroke="#000" stroke-width="2.00"/>
<line x1="1017.60" y1="1749.71" x2="1024.60" y2="1749.71" stroke="#000" stroke-width="2.00"/>
<line x1="182.80" y1="1637.46" x2="175.80" y2="1637.46" stroke="#000" stroke-width="2.00"/>
<line x1="1017.60" y1="1637.46" x2="1024.60" y2="1637.46" stroke="#000" stroke-width="2.00"/>
<line x1="182.80" y1="1580.46" x2="175.80" y2="1580.46" stroke="#000" stroke-width="2.00"/>
<line x1="1017.60" y1="1580.46" x2="1024.60" y2="1580.46" stroke="#000" stroke-width="2.00"/>
<line x1="182.80" y1="1540.01" x2="175.80" y2="1540.01" stroke="#000" stroke-width="2.00"/>
<line x1="1017.60" y1="1540.01" x2="1024.60" y2="1540.01" stroke="#000" stroke-width="2.00"/>
<line x1="182.80" y1="1508.64" x2="175.80" y2="1508.64" stroke="#000" stroke-width="2.00"/>
<line x1="1017.60" y1="1508.64" x2="1024.60" y2="1508.64" stroke="#000" stroke-width="2.00"/>
<line x1="182.80" y1="1483.01" x2="175.80" y2="1483.01" stroke="#000" stroke-width="2.00"/>
<line x1="1017.60" y1="1483.01" x2="1024.60" y2="1483.01" stroke="#000" stroke-width="2.00"/>
<line x1="182.80" y1="1461.34" x2="175.80" y2="1461.34" stroke="#000" stroke-width="2.00"/>
<line x1="1017.60" y1="1461.34" x2="1024.60" y2="1461.34" stroke="#000" stroke-width="2.00"/>
<line x1="182.80" y1="1442.57" x2="175.80" y2="1442.57" stroke="#000" stroke-width="2.00"/>
<line x1="1017.60" y1="1442.57" x2="1024.60" y2="1442.57" stroke="#000" stroke-width="2.00"/>
<line x1="182.80" y1="1426.01" x2="175.80" y2="1426.01" stroke="#000" stroke-width="2.00"/>
<line x1="1017.60" y1="1426.01" x2="1024.60" y2="1426.01" stroke="#000" stroke-width="2.00"/>
<line x1="182.80" y1="1313.76" x2="175.80" y2="1313.76" stroke="#000" stroke-width="2.00"/>
<line x1="1017.60" y1="1313.76" x2="1024.60" y2="1313.76" stroke="#000" stroke-width="2.00"/>
<text x="199.12" y="1913.30" font-family='"DejaVu Serif", serif' font-size="29.50" fill="#000">3</text>
<text x="300.39" y="1913.30" font-family='"DejaVu Serif", serif' font-size="29.50" fill="#000">4</text>
<text x="378.36" y="1913.30" font-family='"DejaVu Serif", serif' font-size="29.50" fill="#000">5</text>
<text x="611.75" y="1913.30" font-family='"DejaVu Serif", serif' font-size="29.50" fill="#000">10</text>
<text x="855.88" y="1913.30" font-family='"DejaVu Serif", serif' font-size="29.50" fill="#000">20</text>
<text x="998.12" y="1913.30" font-family='"DejaVu Serif", serif' font-size="29.50" fill="#000">30</text>
<text x="104.89" y="1741.40" font-family='"DejaVu Serif", serif' font-size="30.00" fill="#000" textLength="52.74" lengthAdjust="spacingAndGlyphs">0.1</text>
<text x="104.60" y="1423.70" font-family='"DejaVu Serif", serif' font-size="30.00" fill="#000" textLength="52.11" lengthAdjust="spacingAndGlyphs">1.0</text>
<text x="420.27" y="1950.20" font-family='"DejaVu Serif", serif' font-size="31.00" fill="#000" textLength="359.69" lengthAdjust="spacingAndGlyphs">Rest wavelength (µm)</text>
<text transform="translate(92.90 1711.94) rotate(-90)" font-family='"DejaVu Serif", serif' font-size="31.70" fill="#000" textLength="262.11" lengthAdjust="spacingAndGlyphs">Flux density (Jy)</text>
<text x="200.43" y="1347.00" font-family='"Liberation Sans", Arial, sans-serif' font-size="48.00" fill="#000" textLength="56.05" lengthAdjust="spacingAndGlyphs" stroke="#000" stroke-width="0.9">(b)</text>
<rect x="760.2" y="1562.2" width="243.2" height="286.1" rx="33" ry="33" fill="#fff" stroke="#808080" stroke-width="1.6"/>
<rect x="792.0" y="1589.4" width="6.0" height="6.0" fill="none" stroke="#111" stroke-width="1.8"/>
<line x1="773.30" y1="1621.50" x2="816.40" y2="1621.50" stroke="#999999" stroke-width="3.00"/>
<line x1="773.30" y1="1652.90" x2="816.40" y2="1652.90" stroke="#5aa66c" stroke-width="3.00"/>
<line x1="773.30" y1="1686.50" x2="816.40" y2="1686.50" stroke="#6f9fd2" stroke-width="1.50"/>
<line x1="773.30" y1="1718.10" x2="816.40" y2="1718.10" stroke="#c890dc" stroke-width="1.50"/>
<line x1="773.30" y1="1750.00" x2="816.40" y2="1750.00" stroke="#6cbcbc" stroke-width="1.50"/>
<line x1="773.30" y1="1781.90" x2="816.40" y2="1781.90" stroke="#f7a862" stroke-width="1.50"/>
<line x1="773.30" y1="1816.40" x2="816.40" y2="1816.40" stroke="#fde060" stroke-width="1.50"/>
<text x="830.45" y="1597.50" font-family='"DejaVu Serif", serif' font-size="21.00" fill="#000" textLength="46.47" lengthAdjust="spacingAndGlyphs">Data</text>
<text x="830.42" y="1628.70" font-family='"DejaVu Serif", serif' font-size="21.00" fill="#000" textLength="145.94" lengthAdjust="spacingAndGlyphs">Continuum Fit</text>
<text x="830.46" y="1660.10" font-family='"DejaVu Serif", serif' font-size="21.00" fill="#000" textLength="84.02" lengthAdjust="spacingAndGlyphs">Total Fit</text>
<text x="831.48" y="1693.20" font-family='"DejaVu Serif", serif' font-size="21.00" fill="#000" textLength="55.83" lengthAdjust="spacingAndGlyphs">Lines</text>
<text x="831.49" y="1725.30" font-family='"DejaVu Serif", serif' font-size="21.00" fill="#000" textLength="54.74" lengthAdjust="spacingAndGlyphs">PAHs</text>
<text x="831.47" y="1756.70" font-family='"DejaVu Serif", serif' font-size="21.00" fill="#000" textLength="47.13" lengthAdjust="spacingAndGlyphs">Cool</text>
<text x="833.20" y="1789.20" font-family='"DejaVu Serif", serif' font-size="21.00" fill="#000" textLength="58.69" lengthAdjust="spacingAndGlyphs">Warm</text>
<text x="831.98" y="1822.80" font-family='"DejaVu Serif", serif' font-size="21.00" fill="#000" textLength="38.36" lengthAdjust="spacingAndGlyphs">Hot</text>
<defs><clipPath id="clipC"><rect x="1144.2" y="1296.3" width="830.2" height="572.5"/></clipPath>
<linearGradient id="bandC" x1="0" y1="0" x2="0" y2="1"><stop offset="0" stop-color="#e9f5fd"/><stop offset="1" stop-color="#dfedf7"/></linearGradient></defs>
<rect x="1242.4" y="1294.5" width="47.3" height="573" rx="18.0" ry="18.0" fill="url(#bandC)"/>
<rect x="1775.2" y="1294.5" width="28.0" height="573" rx="9.0" ry="9.0" fill="url(#bandC)"/>
<rect x="1885.9" y="1294.5" width="28.3" height="573" rx="9.0" ry="9.0" fill="url(#bandC)"/>
<g clip-path="url(#clipC)">
<path d="M1145.0 1802.9 L1146.0 1803.0 L1147.0 1803.1 L1148.0 1803.2 L1149.0 1803.3 L1150.0 1803.4 L1151.0 1803.5 L1152.0 1803.6 L1153.0 1803.7 L1154.0 1803.8 L1155.0 1803.9 L1156.0 1804.0 L1157.0 1804.1 L1158.0 1804.2 L1159.0 1804.3 L1160.0 1804.4 L1161.0 1804.5 L1162.0 1804.6 L1163.0 1804.7 L1164.0 1804.8 L1165.0 1804.9 L1166.0 1805.0 L1167.0 1805.1 L1168.0 1805.2 L1169.0 1805.3 L1170.0 1805.4 L1171.0 1805.5 L1172.0 1805.6 L1173.0 1805.7 L1174.0 1805.8 L1175.0 1805.9 L1176.0 1806.0 L1177.0 1806.1 L1178.0 1806.2 L1179.0 1806.3 L1180.0 1806.4 L1181.0 1806.5 L1182.0 1806.6 L1183.0 1806.7 L1184.0 1806.8 L1185.0 1806.8 L1186.0 1806.8 L1187.0 1806.9 L1188.0 1806.9 L1189.0 1806.9 L1190.0 1807.0 L1191.0 1807.0 L1192.0 1807.0 L1193.0 1807.1 L1194.0 1807.1 L1195.0 1807.2 L1196.0 1807.2 L1197.0 1807.2 L1198.0 1807.3 L1199.0 1807.3 L1200.0 1807.3 L1201.0 1807.4 L1202.0 1807.4 L1203.0 1807.4 L1204.0 1807.5 L1205.0 1807.5 L1206.0 1807.5 L1207.0 1807.5 L1208.0 1807.6 L1209.0 1807.6 L1210.0 1807.6 L1211.0 1807.7 L1212.0 1807.7 L1213.0 1807.7 L1214.0 1807.8 L1215.0 1807.8 L1216.0 1807.8 L1217.0 1807.8 L1218.0 1807.9 L1219.0 1807.9 L1220.0 1807.9 L1221.0 1807.9 L1222.0 1808.0 L1223.0 1808.0 L1224.0 1808.0 L1225.0 1808.0 L1226.0 1808.1 L1227.0 1808.1 L1228.0 1808.1 L1229.0 1808.0 L1230.0 1808.0 L1231.0 1808.0 L1232.0 1807.9 L1233.0 1807.9 L1234.0 1807.9 L1235.0 1807.9 L1236.0 1807.8 L1237.0 1807.8 L1238.0 1807.8 L1239.0 1807.7 L1240.0 1807.7 L1241.0 1807.7 L1242.0 1807.6 L1243.0 1807.6 L1244.0 1807.5 L1245.0 1807.5 L1246.0 1807.5 L1247.0 1807.4 L1248.0 1807.4 L1249.0 1807.3 L1250.0 1807.3 L1251.0 1807.3 L1252.0 1807.2 L1253.0 1807.2 L1254.0 1807.1 L1255.0 1807.1 L1256.0 1807.0 L1257.0 1807.0 L1258.0 1806.9 L1259.0 1806.9 L1260.0 1806.8 L1261.0 1806.8 L1262.0 1806.7 L1263.0 1806.7 L1264.0 1806.6 L1265.0 1806.5 L1266.0 1806.5 L1267.0 1806.4 L1268.0 1806.3 L1269.0 1806.3 L1270.0 1806.2 L1271.0 1806.1 L1272.0 1806.1 L1273.0 1806.0 L1274.0 1805.9 L1275.0 1805.8 L1276.0 1805.8 L1277.0 1805.7 L1278.0 1805.6 L1279.0 1805.5 L1280.0 1805.4 L1281.0 1805.3 L1282.0 1805.2 L1283.0 1805.1 L1284.0 1805.0 L1285.0 1804.9 L1286.0 1804.8 L1287.0 1804.7 L1288.0 1804.5 L1289.0 1804.1 L1290.0 1803.8 L1291.0 1803.4 L1292.0 1803.0 L1293.0 1802.6 L1294.0 1802.3 L1295.0 1801.9 L1296.0 1801.5 L1297.0 1801.1 L1298.0 1800.7 L1299.0 1800.3 L1300.0 1799.9 L1301.0 1799.5 L1302.0 1799.1 L1303.0 1798.6 L1304.0 1798.2 L1305.0 1797.8 L1306.0 1797.3 L1307.0 1796.9 L1308.0 1796.4 L1309.0 1795.9 L1310.0 1795.4 L1311.0 1795.0 L1312.0 1794.5 L1313.0 1794.0 L1314.0 1793.4 L1315.0 1792.8 L1316.0 1792.3 L1317.0 1791.7 L1318.0 1791.0 L1319.0 1790.4 L1320.0 1789.8 L1321.0 1789.1 L1322.0 1788.4 L1323.0 1787.8 L1324.0 1787.1 L1325.0 1786.3 L1326.0 1785.6 L1327.0 1784.8 L1328.0 1784.0 L1329.0 1783.2 L1330.0 1782.4 L1331.0 1781.5 L1332.0 1780.6 L1333.0 1779.6 L1334.0 1778.7 L1335.0 1777.7 L1336.0 1776.6 L1337.0 1775.4 L1338.0 1774.2 L1339.0 1773.0 L1340.0 1771.7 L1341.0 1770.4 L1342.0 1769.0 L1343.0 1767.5 L1344.0 1765.9 L1345.0 1764.3 L1346.0 1762.6 L1347.0 1760.7 L1348.0 1758.8 L1349.0 1756.8 L1350.0 1754.6 L1351.0 1752.3 L1352.0 1749.8 L1353.0 1747.2 L1354.0 1744.4 L1355.0 1741.4 L1356.0 1738.1 L1357.0 1734.6 L1358.0 1730.9 L1359.0 1726.8 L1360.0 1722.4 L1361.0 1717.6 L1362.0 1712.4 L1363.0 1706.7 L1364.0 1700.4 L1365.0 1693.6 L1366.0 1686.2 L1367.0 1678.0 L1368.0 1669.1 L1369.0 1659.2 L1370.0 1648.4 L1371.0 1636.6 L1372.0 1623.6 L1373.0 1609.6 L1374.0 1594.4 L1375.0 1578.0 L1376.0 1560.7 L1377.0 1542.6 L1378.0 1524.2 L1379.0 1505.9 L1380.0 1488.6 L1381.0 1473.0 L1382.0 1460.2 L1383.0 1451.1 L1384.0 1446.5 L1385.0 1446.7 L1386.0 1451.8 L1387.0 1461.2 L1388.0 1474.2 L1389.0 1489.8 L1390.0 1507.0 L1391.0 1524.9 L1392.0 1542.9 L1393.0 1560.4 L1394.0 1577.1 L1395.0 1592.7 L1396.0 1607.2 L1397.0 1620.5 L1398.0 1632.7 L1399.0 1643.7 L1400.0 1653.7 L1401.0 1662.8 L1402.0 1671.0 L1403.0 1678.4 L1404.0 1685.0 L1405.0 1691.1 L1406.0 1696.5 L1407.0 1701.4 L1408.0 1705.9 L1409.0 1709.9 L1410.0 1713.6 L1411.0 1716.9 L1412.0 1720.0 L1413.0 1722.7 L1414.0 1725.2 L1415.0 1727.5 L1416.0 1729.6 L1417.0 1731.5 L1418.0 1733.3 L1419.0 1734.9 L1420.0 1736.3 L1421.0 1737.7 L1422.0 1738.9 L1423.0 1739.9 L1424.0 1740.8 L1425.0 1741.7 L1426.0 1742.5 L1427.0 1743.2 L1428.0 1743.8 L1429.0 1744.3 L1430.0 1744.8 L1431.0 1745.3 L1432.0 1745.7 L1433.0 1746.1 L1434.0 1746.4 L1435.0 1746.7 L1436.0 1746.9 L1437.0 1747.1 L1438.0 1747.3 L1439.0 1747.4 L1440.0 1747.5 L1441.0 1747.6 L1442.0 1747.7 L1443.0 1747.7 L1444.0 1747.8 L1445.0 1748.0 L1446.0 1748.2 L1447.0 1748.4 L1448.0 1748.5 L1449.0 1748.6 L1450.0 1748.8 L1451.0 1748.9 L1452.0 1748.9 L1453.0 1749.0 L1454.0 1749.1 L1455.0 1749.1 L1456.0 1749.2 L1457.0 1749.2 L1458.0 1749.3 L1459.0 1749.3 L1460.0 1749.3 L1461.0 1749.3 L1462.0 1749.3 L1463.0 1749.3 L1464.0 1749.2 L1465.0 1749.2 L1466.0 1749.2 L1467.0 1749.1 L1468.0 1749.1 L1469.0 1749.0 L1470.0 1749.0 L1471.0 1748.9 L1472.0 1748.9 L1473.0 1748.8 L1474.0 1748.7 L1475.0 1748.6 L1476.0 1748.6 L1477.0 1748.5 L1478.0 1748.4 L1479.0 1748.3 L1480.0 1748.2 L1481.0 1748.1 L1482.0 1748.0 L1483.0 1747.9 L1484.0 1747.8 L1485.0 1747.7 L1486.0 1747.6 L1487.0 1747.4 L1488.0 1747.3 L1489.0 1747.2 L1490.0 1747.1 L1491.0 1747.0 L1492.0 1746.8 L1493.0 1746.7 L1494.0 1746.6 L1495.0 1746.4 L1496.0 1746.3 L1497.0 1746.2 L1498.0 1746.0 L1499.0 1745.9 L1500.0 1745.8 L1501.0 1745.6 L1502.0 1745.5 L1503.0 1745.3 L1504.0 1745.2 L1505.0 1745.0 L1506.0 1744.9 L1507.0 1744.7 L1508.0 1744.6 L1509.0 1744.4 L1510.0 1744.3 L1511.0 1744.2 L1512.0 1744.1 L1513.0 1744.0 L1514.0 1743.9 L1515.0 1743.8 L1516.0 1743.7 L1517.0 1743.6 L1518.0 1743.5 L1519.0 1743.3 L1520.0 1743.2 L1521.0 1743.1 L1522.0 1743.0 L1523.0 1742.9 L1524.0 1742.8 L1525.0 1742.6 L1526.0 1742.5 L1527.0 1742.4 L1528.0 1742.3 L1529.0 1742.2 L1530.0 1742.1 L1531.0 1742.0 L1532.0 1741.9 L1533.0 1741.8 L1534.0 1741.7 L1535.0 1741.6 L1536.0 1741.5 L1537.0 1741.4 L1538.0 1741.4 L1539.0 1741.3 L1540.0 1741.2 L1541.0 1741.1 L1542.0 1741.0 L1543.0 1740.9 L1544.0 1740.8 L1545.0 1740.8 L1546.0 1740.7 L1547.0 1740.6 L1548.0 1740.5 L1549.0 1740.4 L1550.0 1740.3 L1551.0 1740.2 L1552.0 1740.1 L1553.0 1740.0 L1554.0 1739.9 L1555.0 1739.8 L1556.0 1739.8 L1557.0 1739.7 L1558.0 1739.6 L1559.0 1739.5 L1560.0 1739.4 L1561.0 1739.4 L1562.0 1739.3 L1563.0 1739.3 L1564.0 1739.3 L1565.0 1739.3 L1566.0 1739.3 L1567.0 1739.2 L1568.0 1739.2 L1569.0 1739.2 L1570.0 1739.2 L1571.0 1739.1 L1572.0 1739.1 L1573.0 1739.0 L1574.0 1738.9 L1575.0 1738.8 L1576.0 1738.7 L1577.0 1738.6 L1578.0 1738.5 L1579.0 1738.4 L1580.0 1738.3 L1581.0 1738.2 L1582.0 1738.1 L1583.0 1737.9 L1584.0 1737.8 L1585.0 1737.7 L1586.0 1737.6 L1587.0 1737.5 L1588.0 1737.4 L1589.0 1737.3 L1590.0 1737.2 L1591.0 1737.1 L1592.0 1737.0 L1593.0 1736.9 L1594.0 1736.7 L1595.0 1736.6 L1596.0 1736.3 L1597.0 1736.1 L1598.0 1735.8 L1599.0 1735.6 L1600.0 1735.4 L1601.0 1735.1 L1602.0 1734.9 L1603.0 1734.6 L1604.0 1734.4 L1605.0 1734.1 L1606.0 1733.9 L1607.0 1733.7 L1608.0 1733.4 L1609.0 1733.2 L1610.0 1732.9 L1611.0 1732.7 L1612.0 1732.5 L1613.0 1732.2 L1614.0 1732.0 L1615.0 1731.7 L1616.0 1731.5 L1617.0 1731.2 L1618.0 1731.0 L1619.0 1730.8 L1620.0 1730.5 L1621.0 1730.3 L1622.0 1730.0 L1623.0 1729.8 L1624.0 1729.5 L1625.0 1729.3 L1626.0 1729.1 L1627.0 1728.8 L1628.0 1728.6 L1629.0 1728.3 L1630.0 1728.1 L1631.0 1727.8 L1632.0 1727.6 L1633.0 1727.3 L1634.0 1727.1 L1635.0 1726.9 L1636.0 1726.6 L1637.0 1726.4 L1638.0 1726.1 L1639.0 1725.9 L1640.0 1725.7 L1641.0 1725.6 L1642.0 1725.4 L1643.0 1725.2 L1644.0 1725.0 L1645.0 1724.9 L1646.0 1724.7 L1647.0 1724.5 L1648.0 1724.4 L1649.0 1724.2 L1650.0 1724.0 L1651.0 1723.9 L1652.0 1723.7 L1653.0 1723.5 L1654.0 1723.3 L1655.0 1723.2 L1656.0 1723.0 L1657.0 1722.8 L1658.0 1722.7 L1659.0 1722.5 L1660.0 1722.3 L1661.0 1722.1 L1662.0 1722.0 L1663.0 1721.8 L1664.0 1721.6 L1665.0 1721.5 L1666.0 1721.3 L1667.0 1721.1 L1668.0 1720.9 L1669.0 1720.8 L1670.0 1720.6 L1671.0 1720.4 L1672.0 1720.3 L1673.0 1720.1 L1674.0 1719.9 L1675.0 1719.8 L1676.0 1719.6 L1677.0 1719.4 L1678.0 1719.2 L1679.0 1719.1 L1680.0 1718.9 L1681.0 1718.7 L1682.0 1718.5 L1683.0 1718.4 L1684.0 1718.2 L1685.0 1718.0 L1686.0 1717.9 L1687.0 1717.7 L1688.0 1717.5 L1689.0 1717.3 L1690.0 1717.2 L1691.0 1717.0 L1692.0 1716.8 L1693.0 1716.7 L1694.0 1716.5 L1695.0 1716.3 L1696.0 1716.1 L1697.0 1716.0 L1698.0 1715.8 L1699.0 1715.6 L1700.0 1715.5 L1701.0 1715.3 L1702.0 1715.1 L1703.0 1714.9 L1704.0 1714.8 L1705.0 1714.6 L1706.0 1714.4 L1707.0 1714.2 L1708.0 1714.1 L1709.0 1713.9 L1710.0 1713.7 L1711.0 1713.6 L1712.0 1713.4 L1713.0 1713.2 L1714.0 1713.0 L1715.0 1712.9 L1716.0 1712.7 L1717.0 1712.5 L1718.0 1712.4 L1719.0 1712.2 L1720.0 1712.0 L1721.0 1711.8 L1722.0 1711.7 L1723.0 1711.5 L1724.0 1711.3 L1725.0 1711.1 L1726.0 1711.0 L1727.0 1710.8 L1728.0 1710.6 L1729.0 1710.4 L1730.0 1710.2 L1731.0 1710.0 L1732.0 1709.8 L1733.0 1709.6 L1734.0 1709.4 L1735.0 1709.2 L1736.0 1709.0 L1737.0 1708.8 L1738.0 1708.6 L1739.0 1708.4 L1740.0 1708.2 L1741.0 1708.0 L1742.0 1707.8 L1743.0 1707.6 L1744.0 1707.4 L1745.0 1707.2 L1746.0 1707.1 L1747.0 1706.9 L1748.0 1706.7 L1749.0 1706.5 L1750.0 1706.3 L1751.0 1706.1 L1752.0 1705.9 L1753.0 1705.7 L1754.0 1705.5 L1755.0 1705.3 L1756.0 1705.1 L1757.0 1704.9 L1758.0 1704.7 L1759.0 1704.5 L1760.0 1704.3 L1761.0 1704.1 L1762.0 1703.9 L1763.0 1703.7 L1764.0 1703.6 L1765.0 1703.4 L1766.0 1703.3 L1767.0 1703.1 L1768.0 1702.9 L1769.0 1702.8 L1770.0 1702.6 L1771.0 1702.4 L1772.0 1702.3 L1773.0 1702.1 L1774.0 1701.9 L1775.0 1702.7 L1776.0 1704.1 L1777.0 1705.4 L1778.0 1706.7 L1779.0 1708.1 L1780.0 1709.4 L1781.0 1710.7 L1782.0 1714.7 L1783.0 1718.7 L1784.0 1722.7 L1785.0 1726.7 L1786.0 1731.8 L1787.0 1737.8 L1788.0 1743.8 L1789.0 1749.8 L1790.0 1754.5 L1791.0 1748.5 L1792.0 1742.5 L1793.0 1736.5 L1794.0 1730.5 L1795.0 1726.5 L1796.0 1723.5 L1797.0 1720.5 L1798.0 1717.6 L1799.0 1715.0 L1800.0 1714.0 L1801.0 1713.0 L1802.0 1712.0 L1803.0 1711.0 L1804.0 1710.9 L1805.0 1711.1 L1806.0 1711.3 L1807.0 1711.5 L1808.0 1711.7 L1809.0 1711.8 L1810.0 1712.0 L1811.0 1712.2 L1812.0 1712.4 L1813.0 1712.6 L1814.0 1712.8 L1815.0 1712.9 L1816.0 1713.1 L1817.0 1713.3 L1818.0 1713.5 L1819.0 1713.7 L1820.0 1713.9 L1821.0 1714.0 L1822.0 1714.2 L1823.0 1714.4 L1824.0 1714.6 L1825.0 1714.8 L1826.0 1714.9 L1827.0 1715.1 L1828.0 1715.3 L1829.0 1715.5 L1830.0 1715.6 L1831.0 1715.8 L1832.0 1715.9 L1833.0 1716.1 L1834.0 1716.2 L1835.0 1716.4 L1836.0 1716.5 L1837.0 1716.7 L1838.0 1716.8 L1839.0 1717.0 L1840.0 1717.1 L1841.0 1717.3 L1842.0 1717.4 L1843.0 1717.6 L1844.0 1717.7 L1845.0 1717.9 L1846.0 1718.0 L1847.0 1718.2 L1848.0 1718.3 L1849.0 1718.5 L1850.0 1718.6 L1851.0 1718.8 L1852.0 1718.9 L1853.0 1719.1 L1854.0 1719.2 L1855.0 1719.4 L1856.0 1719.5 L1857.0 1719.7 L1858.0 1719.8 L1859.0 1720.0 L1860.0 1720.1 L1861.0 1720.3 L1862.0 1720.4 L1863.0 1720.6 L1864.0 1720.7 L1865.0 1720.9 L1866.0 1721.0 L1867.0 1721.2 L1868.0 1721.3 L1869.0 1721.5 L1870.0 1721.6 L1871.0 1721.8 L1872.0 1721.9 L1873.0 1722.3 L1874.0 1722.8 L1875.0 1723.2 L1876.0 1723.6 L1877.0 1724.1 L1878.0 1724.5 L1879.0 1724.9 L1880.0 1725.3 L1881.0 1725.8 L1882.0 1726.2 L1883.0 1726.6 L1884.0 1727.1 L1885.0 1727.5 L1886.0 1727.9 L1887.0 1728.3 L1888.0 1728.9 L1889.0 1729.5 L1890.0 1730.2 L1891.0 1730.9 L1892.0 1731.5 L1893.0 1732.2 L1894.0 1732.9 L1895.0 1733.5 L1896.0 1734.2 L1897.0 1734.9 L1898.0 1735.5 L1899.0 1736.2 L1900.0 1736.9 L1901.0 1737.5 L1902.0 1736.9 L1903.0 1736.3 L1904.0 1735.8 L1905.0 1735.2 L1906.0 1734.6 L1907.0 1734.1 L1908.0 1733.5 L1909.0 1732.9 L1910.0 1732.3 L1911.0 1731.8 L1912.0 1731.2 L1913.0 1730.6 L1914.0 1730.1 L1915.0 1729.5 L1916.0 1728.9 L1917.0 1728.0 L1918.0 1726.8 L1919.0 1725.6 L1920.0 1724.4 L1921.0 1723.2 L1922.0 1722.0 L1923.0 1720.8 L1924.0 1719.6 L1925.0 1718.4 L1926.0 1717.2 L1927.0 1716.1 L1928.0 1714.9 L1929.0 1713.9 L1930.0 1712.9 L1931.0 1711.9 L1932.0 1710.9 L1933.0 1709.9 L1934.0 1708.9 L1935.0 1707.9 L1936.0 1706.9 L1937.0 1705.9 L1938.0 1704.9 L1939.0 1704.1 L1940.0 1703.8 L1941.0 1703.5 L1942.0 1703.2 L1943.0 1702.9 L1944.0 1702.6 L1945.0 1702.3 L1946.0 1702.0 L1947.0 1701.7 L1948.0 1701.4 L1949.0 1701.1 L1950.0 1700.9 L1951.0 1700.8 L1952.0 1700.7 L1953.0 1700.6 L1954.0 1700.5 L1955.0 1700.4 L1956.0 1700.3 L1957.0 1700.2 L1958.0 1700.1 L1959.0 1700.0 L1960.0 1699.9 L1961.0 1699.8 L1962.0 1699.8 L1963.0 1699.7 L1964.0 1699.6 L1965.0 1699.5 L1966.0 1699.4 L1967.0 1699.3 L1968.0 1699.2 L1969.0 1699.1 L1970.0 1699.0 L1971.0 1698.9 L1972.0 1698.8 L1973.0 1698.7 L1974.0 1698.7" fill="none" stroke="#b865cc" stroke-opacity="0.6" stroke-width="1.3"/>
<path d="M1145.0 1803.7 L1146.0 1803.8 L1147.0 1803.9 L1148.0 1804.0 L1149.0 1804.2 L1150.0 1804.3 L1151.0 1804.4 L1152.0 1804.5 L1153.0 1804.6 L1154.0 1804.7 L1155.0 1804.8 L1156.0 1804.9 L1157.0 1805.0 L1158.0 1805.2 L1159.0 1805.3 L1160.0 1805.4 L1161.0 1805.5 L1162.0 1805.6 L1163.0 1805.7 L1164.0 1805.8 L1165.0 1805.9 L1166.0 1806.0 L1167.0 1806.2 L1168.0 1806.3 L1169.0 1806.4 L1170.0 1806.5 L1171.0 1806.6 L1172.0 1806.7 L1173.0 1806.8 L1174.0 1806.9 L1175.0 1807.0 L1176.0 1807.1 L1177.0 1807.3 L1178.0 1807.4 L1179.0 1807.5 L1180.0 1807.6 L1181.0 1807.7 L1182.0 1807.8 L1183.0 1807.9 L1184.0 1808.0 L1185.0 1808.0 L1186.0 1808.1 L1187.0 1808.1 L1188.0 1808.2 L1189.0 1808.2 L1190.0 1808.3 L1191.0 1808.3 L1192.0 1808.4 L1193.0 1808.4 L1194.0 1808.5 L1195.0 1808.5 L1196.0 1808.6 L1197.0 1808.6 L1198.0 1808.7 L1199.0 1808.7 L1200.0 1808.8 L1201.0 1808.8 L1202.0 1808.9 L1203.0 1808.9 L1204.0 1809.0 L1205.0 1809.0 L1206.0 1809.1 L1207.0 1809.1 L1208.0 1809.2 L1209.0 1809.2 L1210.0 1809.3 L1211.0 1809.3 L1212.0 1809.4 L1213.0 1809.4 L1214.0 1809.5 L1215.0 1809.5 L1216.0 1809.6 L1217.0 1809.6 L1218.0 1809.7 L1219.0 1809.7 L1220.0 1809.8 L1221.0 1809.8 L1222.0 1809.9 L1223.0 1809.9 L1224.0 1810.0 L1225.0 1810.0 L1226.0 1810.1 L1227.0 1810.1 L1228.0 1810.1 L1229.0 1810.1 L1230.0 1810.1 L1231.0 1810.1 L1232.0 1810.1 L1233.0 1810.1 L1234.0 1810.1 L1235.0 1810.1 L1236.0 1810.1 L1237.0 1810.1 L1238.0 1810.1 L1239.0 1810.1 L1240.0 1810.1 L1241.0 1810.1 L1242.0 1810.1 L1243.0 1810.1 L1244.0 1810.1 L1245.0 1810.1 L1246.0 1810.1 L1247.0 1810.1 L1248.0 1810.1 L1249.0 1810.1 L1250.0 1810.1 L1251.0 1810.1 L1252.0 1810.1 L1253.0 1810.1 L1254.0 1810.1 L1255.0 1810.1 L1256.0 1810.1 L1257.0 1810.1 L1258.0 1810.1 L1259.0 1810.1 L1260.0 1810.1 L1261.0 1810.1 L1262.0 1810.1 L1263.0 1810.1 L1264.0 1810.1 L1265.0 1810.1 L1266.0 1810.1 L1267.0 1810.1 L1268.0 1810.1 L1269.0 1810.1 L1270.0 1810.1 L1271.0 1810.1 L1272.0 1810.0 L1273.0 1810.0 L1274.0 1810.0 L1275.0 1810.0 L1276.0 1810.0 L1277.0 1810.0 L1278.0 1810.0 L1279.0 1810.0 L1280.0 1810.0 L1281.0 1810.0 L1282.0 1810.0 L1283.0 1810.0 L1284.0 1810.0 L1285.0 1810.0 L1286.0 1810.0 L1287.0 1810.0 L1288.0 1809.9 L1289.0 1809.6 L1290.0 1809.4 L1291.0 1809.1 L1292.0 1808.9 L1293.0 1808.6 L1294.0 1808.4 L1295.0 1808.1 L1296.0 1807.9 L1297.0 1807.6 L1298.0 1807.4 L1299.0 1807.1 L1300.0 1806.9 L1301.0 1806.6 L1302.0 1806.4 L1303.0 1806.1 L1304.0 1805.8 L1305.0 1805.6 L1306.0 1805.3 L1307.0 1805.1 L1308.0 1804.8 L1309.0 1804.6 L1310.0 1804.3 L1311.0 1804.1 L1312.0 1803.8 L1313.0 1803.6 L1314.0 1803.3 L1315.0 1803.0 L1316.0 1802.7 L1317.0 1802.4 L1318.0 1802.1 L1319.0 1801.8 L1320.0 1801.5 L1321.0 1801.2 L1322.0 1800.9 L1323.0 1800.5 L1324.0 1800.2 L1325.0 1799.9 L1326.0 1799.6 L1327.0 1799.3 L1328.0 1799.0 L1329.0 1798.7 L1330.0 1798.4 L1331.0 1798.1 L1332.0 1797.8 L1333.0 1797.5 L1334.0 1797.2 L1335.0 1796.9 L1336.0 1796.5 L1337.0 1796.2 L1338.0 1795.8 L1339.0 1795.5 L1340.0 1795.1 L1341.0 1794.7 L1342.0 1794.4 L1343.0 1794.0 L1344.0 1793.7 L1345.0 1793.3 L1346.0 1792.9 L1347.0 1792.6 L1348.0 1792.2 L1349.0 1791.9 L1350.0 1791.5 L1351.0 1791.1 L1352.0 1790.8 L1353.0 1790.4 L1354.0 1790.1 L1355.0 1789.7 L1356.0 1789.3 L1357.0 1789.0 L1358.0 1788.6 L1359.0 1788.2 L1360.0 1787.9 L1361.0 1787.5 L1362.0 1787.1 L1363.0 1786.8 L1364.0 1786.4 L1365.0 1786.0 L1366.0 1785.7 L1367.0 1785.3 L1368.0 1784.9 L1369.0 1784.5 L1370.0 1784.2 L1371.0 1783.8 L1372.0 1783.4 L1373.0 1783.0 L1374.0 1782.7 L1375.0 1782.3 L1376.0 1781.9 L1377.0 1781.5 L1378.0 1781.1 L1379.0 1780.8 L1380.0 1780.4 L1381.0 1780.1 L1382.0 1779.7 L1383.0 1779.4 L1384.0 1779.0 L1385.0 1778.7 L1386.0 1778.3 L1387.0 1778.0 L1388.0 1777.6 L1389.0 1777.3 L1390.0 1776.9 L1391.0 1776.5 L1392.0 1776.1 L1393.0 1775.8 L1394.0 1775.4 L1395.0 1775.0 L1396.0 1774.6 L1397.0 1774.2 L1398.0 1773.7 L1399.0 1773.3 L1400.0 1772.9 L1401.0 1772.4 L1402.0 1772.0 L1403.0 1771.5 L1404.0 1771.0 L1405.0 1770.5 L1406.0 1769.9 L1407.0 1769.4 L1408.0 1768.8 L1409.0 1768.2 L1410.0 1767.6 L1411.0 1766.9 L1412.0 1766.1 L1413.0 1765.4 L1414.0 1764.5 L1415.0 1763.6 L1416.0 1762.6 L1417.0 1761.5 L1418.0 1760.3 L1419.0 1759.0 L1420.0 1757.5 L1421.0 1755.8 L1422.0 1753.9 L1423.0 1751.6 L1424.0 1748.9 L1425.0 1745.8 L1426.0 1742.2 L1427.0 1737.9 L1428.0 1733.0 L1429.0 1727.2 L1430.0 1720.4 L1431.0 1712.9 L1432.0 1704.8 L1433.0 1696.8 L1434.0 1689.9 L1435.0 1685.4 L1436.0 1684.1 L1437.0 1686.4 L1438.0 1691.5 L1439.0 1698.4 L1440.0 1705.8 L1441.0 1712.9 L1442.0 1719.3 L1443.0 1724.8 L1444.0 1729.5 L1445.0 1733.4 L1446.0 1736.7 L1447.0 1739.5 L1448.0 1741.7 L1449.0 1743.6 L1450.0 1745.1 L1451.0 1746.4 L1452.0 1747.5 L1453.0 1748.4 L1454.0 1749.2 L1455.0 1749.8 L1456.0 1750.3 L1457.0 1750.7 L1458.0 1751.1 L1459.0 1751.4 L1460.0 1751.6 L1461.0 1751.8 L1462.0 1752.0 L1463.0 1752.1 L1464.0 1752.2 L1465.0 1752.3 L1466.0 1752.3 L1467.0 1752.3 L1468.0 1752.3 L1469.0 1752.3 L1470.0 1752.3 L1471.0 1752.2 L1472.0 1752.1 L1473.0 1752.1 L1474.0 1752.0 L1475.0 1751.9 L1476.0 1751.8 L1477.0 1751.7 L1478.0 1751.6 L1479.0 1751.5 L1480.0 1751.4 L1481.0 1751.2 L1482.0 1751.1 L1483.0 1751.0 L1484.0 1750.8 L1485.0 1750.7 L1486.0 1750.5 L1487.0 1750.4 L1488.0 1750.2 L1489.0 1750.1 L1490.0 1749.9 L1491.0 1749.8 L1492.0 1749.6 L1493.0 1749.4 L1494.0 1749.3 L1495.0 1749.1 L1496.0 1748.9 L1497.0 1748.8 L1498.0 1748.6 L1499.0 1748.4 L1500.0 1748.2 L1501.0 1748.1 L1502.0 1747.9 L1503.0 1747.7 L1504.0 1747.5 L1505.0 1747.4 L1506.0 1747.2 L1507.0 1747.0 L1508.0 1746.8 L1509.0 1746.6 L1510.0 1746.5 L1511.0 1746.4 L1512.0 1746.2 L1513.0 1746.1 L1514.0 1746.0 L1515.0 1745.8 L1516.0 1745.7 L1517.0 1745.6 L1518.0 1745.4 L1519.0 1745.3 L1520.0 1745.1 L1521.0 1745.0 L1522.0 1744.9 L1523.0 1744.7 L1524.0 1744.6 L1525.0 1744.4 L1526.0 1744.3 L1527.0 1744.2 L1528.0 1744.0 L1529.0 1743.9 L1530.0 1743.7 L1531.0 1743.6 L1532.0 1743.5 L1533.0 1743.4 L1534.0 1743.3 L1535.0 1743.2 L1536.0 1743.1 L1537.0 1743.0 L1538.0 1742.9 L1539.0 1742.8 L1540.0 1742.7 L1541.0 1742.6 L1542.0 1742.5 L1543.0 1742.4 L1544.0 1742.3 L1545.0 1742.2 L1546.0 1742.1 L1547.0 1741.9 L1548.0 1741.8 L1549.0 1741.7 L1550.0 1741.6 L1551.0 1741.5 L1552.0 1741.4 L1553.0 1741.3 L1554.0 1741.2 L1555.0 1741.1 L1556.0 1741.0 L1557.0 1740.9 L1558.0 1740.8 L1559.0 1740.7 L1560.0 1740.6 L1561.0 1740.5 L1562.0 1740.5 L1563.0 1740.5 L1564.0 1740.4 L1565.0 1740.4 L1566.0 1740.4 L1567.0 1740.3 L1568.0 1740.3 L1569.0 1740.3 L1570.0 1740.2 L1571.0 1740.2 L1572.0 1740.2 L1573.0 1740.1 L1574.0 1739.9 L1575.0 1739.8 L1576.0 1739.7 L1577.0 1739.6 L1578.0 1739.5 L1579.0 1739.4 L1580.0 1739.2 L1581.0 1739.1 L1582.0 1739.0 L1583.0 1738.9 L1584.0 1738.8 L1585.0 1738.6 L1586.0 1738.5 L1587.0 1738.4 L1588.0 1738.3 L1589.0 1738.2 L1590.0 1738.1 L1591.0 1737.9 L1592.0 1737.8 L1593.0 1737.7 L1594.0 1737.6 L1595.0 1737.4 L1596.0 1737.1 L1597.0 1736.9 L1598.0 1736.6 L1599.0 1736.4 L1600.0 1736.2 L1601.0 1735.9 L1602.0 1735.7 L1603.0 1735.4 L1604.0 1735.2 L1605.0 1734.9 L1606.0 1734.7 L1607.0 1734.4 L1608.0 1734.2 L1609.0 1733.9 L1610.0 1733.7 L1611.0 1733.4 L1612.0 1733.2 L1613.0 1732.9 L1614.0 1732.7 L1615.0 1732.4 L1616.0 1732.2 L1617.0 1731.9 L1618.0 1731.7 L1619.0 1731.4 L1620.0 1731.2 L1621.0 1730.9 L1622.0 1730.7 L1623.0 1730.4 L1624.0 1730.2 L1625.0 1729.9 L1626.0 1729.7 L1627.0 1729.4 L1628.0 1729.2 L1629.0 1728.9 L1630.0 1728.7 L1631.0 1728.4 L1632.0 1728.2 L1633.0 1727.9 L1634.0 1727.7 L1635.0 1727.4 L1636.0 1727.2 L1637.0 1726.9 L1638.0 1726.7 L1639.0 1726.5 L1640.0 1726.3 L1641.0 1726.1 L1642.0 1725.9 L1643.0 1725.8 L1644.0 1725.6 L1645.0 1725.4 L1646.0 1725.2 L1647.0 1725.1 L1648.0 1724.9 L1649.0 1724.7 L1650.0 1724.5 L1651.0 1724.4 L1652.0 1724.2 L1653.0 1724.0 L1654.0 1723.8 L1655.0 1723.7 L1656.0 1723.5 L1657.0 1723.3 L1658.0 1723.1 L1659.0 1723.0 L1660.0 1722.8 L1661.0 1722.6 L1662.0 1722.4 L1663.0 1722.3 L1664.0 1722.1 L1665.0 1721.9 L1666.0 1721.7 L1667.0 1721.6 L1668.0 1721.4 L1669.0 1721.2 L1670.0 1721.1 L1671.0 1720.9 L1672.0 1720.7 L1673.0 1720.5 L1674.0 1720.4 L1675.0 1720.2 L1676.0 1720.0 L1677.0 1719.8 L1678.0 1719.7 L1679.0 1719.5 L1680.0 1719.3 L1681.0 1719.1 L1682.0 1719.0 L1683.0 1718.8 L1684.0 1718.6 L1685.0 1718.4 L1686.0 1718.3 L1687.0 1718.1 L1688.0 1717.9 L1689.0 1717.7 L1690.0 1717.6 L1691.0 1717.4 L1692.0 1717.2 L1693.0 1717.0 L1694.0 1716.9 L1695.0 1716.7 L1696.0 1716.5 L1697.0 1716.3 L1698.0 1716.2 L1699.0 1716.0 L1700.0 1715.8 L1701.0 1715.6 L1702.0 1715.5 L1703.0 1715.3 L1704.0 1715.1 L1705.0 1714.9 L1706.0 1714.8 L1707.0 1714.6 L1708.0 1714.4 L1709.0 1714.2 L1710.0 1714.1 L1711.0 1713.9 L1712.0 1713.7 L1713.0 1713.5 L1714.0 1713.4 L1715.0 1713.2 L1716.0 1713.0 L1717.0 1712.8 L1718.0 1712.7 L1719.0 1712.5 L1720.0 1712.3 L1721.0 1712.1 L1722.0 1712.0 L1723.0 1711.8 L1724.0 1711.6 L1725.0 1711.4 L1726.0 1711.3 L1727.0 1711.1 L1728.0 1710.9 L1729.0 1710.7 L1730.0 1710.5 L1731.0 1710.3 L1732.0 1710.1 L1733.0 1709.9 L1734.0 1709.7 L1735.0 1709.5 L1736.0 1709.3 L1737.0 1709.1 L1738.0 1708.9 L1739.0 1708.7 L1740.0 1708.5 L1741.0 1708.3 L1742.0 1708.1 L1743.0 1707.9 L1744.0 1707.7 L1745.0 1707.5 L1746.0 1707.3 L1747.0 1707.1 L1748.0 1706.9 L1749.0 1706.7 L1750.0 1706.5 L1751.0 1706.3 L1752.0 1706.1 L1753.0 1705.9 L1754.0 1705.7 L1755.0 1705.5 L1756.0 1705.3 L1757.0 1705.1 L1758.0 1704.9 L1759.0 1704.7 L1760.0 1704.5 L1761.0 1704.3 L1762.0 1704.2 L1763.0 1704.0 L1764.0 1703.8 L1765.0 1703.7 L1766.0 1703.5 L1767.0 1703.3 L1768.0 1703.2 L1769.0 1703.0 L1770.0 1702.8 L1771.0 1702.7 L1772.0 1702.5 L1773.0 1702.3 L1774.0 1702.2 L1775.0 1703.0 L1776.0 1704.3 L1777.0 1705.6 L1778.0 1707.0 L1779.0 1708.3 L1780.0 1709.6 L1781.0 1711.0 L1782.0 1714.9 L1783.0 1718.9 L1784.0 1722.9 L1785.0 1726.9 L1786.0 1732.0 L1787.0 1738.0 L1788.0 1744.0 L1789.0 1750.0 L1790.0 1754.8 L1791.0 1748.8 L1792.0 1742.8 L1793.0 1736.8 L1794.0 1730.8 L1795.0 1726.8 L1796.0 1723.8 L1797.0 1720.8 L1798.0 1717.8 L1799.0 1715.2 L1800.0 1714.2 L1801.0 1713.2 L1802.0 1712.2 L1803.0 1711.2 L1804.0 1711.1 L1805.0 1711.3 L1806.0 1711.5 L1807.0 1711.7 L1808.0 1711.9 L1809.0 1712.0 L1810.0 1712.2 L1811.0 1712.4 L1812.0 1712.6 L1813.0 1712.8 L1814.0 1712.9 L1815.0 1713.1 L1816.0 1713.3 L1817.0 1713.5 L1818.0 1713.7 L1819.0 1713.9 L1820.0 1714.0 L1821.0 1714.2 L1822.0 1714.4 L1823.0 1714.6 L1824.0 1714.8 L1825.0 1714.9 L1826.0 1715.1 L1827.0 1715.3 L1828.0 1715.5 L1829.0 1715.6 L1830.0 1715.8 L1831.0 1715.9 L1832.0 1716.1 L1833.0 1716.2 L1834.0 1716.4 L1835.0 1716.5 L1836.0 1716.7 L1837.0 1716.8 L1838.0 1717.0 L1839.0 1717.1 L1840.0 1717.3 L1841.0 1717.4 L1842.0 1717.6 L1843.0 1717.7 L1844.0 1717.9 L1845.0 1718.0 L1846.0 1718.2 L1847.0 1718.3 L1848.0 1718.5 L1849.0 1718.6 L1850.0 1718.8 L1851.0 1718.9 L1852.0 1719.1 L1853.0 1719.2 L1854.0 1719.4 L1855.0 1719.5 L1856.0 1719.7 L1857.0 1719.8 L1858.0 1720.0 L1859.0 1720.1 L1860.0 1720.3 L1861.0 1720.4 L1862.0 1720.6 L1863.0 1720.7 L1864.0 1720.9 L1865.0 1721.0 L1866.0 1721.2 L1867.0 1721.3 L1868.0 1721.5 L1869.0 1721.6 L1870.0 1721.8 L1871.0 1721.9 L1872.0 1722.1 L1873.0 1722.5 L1874.0 1722.9 L1875.0 1723.4 L1876.0 1723.8 L1877.0 1724.2 L1878.0 1724.6 L1879.0 1725.1 L1880.0 1725.5 L1881.0 1725.9 L1882.0 1726.4 L1883.0 1726.8 L1884.0 1727.2 L1885.0 1727.6 L1886.0 1728.1 L1887.0 1728.5 L1888.0 1729.0 L1889.0 1729.7 L1890.0 1730.3 L1891.0 1731.0 L1892.0 1731.7 L1893.0 1732.3 L1894.0 1733.0 L1895.0 1733.7 L1896.0 1734.3 L1897.0 1735.0 L1898.0 1735.7 L1899.0 1736.3 L1900.0 1737.0 L1901.0 1737.6 L1902.0 1737.1 L1903.0 1736.5 L1904.0 1735.9 L1905.0 1735.3 L1906.0 1734.8 L1907.0 1734.2 L1908.0 1733.6 L1909.0 1733.1 L1910.0 1732.5 L1911.0 1731.9 L1912.0 1731.3 L1913.0 1730.8 L1914.0 1730.2 L1915.0 1729.6 L1916.0 1729.1 L1917.0 1728.2 L1918.0 1727.0 L1919.0 1725.8 L1920.0 1724.6 L1921.0 1723.4 L1922.0 1722.2 L1923.0 1721.0 L1924.0 1719.8 L1925.0 1718.6 L1926.0 1717.4 L1927.0 1716.2 L1928.0 1715.0 L1929.0 1714.0 L1930.0 1713.0 L1931.0 1712.0 L1932.0 1711.0 L1933.0 1710.0 L1934.0 1709.0 L1935.0 1708.0 L1936.0 1707.0 L1937.0 1706.0 L1938.0 1705.0 L1939.0 1704.2 L1940.0 1703.9 L1941.0 1703.6 L1942.0 1703.3 L1943.0 1703.0 L1944.0 1702.7 L1945.0 1702.4 L1946.0 1702.1 L1947.0 1701.8 L1948.0 1701.5 L1949.0 1701.2 L1950.0 1701.0 L1951.0 1700.9 L1952.0 1700.8 L1953.0 1700.7 L1954.0 1700.6 L1955.0 1700.5 L1956.0 1700.4 L1957.0 1700.3 L1958.0 1700.2 L1959.0 1700.1 L1960.0 1700.0 L1961.0 1699.9 L1962.0 1699.9 L1963.0 1699.8 L1964.0 1699.7 L1965.0 1699.6 L1966.0 1699.5 L1967.0 1699.4 L1968.0 1699.3 L1969.0 1699.2 L1970.0 1699.1 L1971.0 1699.0 L1972.0 1698.9 L1973.0 1698.8 L1974.0 1698.8" fill="none" stroke="#b865cc" stroke-opacity="0.6" stroke-width="1.3"/>
<path d="M1145.0 1803.5 L1146.0 1803.6 L1147.0 1803.7 L1148.0 1803.8 L1149.0 1804.0 L1150.0 1804.1 L1151.0 1804.2 L1152.0 1804.3 L1153.0 1804.4 L1154.0 1804.5 L1155.0 1804.6 L1156.0 1804.7 L1157.0 1804.8 L1158.0 1804.9 L1159.0 1805.1 L1160.0 1805.2 L1161.0 1805.3 L1162.0 1805.4 L1163.0 1805.5 L1164.0 1805.6 L1165.0 1805.7 L1166.0 1805.8 L1167.0 1805.9 L1168.0 1806.0 L1169.0 1806.1 L1170.0 1806.3 L1171.0 1806.4 L1172.0 1806.5 L1173.0 1806.6 L1174.0 1806.7 L1175.0 1806.8 L1176.0 1806.9 L1177.0 1807.0 L1178.0 1807.1 L1179.0 1807.2 L1180.0 1807.3 L1181.0 1807.5 L1182.0 1807.6 L1183.0 1807.7 L1184.0 1807.7 L1185.0 1807.8 L1186.0 1807.8 L1187.0 1807.9 L1188.0 1807.9 L1189.0 1808.0 L1190.0 1808.0 L1191.0 1808.1 L1192.0 1808.1 L1193.0 1808.2 L1194.0 1808.2 L1195.0 1808.3 L1196.0 1808.3 L1197.0 1808.4 L1198.0 1808.4 L1199.0 1808.5 L1200.0 1808.5 L1201.0 1808.5 L1202.0 1808.6 L1203.0 1808.6 L1204.0 1808.7 L1205.0 1808.7 L1206.0 1808.8 L1207.0 1808.8 L1208.0 1808.9 L1209.0 1808.9 L1210.0 1809.0 L1211.0 1809.0 L1212.0 1809.1 L1213.0 1809.1 L1214.0 1809.2 L1215.0 1809.2 L1216.0 1809.3 L1217.0 1809.3 L1218.0 1809.3 L1219.0 1809.4 L1220.0 1809.4 L1221.0 1809.5 L1222.0 1809.5 L1223.0 1809.6 L1224.0 1809.6 L1225.0 1809.7 L1226.0 1809.7 L1227.0 1809.8 L1228.0 1809.8 L1229.0 1809.7 L1230.0 1809.7 L1231.0 1809.7 L1232.0 1809.7 L1233.0 1809.7 L1234.0 1809.7 L1235.0 1809.7 L1236.0 1809.7 L1237.0 1809.7 L1238.0 1809.7 L1239.0 1809.7 L1240.0 1809.7 L1241.0 1809.7 L1242.0 1809.7 L1243.0 1809.7 L1244.0 1809.7 L1245.0 1809.7 L1246.0 1809.7 L1247.0 1809.7 L1248.0 1809.7 L1249.0 1809.7 L1250.0 1809.7 L1251.0 1809.7 L1252.0 1809.6 L1253.0 1809.6 L1254.0 1809.6 L1255.0 1809.6 L1256.0 1809.6 L1257.0 1809.6 L1258.0 1809.6 L1259.0 1809.6 L1260.0 1809.6 L1261.0 1809.6 L1262.0 1809.6 L1263.0 1809.6 L1264.0 1809.6 L1265.0 1809.6 L1266.0 1809.6 L1267.0 1809.6 L1268.0 1809.6 L1269.0 1809.5 L1270.0 1809.5 L1271.0 1809.5 L1272.0 1809.5 L1273.0 1809.5 L1274.0 1809.5 L1275.0 1809.5 L1276.0 1809.5 L1277.0 1809.5 L1278.0 1809.5 L1279.0 1809.5 L1280.0 1809.5 L1281.0 1809.5 L1282.0 1809.5 L1283.0 1809.4 L1284.0 1809.4 L1285.0 1809.4 L1286.0 1809.4 L1287.0 1809.4 L1288.0 1809.3 L1289.0 1809.0 L1290.0 1808.8 L1291.0 1808.5 L1292.0 1808.2 L1293.0 1808.0 L1294.0 1807.7 L1295.0 1807.5 L1296.0 1807.2 L1297.0 1807.0 L1298.0 1806.7 L1299.0 1806.4 L1300.0 1806.2 L1301.0 1805.9 L1302.0 1805.7 L1303.0 1805.4 L1304.0 1805.1 L1305.0 1804.9 L1306.0 1804.6 L1307.0 1804.4 L1308.0 1804.1 L1309.0 1803.8 L1310.0 1803.6 L1311.0 1803.3 L1312.0 1803.0 L1313.0 1802.8 L1314.0 1802.5 L1315.0 1802.2 L1316.0 1801.9 L1317.0 1801.6 L1318.0 1801.2 L1319.0 1800.9 L1320.0 1800.6 L1321.0 1800.3 L1322.0 1800.0 L1323.0 1799.7 L1324.0 1799.4 L1325.0 1799.0 L1326.0 1798.7 L1327.0 1798.4 L1328.0 1798.1 L1329.0 1797.8 L1330.0 1797.5 L1331.0 1797.1 L1332.0 1796.8 L1333.0 1796.5 L1334.0 1796.2 L1335.0 1795.9 L1336.0 1795.5 L1337.0 1795.1 L1338.0 1794.8 L1339.0 1794.4 L1340.0 1794.0 L1341.0 1793.7 L1342.0 1793.3 L1343.0 1792.9 L1344.0 1792.5 L1345.0 1792.2 L1346.0 1791.8 L1347.0 1791.4 L1348.0 1791.0 L1349.0 1790.7 L1350.0 1790.3 L1351.0 1789.9 L1352.0 1789.5 L1353.0 1789.2 L1354.0 1788.8 L1355.0 1788.4 L1356.0 1788.0 L1357.0 1787.6 L1358.0 1787.3 L1359.0 1786.9 L1360.0 1786.5 L1361.0 1786.1 L1362.0 1785.7 L1363.0 1785.3 L1364.0 1785.0 L1365.0 1784.6 L1366.0 1784.2 L1367.0 1783.8 L1368.0 1783.4 L1369.0 1783.0 L1370.0 1782.6 L1371.0 1782.2 L1372.0 1781.8 L1373.0 1781.4 L1374.0 1781.0 L1375.0 1780.6 L1376.0 1780.2 L1377.0 1779.8 L1378.0 1779.4 L1379.0 1779.0 L1380.0 1778.7 L1381.0 1778.3 L1382.0 1778.0 L1383.0 1777.6 L1384.0 1777.2 L1385.0 1776.9 L1386.0 1776.5 L1387.0 1776.1 L1388.0 1775.7 L1389.0 1775.4 L1390.0 1775.0 L1391.0 1774.6 L1392.0 1774.2 L1393.0 1773.8 L1394.0 1773.4 L1395.0 1773.0 L1396.0 1772.6 L1397.0 1772.2 L1398.0 1771.8 L1399.0 1771.4 L1400.0 1771.0 L1401.0 1770.6 L1402.0 1770.2 L1403.0 1769.7 L1404.0 1769.3 L1405.0 1768.9 L1406.0 1768.4 L1407.0 1768.0 L1408.0 1767.5 L1409.0 1767.0 L1410.0 1766.6 L1411.0 1766.1 L1412.0 1765.6 L1413.0 1765.1 L1414.0 1764.6 L1415.0 1764.1 L1416.0 1763.6 L1417.0 1763.1 L1418.0 1762.5 L1419.0 1762.0 L1420.0 1761.4 L1421.0 1760.8 L1422.0 1760.3 L1423.0 1759.6 L1424.0 1758.9 L1425.0 1758.1 L1426.0 1757.4 L1427.0 1756.6 L1428.0 1755.9 L1429.0 1755.1 L1430.0 1754.3 L1431.0 1753.4 L1432.0 1752.6 L1433.0 1751.7 L1434.0 1750.8 L1435.0 1749.9 L1436.0 1748.9 L1437.0 1747.9 L1438.0 1746.9 L1439.0 1745.9 L1440.0 1744.8 L1441.0 1743.7 L1442.0 1742.6 L1443.0 1741.5 L1444.0 1740.3 L1445.0 1739.3 L1446.0 1738.2 L1447.0 1737.1 L1448.0 1736.0 L1449.0 1734.9 L1450.0 1733.7 L1451.0 1732.5 L1452.0 1731.3 L1453.0 1730.0 L1454.0 1728.8 L1455.0 1727.6 L1456.0 1726.3 L1457.0 1725.2 L1458.0 1724.0 L1459.0 1722.9 L1460.0 1721.8 L1461.0 1720.9 L1462.0 1720.0 L1463.0 1719.2 L1464.0 1718.5 L1465.0 1717.9 L1466.0 1717.4 L1467.0 1717.1 L1468.0 1716.9 L1469.0 1716.9 L1470.0 1716.9 L1471.0 1717.1 L1472.0 1717.5 L1473.0 1717.9 L1474.0 1718.4 L1475.0 1719.0 L1476.0 1719.7 L1477.0 1720.4 L1478.0 1721.2 L1479.0 1722.0 L1480.0 1722.8 L1481.0 1723.7 L1482.0 1724.5 L1483.0 1725.4 L1484.0 1726.2 L1485.0 1727.0 L1486.0 1727.8 L1487.0 1728.6 L1488.0 1729.3 L1489.0 1730.0 L1490.0 1730.7 L1491.0 1731.3 L1492.0 1731.9 L1493.0 1732.5 L1494.0 1733.0 L1495.0 1733.5 L1496.0 1734.0 L1497.0 1734.5 L1498.0 1734.9 L1499.0 1735.2 L1500.0 1735.6 L1501.0 1735.9 L1502.0 1736.2 L1503.0 1736.5 L1504.0 1736.8 L1505.0 1737.0 L1506.0 1737.2 L1507.0 1737.4 L1508.0 1737.6 L1509.0 1737.8 L1510.0 1737.9 L1511.0 1738.1 L1512.0 1738.3 L1513.0 1738.4 L1514.0 1738.5 L1515.0 1738.7 L1516.0 1738.8 L1517.0 1738.9 L1518.0 1738.9 L1519.0 1739.0 L1520.0 1739.1 L1521.0 1739.1 L1522.0 1739.2 L1523.0 1739.2 L1524.0 1739.2 L1525.0 1739.3 L1526.0 1739.3 L1527.0 1739.3 L1528.0 1739.3 L1529.0 1739.3 L1530.0 1739.3 L1531.0 1739.3 L1532.0 1739.3 L1533.0 1739.3 L1534.0 1739.3 L1535.0 1739.3 L1536.0 1739.3 L1537.0 1739.3 L1538.0 1739.3 L1539.0 1739.3 L1540.0 1739.3 L1541.0 1739.3 L1542.0 1739.2 L1543.0 1739.2 L1544.0 1739.2 L1545.0 1739.2 L1546.0 1739.1 L1547.0 1739.1 L1548.0 1739.1 L1549.0 1739.0 L1550.0 1739.0 L1551.0 1738.9 L1552.0 1738.9 L1553.0 1738.8 L1554.0 1738.8 L1555.0 1738.7 L1556.0 1738.7 L1557.0 1738.6 L1558.0 1738.6 L1559.0 1738.5 L1560.0 1738.4 L1561.0 1738.4 L1562.0 1738.5 L1563.0 1738.5 L1564.0 1738.5 L1565.0 1738.5 L1566.0 1738.5 L1567.0 1738.5 L1568.0 1738.5 L1569.0 1738.5 L1570.0 1738.5 L1571.0 1738.5 L1572.0 1738.5 L1573.0 1738.4 L1574.0 1738.3 L1575.0 1738.2 L1576.0 1738.1 L1577.0 1738.1 L1578.0 1738.0 L1579.0 1737.9 L1580.0 1737.8 L1581.0 1737.7 L1582.0 1737.6 L1583.0 1737.5 L1584.0 1737.4 L1585.0 1737.3 L1586.0 1737.2 L1587.0 1737.1 L1588.0 1737.0 L1589.0 1736.9 L1590.0 1736.8 L1591.0 1736.7 L1592.0 1736.6 L1593.0 1736.5 L1594.0 1736.4 L1595.0 1736.3 L1596.0 1736.0 L1597.0 1735.8 L1598.0 1735.6 L1599.0 1735.3 L1600.0 1735.1 L1601.0 1734.9 L1602.0 1734.6 L1603.0 1734.4 L1604.0 1734.2 L1605.0 1733.9 L1606.0 1733.7 L1607.0 1733.5 L1608.0 1733.2 L1609.0 1733.0 L1610.0 1732.8 L1611.0 1732.5 L1612.0 1732.3 L1613.0 1732.1 L1614.0 1731.8 L1615.0 1731.6 L1616.0 1731.3 L1617.0 1731.1 L1618.0 1730.9 L1619.0 1730.6 L1620.0 1730.4 L1621.0 1730.2 L1622.0 1729.9 L1623.0 1729.7 L1624.0 1729.4 L1625.0 1729.2 L1626.0 1729.0 L1627.0 1728.7 L1628.0 1728.5 L1629.0 1728.2 L1630.0 1728.0 L1631.0 1727.8 L1632.0 1727.5 L1633.0 1727.3 L1634.0 1727.0 L1635.0 1726.8 L1636.0 1726.6 L1637.0 1726.3 L1638.0 1726.1 L1639.0 1725.8 L1640.0 1725.7 L1641.0 1725.5 L1642.0 1725.3 L1643.0 1725.2 L1644.0 1725.0 L1645.0 1724.8 L1646.0 1724.7 L1647.0 1724.5 L1648.0 1724.3 L1649.0 1724.2 L1650.0 1724.0 L1651.0 1723.8 L1652.0 1723.7 L1653.0 1723.5 L1654.0 1723.3 L1655.0 1723.2 L1656.0 1723.0 L1657.0 1722.8 L1658.0 1722.7 L1659.0 1722.5 L1660.0 1722.3 L1661.0 1722.1 L1662.0 1722.0 L1663.0 1721.8 L1664.0 1721.6 L1665.0 1721.5 L1666.0 1721.3 L1667.0 1721.1 L1668.0 1721.0 L1669.0 1720.8 L1670.0 1720.6 L1671.0 1720.5 L1672.0 1720.3 L1673.0 1720.1 L1674.0 1719.9 L1675.0 1719.8 L1676.0 1719.6 L1677.0 1719.4 L1678.0 1719.3 L1679.0 1719.1 L1680.0 1718.9 L1681.0 1718.7 L1682.0 1718.6 L1683.0 1718.4 L1684.0 1718.2 L1685.0 1718.1 L1686.0 1717.9 L1687.0 1717.7 L1688.0 1717.6 L1689.0 1717.4 L1690.0 1717.2 L1691.0 1717.0 L1692.0 1716.9 L1693.0 1716.7 L1694.0 1716.5 L1695.0 1716.4 L1696.0 1716.2 L1697.0 1716.0 L1698.0 1715.8 L1699.0 1715.7 L1700.0 1715.5 L1701.0 1715.3 L1702.0 1715.1 L1703.0 1715.0 L1704.0 1714.8 L1705.0 1714.6 L1706.0 1714.5 L1707.0 1714.3 L1708.0 1714.1 L1709.0 1713.9 L1710.0 1713.8 L1711.0 1713.6 L1712.0 1713.4 L1713.0 1713.3 L1714.0 1713.1 L1715.0 1712.9 L1716.0 1712.7 L1717.0 1712.6 L1718.0 1712.4 L1719.0 1712.2 L1720.0 1712.1 L1721.0 1711.9 L1722.0 1711.7 L1723.0 1711.5 L1724.0 1711.4 L1725.0 1711.2 L1726.0 1711.0 L1727.0 1710.8 L1728.0 1710.7 L1729.0 1710.5 L1730.0 1710.3 L1731.0 1710.1 L1732.0 1709.9 L1733.0 1709.7 L1734.0 1709.5 L1735.0 1709.3 L1736.0 1709.1 L1737.0 1708.9 L1738.0 1708.7 L1739.0 1708.5 L1740.0 1708.3 L1741.0 1708.1 L1742.0 1707.9 L1743.0 1707.7 L1744.0 1707.5 L1745.0 1707.3 L1746.0 1707.1 L1747.0 1706.9 L1748.0 1706.7 L1749.0 1706.5 L1750.0 1706.3 L1751.0 1706.1 L1752.0 1705.9 L1753.0 1705.7 L1754.0 1705.5 L1755.0 1705.3 L1756.0 1705.1 L1757.0 1704.9 L1758.0 1704.7 L1759.0 1704.5 L1760.0 1704.3 L1761.0 1704.1 L1762.0 1704.0 L1763.0 1703.8 L1764.0 1703.6 L1765.0 1703.5 L1766.0 1703.3 L1767.0 1703.1 L1768.0 1703.0 L1769.0 1702.8 L1770.0 1702.6 L1771.0 1702.5 L1772.0 1702.3 L1773.0 1702.1 L1774.0 1702.0 L1775.0 1702.8 L1776.0 1704.1 L1777.0 1705.5 L1778.0 1706.8 L1779.0 1708.1 L1780.0 1709.5 L1781.0 1710.8 L1782.0 1714.8 L1783.0 1718.8 L1784.0 1722.8 L1785.0 1726.8 L1786.0 1731.9 L1787.0 1737.9 L1788.0 1743.9 L1789.0 1749.9 L1790.0 1754.6 L1791.0 1748.6 L1792.0 1742.6 L1793.0 1736.6 L1794.0 1730.6 L1795.0 1726.6 L1796.0 1723.6 L1797.0 1720.6 L1798.0 1717.6 L1799.0 1715.1 L1800.0 1714.1 L1801.0 1713.1 L1802.0 1712.1 L1803.0 1711.1 L1804.0 1711.0 L1805.0 1711.2 L1806.0 1711.3 L1807.0 1711.5 L1808.0 1711.7 L1809.0 1711.9 L1810.0 1712.1 L1811.0 1712.3 L1812.0 1712.4 L1813.0 1712.6 L1814.0 1712.8 L1815.0 1713.0 L1816.0 1713.2 L1817.0 1713.4 L1818.0 1713.5 L1819.0 1713.7 L1820.0 1713.9 L1821.0 1714.1 L1822.0 1714.3 L1823.0 1714.5 L1824.0 1714.6 L1825.0 1714.8 L1826.0 1715.0 L1827.0 1715.2 L1828.0 1715.4 L1829.0 1715.5 L1830.0 1715.7 L1831.0 1715.8 L1832.0 1716.0 L1833.0 1716.1 L1834.0 1716.3 L1835.0 1716.4 L1836.0 1716.6 L1837.0 1716.7 L1838.0 1716.9 L1839.0 1717.0 L1840.0 1717.2 L1841.0 1717.3 L1842.0 1717.5 L1843.0 1717.6 L1844.0 1717.8 L1845.0 1717.9 L1846.0 1718.1 L1847.0 1718.2 L1848.0 1718.4 L1849.0 1718.5 L1850.0 1718.7 L1851.0 1718.8 L1852.0 1719.0 L1853.0 1719.1 L1854.0 1719.3 L1855.0 1719.4 L1856.0 1719.6 L1857.0 1719.7 L1858.0 1719.9 L1859.0 1720.0 L1860.0 1720.2 L1861.0 1720.3 L1862.0 1720.5 L1863.0 1720.6 L1864.0 1720.8 L1865.0 1720.9 L1866.0 1721.1 L1867.0 1721.2 L1868.0 1721.4 L1869.0 1721.5 L1870.0 1721.7 L1871.0 1721.8 L1872.0 1722.0 L1873.0 1722.4 L1874.0 1722.8 L1875.0 1723.2 L1876.0 1723.7 L1877.0 1724.1 L1878.0 1724.5 L1879.0 1725.0 L1880.0 1725.4 L1881.0 1725.8 L1882.0 1726.2 L1883.0 1726.7 L1884.0 1727.1 L1885.0 1727.5 L1886.0 1728.0 L1887.0 1728.4 L1888.0 1728.9 L1889.0 1729.6 L1890.0 1730.2 L1891.0 1730.9 L1892.0 1731.6 L1893.0 1732.2 L1894.0 1732.9 L1895.0 1733.6 L1896.0 1734.2 L1897.0 1734.9 L1898.0 1735.6 L1899.0 1736.2 L1900.0 1736.9 L1901.0 1737.5 L1902.0 1737.0 L1903.0 1736.4 L1904.0 1735.8 L1905.0 1735.2 L1906.0 1734.7 L1907.0 1734.1 L1908.0 1733.5 L1909.0 1733.0 L1910.0 1732.4 L1911.0 1731.8 L1912.0 1731.2 L1913.0 1730.7 L1914.0 1730.1 L1915.0 1729.5 L1916.0 1729.0 L1917.0 1728.1 L1918.0 1726.9 L1919.0 1725.7 L1920.0 1724.5 L1921.0 1723.3 L1922.0 1722.1 L1923.0 1720.9 L1924.0 1719.7 L1925.0 1718.5 L1926.0 1717.3 L1927.0 1716.1 L1928.0 1715.0 L1929.0 1714.0 L1930.0 1713.0 L1931.0 1712.0 L1932.0 1711.0 L1933.0 1710.0 L1934.0 1709.0 L1935.0 1708.0 L1936.0 1707.0 L1937.0 1706.0 L1938.0 1705.0 L1939.0 1704.2 L1940.0 1703.9 L1941.0 1703.6 L1942.0 1703.3 L1943.0 1703.0 L1944.0 1702.7 L1945.0 1702.4 L1946.0 1702.1 L1947.0 1701.8 L1948.0 1701.5 L1949.0 1701.2 L1950.0 1700.9 L1951.0 1700.8 L1952.0 1700.7 L1953.0 1700.6 L1954.0 1700.5 L1955.0 1700.4 L1956.0 1700.4 L1957.0 1700.3 L1958.0 1700.2 L1959.0 1700.1 L1960.0 1700.0 L1961.0 1699.9 L1962.0 1699.8 L1963.0 1699.7 L1964.0 1699.6 L1965.0 1699.5 L1966.0 1699.4 L1967.0 1699.3 L1968.0 1699.2 L1969.0 1699.1 L1970.0 1699.0 L1971.0 1698.9 L1972.0 1698.8 L1973.0 1698.8 L1974.0 1698.7" fill="none" stroke="#b865cc" stroke-opacity="0.6" stroke-width="1.3"/>
<path d="M1144.3 1803.7 L1183.4 1808.0 L1226.8 1810.2 L1287.5 1810.2 L1313.5 1803.7 L1335.2 1797.2 L1356.9 1789.6 L1378.6 1782.0 L1400.3 1775.5 L1422.0 1769.0 L1443.7 1760.3 L1465.4 1756.0 L1487.1 1751.6 L1508.8 1747.3 L1530.5 1744.0 L1560.0 1740.8 L1572.2 1740.3 L1594.4 1737.7 L1638.8 1726.6 L1683.3 1718.8 L1727.7 1711.0 L1761.0 1704.3 L1774.3 1702.1 L1781.0 1711.0 L1785.5 1728.8 L1789.9 1755.4 L1794.3 1728.8 L1798.8 1715.5 L1803.2 1711.0 L1827.7 1715.5 L1849.9 1718.8 L1872.1 1722.1 L1887.6 1728.8 L1901.0 1737.7 L1916.5 1728.8 L1927.6 1715.5 L1938.7 1704.3 L1949.8 1701.0 L1973.4 1698.8" fill="none" stroke="#8a5a9a" stroke-width="2.4"/>
<line x1="1322.90" y1="1801.50" x2="1322.90" y2="1788.50" stroke="#4b8ccc" stroke-width="1.80"/>
<line x1="1336.30" y1="1797.00" x2="1336.30" y2="1790.00" stroke="#4b8ccc" stroke-width="1.80"/>
<line x1="1358.00" y1="1790.70" x2="1358.00" y2="1734.30" stroke="#4b8ccc" stroke-width="1.80"/>
<line x1="1387.30" y1="1779.80" x2="1387.30" y2="1642.10" stroke="#4b8ccc" stroke-width="1.80"/>
<line x1="1433.90" y1="1765.70" x2="1433.90" y2="1731.00" stroke="#4b8ccc" stroke-width="1.80"/>
<line x1="1452.40" y1="1760.30" x2="1452.40" y2="1733.20" stroke="#4b8ccc" stroke-width="1.80"/>
<line x1="1474.00" y1="1754.90" x2="1474.00" y2="1747.30" stroke="#4b8ccc" stroke-width="1.80"/>
<line x1="1481.60" y1="1753.80" x2="1481.60" y2="1737.50" stroke="#4b8ccc" stroke-width="1.80"/>
<line x1="1584.40" y1="1737.70" x2="1584.40" y2="1724.30" stroke="#4b8ccc" stroke-width="1.80"/>
<line x1="1612.20" y1="1730.00" x2="1612.20" y2="1722.00" stroke="#4b8ccc" stroke-width="1.80"/>
<line x1="1627.70" y1="1726.00" x2="1627.70" y2="1720.00" stroke="#4b8ccc" stroke-width="1.80"/>
<line x1="1678.80" y1="1719.00" x2="1678.80" y2="1709.00" stroke="#4b8ccc" stroke-width="1.80"/>
<line x1="1687.70" y1="1717.00" x2="1687.70" y2="1706.70" stroke="#4b8ccc" stroke-width="1.80"/>
<line x1="1751.00" y1="1704.00" x2="1751.00" y2="1700.00" stroke="#4b8ccc" stroke-width="1.80"/>
<line x1="1830.30" y1="1712.00" x2="1830.30" y2="1704.00" stroke="#4b8ccc" stroke-width="1.80"/>
<line x1="1842.10" y1="1714.00" x2="1842.10" y2="1706.50" stroke="#4b8ccc" stroke-width="1.80"/>
<line x1="1925.40" y1="1712.00" x2="1925.40" y2="1702.00" stroke="#4b8ccc" stroke-width="1.80"/>
<line x1="1932.00" y1="1707.00" x2="1932.00" y2="1698.00" stroke="#4b8ccc" stroke-width="1.80"/>
<line x1="1937.60" y1="1705.00" x2="1937.60" y2="1696.00" stroke="#4b8ccc" stroke-width="1.80"/>
<line x1="1701.00" y1="1687.70" x2="1741.00" y2="1695.50" stroke="#a0a0a0" stroke-width="2.00"/>
<path d="M1144.3 1795.0 L1145.9 1798.9 L1147.5 1784.5 L1149.1 1783.9 L1150.7 1792.6 L1152.3 1802.2 L1153.9 1793.2 L1155.5 1782.4 L1157.1 1785.3 L1158.7 1790.3 L1160.3 1797.3 L1161.9 1790.8 L1163.5 1788.6 L1165.1 1789.7 L1166.7 1792.6 L1168.3 1786.4 L1169.9 1791.7 L1171.5 1793.7 L1173.1 1803.5 L1174.7 1792.7 L1176.3 1800.5 L1177.9 1787.6 L1179.5 1801.4 L1181.1 1797.4 L1182.7 1793.4 L1184.3 1797.5 L1185.9 1804.2 L1187.5 1796.2 L1189.1 1805.9 L1190.7 1809.7 L1192.3 1810.8 L1193.9 1811.2 L1195.5 1791.7 L1197.1 1803.2 L1198.7 1796.6 L1200.3 1808.1 L1201.9 1802.6 L1203.5 1804.0 L1205.1 1806.0 L1206.7 1798.9 L1208.3 1803.8 L1209.9 1798.4 L1211.5 1817.8 L1213.1 1800.5 L1214.7 1803.9 L1216.3 1791.9 L1217.9 1794.0 L1219.5 1798.5 L1221.1 1809.9 L1222.7 1809.9 L1224.3 1806.7 L1225.9 1800.5 L1227.5 1817.8 L1229.1 1798.1 L1230.7 1799.4 L1232.3 1808.7 L1233.9 1798.6 L1235.5 1807.4 L1237.1 1812.3 L1238.7 1805.3 L1240.3 1808.7 L1241.9 1806.2 L1243.5 1801.4 L1245.1 1786.9 L1246.7 1788.6 L1248.3 1791.3 L1249.9 1779.7 L1251.5 1787.3 L1253.1 1792.7 L1254.7 1800.6 L1256.3 1782.2 L1257.9 1788.1 L1259.5 1793.4 L1261.1 1795.6 L1262.7 1782.3 L1264.3 1804.5 L1265.9 1785.8 L1267.5 1798.8 L1269.1 1789.7 L1270.7 1793.8 L1272.3 1802.6 L1273.9 1796.2 L1275.5 1792.4 L1277.1 1784.7 L1278.7 1787.3 L1280.3 1782.1 L1281.9 1805.4 L1283.5 1779.7 L1285.1 1773.8 L1286.7 1799.8 L1288.3 1796.3 L1289.9 1784.0 L1291.5 1788.3 L1293.1 1782.8 L1294.7 1783.0 L1296.3 1785.7 L1297.9 1784.9 L1299.5 1781.8 L1301.1 1787.4 L1302.7 1784.3 L1304.3 1782.0 L1305.9 1777.6 L1307.5 1781.1 L1309.1 1779.2 L1310.7 1779.5 L1312.3 1781.6 L1313.9 1776.9 L1315.5 1778.6 L1317.1 1779.4 L1318.7 1777.3 L1320.3 1781.9 L1321.9 1769.5 L1323.5 1773.7 L1325.1 1769.3 L1326.7 1771.3 L1328.3 1776.8 L1329.9 1764.1 L1331.5 1766.8 L1333.1 1768.4 L1334.7 1765.4 L1336.3 1766.3 L1337.9 1757.4 L1339.5 1763.3 L1341.1 1756.0 L1342.7 1753.6 L1344.3 1757.3 L1345.9 1754.9 L1347.5 1749.1 L1349.1 1745.3 L1350.7 1743.0 L1352.3 1739.7 L1353.9 1735.8 L1355.5 1727.2 L1357.1 1714.4 L1358.7 1711.0 L1360.3 1696.1 L1361.9 1679.9 L1363.5 1665.9 L1365.1 1654.3 L1366.7 1637.7 L1368.3 1615.7 L1369.9 1604.0 L1371.5 1583.4 L1373.1 1560.0 L1374.7 1536.0 L1376.3 1511.5 L1377.9 1490.8 L1379.5 1470.8 L1381.1 1455.9 L1382.7 1445.2 L1384.3 1435.5 L1385.9 1428.0 L1387.5 1459.9 L1389.1 1488.1 L1390.7 1511.3 L1392.3 1532.2 L1393.9 1552.1 L1395.5 1579.0 L1397.1 1609.7 L1398.7 1636.8 L1400.3 1651.5 L1401.9 1668.0 L1403.5 1679.2 L1405.1 1685.9 L1406.7 1701.9 L1408.3 1699.9 L1409.9 1709.7 L1411.5 1709.8 L1413.1 1716.2 L1414.7 1716.1 L1416.3 1718.4 L1417.9 1722.3 L1419.5 1720.8 L1421.1 1722.9 L1422.7 1716.1 L1424.3 1714.4 L1425.9 1709.4 L1427.5 1701.6 L1429.1 1688.3 L1430.7 1671.0 L1432.3 1660.4 L1433.9 1658.7 L1435.5 1656.2 L1437.1 1654.4 L1438.7 1651.6 L1440.3 1657.9 L1441.9 1668.0 L1443.5 1667.2 L1445.1 1678.2 L1446.7 1690.5 L1448.3 1681.1 L1449.9 1686.9 L1451.5 1696.5 L1453.1 1693.2 L1454.7 1695.1 L1456.3 1690.6 L1457.9 1685.7 L1459.5 1701.8 L1461.1 1693.6 L1462.7 1693.7 L1464.3 1700.2 L1465.9 1696.8 L1467.5 1693.8 L1469.1 1688.9 L1470.7 1693.5 L1472.3 1693.8 L1473.9 1691.8 L1475.5 1691.3 L1477.1 1691.5 L1478.7 1696.7 L1480.3 1695.9 L1481.9 1701.7 L1483.5 1705.7 L1485.1 1703.8 L1486.7 1703.8 L1488.3 1711.4 L1489.9 1708.0 L1491.5 1699.1 L1493.1 1703.2 L1494.7 1707.9 L1496.3 1703.7 L1497.9 1711.7 L1499.5 1701.1 L1501.1 1701.0 L1502.7 1714.6 L1504.3 1713.4 L1505.9 1704.3 L1507.5 1712.5 L1509.1 1718.9 L1510.7 1708.8 L1512.3 1709.4 L1513.9 1710.3 L1515.5 1712.3 L1517.1 1709.9 L1518.7 1716.4 L1520.3 1712.8 L1521.9 1719.9 L1523.5 1729.8 L1525.1 1715.5 L1526.7 1724.6 L1528.3 1726.1 L1529.9 1711.3 L1531.5 1721.8 L1533.1 1721.2 L1534.7 1719.8 L1536.3 1724.9 L1537.9 1719.3 L1539.5 1722.9 L1541.1 1719.5 L1542.7 1720.9 L1544.3 1718.4 L1545.9 1732.1 L1547.5 1722.3 L1549.1 1717.8 L1550.7 1731.9 L1552.3 1730.6 L1553.9 1723.1 L1555.5 1721.4 L1557.1 1721.5 L1558.7 1730.8 L1560.3 1722.6 L1561.9 1717.9 L1563.5 1725.0 L1565.1 1720.2 L1566.7 1721.3 L1568.3 1730.4 L1569.9 1725.8 L1571.5 1727.6 L1573.1 1723.8 L1574.7 1727.4 L1576.3 1720.5 L1577.9 1725.3 L1579.5 1725.4 L1581.1 1718.5 L1582.7 1714.3 L1584.3 1722.1 L1585.9 1718.8 L1587.5 1721.8 L1589.1 1716.0 L1590.7 1720.8 L1592.3 1722.4 L1593.9 1727.7 L1595.5 1725.5 L1597.1 1718.9 L1598.7 1723.3 L1600.3 1713.7 L1601.9 1721.4 L1603.5 1716.5 L1605.1 1721.5 L1606.7 1716.7 L1608.3 1713.9 L1609.9 1711.4 L1611.5 1719.9 L1613.1 1714.2 L1614.7 1716.8 L1616.3 1715.5 L1617.9 1704.0 L1619.5 1715.7 L1621.1 1711.1 L1622.7 1714.4 L1624.3 1714.6 L1625.9 1704.2 L1627.5 1710.7 L1629.1 1711.7 L1630.7 1713.6 L1632.3 1715.9 L1633.9 1708.5 L1635.5 1710.3 L1637.1 1714.0 L1638.7 1702.8 L1640.3 1719.0 L1641.9 1706.2 L1643.5 1716.0 L1645.1 1710.4 L1646.7 1717.9 L1648.3 1713.8 L1649.9 1708.6 L1651.5 1700.6 L1653.1 1708.1 L1654.7 1708.3 L1656.3 1708.7 L1657.9 1700.0 L1659.5 1701.3 L1661.1 1700.8 L1662.7 1705.3 L1664.3 1699.9 L1665.9 1703.0 L1667.5 1707.4 L1669.1 1701.1 L1670.7 1708.8 L1672.3 1703.8 L1673.9 1701.1 L1675.5 1706.3 L1677.1 1702.5 L1678.7 1697.9 L1680.3 1695.5 L1681.9 1696.9 L1683.5 1697.6 L1685.1 1700.1 L1686.7 1695.1 L1688.3 1690.2 L1689.9 1686.4 L1691.5 1692.8 L1693.1 1692.7 L1694.7 1695.4 L1696.3 1687.3 L1697.9 1683.2 L1699.5 1692.1 L1701.0 1687.7" fill="none" stroke="#000" stroke-width="6" stroke-linejoin="round" stroke-linecap="round"/>
<path d="M1741.0 1696.2 L1742.6 1691.9 L1744.2 1704.1 L1745.8 1694.4 L1747.4 1692.0 L1749.0 1692.8 L1750.6 1687.2 L1752.2 1686.5 L1753.8 1694.2 L1755.4 1689.0 L1757.0 1696.7 L1758.6 1691.3 L1760.2 1682.7 L1761.8 1686.5 L1763.4 1690.7 L1765.0 1685.8 L1766.6 1698.4 L1768.2 1698.8 L1769.8 1707.4 L1771.4 1695.1 L1773.0 1696.6 L1774.6 1699.1 L1776.2 1698.0 L1777.8 1691.1 L1779.4 1710.6 L1781.0 1703.0 L1782.6 1718.3 L1784.2 1715.2 L1785.8 1720.3 L1787.4 1721.4 L1789.0 1733.8 L1790.6 1746.3 L1792.2 1723.1 L1793.8 1728.2 L1795.4 1719.5 L1797.0 1702.4 L1798.6 1704.7 L1800.2 1699.9 L1801.8 1686.8 L1803.4 1685.0 L1805.0 1694.1 L1806.6 1689.2 L1808.2 1698.8 L1809.8 1688.8 L1811.4 1679.2 L1813.0 1685.1 L1814.6 1678.1 L1816.2 1688.8 L1817.8 1689.3 L1819.4 1683.9 L1821.0 1682.2 L1822.6 1693.6 L1824.2 1687.3 L1825.8 1697.6 L1827.4 1686.0 L1829.0 1691.1 L1830.6 1690.7 L1832.2 1689.0 L1833.8 1708.3 L1835.4 1707.1 L1837.0 1695.0 L1838.6 1704.4 L1840.2 1690.4 L1841.8 1709.0 L1843.4 1709.0 L1845.0 1701.7 L1846.6 1702.6 L1848.2 1707.0 L1849.8 1709.2 L1851.4 1705.1 L1853.0 1702.9 L1854.6 1707.0 L1856.2 1706.7 L1857.8 1714.3 L1859.4 1710.9 L1861.0 1712.4 L1862.6 1702.1 L1864.2 1710.1 L1865.8 1710.7 L1867.4 1710.6 L1869.0 1713.6 L1870.6 1713.2 L1872.2 1706.8 L1873.8 1721.6 L1875.4 1722.2 L1877.0 1714.5 L1878.6 1721.8 L1880.2 1713.4 L1881.8 1712.1 L1883.4 1718.8 L1885.0 1729.0 L1886.6 1719.4 L1888.2 1711.2 L1889.8 1721.4 L1891.4 1716.7 L1893.0 1716.2 L1894.6 1722.9 L1896.2 1711.3 L1897.8 1711.6 L1899.4 1714.1 L1901.0 1729.3 L1902.6 1724.2 L1904.2 1720.6 L1905.8 1719.7 L1907.4 1724.3 L1909.0 1724.5 L1910.6 1709.9 L1912.2 1712.4 L1913.8 1719.6 L1915.4 1708.0 L1917.0 1699.8 L1918.6 1701.8 L1920.2 1698.5 L1921.8 1699.9 L1923.4 1696.1 L1925.0 1689.3 L1926.6 1689.6 L1928.2 1690.8 L1929.8 1683.3 L1931.4 1686.4 L1933.0 1679.5 L1934.6 1690.6 L1936.2 1691.2 L1937.8 1675.9 L1939.4 1684.8 L1941.0 1680.3 L1942.6 1679.2 L1944.2 1676.5 L1945.8 1678.9 L1947.4 1682.5 L1949.0 1669.0 L1950.6 1682.0 L1952.2 1675.2 L1953.8 1671.0 L1955.4 1677.7 L1957.0 1682.3 L1958.6 1678.8 L1960.2 1681.6 L1961.8 1678.6 L1963.4 1678.1 L1965.0 1687.6 L1966.6 1677.1 L1968.2 1688.9 L1969.8 1685.7 L1971.4 1682.8 L1973.0 1682.9 L1974.3 1683.2" fill="none" stroke="#000" stroke-width="6" stroke-linejoin="round" stroke-linecap="round"/>
<line x1="1172.50" y1="1800.43" x2="1172.50" y2="1753.80" stroke="#7cc68a" stroke-width="2.20"/>
<rect x="1170.3" y="1759.8" width="4.4" height="4.4" fill="none" stroke="#111" stroke-width="1.4"/><rect x="1170.3" y="1767.8" width="4.4" height="4.4" fill="none" stroke="#111" stroke-width="1.4"/><rect x="1170.3" y="1776.8" width="4.4" height="4.4" fill="none" stroke="#111" stroke-width="1.4"/>
<line x1="1226.80" y1="1801.52" x2="1226.80" y2="1777.70" stroke="#7cc68a" stroke-width="2.20"/>
<rect x="1224.6" y="1777.8" width="4.4" height="4.4" fill="none" stroke="#111" stroke-width="1.4"/><rect x="1224.6" y="1783.8" width="4.4" height="4.4" fill="none" stroke="#111" stroke-width="1.4"/>
<line x1="1242.00" y1="1801.52" x2="1242.00" y2="1762.50" stroke="#7cc68a" stroke-width="2.20"/>
<rect x="1239.8" y="1766.8" width="4.4" height="4.4" fill="none" stroke="#111" stroke-width="1.4"/><rect x="1239.8" y="1773.8" width="4.4" height="4.4" fill="none" stroke="#111" stroke-width="1.4"/><rect x="1239.8" y="1779.8" width="4.4" height="4.4" fill="none" stroke="#111" stroke-width="1.4"/>
<line x1="1260.40" y1="1801.30" x2="1260.40" y2="1720.20" stroke="#7cc68a" stroke-width="2.20"/>
<rect x="1258.2" y="1730.8" width="4.4" height="4.4" fill="none" stroke="#111" stroke-width="1.4"/><rect x="1258.2" y="1735.8" width="4.4" height="4.4" fill="none" stroke="#111" stroke-width="1.4"/><rect x="1258.2" y="1765.8" width="4.4" height="4.4" fill="none" stroke="#111" stroke-width="1.4"/><rect x="1258.2" y="1774.8" width="4.4" height="4.4" fill="none" stroke="#111" stroke-width="1.4"/>
<line x1="1358.00" y1="1710.44" x2="1358.00" y2="1655.10" stroke="#7cc68a" stroke-width="2.20"/>
<rect x="1355.8" y="1661.8" width="4.4" height="4.4" fill="none" stroke="#111" stroke-width="1.4"/><rect x="1355.8" y="1667.8" width="4.4" height="4.4" fill="none" stroke="#111" stroke-width="1.4"/><rect x="1355.8" y="1689.8" width="4.4" height="4.4" fill="none" stroke="#111" stroke-width="1.4"/><rect x="1355.8" y="1697.8" width="4.4" height="4.4" fill="none" stroke="#111" stroke-width="1.4"/>
<line x1="1387.50" y1="1466.78" x2="1387.50" y2="1409.10" stroke="#7cc68a" stroke-width="2.20"/>
<rect x="1385.3" y="1417.8" width="4.4" height="4.4" fill="none" stroke="#111" stroke-width="1.4"/><rect x="1385.3" y="1425.8" width="4.4" height="4.4" fill="none" stroke="#111" stroke-width="1.4"/><rect x="1385.3" y="1433.8" width="4.4" height="4.4" fill="none" stroke="#111" stroke-width="1.4"/><rect x="1385.3" y="1441.8" width="4.4" height="4.4" fill="none" stroke="#111" stroke-width="1.4"/><rect x="1385.3" y="1449.8" width="4.4" height="4.4" fill="none" stroke="#111" stroke-width="1.4"/><rect x="1385.3" y="1457.8" width="4.4" height="4.4" fill="none" stroke="#111" stroke-width="1.4"/><rect x="1385.3" y="1465.8" width="4.4" height="4.4" fill="none" stroke="#111" stroke-width="1.4"/>
<line x1="1437.20" y1="1645.42" x2="1437.20" y2="1643.20" stroke="#7cc68a" stroke-width="2.20"/>

<line x1="1453.40" y1="1704.99" x2="1453.40" y2="1682.20" stroke="#7cc68a" stroke-width="2.20"/>

<line x1="1481.60" y1="1705.52" x2="1481.60" y2="1688.70" stroke="#7cc68a" stroke-width="2.20"/>

<line x1="1535.90" y1="1716.84" x2="1535.90" y2="1708.20" stroke="#7cc68a" stroke-width="2.20"/>
<rect x="1533.7" y="1710.8" width="4.4" height="4.4" fill="none" stroke="#111" stroke-width="1.4"/>
<line x1="1584.40" y1="1719.79" x2="1584.40" y2="1548.90" stroke="#7cc68a" stroke-width="2.20"/>
<rect x="1582.2" y="1584.4" width="4.4" height="4.4" fill="none" stroke="#111" stroke-width="1.4"/><rect x="1582.2" y="1598.8" width="4.4" height="4.4" fill="none" stroke="#111" stroke-width="1.4"/><rect x="1582.2" y="1622.8" width="4.4" height="4.4" fill="none" stroke="#111" stroke-width="1.4"/><rect x="1582.2" y="1627.8" width="4.4" height="4.4" fill="none" stroke="#111" stroke-width="1.4"/><rect x="1582.2" y="1666.8" width="4.4" height="4.4" fill="none" stroke="#111" stroke-width="1.4"/><rect x="1582.2" y="1675.8" width="4.4" height="4.4" fill="none" stroke="#111" stroke-width="1.4"/><rect x="1582.2" y="1697.8" width="4.4" height="4.4" fill="none" stroke="#111" stroke-width="1.4"/>
<line x1="1612.20" y1="1716.12" x2="1612.20" y2="1688.80" stroke="#7cc68a" stroke-width="2.20"/>
<rect x="1610.0" y="1690.8" width="4.4" height="4.4" fill="none" stroke="#111" stroke-width="1.4"/><rect x="1610.0" y="1697.8" width="4.4" height="4.4" fill="none" stroke="#111" stroke-width="1.4"/><rect x="1610.0" y="1703.8" width="4.4" height="4.4" fill="none" stroke="#111" stroke-width="1.4"/>
<line x1="1627.70" y1="1713.79" x2="1627.70" y2="1684.40" stroke="#7cc68a" stroke-width="2.20"/>
<rect x="1625.5" y="1685.8" width="4.4" height="4.4" fill="none" stroke="#111" stroke-width="1.4"/><rect x="1625.5" y="1691.8" width="4.4" height="4.4" fill="none" stroke="#111" stroke-width="1.4"/><rect x="1625.5" y="1697.8" width="4.4" height="4.4" fill="none" stroke="#111" stroke-width="1.4"/>
<line x1="1678.80" y1="1706.13" x2="1678.80" y2="1697.70" stroke="#7cc68a" stroke-width="2.20"/>

<line x1="1687.70" y1="1704.57" x2="1687.70" y2="1683.20" stroke="#7cc68a" stroke-width="2.20"/>
<rect x="1685.5" y="1685.8" width="4.4" height="4.4" fill="none" stroke="#111" stroke-width="1.4"/><rect x="1685.5" y="1691.8" width="4.4" height="4.4" fill="none" stroke="#111" stroke-width="1.4"/>
<line x1="1758.80" y1="1691.91" x2="1758.80" y2="1627.70" stroke="#7cc68a" stroke-width="2.20"/>
<rect x="1756.6" y="1637.8" width="4.4" height="4.4" fill="none" stroke="#111" stroke-width="1.4"/><rect x="1756.6" y="1644.8" width="4.4" height="4.4" fill="none" stroke="#111" stroke-width="1.4"/><rect x="1756.6" y="1654.8" width="4.4" height="4.4" fill="none" stroke="#111" stroke-width="1.4"/><rect x="1756.6" y="1666.8" width="4.4" height="4.4" fill="none" stroke="#111" stroke-width="1.4"/>
<line x1="1830.30" y1="1698.08" x2="1830.30" y2="1648.80" stroke="#7cc68a" stroke-width="2.20"/>
<rect x="1828.1" y="1659.8" width="4.4" height="4.4" fill="none" stroke="#111" stroke-width="1.4"/><rect x="1828.1" y="1670.8" width="4.4" height="4.4" fill="none" stroke="#111" stroke-width="1.4"/><rect x="1828.1" y="1677.8" width="4.4" height="4.4" fill="none" stroke="#111" stroke-width="1.4"/>
<line x1="1842.10" y1="1699.85" x2="1842.10" y2="1671.00" stroke="#7cc68a" stroke-width="2.20"/>
<rect x="1839.9" y="1670.8" width="4.4" height="4.4" fill="none" stroke="#111" stroke-width="1.4"/><rect x="1839.9" y="1677.8" width="4.4" height="4.4" fill="none" stroke="#111" stroke-width="1.4"/>
<line x1="1868.10" y1="1703.13" x2="1868.10" y2="1666.60" stroke="#7cc68a" stroke-width="2.20"/>
<rect x="1865.9" y="1664.8" width="4.4" height="4.4" fill="none" stroke="#111" stroke-width="1.4"/><rect x="1865.9" y="1670.8" width="4.4" height="4.4" fill="none" stroke="#111" stroke-width="1.4"/><rect x="1865.9" y="1677.8" width="4.4" height="4.4" fill="none" stroke="#111" stroke-width="1.4"/><rect x="1865.9" y="1683.8" width="4.4" height="4.4" fill="none" stroke="#111" stroke-width="1.4"/><rect x="1865.9" y="1688.8" width="4.4" height="4.4" fill="none" stroke="#111" stroke-width="1.4"/>
<line x1="1914.30" y1="1712.55" x2="1914.30" y2="1695.50" stroke="#7cc68a" stroke-width="2.20"/>

<line x1="1925.40" y1="1700.33" x2="1925.40" y2="1409.10" stroke="#7cc68a" stroke-width="2.20"/>
<rect x="1923.2" y="1452.3" width="4.4" height="4.4" fill="none" stroke="#111" stroke-width="1.4"/><rect x="1923.2" y="1463.8" width="4.4" height="4.4" fill="none" stroke="#111" stroke-width="1.4"/><rect x="1923.2" y="1475.8" width="4.4" height="4.4" fill="none" stroke="#111" stroke-width="1.4"/><rect x="1923.2" y="1478.8" width="4.4" height="4.4" fill="none" stroke="#111" stroke-width="1.4"/><rect x="1923.2" y="1517.8" width="4.4" height="4.4" fill="none" stroke="#111" stroke-width="1.4"/><rect x="1923.2" y="1540.8" width="4.4" height="4.4" fill="none" stroke="#111" stroke-width="1.4"/><rect x="1923.2" y="1573.8" width="4.4" height="4.4" fill="none" stroke="#111" stroke-width="1.4"/><rect x="1923.2" y="1614.8" width="4.4" height="4.4" fill="none" stroke="#111" stroke-width="1.4"/><rect x="1923.2" y="1624.8" width="4.4" height="4.4" fill="none" stroke="#111" stroke-width="1.4"/><rect x="1923.2" y="1647.8" width="4.4" height="4.4" fill="none" stroke="#111" stroke-width="1.4"/><rect x="1923.2" y="1664.8" width="4.4" height="4.4" fill="none" stroke="#111" stroke-width="1.4"/><rect x="1923.2" y="1677.8" width="4.4" height="4.4" fill="none" stroke="#111" stroke-width="1.4"/>
<line x1="1932.00" y1="1694.17" x2="1932.00" y2="1646.60" stroke="#7cc68a" stroke-width="2.20"/>
<rect x="1929.8" y="1647.8" width="4.4" height="4.4" fill="none" stroke="#111" stroke-width="1.4"/><rect x="1929.8" y="1657.8" width="4.4" height="4.4" fill="none" stroke="#111" stroke-width="1.4"/><rect x="1929.8" y="1669.8" width="4.4" height="4.4" fill="none" stroke="#111" stroke-width="1.4"/>
<line x1="1939.80" y1="1688.36" x2="1939.80" y2="1546.60" stroke="#7cc68a" stroke-width="2.20"/>
<rect x="1937.6" y="1572.8" width="4.4" height="4.4" fill="none" stroke="#111" stroke-width="1.4"/><rect x="1937.6" y="1583.8" width="4.4" height="4.4" fill="none" stroke="#111" stroke-width="1.4"/><rect x="1937.6" y="1599.8" width="4.4" height="4.4" fill="none" stroke="#111" stroke-width="1.4"/><rect x="1937.6" y="1603.8" width="4.4" height="4.4" fill="none" stroke="#111" stroke-width="1.4"/><rect x="1937.6" y="1632.8" width="4.4" height="4.4" fill="none" stroke="#111" stroke-width="1.4"/><rect x="1937.6" y="1654.8" width="4.4" height="4.4" fill="none" stroke="#111" stroke-width="1.4"/>
<path d="M1144.3 1797.2 L1172.5 1800.4 L1205.1 1801.5 L1237.6 1801.5 L1259.3 1801.5 L1281.0 1797.2 L1302.7 1786.3 L1324.4 1773.3 L1346.1 1749.5 L1356.9 1716.9 L1367.8 1651.8 L1379.0 1490.0 L1381.5 1450.0 L1383.3 1438.9 L1385.5 1445.0 L1388.2 1474.4 L1391.1 1517.0 L1396.0 1586.8 L1400.3 1641.0 L1406.8 1684.4 L1413.3 1703.9 L1422.0 1710.4 L1428.5 1695.2 L1432.8 1662.7 L1437.2 1645.3 L1441.5 1662.7 L1445.9 1695.2 L1452.4 1705.0 L1465.4 1705.0 L1476.2 1703.9 L1487.1 1707.2 L1508.8 1711.5 L1530.5 1715.8 L1560.0 1721.3 L1572.2 1721.0 L1594.4 1718.8 L1616.6 1715.5 L1638.8 1712.1 L1661.1 1708.8 L1683.3 1705.5 L1705.5 1701.0 L1727.7 1696.6 L1749.9 1693.2 L1772.1 1689.9 L1778.8 1693.2 L1785.5 1719.9 L1789.9 1739.9 L1794.3 1722.1 L1801.0 1699.9 L1807.7 1696.6 L1827.7 1697.7 L1849.9 1701.0 L1865.4 1702.1 L1883.2 1708.8 L1894.3 1717.7 L1905.4 1718.8 L1916.5 1711.0 L1927.6 1697.7 L1938.7 1688.8 L1949.8 1684.4 L1972.0 1677.7 L1973.4 1677.2" fill="none" stroke="#5aa66c" stroke-width="3.2" stroke-linejoin="round"/>
</g>
<rect x="1144.2" y="1296.3" width="830.2" height="572.5" fill="none" stroke="#000" stroke-width="3.6"/>
<line x1="1240.40" y1="1868.80" x2="1240.40" y2="1880.80" stroke="#000" stroke-width="3.00"/>
<line x1="1240.40" y1="1296.30" x2="1240.40" y2="1284.30" stroke="#000" stroke-width="3.00"/>
<line x1="1481.01" y1="1868.80" x2="1481.01" y2="1880.80" stroke="#000" stroke-width="3.00"/>
<line x1="1481.01" y1="1296.30" x2="1481.01" y2="1284.30" stroke="#000" stroke-width="3.00"/>
<line x1="1689.43" y1="1868.80" x2="1689.43" y2="1880.80" stroke="#000" stroke-width="3.00"/>
<line x1="1689.43" y1="1296.30" x2="1689.43" y2="1284.30" stroke="#000" stroke-width="3.00"/>
<line x1="1873.27" y1="1868.80" x2="1873.27" y2="1880.80" stroke="#000" stroke-width="3.00"/>
<line x1="1873.27" y1="1296.30" x2="1873.27" y2="1284.30" stroke="#000" stroke-width="3.00"/>
<line x1="1291.58" y1="1868.80" x2="1291.58" y2="1875.80" stroke="#000" stroke-width="2.00"/>
<line x1="1291.58" y1="1296.30" x2="1291.58" y2="1289.30" stroke="#000" stroke-width="2.00"/>
<line x1="1341.14" y1="1868.80" x2="1341.14" y2="1875.80" stroke="#000" stroke-width="2.00"/>
<line x1="1341.14" y1="1296.30" x2="1341.14" y2="1289.30" stroke="#000" stroke-width="2.00"/>
<line x1="1389.17" y1="1868.80" x2="1389.17" y2="1875.80" stroke="#000" stroke-width="2.00"/>
<line x1="1389.17" y1="1296.30" x2="1389.17" y2="1289.30" stroke="#000" stroke-width="2.00"/>
<line x1="1435.76" y1="1868.80" x2="1435.76" y2="1875.80" stroke="#000" stroke-width="2.00"/>
<line x1="1435.76" y1="1296.30" x2="1435.76" y2="1289.30" stroke="#000" stroke-width="2.00"/>
<line x1="1524.98" y1="1868.80" x2="1524.98" y2="1875.80" stroke="#000" stroke-width="2.00"/>
<line x1="1524.98" y1="1296.30" x2="1524.98" y2="1289.30" stroke="#000" stroke-width="2.00"/>
<line x1="1567.74" y1="1868.80" x2="1567.74" y2="1875.80" stroke="#000" stroke-width="2.00"/>
<line x1="1567.74" y1="1296.30" x2="1567.74" y2="1289.30" stroke="#000" stroke-width="2.00"/>
<line x1="1609.37" y1="1868.80" x2="1609.37" y2="1875.80" stroke="#000" stroke-width="2.00"/>
<line x1="1609.37" y1="1296.30" x2="1609.37" y2="1289.30" stroke="#000" stroke-width="2.00"/>
<line x1="1649.91" y1="1868.80" x2="1649.91" y2="1875.80" stroke="#000" stroke-width="2.00"/>
<line x1="1649.91" y1="1296.30" x2="1649.91" y2="1289.30" stroke="#000" stroke-width="2.00"/>
<line x1="1727.97" y1="1868.80" x2="1727.97" y2="1875.80" stroke="#000" stroke-width="2.00"/>
<line x1="1727.97" y1="1296.30" x2="1727.97" y2="1289.30" stroke="#000" stroke-width="2.00"/>
<line x1="1765.58" y1="1868.80" x2="1765.58" y2="1875.80" stroke="#000" stroke-width="2.00"/>
<line x1="1765.58" y1="1296.30" x2="1765.58" y2="1289.30" stroke="#000" stroke-width="2.00"/>
<line x1="1802.31" y1="1868.80" x2="1802.31" y2="1875.80" stroke="#000" stroke-width="2.00"/>
<line x1="1802.31" y1="1296.30" x2="1802.31" y2="1289.30" stroke="#000" stroke-width="2.00"/>
<line x1="1838.20" y1="1868.80" x2="1838.20" y2="1875.80" stroke="#000" stroke-width="2.00"/>
<line x1="1838.20" y1="1296.30" x2="1838.20" y2="1289.30" stroke="#000" stroke-width="2.00"/>
<line x1="1907.58" y1="1868.80" x2="1907.58" y2="1875.80" stroke="#000" stroke-width="2.00"/>
<line x1="1907.58" y1="1296.30" x2="1907.58" y2="1289.30" stroke="#000" stroke-width="2.00"/>
<line x1="1941.15" y1="1868.80" x2="1941.15" y2="1875.80" stroke="#000" stroke-width="2.00"/>
<line x1="1941.15" y1="1296.30" x2="1941.15" y2="1289.30" stroke="#000" stroke-width="2.00"/>
<line x1="1974.01" y1="1868.80" x2="1974.01" y2="1875.80" stroke="#000" stroke-width="2.00"/>
<line x1="1974.01" y1="1296.30" x2="1974.01" y2="1289.30" stroke="#000" stroke-width="2.00"/>
<line x1="1144.20" y1="1869.51" x2="1132.20" y2="1869.51" stroke="#000" stroke-width="3.00"/>
<line x1="1974.40" y1="1869.51" x2="1986.40" y2="1869.51" stroke="#000" stroke-width="3.00"/>
<line x1="1144.20" y1="1725.12" x2="1132.20" y2="1725.12" stroke="#000" stroke-width="3.00"/>
<line x1="1974.40" y1="1725.12" x2="1986.40" y2="1725.12" stroke="#000" stroke-width="3.00"/>
<line x1="1144.20" y1="1543.20" x2="1132.20" y2="1543.20" stroke="#000" stroke-width="3.00"/>
<line x1="1974.40" y1="1543.20" x2="1986.40" y2="1543.20" stroke="#000" stroke-width="3.00"/>
<line x1="1144.20" y1="1296.36" x2="1132.20" y2="1296.36" stroke="#000" stroke-width="3.00"/>
<line x1="1974.40" y1="1296.36" x2="1986.40" y2="1296.36" stroke="#000" stroke-width="3.00"/>
<line x1="1144.20" y1="1790.04" x2="1138.20" y2="1790.04" stroke="#000" stroke-width="2.00"/>
<line x1="1974.40" y1="1790.04" x2="1980.40" y2="1790.04" stroke="#000" stroke-width="2.00"/>
<line x1="1144.20" y1="1670.22" x2="1138.20" y2="1670.22" stroke="#000" stroke-width="2.00"/>
<line x1="1974.40" y1="1670.22" x2="1980.40" y2="1670.22" stroke="#000" stroke-width="2.00"/>
<line x1="1144.20" y1="1622.67" x2="1138.20" y2="1622.67" stroke="#000" stroke-width="2.00"/>
<line x1="1974.40" y1="1622.67" x2="1980.40" y2="1622.67" stroke="#000" stroke-width="2.00"/>
<line x1="1144.20" y1="1580.72" x2="1138.20" y2="1580.72" stroke="#000" stroke-width="2.00"/>
<line x1="1974.40" y1="1580.72" x2="1980.40" y2="1580.72" stroke="#000" stroke-width="2.00"/>
<text x="1214.55" y="1920.60" font-family='"DejaVu Serif", serif' font-size="31.00" fill="#000" textLength="51.49" lengthAdjust="spacingAndGlyphs">3.0</text>
<text x="1455.13" y="1920.60" font-family='"DejaVu Serif", serif' font-size="31.00" fill="#000" textLength="52.07" lengthAdjust="spacingAndGlyphs">3.5</text>
<text x="1664.91" y="1920.60" font-family='"DejaVu Serif", serif' font-size="31.00" fill="#000" textLength="50.10" lengthAdjust="spacingAndGlyphs">4.0</text>
<text x="1848.74" y="1920.60" font-family='"DejaVu Serif", serif' font-size="31.00" fill="#000" textLength="50.65" lengthAdjust="spacingAndGlyphs">4.5</text>
<text x="1048.96" y="1308.16" font-family='"DejaVu Serif", serif' font-size="31.00" fill="#000" textLength="70.30" lengthAdjust="spacingAndGlyphs">0.20</text>
<text x="1048.96" y="1555.00" font-family='"DejaVu Serif", serif' font-size="31.00" fill="#000" textLength="70.30" lengthAdjust="spacingAndGlyphs">0.10</text>
<text x="1048.96" y="1736.92" font-family='"DejaVu Serif", serif' font-size="31.00" fill="#000" textLength="70.30" lengthAdjust="spacingAndGlyphs">0.06</text>
<text x="1048.98" y="1881.31" font-family='"DejaVu Serif", serif' font-size="31.00" fill="#000" textLength="69.76" lengthAdjust="spacingAndGlyphs">0.04</text>
<text x="1386.24" y="1957.50" font-family='"DejaVu Serif", serif' font-size="31.00" fill="#000" textLength="346.53" lengthAdjust="spacingAndGlyphs">Rest wavelength (µm)</text>
<text x="1156.05" y="1347.00" font-family='"Liberation Sans", Arial, sans-serif' font-size="48.00" fill="#000" textLength="53.17" lengthAdjust="spacingAndGlyphs" stroke="#000" stroke-width="0.9">(c)</text>
<text x="1258.85" y="1245.10" font-family='"Liberation Serif", "Times New Roman", serif' font-size="30.00" fill="#1a7bc0" textLength="54.00" lengthAdjust="spacingAndGlyphs">H₂O</text>
<text x="1259.21" y="1280.80" font-family='"Liberation Serif", "Times New Roman", serif' font-size="30.00" fill="#1a7bc0" textLength="52.24" lengthAdjust="spacingAndGlyphs">3.05</text>
<text x="1763.53" y="1245.50" font-family='"Liberation Serif", "Times New Roman", serif' font-size="30.00" fill="#1a7bc0" textLength="52.93" lengthAdjust="spacingAndGlyphs">CO₂</text>
<text x="1763.11" y="1280.00" font-family='"Liberation Serif", "Times New Roman", serif' font-size="30.00" fill="#1a7bc0" textLength="51.22" lengthAdjust="spacingAndGlyphs">4.27</text>
<text x="1878.21" y="1245.50" font-family='"Liberation Serif", "Times New Roman", serif' font-size="30.00" fill="#1a7bc0" textLength="43.00" lengthAdjust="spacingAndGlyphs">CO</text>
<text x="1873.41" y="1280.00" font-family='"Liberation Serif", "Times New Roman", serif' font-size="30.00" fill="#1a7bc0" textLength="51.22" lengthAdjust="spacingAndGlyphs">4.67</text>
<text x="1366.33" y="1245.60" font-family='"Liberation Serif", "Times New Roman", serif' font-size="24.50" fill="#5c5c5c" textLength="40.70" lengthAdjust="spacingAndGlyphs">Pf δ</text>
<text x="1365.27" y="1276.60" font-family='"Liberation Serif", "Times New Roman", serif' font-size="24.50" fill="#5c5c5c" textLength="42.09" lengthAdjust="spacingAndGlyphs">3.30</text>
<text x="1564.03" y="1372.70" font-family='"Liberation Serif", "Times New Roman", serif' font-size="24.50" fill="#5c5c5c" textLength="39.87" lengthAdjust="spacingAndGlyphs">Pf γ</text>
<text x="1562.38" y="1396.60" font-family='"Liberation Serif", "Times New Roman", serif' font-size="24.50" fill="#5c5c5c" textLength="41.84" lengthAdjust="spacingAndGlyphs">3.74</text>
<line x1="1386.50" y1="1309.90" x2="1386.50" y2="1395.70" stroke="#888" stroke-width="1.60"/>
<line x1="1584.10" y1="1430.50" x2="1584.10" y2="1518.10" stroke="#888" stroke-width="1.60"/>
<text transform="translate(1332.40 1453.24) rotate(-90)" font-family='"Liberation Serif", "Times New Roman", serif' font-size="29.80" fill="#9b1458" textLength="99.98" lengthAdjust="spacingAndGlyphs">PAH 3.3</text>
<text transform="translate(1445.70 1551.55) rotate(-90)" font-family='"Liberation Serif", "Times New Roman", serif' font-size="29.80" fill="#9b1458" textLength="154.47" lengthAdjust="spacingAndGlyphs">Aliphatic 3.4</text>
<text transform="translate(1485.10 1602.55) rotate(-90)" font-family='"Liberation Serif", "Times New Roman", serif' font-size="29.80" fill="#9b1458" textLength="147.82" lengthAdjust="spacingAndGlyphs">Plateau 3.49</text>
<path d="M1322.1 1466 L1322.1 1512.4 L1366.5 1556.9" fill="none" stroke="#9b1458" stroke-width="1.8"/>
<line x1="1435.10" y1="1567.60" x2="1435.10" y2="1614.40" stroke="#9b1458" stroke-width="1.80"/>
<line x1="1476.40" y1="1606.50" x2="1476.40" y2="1693.00" stroke="#9b1458" stroke-width="1.80"/>
</svg></body></html>
